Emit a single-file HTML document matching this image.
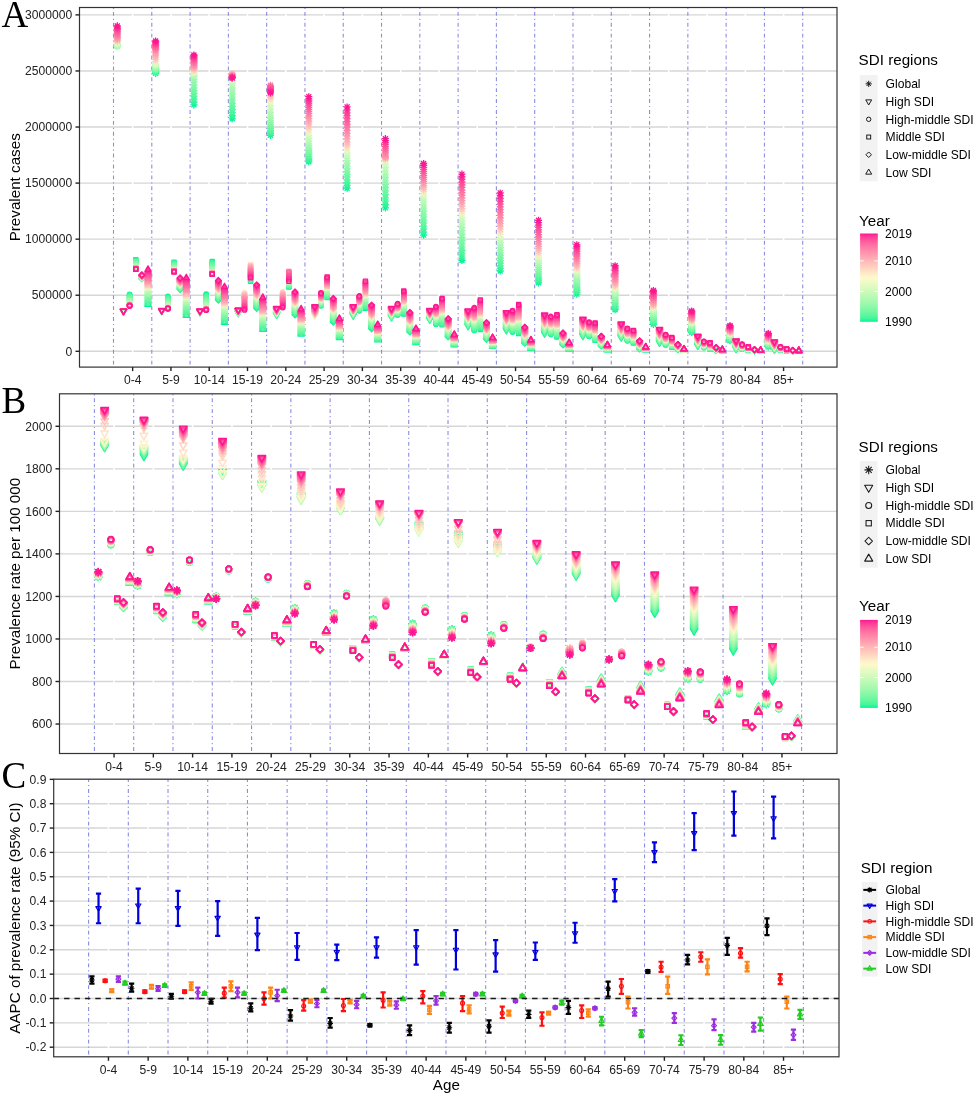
<!DOCTYPE html>
<html><head><meta charset="utf-8"><title>Figure</title><style>html,body{margin:0;padding:0;background:#fff;}svg{display:block}</style></head><body>
<svg width="975" height="1097" viewBox="0 0 975 1097">
<style>.t{font-family:"Liberation Sans",Arial,sans-serif;font-size:12.10px;fill:#222}.tt{font-family:"Liberation Sans",Arial,sans-serif;font-size:15.20px;fill:#000}.tag{font-family:"Liberation Serif","Times New Roman",serif;font-size:37px;fill:#000}.lt{font-family:"Liberation Sans",Arial,sans-serif;font-size:12.10px;fill:#000}</style>
<rect width="975" height="1097" fill="#fff"/>
<line x1="79.5" x2="837.0" y1="351.30" y2="351.30" stroke="#d6d6d6" stroke-width="1.4"/>
<line x1="79.5" x2="837.0" y1="295.23" y2="295.23" stroke="#d6d6d6" stroke-width="1.4"/>
<line x1="79.5" x2="837.0" y1="239.17" y2="239.17" stroke="#d6d6d6" stroke-width="1.4"/>
<line x1="79.5" x2="837.0" y1="183.10" y2="183.10" stroke="#d6d6d6" stroke-width="1.4"/>
<line x1="79.5" x2="837.0" y1="127.03" y2="127.03" stroke="#d6d6d6" stroke-width="1.4"/>
<line x1="79.5" x2="837.0" y1="70.97" y2="70.97" stroke="#d6d6d6" stroke-width="1.4"/>
<line x1="79.5" x2="837.0" y1="14.90" y2="14.90" stroke="#d6d6d6" stroke-width="1.4"/>
<line x1="132.65" x2="132.65" y1="7.5" y2="367.1" stroke="#fff" stroke-width="1.6"/>
<line x1="170.94" x2="170.94" y1="7.5" y2="367.1" stroke="#fff" stroke-width="1.6"/>
<line x1="209.22" x2="209.22" y1="7.5" y2="367.1" stroke="#fff" stroke-width="1.6"/>
<line x1="247.51" x2="247.51" y1="7.5" y2="367.1" stroke="#fff" stroke-width="1.6"/>
<line x1="285.81" x2="285.81" y1="7.5" y2="367.1" stroke="#fff" stroke-width="1.6"/>
<line x1="324.10" x2="324.10" y1="7.5" y2="367.1" stroke="#fff" stroke-width="1.6"/>
<line x1="362.38" x2="362.38" y1="7.5" y2="367.1" stroke="#fff" stroke-width="1.6"/>
<line x1="400.68" x2="400.68" y1="7.5" y2="367.1" stroke="#fff" stroke-width="1.6"/>
<line x1="438.96" x2="438.96" y1="7.5" y2="367.1" stroke="#fff" stroke-width="1.6"/>
<line x1="477.25" x2="477.25" y1="7.5" y2="367.1" stroke="#fff" stroke-width="1.6"/>
<line x1="515.55" x2="515.55" y1="7.5" y2="367.1" stroke="#fff" stroke-width="1.6"/>
<line x1="553.84" x2="553.84" y1="7.5" y2="367.1" stroke="#fff" stroke-width="1.6"/>
<line x1="592.12" x2="592.12" y1="7.5" y2="367.1" stroke="#fff" stroke-width="1.6"/>
<line x1="630.41" x2="630.41" y1="7.5" y2="367.1" stroke="#fff" stroke-width="1.6"/>
<line x1="668.71" x2="668.71" y1="7.5" y2="367.1" stroke="#fff" stroke-width="1.6"/>
<line x1="707.00" x2="707.00" y1="7.5" y2="367.1" stroke="#fff" stroke-width="1.6"/>
<line x1="745.28" x2="745.28" y1="7.5" y2="367.1" stroke="#fff" stroke-width="1.6"/>
<line x1="783.57" x2="783.57" y1="7.5" y2="367.1" stroke="#fff" stroke-width="1.6"/>
<line x1="113.50" x2="113.50" y1="7.5" y2="367.1" stroke="#8c8ce2" stroke-width="1.1" stroke-dasharray="3.9 2.9 1.2 2.9" stroke-dashoffset="6.5"/>
<line x1="151.79" x2="151.79" y1="7.5" y2="367.1" stroke="#8c8ce2" stroke-width="1.1" stroke-dasharray="3.9 2.9 1.2 2.9" stroke-dashoffset="6.5"/>
<line x1="190.08" x2="190.08" y1="7.5" y2="367.1" stroke="#8c8ce2" stroke-width="1.1" stroke-dasharray="3.9 2.9 1.2 2.9" stroke-dashoffset="6.5"/>
<line x1="228.37" x2="228.37" y1="7.5" y2="367.1" stroke="#8c8ce2" stroke-width="1.1" stroke-dasharray="3.9 2.9 1.2 2.9" stroke-dashoffset="6.5"/>
<line x1="266.66" x2="266.66" y1="7.5" y2="367.1" stroke="#8c8ce2" stroke-width="1.1" stroke-dasharray="3.9 2.9 1.2 2.9" stroke-dashoffset="6.5"/>
<line x1="304.95" x2="304.95" y1="7.5" y2="367.1" stroke="#8c8ce2" stroke-width="1.1" stroke-dasharray="3.9 2.9 1.2 2.9" stroke-dashoffset="6.5"/>
<line x1="343.24" x2="343.24" y1="7.5" y2="367.1" stroke="#8c8ce2" stroke-width="1.1" stroke-dasharray="3.9 2.9 1.2 2.9" stroke-dashoffset="6.5"/>
<line x1="381.53" x2="381.53" y1="7.5" y2="367.1" stroke="#8c8ce2" stroke-width="1.1" stroke-dasharray="3.9 2.9 1.2 2.9" stroke-dashoffset="6.5"/>
<line x1="419.82" x2="419.82" y1="7.5" y2="367.1" stroke="#8c8ce2" stroke-width="1.1" stroke-dasharray="3.9 2.9 1.2 2.9" stroke-dashoffset="6.5"/>
<line x1="458.11" x2="458.11" y1="7.5" y2="367.1" stroke="#8c8ce2" stroke-width="1.1" stroke-dasharray="3.9 2.9 1.2 2.9" stroke-dashoffset="6.5"/>
<line x1="496.40" x2="496.40" y1="7.5" y2="367.1" stroke="#8c8ce2" stroke-width="1.1" stroke-dasharray="3.9 2.9 1.2 2.9" stroke-dashoffset="6.5"/>
<line x1="534.69" x2="534.69" y1="7.5" y2="367.1" stroke="#8c8ce2" stroke-width="1.1" stroke-dasharray="3.9 2.9 1.2 2.9" stroke-dashoffset="6.5"/>
<line x1="572.98" x2="572.98" y1="7.5" y2="367.1" stroke="#8c8ce2" stroke-width="1.1" stroke-dasharray="3.9 2.9 1.2 2.9" stroke-dashoffset="6.5"/>
<line x1="611.27" x2="611.27" y1="7.5" y2="367.1" stroke="#8c8ce2" stroke-width="1.1" stroke-dasharray="3.9 2.9 1.2 2.9" stroke-dashoffset="6.5"/>
<line x1="649.56" x2="649.56" y1="7.5" y2="367.1" stroke="#8c8ce2" stroke-width="1.1" stroke-dasharray="3.9 2.9 1.2 2.9" stroke-dashoffset="6.5"/>
<line x1="687.85" x2="687.85" y1="7.5" y2="367.1" stroke="#8c8ce2" stroke-width="1.1" stroke-dasharray="3.9 2.9 1.2 2.9" stroke-dashoffset="6.5"/>
<line x1="726.14" x2="726.14" y1="7.5" y2="367.1" stroke="#8c8ce2" stroke-width="1.1" stroke-dasharray="3.9 2.9 1.2 2.9" stroke-dashoffset="6.5"/>
<line x1="764.43" x2="764.43" y1="7.5" y2="367.1" stroke="#8c8ce2" stroke-width="1.1" stroke-dasharray="3.9 2.9 1.2 2.9" stroke-dashoffset="6.5"/>
<line x1="802.72" x2="802.72" y1="7.5" y2="367.1" stroke="#8c8ce2" stroke-width="1.1" stroke-dasharray="3.9 2.9 1.2 2.9" stroke-dashoffset="6.5"/>
<line x1="59.5" x2="837.0" y1="724.04" y2="724.04" stroke="#d6d6d6" stroke-width="1.4"/>
<line x1="59.5" x2="837.0" y1="681.50" y2="681.50" stroke="#d6d6d6" stroke-width="1.4"/>
<line x1="59.5" x2="837.0" y1="638.97" y2="638.97" stroke="#d6d6d6" stroke-width="1.4"/>
<line x1="59.5" x2="837.0" y1="596.44" y2="596.44" stroke="#d6d6d6" stroke-width="1.4"/>
<line x1="59.5" x2="837.0" y1="553.90" y2="553.90" stroke="#d6d6d6" stroke-width="1.4"/>
<line x1="59.5" x2="837.0" y1="511.37" y2="511.37" stroke="#d6d6d6" stroke-width="1.4"/>
<line x1="59.5" x2="837.0" y1="468.83" y2="468.83" stroke="#d6d6d6" stroke-width="1.4"/>
<line x1="59.5" x2="837.0" y1="426.30" y2="426.30" stroke="#d6d6d6" stroke-width="1.4"/>
<line x1="114.05" x2="114.05" y1="393.8" y2="753.5" stroke="#fff" stroke-width="1.6"/>
<line x1="153.34" x2="153.34" y1="393.8" y2="753.5" stroke="#fff" stroke-width="1.6"/>
<line x1="192.62" x2="192.62" y1="393.8" y2="753.5" stroke="#fff" stroke-width="1.6"/>
<line x1="231.91" x2="231.91" y1="393.8" y2="753.5" stroke="#fff" stroke-width="1.6"/>
<line x1="271.21" x2="271.21" y1="393.8" y2="753.5" stroke="#fff" stroke-width="1.6"/>
<line x1="310.50" x2="310.50" y1="393.8" y2="753.5" stroke="#fff" stroke-width="1.6"/>
<line x1="349.78" x2="349.78" y1="393.8" y2="753.5" stroke="#fff" stroke-width="1.6"/>
<line x1="389.08" x2="389.08" y1="393.8" y2="753.5" stroke="#fff" stroke-width="1.6"/>
<line x1="428.37" x2="428.37" y1="393.8" y2="753.5" stroke="#fff" stroke-width="1.6"/>
<line x1="467.65" x2="467.65" y1="393.8" y2="753.5" stroke="#fff" stroke-width="1.6"/>
<line x1="506.95" x2="506.95" y1="393.8" y2="753.5" stroke="#fff" stroke-width="1.6"/>
<line x1="546.24" x2="546.24" y1="393.8" y2="753.5" stroke="#fff" stroke-width="1.6"/>
<line x1="585.52" x2="585.52" y1="393.8" y2="753.5" stroke="#fff" stroke-width="1.6"/>
<line x1="624.81" x2="624.81" y1="393.8" y2="753.5" stroke="#fff" stroke-width="1.6"/>
<line x1="664.11" x2="664.11" y1="393.8" y2="753.5" stroke="#fff" stroke-width="1.6"/>
<line x1="703.39" x2="703.39" y1="393.8" y2="753.5" stroke="#fff" stroke-width="1.6"/>
<line x1="742.68" x2="742.68" y1="393.8" y2="753.5" stroke="#fff" stroke-width="1.6"/>
<line x1="781.97" x2="781.97" y1="393.8" y2="753.5" stroke="#fff" stroke-width="1.6"/>
<line x1="94.40" x2="94.40" y1="393.8" y2="753.5" stroke="#8c8ce2" stroke-width="1.1" stroke-dasharray="3.9 2.9 1.2 2.9" stroke-dashoffset="6.4"/>
<line x1="133.69" x2="133.69" y1="393.8" y2="753.5" stroke="#8c8ce2" stroke-width="1.1" stroke-dasharray="3.9 2.9 1.2 2.9" stroke-dashoffset="6.4"/>
<line x1="172.98" x2="172.98" y1="393.8" y2="753.5" stroke="#8c8ce2" stroke-width="1.1" stroke-dasharray="3.9 2.9 1.2 2.9" stroke-dashoffset="6.4"/>
<line x1="212.27" x2="212.27" y1="393.8" y2="753.5" stroke="#8c8ce2" stroke-width="1.1" stroke-dasharray="3.9 2.9 1.2 2.9" stroke-dashoffset="6.4"/>
<line x1="251.56" x2="251.56" y1="393.8" y2="753.5" stroke="#8c8ce2" stroke-width="1.1" stroke-dasharray="3.9 2.9 1.2 2.9" stroke-dashoffset="6.4"/>
<line x1="290.85" x2="290.85" y1="393.8" y2="753.5" stroke="#8c8ce2" stroke-width="1.1" stroke-dasharray="3.9 2.9 1.2 2.9" stroke-dashoffset="6.4"/>
<line x1="330.14" x2="330.14" y1="393.8" y2="753.5" stroke="#8c8ce2" stroke-width="1.1" stroke-dasharray="3.9 2.9 1.2 2.9" stroke-dashoffset="6.4"/>
<line x1="369.43" x2="369.43" y1="393.8" y2="753.5" stroke="#8c8ce2" stroke-width="1.1" stroke-dasharray="3.9 2.9 1.2 2.9" stroke-dashoffset="6.4"/>
<line x1="408.72" x2="408.72" y1="393.8" y2="753.5" stroke="#8c8ce2" stroke-width="1.1" stroke-dasharray="3.9 2.9 1.2 2.9" stroke-dashoffset="6.4"/>
<line x1="448.01" x2="448.01" y1="393.8" y2="753.5" stroke="#8c8ce2" stroke-width="1.1" stroke-dasharray="3.9 2.9 1.2 2.9" stroke-dashoffset="6.4"/>
<line x1="487.30" x2="487.30" y1="393.8" y2="753.5" stroke="#8c8ce2" stroke-width="1.1" stroke-dasharray="3.9 2.9 1.2 2.9" stroke-dashoffset="6.4"/>
<line x1="526.59" x2="526.59" y1="393.8" y2="753.5" stroke="#8c8ce2" stroke-width="1.1" stroke-dasharray="3.9 2.9 1.2 2.9" stroke-dashoffset="6.4"/>
<line x1="565.88" x2="565.88" y1="393.8" y2="753.5" stroke="#8c8ce2" stroke-width="1.1" stroke-dasharray="3.9 2.9 1.2 2.9" stroke-dashoffset="6.4"/>
<line x1="605.17" x2="605.17" y1="393.8" y2="753.5" stroke="#8c8ce2" stroke-width="1.1" stroke-dasharray="3.9 2.9 1.2 2.9" stroke-dashoffset="6.4"/>
<line x1="644.46" x2="644.46" y1="393.8" y2="753.5" stroke="#8c8ce2" stroke-width="1.1" stroke-dasharray="3.9 2.9 1.2 2.9" stroke-dashoffset="6.4"/>
<line x1="683.75" x2="683.75" y1="393.8" y2="753.5" stroke="#8c8ce2" stroke-width="1.1" stroke-dasharray="3.9 2.9 1.2 2.9" stroke-dashoffset="6.4"/>
<line x1="723.04" x2="723.04" y1="393.8" y2="753.5" stroke="#8c8ce2" stroke-width="1.1" stroke-dasharray="3.9 2.9 1.2 2.9" stroke-dashoffset="6.4"/>
<line x1="762.33" x2="762.33" y1="393.8" y2="753.5" stroke="#8c8ce2" stroke-width="1.1" stroke-dasharray="3.9 2.9 1.2 2.9" stroke-dashoffset="6.4"/>
<line x1="801.62" x2="801.62" y1="393.8" y2="753.5" stroke="#8c8ce2" stroke-width="1.1" stroke-dasharray="3.9 2.9 1.2 2.9" stroke-dashoffset="6.4"/>
<line x1="53.7" x2="839.0" y1="1047.20" y2="1047.20" stroke="#d6d6d6" stroke-width="1.4"/>
<line x1="53.7" x2="839.0" y1="1022.85" y2="1022.85" stroke="#d6d6d6" stroke-width="1.4"/>
<line x1="53.7" x2="839.0" y1="998.50" y2="998.50" stroke="#d6d6d6" stroke-width="1.4"/>
<line x1="53.7" x2="839.0" y1="974.15" y2="974.15" stroke="#d6d6d6" stroke-width="1.4"/>
<line x1="53.7" x2="839.0" y1="949.80" y2="949.80" stroke="#d6d6d6" stroke-width="1.4"/>
<line x1="53.7" x2="839.0" y1="925.45" y2="925.45" stroke="#d6d6d6" stroke-width="1.4"/>
<line x1="53.7" x2="839.0" y1="901.10" y2="901.10" stroke="#d6d6d6" stroke-width="1.4"/>
<line x1="53.7" x2="839.0" y1="876.75" y2="876.75" stroke="#d6d6d6" stroke-width="1.4"/>
<line x1="53.7" x2="839.0" y1="852.40" y2="852.40" stroke="#d6d6d6" stroke-width="1.4"/>
<line x1="53.7" x2="839.0" y1="828.05" y2="828.05" stroke="#d6d6d6" stroke-width="1.4"/>
<line x1="53.7" x2="839.0" y1="803.70" y2="803.70" stroke="#d6d6d6" stroke-width="1.4"/>
<line x1="53.7" x2="839.0" y1="779.35" y2="779.35" stroke="#d6d6d6" stroke-width="1.4"/>
<line x1="108.45" x2="108.45" y1="779.2" y2="1056.8" stroke="#fff" stroke-width="1.6"/>
<line x1="148.16" x2="148.16" y1="779.2" y2="1056.8" stroke="#fff" stroke-width="1.6"/>
<line x1="187.88" x2="187.88" y1="779.2" y2="1056.8" stroke="#fff" stroke-width="1.6"/>
<line x1="227.59" x2="227.59" y1="779.2" y2="1056.8" stroke="#fff" stroke-width="1.6"/>
<line x1="267.29" x2="267.29" y1="779.2" y2="1056.8" stroke="#fff" stroke-width="1.6"/>
<line x1="307.00" x2="307.00" y1="779.2" y2="1056.8" stroke="#fff" stroke-width="1.6"/>
<line x1="346.72" x2="346.72" y1="779.2" y2="1056.8" stroke="#fff" stroke-width="1.6"/>
<line x1="386.42" x2="386.42" y1="779.2" y2="1056.8" stroke="#fff" stroke-width="1.6"/>
<line x1="426.13" x2="426.13" y1="779.2" y2="1056.8" stroke="#fff" stroke-width="1.6"/>
<line x1="465.85" x2="465.85" y1="779.2" y2="1056.8" stroke="#fff" stroke-width="1.6"/>
<line x1="505.55" x2="505.55" y1="779.2" y2="1056.8" stroke="#fff" stroke-width="1.6"/>
<line x1="545.26" x2="545.26" y1="779.2" y2="1056.8" stroke="#fff" stroke-width="1.6"/>
<line x1="584.98" x2="584.98" y1="779.2" y2="1056.8" stroke="#fff" stroke-width="1.6"/>
<line x1="624.69" x2="624.69" y1="779.2" y2="1056.8" stroke="#fff" stroke-width="1.6"/>
<line x1="664.39" x2="664.39" y1="779.2" y2="1056.8" stroke="#fff" stroke-width="1.6"/>
<line x1="704.11" x2="704.11" y1="779.2" y2="1056.8" stroke="#fff" stroke-width="1.6"/>
<line x1="743.82" x2="743.82" y1="779.2" y2="1056.8" stroke="#fff" stroke-width="1.6"/>
<line x1="783.53" x2="783.53" y1="779.2" y2="1056.8" stroke="#fff" stroke-width="1.6"/>
<line x1="88.60" x2="88.60" y1="779.2" y2="1056.8" stroke="#8c8ce2" stroke-width="1.1" stroke-dasharray="3.9 2.9 1.2 2.9" stroke-dashoffset="1.1"/>
<line x1="128.31" x2="128.31" y1="779.2" y2="1056.8" stroke="#8c8ce2" stroke-width="1.1" stroke-dasharray="3.9 2.9 1.2 2.9" stroke-dashoffset="1.1"/>
<line x1="168.02" x2="168.02" y1="779.2" y2="1056.8" stroke="#8c8ce2" stroke-width="1.1" stroke-dasharray="3.9 2.9 1.2 2.9" stroke-dashoffset="1.1"/>
<line x1="207.73" x2="207.73" y1="779.2" y2="1056.8" stroke="#8c8ce2" stroke-width="1.1" stroke-dasharray="3.9 2.9 1.2 2.9" stroke-dashoffset="1.1"/>
<line x1="247.44" x2="247.44" y1="779.2" y2="1056.8" stroke="#8c8ce2" stroke-width="1.1" stroke-dasharray="3.9 2.9 1.2 2.9" stroke-dashoffset="1.1"/>
<line x1="287.15" x2="287.15" y1="779.2" y2="1056.8" stroke="#8c8ce2" stroke-width="1.1" stroke-dasharray="3.9 2.9 1.2 2.9" stroke-dashoffset="1.1"/>
<line x1="326.86" x2="326.86" y1="779.2" y2="1056.8" stroke="#8c8ce2" stroke-width="1.1" stroke-dasharray="3.9 2.9 1.2 2.9" stroke-dashoffset="1.1"/>
<line x1="366.57" x2="366.57" y1="779.2" y2="1056.8" stroke="#8c8ce2" stroke-width="1.1" stroke-dasharray="3.9 2.9 1.2 2.9" stroke-dashoffset="1.1"/>
<line x1="406.28" x2="406.28" y1="779.2" y2="1056.8" stroke="#8c8ce2" stroke-width="1.1" stroke-dasharray="3.9 2.9 1.2 2.9" stroke-dashoffset="1.1"/>
<line x1="445.99" x2="445.99" y1="779.2" y2="1056.8" stroke="#8c8ce2" stroke-width="1.1" stroke-dasharray="3.9 2.9 1.2 2.9" stroke-dashoffset="1.1"/>
<line x1="485.70" x2="485.70" y1="779.2" y2="1056.8" stroke="#8c8ce2" stroke-width="1.1" stroke-dasharray="3.9 2.9 1.2 2.9" stroke-dashoffset="1.1"/>
<line x1="525.41" x2="525.41" y1="779.2" y2="1056.8" stroke="#8c8ce2" stroke-width="1.1" stroke-dasharray="3.9 2.9 1.2 2.9" stroke-dashoffset="1.1"/>
<line x1="565.12" x2="565.12" y1="779.2" y2="1056.8" stroke="#8c8ce2" stroke-width="1.1" stroke-dasharray="3.9 2.9 1.2 2.9" stroke-dashoffset="1.1"/>
<line x1="604.83" x2="604.83" y1="779.2" y2="1056.8" stroke="#8c8ce2" stroke-width="1.1" stroke-dasharray="3.9 2.9 1.2 2.9" stroke-dashoffset="1.1"/>
<line x1="644.54" x2="644.54" y1="779.2" y2="1056.8" stroke="#8c8ce2" stroke-width="1.1" stroke-dasharray="3.9 2.9 1.2 2.9" stroke-dashoffset="1.1"/>
<line x1="684.25" x2="684.25" y1="779.2" y2="1056.8" stroke="#8c8ce2" stroke-width="1.1" stroke-dasharray="3.9 2.9 1.2 2.9" stroke-dashoffset="1.1"/>
<line x1="723.96" x2="723.96" y1="779.2" y2="1056.8" stroke="#8c8ce2" stroke-width="1.1" stroke-dasharray="3.9 2.9 1.2 2.9" stroke-dashoffset="1.1"/>
<line x1="763.67" x2="763.67" y1="779.2" y2="1056.8" stroke="#8c8ce2" stroke-width="1.1" stroke-dasharray="3.9 2.9 1.2 2.9" stroke-dashoffset="1.1"/>
<line x1="803.38" x2="803.38" y1="779.2" y2="1056.8" stroke="#8c8ce2" stroke-width="1.1" stroke-dasharray="3.9 2.9 1.2 2.9" stroke-dashoffset="1.1"/>
<g fill="none" stroke="#00f596" stroke-width="1.3" stroke-linejoin="round">
<path d="M114.8 41.5l5 5m0 -5l-5 5M113.8 44.1h7.1M117.3 40.5v7.1M153.1 70.9l5 5m0 -5l-5 5M152.1 73.5h7.1M155.6 69.9v7.1M191.4 102.3l5 5m0 -5l-5 5M190.4 104.8h7.1M193.9 101.3v7.1M229.7 116.2l5 5m0 -5l-5 5M228.7 118.8h7.1M232.2 115.2v7.1M268 132.8l5 5m0 -5l-5 5M266.9 135.3h7.1M270.5 131.8v7.1M306.3 159.3l5 5m0 -5l-5 5M305.2 161.8h7.1M308.8 158.3v7.1M344.6 185.7l5 5m0 -5l-5 5M343.5 188.2h7.1M347.1 184.6v7.1M382.9 205.4l5 5m0 -5l-5 5M381.8 207.9h7.1M385.4 204.4v7.1M421.1 232.6l5 5m0 -5l-5 5M420.1 235.1h7.1M423.6 231.6v7.1M459.4 258l5 5m0 -5l-5 5M458.4 260.5h7.1M461.9 256.9v7.1M497.7 268.5l5 5m0 -5l-5 5M496.7 271h7.1M500.2 267.5v7.1M536 280.3l5 5m0 -5l-5 5M535 282.8h7.1M538.5 279.3v7.1M574.3 291.6l5 5m0 -5l-5 5M573.3 294.1h7.1M576.8 290.6v7.1M612.6 307.2l5 5m0 -5l-5 5M611.6 309.7h7.1M615.1 306.2v7.1M650.9 321.9l5 5m0 -5l-5 5M649.8 324.4h7.1M653.4 320.9v7.1M689.2 330.1l5 5m0 -5l-5 5M688.1 332.6h7.1M691.7 329v7.1M727.5 338.3l5 5m0 -5l-5 5M726.4 340.8h7.1M730 337.2v7.1M765.8 344.4l5 5m0 -5l-5 5M764.7 346.9h7.1M768.3 343.4v7.1"/>
<path d="M123.5 315.1l3.1 -5.4h-6.2zM161.7 314.5l3.1 -5.4h-6.2zM200 315.6l3.1 -5.4h-6.2zM238.3 316.8l3.1 -5.4h-6.2zM276.6 318.4l3.1 -5.4h-6.2zM314.9 316.8l3.1 -5.4h-6.2zM353.2 319.2l3.1 -5.4h-6.2zM391.5 320.9l3.1 -5.4h-6.2zM429.8 323.3l3.1 -5.4h-6.2zM468.1 329.9l3.1 -5.4h-6.2zM506.4 334l3.1 -5.4h-6.2zM544.6 337.3l3.1 -5.4h-6.2zM582.9 339.7l3.1 -5.4h-6.2zM621.2 341.3l3.1 -5.4h-6.2zM659.5 346.4l3.1 -5.4h-6.2zM697.8 349.5l3.1 -5.4h-6.2zM736.1 352.6l3.1 -5.4h-6.2zM774.4 353.5l3.1 -5.4h-6.2z"/>
<path d="M127.3 294.4a2.3 2.3 0 1 0 4.6 0a2.3 2.3 0 1 0 -4.6 0M165.6 296.4a2.3 2.3 0 1 0 4.6 0a2.3 2.3 0 1 0 -4.6 0M203.9 294.3a2.3 2.3 0 1 0 4.6 0a2.3 2.3 0 1 0 -4.6 0M242.2 297.5a2.3 2.3 0 1 0 4.6 0a2.3 2.3 0 1 0 -4.6 0M280.4 302a2.3 2.3 0 1 0 4.6 0a2.3 2.3 0 1 0 -4.6 0M318.7 305.8a2.3 2.3 0 1 0 4.6 0a2.3 2.3 0 1 0 -4.6 0M357 310.7a2.3 2.3 0 1 0 4.6 0a2.3 2.3 0 1 0 -4.6 0M395.3 314.9a2.3 2.3 0 1 0 4.6 0a2.3 2.3 0 1 0 -4.6 0M433.6 324.2a2.3 2.3 0 1 0 4.6 0a2.3 2.3 0 1 0 -4.6 0M471.9 330.4a2.3 2.3 0 1 0 4.6 0a2.3 2.3 0 1 0 -4.6 0M510.2 332a2.3 2.3 0 1 0 4.6 0a2.3 2.3 0 1 0 -4.6 0M548.5 334.5a2.3 2.3 0 1 0 4.6 0a2.3 2.3 0 1 0 -4.6 0M586.8 336.2a2.3 2.3 0 1 0 4.6 0a2.3 2.3 0 1 0 -4.6 0M625.1 340.8a2.3 2.3 0 1 0 4.6 0a2.3 2.3 0 1 0 -4.6 0M663.3 344.9a2.3 2.3 0 1 0 4.6 0a2.3 2.3 0 1 0 -4.6 0M701.6 347.5a2.3 2.3 0 1 0 4.6 0a2.3 2.3 0 1 0 -4.6 0M739.9 349.1a2.3 2.3 0 1 0 4.6 0a2.3 2.3 0 1 0 -4.6 0M778.2 350.2a2.3 2.3 0 1 0 4.6 0a2.3 2.3 0 1 0 -4.6 0"/>
<path d="M133.7 257.6h4.1v4.1h-4.1zM172 260.2h4.1v4.1h-4.1zM210.2 259.5h4.1v4.1h-4.1zM248.5 279.2h4.1v4.1h-4.1zM286.8 284.9h4.1v4.1h-4.1zM325.1 295.5h4.1v4.1h-4.1zM363.4 306.2h4.1v4.1h-4.1zM401.7 312h4.1v4.1h-4.1zM440 322.7h4.1v4.1h-4.1zM478.3 327.6h4.1v4.1h-4.1zM516.6 331.6h4.1v4.1h-4.1zM554.9 335h4.1v4.1h-4.1zM593.1 338.3h4.1v4.1h-4.1zM631.4 340.9h4.1v4.1h-4.1zM669.7 345.2h4.1v4.1h-4.1zM708 347.2h4.1v4.1h-4.1zM746.3 348.4h4.1v4.1h-4.1zM784.6 348.7h4.1v4.1h-4.1z"/>
<path d="M139 278.7l2.9 -2.9 2.9 2.9 -2.9 2.9zM177.2 289.4l2.9 -2.9 2.9 2.9 -2.9 2.9zM215.5 300.1l2.9 -2.9 2.9 2.9 -2.9 2.9zM253.8 308.4l2.9 -2.9 2.9 2.9 -2.9 2.9zM292.1 314.9l2.9 -2.9 2.9 2.9 -2.9 2.9zM330.4 322.1l2.9 -2.9 2.9 2.9 -2.9 2.9zM368.7 328.8l2.9 -2.9 2.9 2.9 -2.9 2.9zM407 332l2.9 -2.9 2.9 2.9 -2.9 2.9zM445.3 336.9l2.9 -2.9 2.9 2.9 -2.9 2.9zM483.6 339.4l2.9 -2.9 2.9 2.9 -2.9 2.9zM521.9 343.2l2.9 -2.9 2.9 2.9 -2.9 2.9zM560.1 344.8l2.9 -2.9 2.9 2.9 -2.9 2.9zM598.4 346l2.9 -2.9 2.9 2.9 -2.9 2.9zM636.7 348.9l2.9 -2.9 2.9 2.9 -2.9 2.9zM675 349.6l2.9 -2.9 2.9 2.9 -2.9 2.9zM713.3 350.4l2.9 -2.9 2.9 2.9 -2.9 2.9zM751.6 350.9l2.9 -2.9 2.9 2.9 -2.9 2.9zM789.9 351.1l2.9 -2.9 2.9 2.9 -2.9 2.9z"/>
<path d="M148 301l3.1 5.4h-6.2zM186.3 312l3.1 5.4h-6.2zM224.5 319.3l3.1 5.4h-6.2zM262.8 325.9l3.1 5.4h-6.2zM301.1 330.7l3.1 5.4h-6.2zM339.4 334.1l3.1 5.4h-6.2zM377.7 336.5l3.1 5.4h-6.2zM416 339.3l3.1 5.4h-6.2zM454.3 341.5l3.1 5.4h-6.2zM492.6 343l3.1 5.4h-6.2zM530.9 344.9l3.1 5.4h-6.2zM569.2 345.7l3.1 5.4h-6.2zM607.4 346.5l3.1 5.4h-6.2zM645.7 346.4l3.1 5.4h-6.2zM684 346.8l3.1 5.4h-6.2zM722.3 347.2l3.1 5.4h-6.2zM760.6 347.4l3.1 5.4h-6.2zM798.9 347.5l3.1 5.4h-6.2z"/>
</g>
<g fill="none" stroke="#2df598" stroke-width="1.3" stroke-linejoin="round">
<path d="M114.8 41.8l5 5m0 -5l-5 5M113.8 44.3h7.1M117.3 40.8v7.1M153.1 70.3l5 5m0 -5l-5 5M152.1 72.8h7.1M155.6 69.2v7.1M191.4 99.5l5 5m0 -5l-5 5M190.4 102h7.1M193.9 98.5v7.1M229.7 113.2l5 5m0 -5l-5 5M228.7 115.7h7.1M232.2 112.1v7.1M268 131.2l5 5m0 -5l-5 5M266.9 133.7h7.1M270.5 130.1v7.1M306.3 157.5l5 5m0 -5l-5 5M305.2 160h7.1M308.8 156.5v7.1M344.6 182.9l5 5m0 -5l-5 5M343.5 185.4h7.1M347.1 181.9v7.1M382.9 202l5 5m0 -5l-5 5M381.8 204.5h7.1M385.4 201v7.1M421.1 229.6l5 5m0 -5l-5 5M420.1 232.2h7.1M423.6 228.6v7.1M459.4 254.7l5 5m0 -5l-5 5M458.4 257.2h7.1M461.9 253.6v7.1M497.7 265.9l5 5m0 -5l-5 5M496.7 268.4h7.1M500.2 264.9v7.1M536 278.4l5 5m0 -5l-5 5M535 280.9h7.1M538.5 277.3v7.1M574.3 289.9l5 5m0 -5l-5 5M573.3 292.4h7.1M576.8 288.9v7.1M612.6 305.7l5 5m0 -5l-5 5M611.6 308.2h7.1M615.1 304.7v7.1M650.9 320.7l5 5m0 -5l-5 5M649.8 323.2h7.1M653.4 319.7v7.1M689.2 329.3l5 5m0 -5l-5 5M688.1 331.8h7.1M691.7 328.3v7.1M727.5 337.8l5 5m0 -5l-5 5M726.4 340.3h7.1M730 336.7v7.1M765.8 344l5 5m0 -5l-5 5M764.7 346.5h7.1M768.3 342.9v7.1"/>
<path d="M123.5 315.1l3.1 -5.4h-6.2zM161.7 314.5l3.1 -5.4h-6.2zM200 315.6l3.1 -5.4h-6.2zM238.3 316.6l3.1 -5.4h-6.2zM276.6 318.2l3.1 -5.4h-6.2zM314.9 316.9l3.1 -5.4h-6.2zM353.2 318.9l3.1 -5.4h-6.2zM391.5 320.6l3.1 -5.4h-6.2zM429.8 322.9l3.1 -5.4h-6.2zM468.1 329.3l3.1 -5.4h-6.2zM506.4 333.4l3.1 -5.4h-6.2zM544.6 336.6l3.1 -5.4h-6.2zM582.9 339.1l3.1 -5.4h-6.2zM621.2 340.8l3.1 -5.4h-6.2zM659.5 345.9l3.1 -5.4h-6.2zM697.8 349.2l3.1 -5.4h-6.2zM736.1 352.3l3.1 -5.4h-6.2zM774.4 353.2l3.1 -5.4h-6.2z"/>
<path d="M127.3 295.2a2.3 2.3 0 1 0 4.6 0a2.3 2.3 0 1 0 -4.6 0M165.6 297.2a2.3 2.3 0 1 0 4.6 0a2.3 2.3 0 1 0 -4.6 0M203.9 295.4a2.3 2.3 0 1 0 4.6 0a2.3 2.3 0 1 0 -4.6 0M242.2 297.2a2.3 2.3 0 1 0 4.6 0a2.3 2.3 0 1 0 -4.6 0M280.4 301.3a2.3 2.3 0 1 0 4.6 0a2.3 2.3 0 1 0 -4.6 0M318.7 305.3a2.3 2.3 0 1 0 4.6 0a2.3 2.3 0 1 0 -4.6 0M357 310.2a2.3 2.3 0 1 0 4.6 0a2.3 2.3 0 1 0 -4.6 0M395.3 314.5a2.3 2.3 0 1 0 4.6 0a2.3 2.3 0 1 0 -4.6 0M433.6 323.6a2.3 2.3 0 1 0 4.6 0a2.3 2.3 0 1 0 -4.6 0M471.9 329.7a2.3 2.3 0 1 0 4.6 0a2.3 2.3 0 1 0 -4.6 0M510.2 331.3a2.3 2.3 0 1 0 4.6 0a2.3 2.3 0 1 0 -4.6 0M548.5 333.9a2.3 2.3 0 1 0 4.6 0a2.3 2.3 0 1 0 -4.6 0M586.8 335.7a2.3 2.3 0 1 0 4.6 0a2.3 2.3 0 1 0 -4.6 0M625.1 340.3a2.3 2.3 0 1 0 4.6 0a2.3 2.3 0 1 0 -4.6 0M663.3 344.6a2.3 2.3 0 1 0 4.6 0a2.3 2.3 0 1 0 -4.6 0M701.6 347.3a2.3 2.3 0 1 0 4.6 0a2.3 2.3 0 1 0 -4.6 0M739.9 348.9a2.3 2.3 0 1 0 4.6 0a2.3 2.3 0 1 0 -4.6 0M778.2 350.1a2.3 2.3 0 1 0 4.6 0a2.3 2.3 0 1 0 -4.6 0"/>
<path d="M133.7 258.3h4.1v4.1h-4.1zM172 260.9h4.1v4.1h-4.1zM210.2 260.4h4.1v4.1h-4.1zM248.5 278.1h4.1v4.1h-4.1zM286.8 284.4h4.1v4.1h-4.1zM325.1 294.8h4.1v4.1h-4.1zM363.4 305.3h4.1v4.1h-4.1zM401.7 311.2h4.1v4.1h-4.1zM440 321.8h4.1v4.1h-4.1zM478.3 326.6h4.1v4.1h-4.1zM516.6 330.6h4.1v4.1h-4.1zM554.9 334.2h4.1v4.1h-4.1zM593.1 337.7h4.1v4.1h-4.1zM631.4 340.5h4.1v4.1h-4.1zM669.7 344.9h4.1v4.1h-4.1zM708 347h4.1v4.1h-4.1zM746.3 348.2h4.1v4.1h-4.1zM784.6 348.6h4.1v4.1h-4.1z"/>
<path d="M139 278.6l2.9 -2.9 2.9 2.9 -2.9 2.9zM177.2 289l2.9 -2.9 2.9 2.9 -2.9 2.9zM215.5 299.4l2.9 -2.9 2.9 2.9 -2.9 2.9zM253.8 307.5l2.9 -2.9 2.9 2.9 -2.9 2.9zM292.1 314.1l2.9 -2.9 2.9 2.9 -2.9 2.9zM330.4 321.3l2.9 -2.9 2.9 2.9 -2.9 2.9zM368.7 327.9l2.9 -2.9 2.9 2.9 -2.9 2.9zM407 331.3l2.9 -2.9 2.9 2.9 -2.9 2.9zM445.3 336.3l2.9 -2.9 2.9 2.9 -2.9 2.9zM483.6 338.8l2.9 -2.9 2.9 2.9 -2.9 2.9zM521.9 342.7l2.9 -2.9 2.9 2.9 -2.9 2.9zM560.1 344.4l2.9 -2.9 2.9 2.9 -2.9 2.9zM598.4 345.7l2.9 -2.9 2.9 2.9 -2.9 2.9zM636.7 348.7l2.9 -2.9 2.9 2.9 -2.9 2.9zM675 349.4l2.9 -2.9 2.9 2.9 -2.9 2.9zM713.3 350.3l2.9 -2.9 2.9 2.9 -2.9 2.9zM751.6 350.8l2.9 -2.9 2.9 2.9 -2.9 2.9zM789.9 351.1l2.9 -2.9 2.9 2.9 -2.9 2.9z"/>
<path d="M148 299.8l3.1 5.4h-6.2zM186.3 310.7l3.1 5.4h-6.2zM224.5 318l3.1 5.4h-6.2zM262.8 324.8l3.1 5.4h-6.2zM301.1 329.8l3.1 5.4h-6.2zM339.4 333.4l3.1 5.4h-6.2zM377.7 336l3.1 5.4h-6.2zM416 338.8l3.1 5.4h-6.2zM454.3 341.1l3.1 5.4h-6.2zM492.6 342.7l3.1 5.4h-6.2zM530.9 344.6l3.1 5.4h-6.2zM569.2 345.5l3.1 5.4h-6.2zM607.4 346.3l3.1 5.4h-6.2zM645.7 346.3l3.1 5.4h-6.2zM684 346.8l3.1 5.4h-6.2zM722.3 347.1l3.1 5.4h-6.2zM760.6 347.4l3.1 5.4h-6.2zM798.9 347.5l3.1 5.4h-6.2z"/>
</g>
<g fill="none" stroke="#42f69a" stroke-width="1.3" stroke-linejoin="round">
<path d="M114.8 42l5 5m0 -5l-5 5M113.8 44.6h7.1M117.3 41v7.1M153.1 69.6l5 5m0 -5l-5 5M152.1 72.1h7.1M155.6 68.6v7.1M191.4 96.7l5 5m0 -5l-5 5M190.4 99.2h7.1M193.9 95.6v7.1M229.7 110.1l5 5m0 -5l-5 5M228.7 112.6h7.1M232.2 109v7.1M268 129.5l5 5m0 -5l-5 5M266.9 132h7.1M270.5 128.5v7.1M306.3 155.7l5 5m0 -5l-5 5M305.2 158.2h7.1M308.8 154.7v7.1M344.6 180.2l5 5m0 -5l-5 5M343.5 182.7h7.1M347.1 179.1v7.1M382.9 198.6l5 5m0 -5l-5 5M381.8 201.2h7.1M385.4 197.6v7.1M421.1 226.6l5 5m0 -5l-5 5M420.1 229.2h7.1M423.6 225.6v7.1M459.4 251.3l5 5m0 -5l-5 5M458.4 253.9h7.1M461.9 250.3v7.1M497.7 263.3l5 5m0 -5l-5 5M496.7 265.8h7.1M500.2 262.3v7.1M536 276.5l5 5m0 -5l-5 5M535 279h7.1M538.5 275.4v7.1M574.3 288.2l5 5m0 -5l-5 5M573.3 290.7h7.1M576.8 287.2v7.1M612.6 304.2l5 5m0 -5l-5 5M611.6 306.7h7.1M615.1 303.1v7.1M650.9 319.6l5 5m0 -5l-5 5M649.8 322.1h7.1M653.4 318.5v7.1M689.2 328.6l5 5m0 -5l-5 5M688.1 331.1h7.1M691.7 327.6v7.1M727.5 337.2l5 5m0 -5l-5 5M726.4 339.7h7.1M730 336.2v7.1M765.8 343.5l5 5m0 -5l-5 5M764.7 346h7.1M768.3 342.5v7.1"/>
<path d="M123.5 315l3.1 -5.4h-6.2zM161.7 314.5l3.1 -5.4h-6.2zM200 315.6l3.1 -5.4h-6.2zM238.3 316.5l3.1 -5.4h-6.2zM276.6 318l3.1 -5.4h-6.2zM314.9 317.1l3.1 -5.4h-6.2zM353.2 318.6l3.1 -5.4h-6.2zM391.5 320.3l3.1 -5.4h-6.2zM429.8 322.6l3.1 -5.4h-6.2zM468.1 328.8l3.1 -5.4h-6.2zM506.4 332.8l3.1 -5.4h-6.2zM544.6 336l3.1 -5.4h-6.2zM582.9 338.5l3.1 -5.4h-6.2zM621.2 340.3l3.1 -5.4h-6.2zM659.5 345.4l3.1 -5.4h-6.2zM697.8 348.8l3.1 -5.4h-6.2zM736.1 352.1l3.1 -5.4h-6.2zM774.4 353l3.1 -5.4h-6.2z"/>
<path d="M127.3 295.9a2.3 2.3 0 1 0 4.6 0a2.3 2.3 0 1 0 -4.6 0M165.6 298a2.3 2.3 0 1 0 4.6 0a2.3 2.3 0 1 0 -4.6 0M203.9 296.5a2.3 2.3 0 1 0 4.6 0a2.3 2.3 0 1 0 -4.6 0M242.2 296.9a2.3 2.3 0 1 0 4.6 0a2.3 2.3 0 1 0 -4.6 0M280.4 300.6a2.3 2.3 0 1 0 4.6 0a2.3 2.3 0 1 0 -4.6 0M318.7 304.9a2.3 2.3 0 1 0 4.6 0a2.3 2.3 0 1 0 -4.6 0M357 309.7a2.3 2.3 0 1 0 4.6 0a2.3 2.3 0 1 0 -4.6 0M395.3 314.1a2.3 2.3 0 1 0 4.6 0a2.3 2.3 0 1 0 -4.6 0M433.6 322.9a2.3 2.3 0 1 0 4.6 0a2.3 2.3 0 1 0 -4.6 0M471.9 328.9a2.3 2.3 0 1 0 4.6 0a2.3 2.3 0 1 0 -4.6 0M510.2 330.5a2.3 2.3 0 1 0 4.6 0a2.3 2.3 0 1 0 -4.6 0M548.5 333.2a2.3 2.3 0 1 0 4.6 0a2.3 2.3 0 1 0 -4.6 0M586.8 335.2a2.3 2.3 0 1 0 4.6 0a2.3 2.3 0 1 0 -4.6 0M625.1 339.9a2.3 2.3 0 1 0 4.6 0a2.3 2.3 0 1 0 -4.6 0M663.3 344.2a2.3 2.3 0 1 0 4.6 0a2.3 2.3 0 1 0 -4.6 0M701.6 347.1a2.3 2.3 0 1 0 4.6 0a2.3 2.3 0 1 0 -4.6 0M739.9 348.7a2.3 2.3 0 1 0 4.6 0a2.3 2.3 0 1 0 -4.6 0M778.2 350a2.3 2.3 0 1 0 4.6 0a2.3 2.3 0 1 0 -4.6 0"/>
<path d="M133.7 259h4.1v4.1h-4.1zM172 261.6h4.1v4.1h-4.1zM210.2 261.3h4.1v4.1h-4.1zM248.5 277h4.1v4.1h-4.1zM286.8 283.9h4.1v4.1h-4.1zM325.1 294.1h4.1v4.1h-4.1zM363.4 304.3h4.1v4.1h-4.1zM401.7 310.4h4.1v4.1h-4.1zM440 320.9h4.1v4.1h-4.1zM478.3 325.6h4.1v4.1h-4.1zM516.6 329.6h4.1v4.1h-4.1zM554.9 333.5h4.1v4.1h-4.1zM593.1 337.1h4.1v4.1h-4.1zM631.4 340.1h4.1v4.1h-4.1zM669.7 344.5h4.1v4.1h-4.1zM708 346.8h4.1v4.1h-4.1zM746.3 348.1h4.1v4.1h-4.1zM784.6 348.6h4.1v4.1h-4.1z"/>
<path d="M139 278.5l2.9 -2.9 2.9 2.9 -2.9 2.9zM177.2 288.6l2.9 -2.9 2.9 2.9 -2.9 2.9zM215.5 298.7l2.9 -2.9 2.9 2.9 -2.9 2.9zM253.8 306.7l2.9 -2.9 2.9 2.9 -2.9 2.9zM292.1 313.3l2.9 -2.9 2.9 2.9 -2.9 2.9zM330.4 320.5l2.9 -2.9 2.9 2.9 -2.9 2.9zM368.7 327.1l2.9 -2.9 2.9 2.9 -2.9 2.9zM407 330.7l2.9 -2.9 2.9 2.9 -2.9 2.9zM445.3 335.7l2.9 -2.9 2.9 2.9 -2.9 2.9zM483.6 338.2l2.9 -2.9 2.9 2.9 -2.9 2.9zM521.9 342.1l2.9 -2.9 2.9 2.9 -2.9 2.9zM560.1 344l2.9 -2.9 2.9 2.9 -2.9 2.9zM598.4 345.3l2.9 -2.9 2.9 2.9 -2.9 2.9zM636.7 348.4l2.9 -2.9 2.9 2.9 -2.9 2.9zM675 349.3l2.9 -2.9 2.9 2.9 -2.9 2.9zM713.3 350.2l2.9 -2.9 2.9 2.9 -2.9 2.9zM751.6 350.8l2.9 -2.9 2.9 2.9 -2.9 2.9zM789.9 351l2.9 -2.9 2.9 2.9 -2.9 2.9z"/>
<path d="M148 298.6l3.1 5.4h-6.2zM186.3 309.4l3.1 5.4h-6.2zM224.5 316.8l3.1 5.4h-6.2zM262.8 323.7l3.1 5.4h-6.2zM301.1 328.9l3.1 5.4h-6.2zM339.4 332.7l3.1 5.4h-6.2zM377.7 335.4l3.1 5.4h-6.2zM416 338.3l3.1 5.4h-6.2zM454.3 340.7l3.1 5.4h-6.2zM492.6 342.4l3.1 5.4h-6.2zM530.9 344.3l3.1 5.4h-6.2zM569.2 345.2l3.1 5.4h-6.2zM607.4 346.1l3.1 5.4h-6.2zM645.7 346.2l3.1 5.4h-6.2zM684 346.7l3.1 5.4h-6.2zM722.3 347.1l3.1 5.4h-6.2zM760.6 347.3l3.1 5.4h-6.2zM798.9 347.5l3.1 5.4h-6.2z"/>
</g>
<g fill="none" stroke="#52f69d" stroke-width="1.3" stroke-linejoin="round">
<path d="M114.8 42.3l5 5m0 -5l-5 5M113.8 44.8h7.1M117.3 41.3v7.1M153.1 69l5 5m0 -5l-5 5M152.1 71.5h7.1M155.6 67.9v7.1M191.4 93.9l5 5m0 -5l-5 5M190.4 96.4h7.1M193.9 92.8v7.1M229.7 107l5 5m0 -5l-5 5M228.7 109.5h7.1M232.2 105.9v7.1M268 127.9l5 5m0 -5l-5 5M266.9 130.4h7.1M270.5 126.8v7.1M306.3 153.9l5 5m0 -5l-5 5M305.2 156.4h7.1M308.8 152.9v7.1M344.6 177.4l5 5m0 -5l-5 5M343.5 179.9h7.1M347.1 176.4v7.1M382.9 195.3l5 5m0 -5l-5 5M381.8 197.8h7.1M385.4 194.2v7.1M421.1 223.7l5 5m0 -5l-5 5M420.1 226.2h7.1M423.6 222.6v7.1M459.4 248l5 5m0 -5l-5 5M458.4 250.5h7.1M461.9 247v7.1M497.7 260.7l5 5m0 -5l-5 5M496.7 263.2h7.1M500.2 259.7v7.1M536 274.6l5 5m0 -5l-5 5M535 277.1h7.1M538.5 273.5v7.1M574.3 286.5l5 5m0 -5l-5 5M573.3 289h7.1M576.8 285.5v7.1M612.6 302.7l5 5m0 -5l-5 5M611.6 305.2h7.1M615.1 301.6v7.1M650.9 318.4l5 5m0 -5l-5 5M649.8 320.9h7.1M653.4 317.4v7.1M689.2 327.9l5 5m0 -5l-5 5M688.1 330.4h7.1M691.7 326.8v7.1M727.5 336.7l5 5m0 -5l-5 5M726.4 339.2h7.1M730 335.7v7.1M765.8 343l5 5m0 -5l-5 5M764.7 345.5h7.1M768.3 342v7.1"/>
<path d="M123.5 315l3.1 -5.4h-6.2zM161.7 314.5l3.1 -5.4h-6.2zM200 315.5l3.1 -5.4h-6.2zM238.3 316.4l3.1 -5.4h-6.2zM276.6 317.8l3.1 -5.4h-6.2zM314.9 317.3l3.1 -5.4h-6.2zM353.2 318.3l3.1 -5.4h-6.2zM391.5 320l3.1 -5.4h-6.2zM429.8 322.3l3.1 -5.4h-6.2zM468.1 328.3l3.1 -5.4h-6.2zM506.4 332.2l3.1 -5.4h-6.2zM544.6 335.3l3.1 -5.4h-6.2zM582.9 338l3.1 -5.4h-6.2zM621.2 339.9l3.1 -5.4h-6.2zM659.5 344.9l3.1 -5.4h-6.2zM697.8 348.5l3.1 -5.4h-6.2zM736.1 351.8l3.1 -5.4h-6.2zM774.4 352.7l3.1 -5.4h-6.2z"/>
<path d="M127.3 296.7a2.3 2.3 0 1 0 4.6 0a2.3 2.3 0 1 0 -4.6 0M165.6 298.9a2.3 2.3 0 1 0 4.6 0a2.3 2.3 0 1 0 -4.6 0M203.9 297.5a2.3 2.3 0 1 0 4.6 0a2.3 2.3 0 1 0 -4.6 0M242.2 296.6a2.3 2.3 0 1 0 4.6 0a2.3 2.3 0 1 0 -4.6 0M280.4 299.9a2.3 2.3 0 1 0 4.6 0a2.3 2.3 0 1 0 -4.6 0M318.7 304.5a2.3 2.3 0 1 0 4.6 0a2.3 2.3 0 1 0 -4.6 0M357 309.2a2.3 2.3 0 1 0 4.6 0a2.3 2.3 0 1 0 -4.6 0M395.3 313.7a2.3 2.3 0 1 0 4.6 0a2.3 2.3 0 1 0 -4.6 0M433.6 322.3a2.3 2.3 0 1 0 4.6 0a2.3 2.3 0 1 0 -4.6 0M471.9 328.1a2.3 2.3 0 1 0 4.6 0a2.3 2.3 0 1 0 -4.6 0M510.2 329.8a2.3 2.3 0 1 0 4.6 0a2.3 2.3 0 1 0 -4.6 0M548.5 332.6a2.3 2.3 0 1 0 4.6 0a2.3 2.3 0 1 0 -4.6 0M586.8 334.7a2.3 2.3 0 1 0 4.6 0a2.3 2.3 0 1 0 -4.6 0M625.1 339.5a2.3 2.3 0 1 0 4.6 0a2.3 2.3 0 1 0 -4.6 0M663.3 343.8a2.3 2.3 0 1 0 4.6 0a2.3 2.3 0 1 0 -4.6 0M701.6 346.9a2.3 2.3 0 1 0 4.6 0a2.3 2.3 0 1 0 -4.6 0M739.9 348.6a2.3 2.3 0 1 0 4.6 0a2.3 2.3 0 1 0 -4.6 0M778.2 349.8a2.3 2.3 0 1 0 4.6 0a2.3 2.3 0 1 0 -4.6 0"/>
<path d="M133.7 259.7h4.1v4.1h-4.1zM172 262.2h4.1v4.1h-4.1zM210.2 262.3h4.1v4.1h-4.1zM248.5 275.9h4.1v4.1h-4.1zM286.8 283.4h4.1v4.1h-4.1zM325.1 293.4h4.1v4.1h-4.1zM363.4 303.4h4.1v4.1h-4.1zM401.7 309.6h4.1v4.1h-4.1zM440 319.9h4.1v4.1h-4.1zM478.3 324.5h4.1v4.1h-4.1zM516.6 328.6h4.1v4.1h-4.1zM554.9 332.7h4.1v4.1h-4.1zM593.1 336.5h4.1v4.1h-4.1zM631.4 339.6h4.1v4.1h-4.1zM669.7 344.2h4.1v4.1h-4.1zM708 346.6h4.1v4.1h-4.1zM746.3 348h4.1v4.1h-4.1zM784.6 348.5h4.1v4.1h-4.1z"/>
<path d="M139 278.4l2.9 -2.9 2.9 2.9 -2.9 2.9zM177.2 288.2l2.9 -2.9 2.9 2.9 -2.9 2.9zM215.5 298l2.9 -2.9 2.9 2.9 -2.9 2.9zM253.8 305.9l2.9 -2.9 2.9 2.9 -2.9 2.9zM292.1 312.5l2.9 -2.9 2.9 2.9 -2.9 2.9zM330.4 319.7l2.9 -2.9 2.9 2.9 -2.9 2.9zM368.7 326.3l2.9 -2.9 2.9 2.9 -2.9 2.9zM407 330l2.9 -2.9 2.9 2.9 -2.9 2.9zM445.3 335l2.9 -2.9 2.9 2.9 -2.9 2.9zM483.6 337.7l2.9 -2.9 2.9 2.9 -2.9 2.9zM521.9 341.6l2.9 -2.9 2.9 2.9 -2.9 2.9zM560.1 343.6l2.9 -2.9 2.9 2.9 -2.9 2.9zM598.4 345l2.9 -2.9 2.9 2.9 -2.9 2.9zM636.7 348.1l2.9 -2.9 2.9 2.9 -2.9 2.9zM675 349.1l2.9 -2.9 2.9 2.9 -2.9 2.9zM713.3 350.1l2.9 -2.9 2.9 2.9 -2.9 2.9zM751.6 350.7l2.9 -2.9 2.9 2.9 -2.9 2.9zM789.9 351l2.9 -2.9 2.9 2.9 -2.9 2.9z"/>
<path d="M148 297.3l3.1 5.4h-6.2zM186.3 308.1l3.1 5.4h-6.2zM224.5 315.5l3.1 5.4h-6.2zM262.8 322.6l3.1 5.4h-6.2zM301.1 328.1l3.1 5.4h-6.2zM339.4 332.1l3.1 5.4h-6.2zM377.7 334.9l3.1 5.4h-6.2zM416 337.8l3.1 5.4h-6.2zM454.3 340.4l3.1 5.4h-6.2zM492.6 342.1l3.1 5.4h-6.2zM530.9 344l3.1 5.4h-6.2zM569.2 345l3.1 5.4h-6.2zM607.4 345.9l3.1 5.4h-6.2zM645.7 346.1l3.1 5.4h-6.2zM684 346.7l3.1 5.4h-6.2zM722.3 347l3.1 5.4h-6.2zM760.6 347.3l3.1 5.4h-6.2zM798.9 347.5l3.1 5.4h-6.2z"/>
</g>
<g fill="none" stroke="#60f79f" stroke-width="1.3" stroke-linejoin="round">
<path d="M114.8 42.5l5 5m0 -5l-5 5M113.8 45h7.1M117.3 41.5v7.1M153.1 68.3l5 5m0 -5l-5 5M152.1 70.8h7.1M155.6 67.3v7.1M191.4 91l5 5m0 -5l-5 5M190.4 93.5h7.1M193.9 90v7.1M229.7 103.9l5 5m0 -5l-5 5M228.7 106.4h7.1M232.2 102.8v7.1M268 126.2l5 5m0 -5l-5 5M266.9 128.7h7.1M270.5 125.2v7.1M306.3 152.1l5 5m0 -5l-5 5M305.2 154.6h7.1M308.8 151.1v7.1M344.6 174.7l5 5m0 -5l-5 5M343.5 177.2h7.1M347.1 173.6v7.1M382.9 191.9l5 5m0 -5l-5 5M381.8 194.4h7.1M385.4 190.9v7.1M421.1 220.7l5 5m0 -5l-5 5M420.1 223.2h7.1M423.6 219.6v7.1M459.4 244.7l5 5m0 -5l-5 5M458.4 247.2h7.1M461.9 243.7v7.1M497.7 258.1l5 5m0 -5l-5 5M496.7 260.6h7.1M500.2 257.1v7.1M536 272.6l5 5m0 -5l-5 5M535 275.1h7.1M538.5 271.6v7.1M574.3 284.8l5 5m0 -5l-5 5M573.3 287.3h7.1M576.8 283.8v7.1M612.6 301.1l5 5m0 -5l-5 5M611.6 303.6h7.1M615.1 300.1v7.1M650.9 317.2l5 5m0 -5l-5 5M649.8 319.7h7.1M653.4 316.2v7.1M689.2 327.1l5 5m0 -5l-5 5M688.1 329.6h7.1M691.7 326.1v7.1M727.5 336.2l5 5m0 -5l-5 5M726.4 338.7h7.1M730 335.2v7.1M765.8 342.6l5 5m0 -5l-5 5M764.7 345.1h7.1M768.3 341.5v7.1"/>
<path d="M123.5 315l3.1 -5.4h-6.2zM161.7 314.4l3.1 -5.4h-6.2zM200 315.5l3.1 -5.4h-6.2zM238.3 316.3l3.1 -5.4h-6.2zM276.6 317.5l3.1 -5.4h-6.2zM314.9 317.4l3.1 -5.4h-6.2zM353.2 318l3.1 -5.4h-6.2zM391.5 319.7l3.1 -5.4h-6.2zM429.8 322l3.1 -5.4h-6.2zM468.1 327.7l3.1 -5.4h-6.2zM506.4 331.5l3.1 -5.4h-6.2zM544.6 334.7l3.1 -5.4h-6.2zM582.9 337.4l3.1 -5.4h-6.2zM621.2 339.4l3.1 -5.4h-6.2zM659.5 344.5l3.1 -5.4h-6.2zM697.8 348.1l3.1 -5.4h-6.2zM736.1 351.5l3.1 -5.4h-6.2zM774.4 352.4l3.1 -5.4h-6.2z"/>
<path d="M127.3 297.5a2.3 2.3 0 1 0 4.6 0a2.3 2.3 0 1 0 -4.6 0M165.6 299.7a2.3 2.3 0 1 0 4.6 0a2.3 2.3 0 1 0 -4.6 0M203.9 298.6a2.3 2.3 0 1 0 4.6 0a2.3 2.3 0 1 0 -4.6 0M242.2 296.3a2.3 2.3 0 1 0 4.6 0a2.3 2.3 0 1 0 -4.6 0M280.4 299.3a2.3 2.3 0 1 0 4.6 0a2.3 2.3 0 1 0 -4.6 0M318.7 304a2.3 2.3 0 1 0 4.6 0a2.3 2.3 0 1 0 -4.6 0M357 308.7a2.3 2.3 0 1 0 4.6 0a2.3 2.3 0 1 0 -4.6 0M395.3 313.3a2.3 2.3 0 1 0 4.6 0a2.3 2.3 0 1 0 -4.6 0M433.6 321.7a2.3 2.3 0 1 0 4.6 0a2.3 2.3 0 1 0 -4.6 0M471.9 327.3a2.3 2.3 0 1 0 4.6 0a2.3 2.3 0 1 0 -4.6 0M510.2 329.1a2.3 2.3 0 1 0 4.6 0a2.3 2.3 0 1 0 -4.6 0M548.5 332a2.3 2.3 0 1 0 4.6 0a2.3 2.3 0 1 0 -4.6 0M586.8 334.2a2.3 2.3 0 1 0 4.6 0a2.3 2.3 0 1 0 -4.6 0M625.1 339.1a2.3 2.3 0 1 0 4.6 0a2.3 2.3 0 1 0 -4.6 0M663.3 343.5a2.3 2.3 0 1 0 4.6 0a2.3 2.3 0 1 0 -4.6 0M701.6 346.7a2.3 2.3 0 1 0 4.6 0a2.3 2.3 0 1 0 -4.6 0M739.9 348.4a2.3 2.3 0 1 0 4.6 0a2.3 2.3 0 1 0 -4.6 0M778.2 349.7a2.3 2.3 0 1 0 4.6 0a2.3 2.3 0 1 0 -4.6 0"/>
<path d="M133.7 260.3h4.1v4.1h-4.1zM172 262.9h4.1v4.1h-4.1zM210.2 263.2h4.1v4.1h-4.1zM248.5 274.8h4.1v4.1h-4.1zM286.8 282.9h4.1v4.1h-4.1zM325.1 292.7h4.1v4.1h-4.1zM363.4 302.5h4.1v4.1h-4.1zM401.7 308.8h4.1v4.1h-4.1zM440 319h4.1v4.1h-4.1zM478.3 323.5h4.1v4.1h-4.1zM516.6 327.6h4.1v4.1h-4.1zM554.9 331.9h4.1v4.1h-4.1zM593.1 335.9h4.1v4.1h-4.1zM631.4 339.2h4.1v4.1h-4.1zM669.7 343.9h4.1v4.1h-4.1zM708 346.3h4.1v4.1h-4.1zM746.3 347.9h4.1v4.1h-4.1zM784.6 348.5h4.1v4.1h-4.1z"/>
<path d="M139 278.2l2.9 -2.9 2.9 2.9 -2.9 2.9zM177.2 287.8l2.9 -2.9 2.9 2.9 -2.9 2.9zM215.5 297.3l2.9 -2.9 2.9 2.9 -2.9 2.9zM253.8 305.1l2.9 -2.9 2.9 2.9 -2.9 2.9zM292.1 311.7l2.9 -2.9 2.9 2.9 -2.9 2.9zM330.4 318.9l2.9 -2.9 2.9 2.9 -2.9 2.9zM368.7 325.5l2.9 -2.9 2.9 2.9 -2.9 2.9zM407 329.3l2.9 -2.9 2.9 2.9 -2.9 2.9zM445.3 334.4l2.9 -2.9 2.9 2.9 -2.9 2.9zM483.6 337.1l2.9 -2.9 2.9 2.9 -2.9 2.9zM521.9 341l2.9 -2.9 2.9 2.9 -2.9 2.9zM560.1 343.2l2.9 -2.9 2.9 2.9 -2.9 2.9zM598.4 344.7l2.9 -2.9 2.9 2.9 -2.9 2.9zM636.7 347.8l2.9 -2.9 2.9 2.9 -2.9 2.9zM675 348.9l2.9 -2.9 2.9 2.9 -2.9 2.9zM713.3 350l2.9 -2.9 2.9 2.9 -2.9 2.9zM751.6 350.7l2.9 -2.9 2.9 2.9 -2.9 2.9zM789.9 351l2.9 -2.9 2.9 2.9 -2.9 2.9z"/>
<path d="M148 296.1l3.1 5.4h-6.2zM186.3 306.8l3.1 5.4h-6.2zM224.5 314.3l3.1 5.4h-6.2zM262.8 321.5l3.1 5.4h-6.2zM301.1 327.2l3.1 5.4h-6.2zM339.4 331.4l3.1 5.4h-6.2zM377.7 334.4l3.1 5.4h-6.2zM416 337.3l3.1 5.4h-6.2zM454.3 340l3.1 5.4h-6.2zM492.6 341.8l3.1 5.4h-6.2zM530.9 343.7l3.1 5.4h-6.2zM569.2 344.8l3.1 5.4h-6.2zM607.4 345.8l3.1 5.4h-6.2zM645.7 346l3.1 5.4h-6.2zM684 346.6l3.1 5.4h-6.2zM722.3 347l3.1 5.4h-6.2zM760.6 347.3l3.1 5.4h-6.2zM798.9 347.4l3.1 5.4h-6.2z"/>
</g>
<g fill="none" stroke="#6df7a1" stroke-width="1.3" stroke-linejoin="round">
<path d="M114.8 42.8l5 5m0 -5l-5 5M113.8 45.3h7.1M117.3 41.8v7.1M153.1 67.6l5 5m0 -5l-5 5M152.1 70.1h7.1M155.6 66.6v7.1M191.4 88.2l5 5m0 -5l-5 5M190.4 90.7h7.1M193.9 87.2v7.1M229.7 100.8l5 5m0 -5l-5 5M228.7 103.3h7.1M232.2 99.7v7.1M268 124.5l5 5m0 -5l-5 5M266.9 127h7.1M270.5 123.5v7.1M306.3 150.3l5 5m0 -5l-5 5M305.2 152.8h7.1M308.8 149.3v7.1M344.6 171.9l5 5m0 -5l-5 5M343.5 174.4h7.1M347.1 170.9v7.1M382.9 188.5l5 5m0 -5l-5 5M381.8 191h7.1M385.4 187.5v7.1M421.1 217.7l5 5m0 -5l-5 5M420.1 220.2h7.1M423.6 216.6v7.1M459.4 241.4l5 5m0 -5l-5 5M458.4 243.9h7.1M461.9 240.4v7.1M497.7 255.5l5 5m0 -5l-5 5M496.7 258h7.1M500.2 254.5v7.1M536 270.7l5 5m0 -5l-5 5M535 273.2h7.1M538.5 269.7v7.1M574.3 283.1l5 5m0 -5l-5 5M573.3 285.6h7.1M576.8 282.1v7.1M612.6 299.6l5 5m0 -5l-5 5M611.6 302.1h7.1M615.1 298.6v7.1M650.9 316.1l5 5m0 -5l-5 5M649.8 318.6h7.1M653.4 315v7.1M689.2 326.4l5 5m0 -5l-5 5M688.1 328.9h7.1M691.7 325.3v7.1M727.5 335.7l5 5m0 -5l-5 5M726.4 338.2h7.1M730 334.6v7.1M765.8 342.1l5 5m0 -5l-5 5M764.7 344.6h7.1M768.3 341.1v7.1"/>
<path d="M123.5 315l3.1 -5.4h-6.2zM161.7 314.4l3.1 -5.4h-6.2zM200 315.4l3.1 -5.4h-6.2zM238.3 316.2l3.1 -5.4h-6.2zM276.6 317.3l3.1 -5.4h-6.2zM314.9 317.6l3.1 -5.4h-6.2zM353.2 317.7l3.1 -5.4h-6.2zM391.5 319.4l3.1 -5.4h-6.2zM429.8 321.7l3.1 -5.4h-6.2zM468.1 327.2l3.1 -5.4h-6.2zM506.4 330.9l3.1 -5.4h-6.2zM544.6 334l3.1 -5.4h-6.2zM582.9 336.8l3.1 -5.4h-6.2zM621.2 338.9l3.1 -5.4h-6.2zM659.5 344l3.1 -5.4h-6.2zM697.8 347.8l3.1 -5.4h-6.2zM736.1 351.2l3.1 -5.4h-6.2zM774.4 352.1l3.1 -5.4h-6.2z"/>
<path d="M127.3 298.2a2.3 2.3 0 1 0 4.6 0a2.3 2.3 0 1 0 -4.6 0M165.6 300.6a2.3 2.3 0 1 0 4.6 0a2.3 2.3 0 1 0 -4.6 0M203.9 299.6a2.3 2.3 0 1 0 4.6 0a2.3 2.3 0 1 0 -4.6 0M242.2 296a2.3 2.3 0 1 0 4.6 0a2.3 2.3 0 1 0 -4.6 0M280.4 298.6a2.3 2.3 0 1 0 4.6 0a2.3 2.3 0 1 0 -4.6 0M318.7 303.6a2.3 2.3 0 1 0 4.6 0a2.3 2.3 0 1 0 -4.6 0M357 308.2a2.3 2.3 0 1 0 4.6 0a2.3 2.3 0 1 0 -4.6 0M395.3 312.9a2.3 2.3 0 1 0 4.6 0a2.3 2.3 0 1 0 -4.6 0M433.6 321.1a2.3 2.3 0 1 0 4.6 0a2.3 2.3 0 1 0 -4.6 0M471.9 326.5a2.3 2.3 0 1 0 4.6 0a2.3 2.3 0 1 0 -4.6 0M510.2 328.3a2.3 2.3 0 1 0 4.6 0a2.3 2.3 0 1 0 -4.6 0M548.5 331.4a2.3 2.3 0 1 0 4.6 0a2.3 2.3 0 1 0 -4.6 0M586.8 333.7a2.3 2.3 0 1 0 4.6 0a2.3 2.3 0 1 0 -4.6 0M625.1 338.7a2.3 2.3 0 1 0 4.6 0a2.3 2.3 0 1 0 -4.6 0M663.3 343.1a2.3 2.3 0 1 0 4.6 0a2.3 2.3 0 1 0 -4.6 0M701.6 346.4a2.3 2.3 0 1 0 4.6 0a2.3 2.3 0 1 0 -4.6 0M739.9 348.2a2.3 2.3 0 1 0 4.6 0a2.3 2.3 0 1 0 -4.6 0M778.2 349.6a2.3 2.3 0 1 0 4.6 0a2.3 2.3 0 1 0 -4.6 0"/>
<path d="M133.7 261h4.1v4.1h-4.1zM172 263.6h4.1v4.1h-4.1zM210.2 264.2h4.1v4.1h-4.1zM248.5 273.7h4.1v4.1h-4.1zM286.8 282.4h4.1v4.1h-4.1zM325.1 292h4.1v4.1h-4.1zM363.4 301.5h4.1v4.1h-4.1zM401.7 308h4.1v4.1h-4.1zM440 318.1h4.1v4.1h-4.1zM478.3 322.5h4.1v4.1h-4.1zM516.6 326.6h4.1v4.1h-4.1zM554.9 331.2h4.1v4.1h-4.1zM593.1 335.3h4.1v4.1h-4.1zM631.4 338.8h4.1v4.1h-4.1zM669.7 343.5h4.1v4.1h-4.1zM708 346.1h4.1v4.1h-4.1zM746.3 347.8h4.1v4.1h-4.1zM784.6 348.4h4.1v4.1h-4.1z"/>
<path d="M139 278.1l2.9 -2.9 2.9 2.9 -2.9 2.9zM177.2 287.4l2.9 -2.9 2.9 2.9 -2.9 2.9zM215.5 296.7l2.9 -2.9 2.9 2.9 -2.9 2.9zM253.8 304.3l2.9 -2.9 2.9 2.9 -2.9 2.9zM292.1 310.9l2.9 -2.9 2.9 2.9 -2.9 2.9zM330.4 318l2.9 -2.9 2.9 2.9 -2.9 2.9zM368.7 324.7l2.9 -2.9 2.9 2.9 -2.9 2.9zM407 328.6l2.9 -2.9 2.9 2.9 -2.9 2.9zM445.3 333.8l2.9 -2.9 2.9 2.9 -2.9 2.9zM483.6 336.5l2.9 -2.9 2.9 2.9 -2.9 2.9zM521.9 340.4l2.9 -2.9 2.9 2.9 -2.9 2.9zM560.1 342.7l2.9 -2.9 2.9 2.9 -2.9 2.9zM598.4 344.3l2.9 -2.9 2.9 2.9 -2.9 2.9zM636.7 347.5l2.9 -2.9 2.9 2.9 -2.9 2.9zM675 348.7l2.9 -2.9 2.9 2.9 -2.9 2.9zM713.3 349.9l2.9 -2.9 2.9 2.9 -2.9 2.9zM751.6 350.6l2.9 -2.9 2.9 2.9 -2.9 2.9zM789.9 351l2.9 -2.9 2.9 2.9 -2.9 2.9z"/>
<path d="M148 294.9l3.1 5.4h-6.2zM186.3 305.5l3.1 5.4h-6.2zM224.5 313l3.1 5.4h-6.2zM262.8 320.4l3.1 5.4h-6.2zM301.1 326.3l3.1 5.4h-6.2zM339.4 330.8l3.1 5.4h-6.2zM377.7 333.8l3.1 5.4h-6.2zM416 336.9l3.1 5.4h-6.2zM454.3 339.6l3.1 5.4h-6.2zM492.6 341.5l3.1 5.4h-6.2zM530.9 343.4l3.1 5.4h-6.2zM569.2 344.6l3.1 5.4h-6.2zM607.4 345.6l3.1 5.4h-6.2zM645.7 345.9l3.1 5.4h-6.2zM684 346.6l3.1 5.4h-6.2zM722.3 347l3.1 5.4h-6.2zM760.6 347.3l3.1 5.4h-6.2zM798.9 347.4l3.1 5.4h-6.2z"/>
</g>
<g fill="none" stroke="#79f8a4" stroke-width="1.3" stroke-linejoin="round">
<path d="M114.8 43l5 5m0 -5l-5 5M113.8 45.5h7.1M117.3 42v7.1M153.1 67l5 5m0 -5l-5 5M152.1 69.5h7.1M155.6 65.9v7.1M191.4 85.4l5 5m0 -5l-5 5M190.4 87.9h7.1M193.9 84.3v7.1M229.7 97.7l5 5m0 -5l-5 5M228.7 100.2h7.1M232.2 96.6v7.1M268 122.3l5 5m0 -5l-5 5M266.9 124.8h7.1M270.5 121.2v7.1M306.3 148.5l5 5m0 -5l-5 5M305.2 151h7.1M308.8 147.5v7.1M344.6 169.2l5 5m0 -5l-5 5M343.5 171.7h7.1M347.1 168.1v7.1M382.9 185.2l5 5m0 -5l-5 5M381.8 187.7h7.1M385.4 184.1v7.1M421.1 214.7l5 5m0 -5l-5 5M420.1 217.2h7.1M423.6 213.6v7.1M459.4 238.1l5 5m0 -5l-5 5M458.4 240.6h7.1M461.9 237v7.1M497.7 252.9l5 5m0 -5l-5 5M496.7 255.5h7.1M500.2 251.9v7.1M536 268.8l5 5m0 -5l-5 5M535 271.3h7.1M538.5 267.8v7.1M574.3 281.4l5 5m0 -5l-5 5M573.3 283.9h7.1M576.8 280.4v7.1M612.6 298.1l5 5m0 -5l-5 5M611.6 300.6h7.1M615.1 297.1v7.1M650.9 314.9l5 5m0 -5l-5 5M649.8 317.4h7.1M653.4 313.8v7.1M689.2 325.6l5 5m0 -5l-5 5M688.1 328.1h7.1M691.7 324.6v7.1M727.5 335.2l5 5m0 -5l-5 5M726.4 337.7h7.1M730 334.1v7.1M765.8 341.6l5 5m0 -5l-5 5M764.7 344.2h7.1M768.3 340.6v7.1"/>
<path d="M123.5 315l3.1 -5.4h-6.2zM161.7 314.4l3.1 -5.4h-6.2zM200 315.4l3.1 -5.4h-6.2zM238.3 316.1l3.1 -5.4h-6.2zM276.6 317.1l3.1 -5.4h-6.2zM314.9 317.8l3.1 -5.4h-6.2zM353.2 317.3l3.1 -5.4h-6.2zM391.5 319l3.1 -5.4h-6.2zM429.8 321.3l3.1 -5.4h-6.2zM468.1 326.6l3.1 -5.4h-6.2zM506.4 330.3l3.1 -5.4h-6.2zM544.6 333.4l3.1 -5.4h-6.2zM582.9 336.2l3.1 -5.4h-6.2zM621.2 338.4l3.1 -5.4h-6.2zM659.5 343.5l3.1 -5.4h-6.2zM697.8 347.5l3.1 -5.4h-6.2zM736.1 350.9l3.1 -5.4h-6.2zM774.4 351.8l3.1 -5.4h-6.2z"/>
<path d="M127.3 299a2.3 2.3 0 1 0 4.6 0a2.3 2.3 0 1 0 -4.6 0M165.6 301.4a2.3 2.3 0 1 0 4.6 0a2.3 2.3 0 1 0 -4.6 0M203.9 300.7a2.3 2.3 0 1 0 4.6 0a2.3 2.3 0 1 0 -4.6 0M242.2 295.7a2.3 2.3 0 1 0 4.6 0a2.3 2.3 0 1 0 -4.6 0M280.4 297.9a2.3 2.3 0 1 0 4.6 0a2.3 2.3 0 1 0 -4.6 0M318.7 303.1a2.3 2.3 0 1 0 4.6 0a2.3 2.3 0 1 0 -4.6 0M357 307.7a2.3 2.3 0 1 0 4.6 0a2.3 2.3 0 1 0 -4.6 0M395.3 312.6a2.3 2.3 0 1 0 4.6 0a2.3 2.3 0 1 0 -4.6 0M433.6 320.5a2.3 2.3 0 1 0 4.6 0a2.3 2.3 0 1 0 -4.6 0M471.9 325.8a2.3 2.3 0 1 0 4.6 0a2.3 2.3 0 1 0 -4.6 0M510.2 327.6a2.3 2.3 0 1 0 4.6 0a2.3 2.3 0 1 0 -4.6 0M548.5 330.8a2.3 2.3 0 1 0 4.6 0a2.3 2.3 0 1 0 -4.6 0M586.8 333.3a2.3 2.3 0 1 0 4.6 0a2.3 2.3 0 1 0 -4.6 0M625.1 338.2a2.3 2.3 0 1 0 4.6 0a2.3 2.3 0 1 0 -4.6 0M663.3 342.8a2.3 2.3 0 1 0 4.6 0a2.3 2.3 0 1 0 -4.6 0M701.6 346.2a2.3 2.3 0 1 0 4.6 0a2.3 2.3 0 1 0 -4.6 0M739.9 348.1a2.3 2.3 0 1 0 4.6 0a2.3 2.3 0 1 0 -4.6 0M778.2 349.5a2.3 2.3 0 1 0 4.6 0a2.3 2.3 0 1 0 -4.6 0"/>
<path d="M133.7 261.7h4.1v4.1h-4.1zM172 264.3h4.1v4.1h-4.1zM210.2 265.1h4.1v4.1h-4.1zM248.5 272.6h4.1v4.1h-4.1zM286.8 281.9h4.1v4.1h-4.1zM325.1 291.3h4.1v4.1h-4.1zM363.4 300.6h4.1v4.1h-4.1zM401.7 307.2h4.1v4.1h-4.1zM440 317.2h4.1v4.1h-4.1zM478.3 321.5h4.1v4.1h-4.1zM516.6 325.6h4.1v4.1h-4.1zM554.9 330.4h4.1v4.1h-4.1zM593.1 334.7h4.1v4.1h-4.1zM631.4 338.3h4.1v4.1h-4.1zM669.7 343.2h4.1v4.1h-4.1zM708 345.9h4.1v4.1h-4.1zM746.3 347.6h4.1v4.1h-4.1zM784.6 348.4h4.1v4.1h-4.1z"/>
<path d="M139 278l2.9 -2.9 2.9 2.9 -2.9 2.9zM177.2 287l2.9 -2.9 2.9 2.9 -2.9 2.9zM215.5 296l2.9 -2.9 2.9 2.9 -2.9 2.9zM253.8 303.5l2.9 -2.9 2.9 2.9 -2.9 2.9zM292.1 310.1l2.9 -2.9 2.9 2.9 -2.9 2.9zM330.4 317.2l2.9 -2.9 2.9 2.9 -2.9 2.9zM368.7 323.8l2.9 -2.9 2.9 2.9 -2.9 2.9zM407 328l2.9 -2.9 2.9 2.9 -2.9 2.9zM445.3 333.1l2.9 -2.9 2.9 2.9 -2.9 2.9zM483.6 335.9l2.9 -2.9 2.9 2.9 -2.9 2.9zM521.9 339.9l2.9 -2.9 2.9 2.9 -2.9 2.9zM560.1 342.3l2.9 -2.9 2.9 2.9 -2.9 2.9zM598.4 344l2.9 -2.9 2.9 2.9 -2.9 2.9zM636.7 347.3l2.9 -2.9 2.9 2.9 -2.9 2.9zM675 348.5l2.9 -2.9 2.9 2.9 -2.9 2.9zM713.3 349.8l2.9 -2.9 2.9 2.9 -2.9 2.9zM751.6 350.6l2.9 -2.9 2.9 2.9 -2.9 2.9zM789.9 350.9l2.9 -2.9 2.9 2.9 -2.9 2.9z"/>
<path d="M148 293.7l3.1 5.4h-6.2zM186.3 304.2l3.1 5.4h-6.2zM224.5 311.8l3.1 5.4h-6.2zM262.8 319.3l3.1 5.4h-6.2zM301.1 325.5l3.1 5.4h-6.2zM339.4 330.1l3.1 5.4h-6.2zM377.7 333.3l3.1 5.4h-6.2zM416 336.4l3.1 5.4h-6.2zM454.3 339.3l3.1 5.4h-6.2zM492.6 341.2l3.1 5.4h-6.2zM530.9 343.1l3.1 5.4h-6.2zM569.2 344.3l3.1 5.4h-6.2zM607.4 345.4l3.1 5.4h-6.2zM645.7 345.8l3.1 5.4h-6.2zM684 346.5l3.1 5.4h-6.2zM722.3 346.9l3.1 5.4h-6.2zM760.6 347.3l3.1 5.4h-6.2zM798.9 347.4l3.1 5.4h-6.2z"/>
</g>
<g fill="none" stroke="#84f8a7" stroke-width="1.3" stroke-linejoin="round">
<path d="M114.8 43.3l5 5m0 -5l-5 5M113.8 45.8h7.1M117.3 42.2v7.1M153.1 66.3l5 5m0 -5l-5 5M152.1 68.8h7.1M155.6 65.3v7.1M191.4 82.5l5 5m0 -5l-5 5M190.4 85.1h7.1M193.9 81.5v7.1M229.7 94.6l5 5m0 -5l-5 5M228.7 97.1h7.1M232.2 93.5v7.1M268 120l5 5m0 -5l-5 5M266.9 122.5h7.1M270.5 119v7.1M306.3 146.7l5 5m0 -5l-5 5M305.2 149.2h7.1M308.8 145.7v7.1M344.6 166.4l5 5m0 -5l-5 5M343.5 168.9h7.1M347.1 165.4v7.1M382.9 181.8l5 5m0 -5l-5 5M381.8 184.3h7.1M385.4 180.7v7.1M421.1 211.7l5 5m0 -5l-5 5M420.1 214.2h7.1M423.6 210.6v7.1M459.4 234.8l5 5m0 -5l-5 5M458.4 237.3h7.1M461.9 233.7v7.1M497.7 250.3l5 5m0 -5l-5 5M496.7 252.9h7.1M500.2 249.3v7.1M536 266.9l5 5m0 -5l-5 5M535 269.4h7.1M538.5 265.9v7.1M574.3 279.7l5 5m0 -5l-5 5M573.3 282.2h7.1M576.8 278.7v7.1M612.6 296.6l5 5m0 -5l-5 5M611.6 299.1h7.1M615.1 295.6v7.1M650.9 313.7l5 5m0 -5l-5 5M649.8 316.2h7.1M653.4 312.7v7.1M689.2 324.9l5 5m0 -5l-5 5M688.1 327.4h7.1M691.7 323.8v7.1M727.5 334.6l5 5m0 -5l-5 5M726.4 337.1h7.1M730 333.6v7.1M765.8 341.2l5 5m0 -5l-5 5M764.7 343.7h7.1M768.3 340.1v7.1"/>
<path d="M123.5 314.9l3.1 -5.4h-6.2zM161.7 314.4l3.1 -5.4h-6.2zM200 315.4l3.1 -5.4h-6.2zM238.3 316l3.1 -5.4h-6.2zM276.6 316.9l3.1 -5.4h-6.2zM314.9 318l3.1 -5.4h-6.2zM353.2 317l3.1 -5.4h-6.2zM391.5 318.7l3.1 -5.4h-6.2zM429.8 321l3.1 -5.4h-6.2zM468.1 326.1l3.1 -5.4h-6.2zM506.4 329.7l3.1 -5.4h-6.2zM544.6 332.7l3.1 -5.4h-6.2zM582.9 335.6l3.1 -5.4h-6.2zM621.2 337.9l3.1 -5.4h-6.2zM659.5 343.1l3.1 -5.4h-6.2zM697.8 347.1l3.1 -5.4h-6.2zM736.1 350.6l3.1 -5.4h-6.2zM774.4 351.6l3.1 -5.4h-6.2z"/>
<path d="M127.3 299.7a2.3 2.3 0 1 0 4.6 0a2.3 2.3 0 1 0 -4.6 0M165.6 302.3a2.3 2.3 0 1 0 4.6 0a2.3 2.3 0 1 0 -4.6 0M203.9 301.8a2.3 2.3 0 1 0 4.6 0a2.3 2.3 0 1 0 -4.6 0M242.2 295.4a2.3 2.3 0 1 0 4.6 0a2.3 2.3 0 1 0 -4.6 0M280.4 297.3a2.3 2.3 0 1 0 4.6 0a2.3 2.3 0 1 0 -4.6 0M318.7 302.7a2.3 2.3 0 1 0 4.6 0a2.3 2.3 0 1 0 -4.6 0M357 307.2a2.3 2.3 0 1 0 4.6 0a2.3 2.3 0 1 0 -4.6 0M395.3 312.2a2.3 2.3 0 1 0 4.6 0a2.3 2.3 0 1 0 -4.6 0M433.6 319.9a2.3 2.3 0 1 0 4.6 0a2.3 2.3 0 1 0 -4.6 0M471.9 325a2.3 2.3 0 1 0 4.6 0a2.3 2.3 0 1 0 -4.6 0M510.2 326.9a2.3 2.3 0 1 0 4.6 0a2.3 2.3 0 1 0 -4.6 0M548.5 330.1a2.3 2.3 0 1 0 4.6 0a2.3 2.3 0 1 0 -4.6 0M586.8 332.8a2.3 2.3 0 1 0 4.6 0a2.3 2.3 0 1 0 -4.6 0M625.1 337.8a2.3 2.3 0 1 0 4.6 0a2.3 2.3 0 1 0 -4.6 0M663.3 342.4a2.3 2.3 0 1 0 4.6 0a2.3 2.3 0 1 0 -4.6 0M701.6 346a2.3 2.3 0 1 0 4.6 0a2.3 2.3 0 1 0 -4.6 0M739.9 347.9a2.3 2.3 0 1 0 4.6 0a2.3 2.3 0 1 0 -4.6 0M778.2 349.4a2.3 2.3 0 1 0 4.6 0a2.3 2.3 0 1 0 -4.6 0"/>
<path d="M133.7 262.4h4.1v4.1h-4.1zM172 264.9h4.1v4.1h-4.1zM210.2 266.1h4.1v4.1h-4.1zM248.5 271.5h4.1v4.1h-4.1zM286.8 281.4h4.1v4.1h-4.1zM325.1 290.6h4.1v4.1h-4.1zM363.4 299.7h4.1v4.1h-4.1zM401.7 306.4h4.1v4.1h-4.1zM440 316.3h4.1v4.1h-4.1zM478.3 320.4h4.1v4.1h-4.1zM516.6 324.6h4.1v4.1h-4.1zM554.9 329.6h4.1v4.1h-4.1zM593.1 334.1h4.1v4.1h-4.1zM631.4 337.9h4.1v4.1h-4.1zM669.7 342.9h4.1v4.1h-4.1zM708 345.7h4.1v4.1h-4.1zM746.3 347.5h4.1v4.1h-4.1zM784.6 348.3h4.1v4.1h-4.1z"/>
<path d="M139 277.8l2.9 -2.9 2.9 2.9 -2.9 2.9zM177.2 286.6l2.9 -2.9 2.9 2.9 -2.9 2.9zM215.5 295.3l2.9 -2.9 2.9 2.9 -2.9 2.9zM253.8 302.7l2.9 -2.9 2.9 2.9 -2.9 2.9zM292.1 309.3l2.9 -2.9 2.9 2.9 -2.9 2.9zM330.4 316.4l2.9 -2.9 2.9 2.9 -2.9 2.9zM368.7 323l2.9 -2.9 2.9 2.9 -2.9 2.9zM407 327.3l2.9 -2.9 2.9 2.9 -2.9 2.9zM445.3 332.5l2.9 -2.9 2.9 2.9 -2.9 2.9zM483.6 335.3l2.9 -2.9 2.9 2.9 -2.9 2.9zM521.9 339.3l2.9 -2.9 2.9 2.9 -2.9 2.9zM560.1 341.9l2.9 -2.9 2.9 2.9 -2.9 2.9zM598.4 343.6l2.9 -2.9 2.9 2.9 -2.9 2.9zM636.7 347l2.9 -2.9 2.9 2.9 -2.9 2.9zM675 348.3l2.9 -2.9 2.9 2.9 -2.9 2.9zM713.3 349.7l2.9 -2.9 2.9 2.9 -2.9 2.9zM751.6 350.6l2.9 -2.9 2.9 2.9 -2.9 2.9zM789.9 350.9l2.9 -2.9 2.9 2.9 -2.9 2.9z"/>
<path d="M148 292.5l3.1 5.4h-6.2zM186.3 302.8l3.1 5.4h-6.2zM224.5 310.5l3.1 5.4h-6.2zM262.8 318.2l3.1 5.4h-6.2zM301.1 324.6l3.1 5.4h-6.2zM339.4 329.4l3.1 5.4h-6.2zM377.7 332.8l3.1 5.4h-6.2zM416 335.9l3.1 5.4h-6.2zM454.3 338.9l3.1 5.4h-6.2zM492.6 340.8l3.1 5.4h-6.2zM530.9 342.8l3.1 5.4h-6.2zM569.2 344.1l3.1 5.4h-6.2zM607.4 345.2l3.1 5.4h-6.2zM645.7 345.6l3.1 5.4h-6.2zM684 346.5l3.1 5.4h-6.2zM722.3 346.9l3.1 5.4h-6.2zM760.6 347.3l3.1 5.4h-6.2zM798.9 347.4l3.1 5.4h-6.2z"/>
</g>
<g fill="none" stroke="#90f9a9" stroke-width="1.3" stroke-linejoin="round">
<path d="M114.8 43.5l5 5m0 -5l-5 5M113.8 46h7.1M117.3 42.5v7.1M153.1 65.6l5 5m0 -5l-5 5M152.1 68.1h7.1M155.6 64.6v7.1M191.4 79.7l5 5m0 -5l-5 5M190.4 82.2h7.1M193.9 78.7v7.1M229.7 91.5l5 5m0 -5l-5 5M228.7 94h7.1M232.2 90.4v7.1M268 117.8l5 5m0 -5l-5 5M266.9 120.3h7.1M270.5 116.8v7.1M306.3 144.9l5 5m0 -5l-5 5M305.2 147.4h7.1M308.8 143.9v7.1M344.6 163.7l5 5m0 -5l-5 5M343.5 166.2h7.1M347.1 162.6v7.1M382.9 178.4l5 5m0 -5l-5 5M381.8 180.9h7.1M385.4 177.4v7.1M421.1 208.7l5 5m0 -5l-5 5M420.1 211.2h7.1M423.6 207.6v7.1M459.4 231.4l5 5m0 -5l-5 5M458.4 234h7.1M461.9 230.4v7.1M497.7 247.8l5 5m0 -5l-5 5M496.7 250.3h7.1M500.2 246.7v7.1M536 265l5 5m0 -5l-5 5M535 267.5h7.1M538.5 263.9v7.1M574.3 278l5 5m0 -5l-5 5M573.3 280.5h7.1M576.8 277v7.1M612.6 295.1l5 5m0 -5l-5 5M611.6 297.6h7.1M615.1 294v7.1M650.9 312.5l5 5m0 -5l-5 5M649.8 315.1h7.1M653.4 311.5v7.1M689.2 324.1l5 5m0 -5l-5 5M688.1 326.6h7.1M691.7 323.1v7.1M727.5 334.1l5 5m0 -5l-5 5M726.4 336.6h7.1M730 333.1v7.1M765.8 340.7l5 5m0 -5l-5 5M764.7 343.2h7.1M768.3 339.7v7.1"/>
<path d="M123.5 314.9l3.1 -5.4h-6.2zM161.7 314.4l3.1 -5.4h-6.2zM200 315.3l3.1 -5.4h-6.2zM238.3 315.9l3.1 -5.4h-6.2zM276.6 316.6l3.1 -5.4h-6.2zM314.9 318.1l3.1 -5.4h-6.2zM353.2 316.7l3.1 -5.4h-6.2zM391.5 318.4l3.1 -5.4h-6.2zM429.8 320.7l3.1 -5.4h-6.2zM468.1 325.6l3.1 -5.4h-6.2zM506.4 329l3.1 -5.4h-6.2zM544.6 332.1l3.1 -5.4h-6.2zM582.9 335l3.1 -5.4h-6.2zM621.2 337.4l3.1 -5.4h-6.2zM659.5 342.6l3.1 -5.4h-6.2zM697.8 346.8l3.1 -5.4h-6.2zM736.1 350.3l3.1 -5.4h-6.2zM774.4 351.3l3.1 -5.4h-6.2z"/>
<path d="M127.3 300.5a2.3 2.3 0 1 0 4.6 0a2.3 2.3 0 1 0 -4.6 0M165.6 303.1a2.3 2.3 0 1 0 4.6 0a2.3 2.3 0 1 0 -4.6 0M203.9 302.8a2.3 2.3 0 1 0 4.6 0a2.3 2.3 0 1 0 -4.6 0M242.2 295.1a2.3 2.3 0 1 0 4.6 0a2.3 2.3 0 1 0 -4.6 0M280.4 296.6a2.3 2.3 0 1 0 4.6 0a2.3 2.3 0 1 0 -4.6 0M318.7 302.2a2.3 2.3 0 1 0 4.6 0a2.3 2.3 0 1 0 -4.6 0M357 306.7a2.3 2.3 0 1 0 4.6 0a2.3 2.3 0 1 0 -4.6 0M395.3 311.8a2.3 2.3 0 1 0 4.6 0a2.3 2.3 0 1 0 -4.6 0M433.6 319.3a2.3 2.3 0 1 0 4.6 0a2.3 2.3 0 1 0 -4.6 0M471.9 324.2a2.3 2.3 0 1 0 4.6 0a2.3 2.3 0 1 0 -4.6 0M510.2 326.1a2.3 2.3 0 1 0 4.6 0a2.3 2.3 0 1 0 -4.6 0M548.5 329.5a2.3 2.3 0 1 0 4.6 0a2.3 2.3 0 1 0 -4.6 0M586.8 332.3a2.3 2.3 0 1 0 4.6 0a2.3 2.3 0 1 0 -4.6 0M625.1 337.4a2.3 2.3 0 1 0 4.6 0a2.3 2.3 0 1 0 -4.6 0M663.3 342.1a2.3 2.3 0 1 0 4.6 0a2.3 2.3 0 1 0 -4.6 0M701.6 345.8a2.3 2.3 0 1 0 4.6 0a2.3 2.3 0 1 0 -4.6 0M739.9 347.8a2.3 2.3 0 1 0 4.6 0a2.3 2.3 0 1 0 -4.6 0M778.2 349.3a2.3 2.3 0 1 0 4.6 0a2.3 2.3 0 1 0 -4.6 0"/>
<path d="M133.7 263h4.1v4.1h-4.1zM172 265.6h4.1v4.1h-4.1zM210.2 267h4.1v4.1h-4.1zM248.5 270.4h4.1v4.1h-4.1zM286.8 280.9h4.1v4.1h-4.1zM325.1 289.9h4.1v4.1h-4.1zM363.4 298.7h4.1v4.1h-4.1zM401.7 305.7h4.1v4.1h-4.1zM440 315.4h4.1v4.1h-4.1zM478.3 319.4h4.1v4.1h-4.1zM516.6 323.6h4.1v4.1h-4.1zM554.9 328.9h4.1v4.1h-4.1zM593.1 333.5h4.1v4.1h-4.1zM631.4 337.5h4.1v4.1h-4.1zM669.7 342.5h4.1v4.1h-4.1zM708 345.4h4.1v4.1h-4.1zM746.3 347.4h4.1v4.1h-4.1zM784.6 348.2h4.1v4.1h-4.1z"/>
<path d="M139 277.7l2.9 -2.9 2.9 2.9 -2.9 2.9zM177.2 286.2l2.9 -2.9 2.9 2.9 -2.9 2.9zM215.5 294.6l2.9 -2.9 2.9 2.9 -2.9 2.9zM253.8 301.9l2.9 -2.9 2.9 2.9 -2.9 2.9zM292.1 308.5l2.9 -2.9 2.9 2.9 -2.9 2.9zM330.4 315.6l2.9 -2.9 2.9 2.9 -2.9 2.9zM368.7 322.2l2.9 -2.9 2.9 2.9 -2.9 2.9zM407 326.6l2.9 -2.9 2.9 2.9 -2.9 2.9zM445.3 331.9l2.9 -2.9 2.9 2.9 -2.9 2.9zM483.6 334.7l2.9 -2.9 2.9 2.9 -2.9 2.9zM521.9 338.8l2.9 -2.9 2.9 2.9 -2.9 2.9zM560.1 341.5l2.9 -2.9 2.9 2.9 -2.9 2.9zM598.4 343.3l2.9 -2.9 2.9 2.9 -2.9 2.9zM636.7 346.7l2.9 -2.9 2.9 2.9 -2.9 2.9zM675 348.2l2.9 -2.9 2.9 2.9 -2.9 2.9zM713.3 349.6l2.9 -2.9 2.9 2.9 -2.9 2.9zM751.6 350.5l2.9 -2.9 2.9 2.9 -2.9 2.9zM789.9 350.9l2.9 -2.9 2.9 2.9 -2.9 2.9z"/>
<path d="M148 291.3l3.1 5.4h-6.2zM186.3 301.5l3.1 5.4h-6.2zM224.5 309.3l3.1 5.4h-6.2zM262.8 317.1l3.1 5.4h-6.2zM301.1 323.7l3.1 5.4h-6.2zM339.4 328.8l3.1 5.4h-6.2zM377.7 332.2l3.1 5.4h-6.2zM416 335.4l3.1 5.4h-6.2zM454.3 338.5l3.1 5.4h-6.2zM492.6 340.5l3.1 5.4h-6.2zM530.9 342.5l3.1 5.4h-6.2zM569.2 343.9l3.1 5.4h-6.2zM607.4 345l3.1 5.4h-6.2zM645.7 345.5l3.1 5.4h-6.2zM684 346.5l3.1 5.4h-6.2zM722.3 346.9l3.1 5.4h-6.2zM760.6 347.2l3.1 5.4h-6.2zM798.9 347.4l3.1 5.4h-6.2z"/>
</g>
<g fill="none" stroke="#9bf9ad" stroke-width="1.3" stroke-linejoin="round">
<path d="M114.8 43.8l5 5m0 -5l-5 5M113.8 46.3h7.1M117.3 42.7v7.1M153.1 65l5 5m0 -5l-5 5M152.1 67.5h7.1M155.6 63.9v7.1M191.4 76.9l5 5m0 -5l-5 5M190.4 79.4h7.1M193.9 75.9v7.1M229.7 88.4l5 5m0 -5l-5 5M228.7 90.9h7.1M232.2 87.3v7.1M268 115.6l5 5m0 -5l-5 5M266.9 118.1h7.1M270.5 114.5v7.1M306.3 143.1l5 5m0 -5l-5 5M305.2 145.6h7.1M308.8 142.1v7.1M344.6 160.9l5 5m0 -5l-5 5M343.5 163.4h7.1M347.1 159.9v7.1M382.9 175l5 5m0 -5l-5 5M381.8 177.5h7.1M385.4 174v7.1M421.1 205.7l5 5m0 -5l-5 5M420.1 208.2h7.1M423.6 204.6v7.1M459.4 228.1l5 5m0 -5l-5 5M458.4 230.6h7.1M461.9 227.1v7.1M497.7 245.2l5 5m0 -5l-5 5M496.7 247.7h7.1M500.2 244.1v7.1M536 263.1l5 5m0 -5l-5 5M535 265.6h7.1M538.5 262v7.1M574.3 276.3l5 5m0 -5l-5 5M573.3 278.8h7.1M576.8 275.3v7.1M612.6 293.6l5 5m0 -5l-5 5M611.6 296.1h7.1M615.1 292.5v7.1M650.9 311.4l5 5m0 -5l-5 5M649.8 313.9h7.1M653.4 310.3v7.1M689.2 323.4l5 5m0 -5l-5 5M688.1 325.9h7.1M691.7 322.4v7.1M727.5 333.6l5 5m0 -5l-5 5M726.4 336.1h7.1M730 332.6v7.1M765.8 340.3l5 5m0 -5l-5 5M764.7 342.8h7.1M768.3 339.2v7.1"/>
<path d="M123.5 314.9l3.1 -5.4h-6.2zM161.7 314.3l3.1 -5.4h-6.2zM200 315.3l3.1 -5.4h-6.2zM238.3 315.7l3.1 -5.4h-6.2zM276.6 316.4l3.1 -5.4h-6.2zM314.9 318.3l3.1 -5.4h-6.2zM353.2 316.4l3.1 -5.4h-6.2zM391.5 318.1l3.1 -5.4h-6.2zM429.8 320.4l3.1 -5.4h-6.2zM468.1 325l3.1 -5.4h-6.2zM506.4 328.4l3.1 -5.4h-6.2zM544.6 331.4l3.1 -5.4h-6.2zM582.9 334.4l3.1 -5.4h-6.2zM621.2 337l3.1 -5.4h-6.2zM659.5 342.1l3.1 -5.4h-6.2zM697.8 346.4l3.1 -5.4h-6.2zM736.1 350.1l3.1 -5.4h-6.2zM774.4 351l3.1 -5.4h-6.2z"/>
<path d="M127.3 301.2a2.3 2.3 0 1 0 4.6 0a2.3 2.3 0 1 0 -4.6 0M165.6 304a2.3 2.3 0 1 0 4.6 0a2.3 2.3 0 1 0 -4.6 0M203.9 303.9a2.3 2.3 0 1 0 4.6 0a2.3 2.3 0 1 0 -4.6 0M242.2 294.8a2.3 2.3 0 1 0 4.6 0a2.3 2.3 0 1 0 -4.6 0M280.4 295.9a2.3 2.3 0 1 0 4.6 0a2.3 2.3 0 1 0 -4.6 0M318.7 301.8a2.3 2.3 0 1 0 4.6 0a2.3 2.3 0 1 0 -4.6 0M357 306.1a2.3 2.3 0 1 0 4.6 0a2.3 2.3 0 1 0 -4.6 0M395.3 311.4a2.3 2.3 0 1 0 4.6 0a2.3 2.3 0 1 0 -4.6 0M433.6 318.7a2.3 2.3 0 1 0 4.6 0a2.3 2.3 0 1 0 -4.6 0M471.9 323.4a2.3 2.3 0 1 0 4.6 0a2.3 2.3 0 1 0 -4.6 0M510.2 325.4a2.3 2.3 0 1 0 4.6 0a2.3 2.3 0 1 0 -4.6 0M548.5 328.9a2.3 2.3 0 1 0 4.6 0a2.3 2.3 0 1 0 -4.6 0M586.8 331.8a2.3 2.3 0 1 0 4.6 0a2.3 2.3 0 1 0 -4.6 0M625.1 337a2.3 2.3 0 1 0 4.6 0a2.3 2.3 0 1 0 -4.6 0M663.3 341.7a2.3 2.3 0 1 0 4.6 0a2.3 2.3 0 1 0 -4.6 0M701.6 345.6a2.3 2.3 0 1 0 4.6 0a2.3 2.3 0 1 0 -4.6 0M739.9 347.6a2.3 2.3 0 1 0 4.6 0a2.3 2.3 0 1 0 -4.6 0M778.2 349.2a2.3 2.3 0 1 0 4.6 0a2.3 2.3 0 1 0 -4.6 0"/>
<path d="M133.7 263.7h4.1v4.1h-4.1zM172 266.3h4.1v4.1h-4.1zM210.2 267.9h4.1v4.1h-4.1zM248.5 269.3h4.1v4.1h-4.1zM286.8 280.5h4.1v4.1h-4.1zM325.1 289.2h4.1v4.1h-4.1zM363.4 297.8h4.1v4.1h-4.1zM401.7 304.9h4.1v4.1h-4.1zM440 314.5h4.1v4.1h-4.1zM478.3 318.4h4.1v4.1h-4.1zM516.6 322.6h4.1v4.1h-4.1zM554.9 328.1h4.1v4.1h-4.1zM593.1 332.9h4.1v4.1h-4.1zM631.4 337h4.1v4.1h-4.1zM669.7 342.2h4.1v4.1h-4.1zM708 345.2h4.1v4.1h-4.1zM746.3 347.3h4.1v4.1h-4.1zM784.6 348.2h4.1v4.1h-4.1z"/>
<path d="M139 277.6l2.9 -2.9 2.9 2.9 -2.9 2.9zM177.2 285.8l2.9 -2.9 2.9 2.9 -2.9 2.9zM215.5 294l2.9 -2.9 2.9 2.9 -2.9 2.9zM253.8 301l2.9 -2.9 2.9 2.9 -2.9 2.9zM292.1 307.7l2.9 -2.9 2.9 2.9 -2.9 2.9zM330.4 314.8l2.9 -2.9 2.9 2.9 -2.9 2.9zM368.7 321.4l2.9 -2.9 2.9 2.9 -2.9 2.9zM407 325.9l2.9 -2.9 2.9 2.9 -2.9 2.9zM445.3 331.2l2.9 -2.9 2.9 2.9 -2.9 2.9zM483.6 334.2l2.9 -2.9 2.9 2.9 -2.9 2.9zM521.9 338.2l2.9 -2.9 2.9 2.9 -2.9 2.9zM560.1 341.1l2.9 -2.9 2.9 2.9 -2.9 2.9zM598.4 343l2.9 -2.9 2.9 2.9 -2.9 2.9zM636.7 346.4l2.9 -2.9 2.9 2.9 -2.9 2.9zM675 348l2.9 -2.9 2.9 2.9 -2.9 2.9zM713.3 349.5l2.9 -2.9 2.9 2.9 -2.9 2.9zM751.6 350.5l2.9 -2.9 2.9 2.9 -2.9 2.9zM789.9 350.9l2.9 -2.9 2.9 2.9 -2.9 2.9z"/>
<path d="M148 290.1l3.1 5.4h-6.2zM186.3 300.2l3.1 5.4h-6.2zM224.5 308.1l3.1 5.4h-6.2zM262.8 316l3.1 5.4h-6.2zM301.1 322.8l3.1 5.4h-6.2zM339.4 328.1l3.1 5.4h-6.2zM377.7 331.7l3.1 5.4h-6.2zM416 334.9l3.1 5.4h-6.2zM454.3 338.2l3.1 5.4h-6.2zM492.6 340.2l3.1 5.4h-6.2zM530.9 342.2l3.1 5.4h-6.2zM569.2 343.7l3.1 5.4h-6.2zM607.4 344.9l3.1 5.4h-6.2zM645.7 345.4l3.1 5.4h-6.2zM684 346.4l3.1 5.4h-6.2zM722.3 346.8l3.1 5.4h-6.2zM760.6 347.2l3.1 5.4h-6.2zM798.9 347.4l3.1 5.4h-6.2z"/>
</g>
<g fill="none" stroke="#a7f9b0" stroke-width="1.3" stroke-linejoin="round">
<path d="M114.8 44l5 5m0 -5l-5 5M113.8 46.5h7.1M117.3 43v7.1M153.1 64.3l5 5m0 -5l-5 5M152.1 66.8h7.1M155.6 63.3v7.1M191.4 74.1l5 5m0 -5l-5 5M190.4 76.6h7.1M193.9 73v7.1M229.7 85.3l5 5m0 -5l-5 5M228.7 87.8h7.1M232.2 84.2v7.1M268 113.3l5 5m0 -5l-5 5M266.9 115.8h7.1M270.5 112.3v7.1M306.3 141.3l5 5m0 -5l-5 5M305.2 143.9h7.1M308.8 140.3v7.1M344.6 158.2l5 5m0 -5l-5 5M343.5 160.7h7.1M347.1 157.1v7.1M382.9 171.7l5 5m0 -5l-5 5M381.8 174.2h7.1M385.4 170.6v7.1M421.1 202.7l5 5m0 -5l-5 5M420.1 205.2h7.1M423.6 201.6v7.1M459.4 224.8l5 5m0 -5l-5 5M458.4 227.3h7.1M461.9 223.8v7.1M497.7 242.6l5 5m0 -5l-5 5M496.7 245.1h7.1M500.2 241.5v7.1M536 261.1l5 5m0 -5l-5 5M535 263.6h7.1M538.5 260.1v7.1M574.3 274.6l5 5m0 -5l-5 5M573.3 277.1h7.1M576.8 273.6v7.1M612.6 292l5 5m0 -5l-5 5M611.6 294.5h7.1M615.1 291v7.1M650.9 310.2l5 5m0 -5l-5 5M649.8 312.7h7.1M653.4 309.2v7.1M689.2 322.6l5 5m0 -5l-5 5M688.1 325.2h7.1M691.7 321.6v7.1M727.5 333.1l5 5m0 -5l-5 5M726.4 335.6h7.1M730 332v7.1M765.8 339.8l5 5m0 -5l-5 5M764.7 342.3h7.1M768.3 338.7v7.1"/>
<path d="M123.5 314.9l3.1 -5.4h-6.2zM161.7 314.3l3.1 -5.4h-6.2zM200 315.2l3.1 -5.4h-6.2zM238.3 315.6l3.1 -5.4h-6.2zM276.6 316.2l3.1 -5.4h-6.2zM314.9 318.5l3.1 -5.4h-6.2zM353.2 316.1l3.1 -5.4h-6.2zM391.5 317.8l3.1 -5.4h-6.2zM429.8 320l3.1 -5.4h-6.2zM468.1 324.5l3.1 -5.4h-6.2zM506.4 327.8l3.1 -5.4h-6.2zM544.6 330.8l3.1 -5.4h-6.2zM582.9 333.8l3.1 -5.4h-6.2zM621.2 336.5l3.1 -5.4h-6.2zM659.5 341.6l3.1 -5.4h-6.2zM697.8 346.1l3.1 -5.4h-6.2zM736.1 349.8l3.1 -5.4h-6.2zM774.4 350.7l3.1 -5.4h-6.2z"/>
<path d="M127.3 302a2.3 2.3 0 1 0 4.6 0a2.3 2.3 0 1 0 -4.6 0M165.6 304.8a2.3 2.3 0 1 0 4.6 0a2.3 2.3 0 1 0 -4.6 0M203.9 304.9a2.3 2.3 0 1 0 4.6 0a2.3 2.3 0 1 0 -4.6 0M242.2 294.5a2.3 2.3 0 1 0 4.6 0a2.3 2.3 0 1 0 -4.6 0M280.4 295.2a2.3 2.3 0 1 0 4.6 0a2.3 2.3 0 1 0 -4.6 0M318.7 301.4a2.3 2.3 0 1 0 4.6 0a2.3 2.3 0 1 0 -4.6 0M357 305.6a2.3 2.3 0 1 0 4.6 0a2.3 2.3 0 1 0 -4.6 0M395.3 311a2.3 2.3 0 1 0 4.6 0a2.3 2.3 0 1 0 -4.6 0M433.6 318.1a2.3 2.3 0 1 0 4.6 0a2.3 2.3 0 1 0 -4.6 0M471.9 322.6a2.3 2.3 0 1 0 4.6 0a2.3 2.3 0 1 0 -4.6 0M510.2 324.7a2.3 2.3 0 1 0 4.6 0a2.3 2.3 0 1 0 -4.6 0M548.5 328.3a2.3 2.3 0 1 0 4.6 0a2.3 2.3 0 1 0 -4.6 0M586.8 331.3a2.3 2.3 0 1 0 4.6 0a2.3 2.3 0 1 0 -4.6 0M625.1 336.5a2.3 2.3 0 1 0 4.6 0a2.3 2.3 0 1 0 -4.6 0M663.3 341.4a2.3 2.3 0 1 0 4.6 0a2.3 2.3 0 1 0 -4.6 0M701.6 345.4a2.3 2.3 0 1 0 4.6 0a2.3 2.3 0 1 0 -4.6 0M739.9 347.4a2.3 2.3 0 1 0 4.6 0a2.3 2.3 0 1 0 -4.6 0M778.2 349.1a2.3 2.3 0 1 0 4.6 0a2.3 2.3 0 1 0 -4.6 0"/>
<path d="M133.7 264.4h4.1v4.1h-4.1zM172 267h4.1v4.1h-4.1zM210.2 268.9h4.1v4.1h-4.1zM248.5 268.2h4.1v4.1h-4.1zM286.8 280h4.1v4.1h-4.1zM325.1 288.5h4.1v4.1h-4.1zM363.4 296.9h4.1v4.1h-4.1zM401.7 304.1h4.1v4.1h-4.1zM440 313.6h4.1v4.1h-4.1zM478.3 317.4h4.1v4.1h-4.1zM516.6 321.6h4.1v4.1h-4.1zM554.9 327.3h4.1v4.1h-4.1zM593.1 332.3h4.1v4.1h-4.1zM631.4 336.6h4.1v4.1h-4.1zM669.7 341.9h4.1v4.1h-4.1zM708 345h4.1v4.1h-4.1zM746.3 347.2h4.1v4.1h-4.1zM784.6 348.1h4.1v4.1h-4.1z"/>
<path d="M139 277.4l2.9 -2.9 2.9 2.9 -2.9 2.9zM177.2 285.4l2.9 -2.9 2.9 2.9 -2.9 2.9zM215.5 293.3l2.9 -2.9 2.9 2.9 -2.9 2.9zM253.8 300.2l2.9 -2.9 2.9 2.9 -2.9 2.9zM292.1 306.9l2.9 -2.9 2.9 2.9 -2.9 2.9zM330.4 313.9l2.9 -2.9 2.9 2.9 -2.9 2.9zM368.7 320.6l2.9 -2.9 2.9 2.9 -2.9 2.9zM407 325.2l2.9 -2.9 2.9 2.9 -2.9 2.9zM445.3 330.6l2.9 -2.9 2.9 2.9 -2.9 2.9zM483.6 333.6l2.9 -2.9 2.9 2.9 -2.9 2.9zM521.9 337.7l2.9 -2.9 2.9 2.9 -2.9 2.9zM560.1 340.7l2.9 -2.9 2.9 2.9 -2.9 2.9zM598.4 342.6l2.9 -2.9 2.9 2.9 -2.9 2.9zM636.7 346.1l2.9 -2.9 2.9 2.9 -2.9 2.9zM675 347.8l2.9 -2.9 2.9 2.9 -2.9 2.9zM713.3 349.4l2.9 -2.9 2.9 2.9 -2.9 2.9zM751.6 350.4l2.9 -2.9 2.9 2.9 -2.9 2.9zM789.9 350.8l2.9 -2.9 2.9 2.9 -2.9 2.9z"/>
<path d="M148 288.9l3.1 5.4h-6.2zM186.3 298.9l3.1 5.4h-6.2zM224.5 306.8l3.1 5.4h-6.2zM262.8 314.9l3.1 5.4h-6.2zM301.1 322l3.1 5.4h-6.2zM339.4 327.5l3.1 5.4h-6.2zM377.7 331.2l3.1 5.4h-6.2zM416 334.4l3.1 5.4h-6.2zM454.3 337.8l3.1 5.4h-6.2zM492.6 339.9l3.1 5.4h-6.2zM530.9 341.9l3.1 5.4h-6.2zM569.2 343.4l3.1 5.4h-6.2zM607.4 344.7l3.1 5.4h-6.2zM645.7 345.3l3.1 5.4h-6.2zM684 346.4l3.1 5.4h-6.2zM722.3 346.8l3.1 5.4h-6.2zM760.6 347.2l3.1 5.4h-6.2zM798.9 347.3l3.1 5.4h-6.2z"/>
</g>
<g fill="none" stroke="#b4fab4" stroke-width="1.3" stroke-linejoin="round">
<path d="M114.8 43.1l5 5m0 -5l-5 5M113.8 45.6h7.1M117.3 42.1v7.1M153.1 63.5l5 5m0 -5l-5 5M152.1 66h7.1M155.6 62.5v7.1M191.4 72.9l5 5m0 -5l-5 5M190.4 75.5h7.1M193.9 71.9v7.1M229.7 82.9l5 5m0 -5l-5 5M228.7 85.4h7.1M232.2 81.9v7.1M268 109.9l5 5m0 -5l-5 5M266.9 112.5h7.1M270.5 108.9v7.1M306.3 138.5l5 5m0 -5l-5 5M305.2 141.1h7.1M308.8 137.5v7.1M344.6 155.6l5 5m0 -5l-5 5M343.5 158.1h7.1M347.1 154.6v7.1M382.9 168.3l5 5m0 -5l-5 5M381.8 170.8h7.1M385.4 167.2v7.1M421.1 199.7l5 5m0 -5l-5 5M420.1 202.2h7.1M423.6 198.6v7.1M459.4 221.5l5 5m0 -5l-5 5M458.4 224h7.1M461.9 220.5v7.1M497.7 240l5 5m0 -5l-5 5M496.7 242.5h7.1M500.2 238.9v7.1M536 259.2l5 5m0 -5l-5 5M535 261.7h7.1M538.5 258.2v7.1M574.3 272.9l5 5m0 -5l-5 5M573.3 275.4h7.1M576.8 271.9v7.1M612.6 290.5l5 5m0 -5l-5 5M611.6 293h7.1M615.1 289.5v7.1M650.9 309l5 5m0 -5l-5 5M649.8 311.5h7.1M653.4 308v7.1M689.2 321.9l5 5m0 -5l-5 5M688.1 324.4h7.1M691.7 320.9v7.1M727.5 332.6l5 5m0 -5l-5 5M726.4 335.1h7.1M730 331.5v7.1M765.8 339.3l5 5m0 -5l-5 5M764.7 341.8h7.1M768.3 338.3v7.1"/>
<path d="M123.5 314.9l3.1 -5.4h-6.2zM161.7 314.3l3.1 -5.4h-6.2zM200 315.2l3.1 -5.4h-6.2zM238.3 315.5l3.1 -5.4h-6.2zM276.6 316l3.1 -5.4h-6.2zM314.9 318.6l3.1 -5.4h-6.2zM353.2 315.8l3.1 -5.4h-6.2zM391.5 317.5l3.1 -5.4h-6.2zM429.8 319.7l3.1 -5.4h-6.2zM468.1 324l3.1 -5.4h-6.2zM506.4 327.2l3.1 -5.4h-6.2zM544.6 330.1l3.1 -5.4h-6.2zM582.9 333.2l3.1 -5.4h-6.2zM621.2 336l3.1 -5.4h-6.2zM659.5 341.2l3.1 -5.4h-6.2zM697.8 345.8l3.1 -5.4h-6.2zM736.1 349.5l3.1 -5.4h-6.2zM774.4 350.4l3.1 -5.4h-6.2z"/>
<path d="M127.3 302.7a2.3 2.3 0 1 0 4.6 0a2.3 2.3 0 1 0 -4.6 0M165.6 305.7a2.3 2.3 0 1 0 4.6 0a2.3 2.3 0 1 0 -4.6 0M203.9 306a2.3 2.3 0 1 0 4.6 0a2.3 2.3 0 1 0 -4.6 0M242.2 294.2a2.3 2.3 0 1 0 4.6 0a2.3 2.3 0 1 0 -4.6 0M280.4 294.6a2.3 2.3 0 1 0 4.6 0a2.3 2.3 0 1 0 -4.6 0M318.7 300.9a2.3 2.3 0 1 0 4.6 0a2.3 2.3 0 1 0 -4.6 0M357 305.1a2.3 2.3 0 1 0 4.6 0a2.3 2.3 0 1 0 -4.6 0M395.3 310.6a2.3 2.3 0 1 0 4.6 0a2.3 2.3 0 1 0 -4.6 0M433.6 317.5a2.3 2.3 0 1 0 4.6 0a2.3 2.3 0 1 0 -4.6 0M471.9 321.9a2.3 2.3 0 1 0 4.6 0a2.3 2.3 0 1 0 -4.6 0M510.2 323.9a2.3 2.3 0 1 0 4.6 0a2.3 2.3 0 1 0 -4.6 0M548.5 327.7a2.3 2.3 0 1 0 4.6 0a2.3 2.3 0 1 0 -4.6 0M586.8 330.8a2.3 2.3 0 1 0 4.6 0a2.3 2.3 0 1 0 -4.6 0M625.1 336.1a2.3 2.3 0 1 0 4.6 0a2.3 2.3 0 1 0 -4.6 0M663.3 341a2.3 2.3 0 1 0 4.6 0a2.3 2.3 0 1 0 -4.6 0M701.6 345.2a2.3 2.3 0 1 0 4.6 0a2.3 2.3 0 1 0 -4.6 0M739.9 347.3a2.3 2.3 0 1 0 4.6 0a2.3 2.3 0 1 0 -4.6 0M778.2 348.9a2.3 2.3 0 1 0 4.6 0a2.3 2.3 0 1 0 -4.6 0"/>
<path d="M133.7 265h4.1v4.1h-4.1zM172 267.6h4.1v4.1h-4.1zM210.2 269.8h4.1v4.1h-4.1zM248.5 267.1h4.1v4.1h-4.1zM286.8 279.5h4.1v4.1h-4.1zM325.1 287.8h4.1v4.1h-4.1zM363.4 295.9h4.1v4.1h-4.1zM401.7 303.3h4.1v4.1h-4.1zM440 312.7h4.1v4.1h-4.1zM478.3 316.3h4.1v4.1h-4.1zM516.6 320.6h4.1v4.1h-4.1zM554.9 326.6h4.1v4.1h-4.1zM593.1 331.7h4.1v4.1h-4.1zM631.4 336.2h4.1v4.1h-4.1zM669.7 341.5h4.1v4.1h-4.1zM708 344.8h4.1v4.1h-4.1zM746.3 347h4.1v4.1h-4.1zM784.6 348.1h4.1v4.1h-4.1z"/>
<path d="M139 277.3l2.9 -2.9 2.9 2.9 -2.9 2.9zM177.2 285l2.9 -2.9 2.9 2.9 -2.9 2.9zM215.5 292.6l2.9 -2.9 2.9 2.9 -2.9 2.9zM253.8 299.4l2.9 -2.9 2.9 2.9 -2.9 2.9zM292.1 306.1l2.9 -2.9 2.9 2.9 -2.9 2.9zM330.4 313.1l2.9 -2.9 2.9 2.9 -2.9 2.9zM368.7 319.7l2.9 -2.9 2.9 2.9 -2.9 2.9zM407 324.6l2.9 -2.9 2.9 2.9 -2.9 2.9zM445.3 330l2.9 -2.9 2.9 2.9 -2.9 2.9zM483.6 333l2.9 -2.9 2.9 2.9 -2.9 2.9zM521.9 337.1l2.9 -2.9 2.9 2.9 -2.9 2.9zM560.1 340.3l2.9 -2.9 2.9 2.9 -2.9 2.9zM598.4 342.3l2.9 -2.9 2.9 2.9 -2.9 2.9zM636.7 345.8l2.9 -2.9 2.9 2.9 -2.9 2.9zM675 347.6l2.9 -2.9 2.9 2.9 -2.9 2.9zM713.3 349.3l2.9 -2.9 2.9 2.9 -2.9 2.9zM751.6 350.4l2.9 -2.9 2.9 2.9 -2.9 2.9zM789.9 350.8l2.9 -2.9 2.9 2.9 -2.9 2.9z"/>
<path d="M148 287.7l3.1 5.4h-6.2zM186.3 297.6l3.1 5.4h-6.2zM224.5 305.6l3.1 5.4h-6.2zM262.8 313.8l3.1 5.4h-6.2zM301.1 321.1l3.1 5.4h-6.2zM339.4 326.8l3.1 5.4h-6.2zM377.7 330.6l3.1 5.4h-6.2zM416 333.9l3.1 5.4h-6.2zM454.3 337.4l3.1 5.4h-6.2zM492.6 339.6l3.1 5.4h-6.2zM530.9 341.6l3.1 5.4h-6.2zM569.2 343.2l3.1 5.4h-6.2zM607.4 344.5l3.1 5.4h-6.2zM645.7 345.2l3.1 5.4h-6.2zM684 346.3l3.1 5.4h-6.2zM722.3 346.7l3.1 5.4h-6.2zM760.6 347.2l3.1 5.4h-6.2zM798.9 347.3l3.1 5.4h-6.2z"/>
</g>
<g fill="none" stroke="#c2fab8" stroke-width="1.3" stroke-linejoin="round">
<path d="M114.8 42.2l5 5m0 -5l-5 5M113.8 44.7h7.1M117.3 41.2v7.1M153.1 62.7l5 5m0 -5l-5 5M152.1 65.2h7.1M155.6 61.6v7.1M191.4 71.8l5 5m0 -5l-5 5M190.4 74.3h7.1M193.9 70.8v7.1M229.7 80.5l5 5m0 -5l-5 5M228.7 83h7.1M232.2 79.5v7.1M268 106.6l5 5m0 -5l-5 5M266.9 109.1h7.1M270.5 105.5v7.1M306.3 135.7l5 5m0 -5l-5 5M305.2 138.2h7.1M308.8 134.7v7.1M344.6 153.1l5 5m0 -5l-5 5M343.5 155.6h7.1M347.1 152v7.1M382.9 164.9l5 5m0 -5l-5 5M381.8 167.4h7.1M385.4 163.9v7.1M421.1 196.7l5 5m0 -5l-5 5M420.1 199.2h7.1M423.6 195.6v7.1M459.4 218.2l5 5m0 -5l-5 5M458.4 220.7h7.1M461.9 217.1v7.1M497.7 237.4l5 5m0 -5l-5 5M496.7 239.9h7.1M500.2 236.3v7.1M536 257.3l5 5m0 -5l-5 5M535 259.8h7.1M538.5 256.3v7.1M574.3 271.2l5 5m0 -5l-5 5M573.3 273.7h7.1M576.8 270.2v7.1M612.6 289l5 5m0 -5l-5 5M611.6 291.5h7.1M615.1 288v7.1M650.9 307.9l5 5m0 -5l-5 5M649.8 310.4h7.1M653.4 306.8v7.1M689.2 321.2l5 5m0 -5l-5 5M688.1 323.7h7.1M691.7 320.1v7.1M727.5 332l5 5m0 -5l-5 5M726.4 334.5h7.1M730 331v7.1M765.8 338.9l5 5m0 -5l-5 5M764.7 341.4h7.1M768.3 337.8v7.1"/>
<path d="M123.5 314.8l3.1 -5.4h-6.2zM161.7 314.3l3.1 -5.4h-6.2zM200 315.2l3.1 -5.4h-6.2zM238.3 315.4l3.1 -5.4h-6.2zM276.6 315.7l3.1 -5.4h-6.2zM314.9 318.8l3.1 -5.4h-6.2zM353.2 315.5l3.1 -5.4h-6.2zM391.5 317.2l3.1 -5.4h-6.2zM429.8 319.4l3.1 -5.4h-6.2zM468.1 323.4l3.1 -5.4h-6.2zM506.4 326.5l3.1 -5.4h-6.2zM544.6 329.5l3.1 -5.4h-6.2zM582.9 332.6l3.1 -5.4h-6.2zM621.2 335.5l3.1 -5.4h-6.2zM659.5 340.7l3.1 -5.4h-6.2zM697.8 345.4l3.1 -5.4h-6.2zM736.1 349.2l3.1 -5.4h-6.2zM774.4 350.1l3.1 -5.4h-6.2z"/>
<path d="M127.3 303.5a2.3 2.3 0 1 0 4.6 0a2.3 2.3 0 1 0 -4.6 0M165.6 306.5a2.3 2.3 0 1 0 4.6 0a2.3 2.3 0 1 0 -4.6 0M203.9 307.1a2.3 2.3 0 1 0 4.6 0a2.3 2.3 0 1 0 -4.6 0M242.2 293.9a2.3 2.3 0 1 0 4.6 0a2.3 2.3 0 1 0 -4.6 0M280.4 293.9a2.3 2.3 0 1 0 4.6 0a2.3 2.3 0 1 0 -4.6 0M318.7 300.5a2.3 2.3 0 1 0 4.6 0a2.3 2.3 0 1 0 -4.6 0M357 304.6a2.3 2.3 0 1 0 4.6 0a2.3 2.3 0 1 0 -4.6 0M395.3 310.3a2.3 2.3 0 1 0 4.6 0a2.3 2.3 0 1 0 -4.6 0M433.6 316.9a2.3 2.3 0 1 0 4.6 0a2.3 2.3 0 1 0 -4.6 0M471.9 321.1a2.3 2.3 0 1 0 4.6 0a2.3 2.3 0 1 0 -4.6 0M510.2 323.2a2.3 2.3 0 1 0 4.6 0a2.3 2.3 0 1 0 -4.6 0M548.5 327.1a2.3 2.3 0 1 0 4.6 0a2.3 2.3 0 1 0 -4.6 0M586.8 330.4a2.3 2.3 0 1 0 4.6 0a2.3 2.3 0 1 0 -4.6 0M625.1 335.7a2.3 2.3 0 1 0 4.6 0a2.3 2.3 0 1 0 -4.6 0M663.3 340.6a2.3 2.3 0 1 0 4.6 0a2.3 2.3 0 1 0 -4.6 0M701.6 345a2.3 2.3 0 1 0 4.6 0a2.3 2.3 0 1 0 -4.6 0M739.9 347.1a2.3 2.3 0 1 0 4.6 0a2.3 2.3 0 1 0 -4.6 0M778.2 348.8a2.3 2.3 0 1 0 4.6 0a2.3 2.3 0 1 0 -4.6 0"/>
<path d="M133.7 265.7h4.1v4.1h-4.1zM172 268.3h4.1v4.1h-4.1zM210.2 270.8h4.1v4.1h-4.1zM248.5 266h4.1v4.1h-4.1zM286.8 279h4.1v4.1h-4.1zM325.1 287.1h4.1v4.1h-4.1zM363.4 295h4.1v4.1h-4.1zM401.7 302.5h4.1v4.1h-4.1zM440 311.8h4.1v4.1h-4.1zM478.3 315.3h4.1v4.1h-4.1zM516.6 319.6h4.1v4.1h-4.1zM554.9 325.8h4.1v4.1h-4.1zM593.1 331.1h4.1v4.1h-4.1zM631.4 335.7h4.1v4.1h-4.1zM669.7 341.2h4.1v4.1h-4.1zM708 344.6h4.1v4.1h-4.1zM746.3 346.9h4.1v4.1h-4.1zM784.6 348h4.1v4.1h-4.1z"/>
<path d="M139 277.2l2.9 -2.9 2.9 2.9 -2.9 2.9zM177.2 284.6l2.9 -2.9 2.9 2.9 -2.9 2.9zM215.5 291.9l2.9 -2.9 2.9 2.9 -2.9 2.9zM253.8 298.6l2.9 -2.9 2.9 2.9 -2.9 2.9zM292.1 305.3l2.9 -2.9 2.9 2.9 -2.9 2.9zM330.4 312.3l2.9 -2.9 2.9 2.9 -2.9 2.9zM368.7 318.9l2.9 -2.9 2.9 2.9 -2.9 2.9zM407 323.9l2.9 -2.9 2.9 2.9 -2.9 2.9zM445.3 329.3l2.9 -2.9 2.9 2.9 -2.9 2.9zM483.6 332.4l2.9 -2.9 2.9 2.9 -2.9 2.9zM521.9 336.5l2.9 -2.9 2.9 2.9 -2.9 2.9zM560.1 339.9l2.9 -2.9 2.9 2.9 -2.9 2.9zM598.4 341.9l2.9 -2.9 2.9 2.9 -2.9 2.9zM636.7 345.6l2.9 -2.9 2.9 2.9 -2.9 2.9zM675 347.4l2.9 -2.9 2.9 2.9 -2.9 2.9zM713.3 349.2l2.9 -2.9 2.9 2.9 -2.9 2.9zM751.6 350.3l2.9 -2.9 2.9 2.9 -2.9 2.9zM789.9 350.8l2.9 -2.9 2.9 2.9 -2.9 2.9z"/>
<path d="M148 286.5l3.1 5.4h-6.2zM186.3 296.3l3.1 5.4h-6.2zM224.5 304.3l3.1 5.4h-6.2zM262.8 312.7l3.1 5.4h-6.2zM301.1 320.2l3.1 5.4h-6.2zM339.4 326.1l3.1 5.4h-6.2zM377.7 330.1l3.1 5.4h-6.2zM416 333.4l3.1 5.4h-6.2zM454.3 337.1l3.1 5.4h-6.2zM492.6 339.3l3.1 5.4h-6.2zM530.9 341.3l3.1 5.4h-6.2zM569.2 343l3.1 5.4h-6.2zM607.4 344.3l3.1 5.4h-6.2zM645.7 345.1l3.1 5.4h-6.2zM684 346.3l3.1 5.4h-6.2zM722.3 346.7l3.1 5.4h-6.2zM760.6 347.2l3.1 5.4h-6.2zM798.9 347.3l3.1 5.4h-6.2z"/>
</g>
<g fill="none" stroke="#d1fabd" stroke-width="1.3" stroke-linejoin="round">
<path d="M114.8 41.3l5 5m0 -5l-5 5M113.8 43.8h7.1M117.3 40.2v7.1M153.1 61.9l5 5m0 -5l-5 5M152.1 64.4h7.1M155.6 60.8v7.1M191.4 70.7l5 5m0 -5l-5 5M190.4 73.2h7.1M193.9 69.7v7.1M229.7 78.2l5 5m0 -5l-5 5M228.7 80.7h7.1M232.2 77.1v7.1M268 103.2l5 5m0 -5l-5 5M266.9 105.7h7.1M270.5 102.2v7.1M306.3 132.9l5 5m0 -5l-5 5M305.2 135.4h7.1M308.8 131.9v7.1M344.6 150.5l5 5m0 -5l-5 5M343.5 153h7.1M347.1 149.5v7.1M382.9 161.5l5 5m0 -5l-5 5M381.8 164h7.1M385.4 160.5v7.1M421.1 193.7l5 5m0 -5l-5 5M420.1 196.2h7.1M423.6 192.6v7.1M459.4 214.9l5 5m0 -5l-5 5M458.4 217.4h7.1M461.9 213.8v7.1M497.7 234.8l5 5m0 -5l-5 5M496.7 237.3h7.1M500.2 233.7v7.1M536 255.4l5 5m0 -5l-5 5M535 257.9h7.1M538.5 254.4v7.1M574.3 269.5l5 5m0 -5l-5 5M573.3 272h7.1M576.8 268.5v7.1M612.6 287.5l5 5m0 -5l-5 5M611.6 290h7.1M615.1 286.5v7.1M650.9 306.7l5 5m0 -5l-5 5M649.8 309.2h7.1M653.4 305.7v7.1M689.2 320.4l5 5m0 -5l-5 5M688.1 322.9h7.1M691.7 319.4v7.1M727.5 331.5l5 5m0 -5l-5 5M726.4 334h7.1M730 330.5v7.1M765.8 338.4l5 5m0 -5l-5 5M764.7 340.9h7.1M768.3 337.4v7.1"/>
<path d="M123.5 314.8l3.1 -5.4h-6.2zM161.7 314.3l3.1 -5.4h-6.2zM200 315.1l3.1 -5.4h-6.2zM238.3 315.3l3.1 -5.4h-6.2zM276.6 315.5l3.1 -5.4h-6.2zM314.9 319l3.1 -5.4h-6.2zM353.2 315.1l3.1 -5.4h-6.2zM391.5 316.9l3.1 -5.4h-6.2zM429.8 319.1l3.1 -5.4h-6.2zM468.1 322.9l3.1 -5.4h-6.2zM506.4 325.9l3.1 -5.4h-6.2zM544.6 328.8l3.1 -5.4h-6.2zM582.9 332l3.1 -5.4h-6.2zM621.2 335l3.1 -5.4h-6.2zM659.5 340.2l3.1 -5.4h-6.2zM697.8 345.1l3.1 -5.4h-6.2zM736.1 348.9l3.1 -5.4h-6.2zM774.4 349.9l3.1 -5.4h-6.2z"/>
<path d="M127.3 304.2a2.3 2.3 0 1 0 4.6 0a2.3 2.3 0 1 0 -4.6 0M165.6 307.3a2.3 2.3 0 1 0 4.6 0a2.3 2.3 0 1 0 -4.6 0M203.9 308.1a2.3 2.3 0 1 0 4.6 0a2.3 2.3 0 1 0 -4.6 0M242.2 293.6a2.3 2.3 0 1 0 4.6 0a2.3 2.3 0 1 0 -4.6 0M280.4 293.2a2.3 2.3 0 1 0 4.6 0a2.3 2.3 0 1 0 -4.6 0M318.7 300a2.3 2.3 0 1 0 4.6 0a2.3 2.3 0 1 0 -4.6 0M357 304.1a2.3 2.3 0 1 0 4.6 0a2.3 2.3 0 1 0 -4.6 0M395.3 309.9a2.3 2.3 0 1 0 4.6 0a2.3 2.3 0 1 0 -4.6 0M433.6 316.3a2.3 2.3 0 1 0 4.6 0a2.3 2.3 0 1 0 -4.6 0M471.9 320.3a2.3 2.3 0 1 0 4.6 0a2.3 2.3 0 1 0 -4.6 0M510.2 322.5a2.3 2.3 0 1 0 4.6 0a2.3 2.3 0 1 0 -4.6 0M548.5 326.4a2.3 2.3 0 1 0 4.6 0a2.3 2.3 0 1 0 -4.6 0M586.8 329.9a2.3 2.3 0 1 0 4.6 0a2.3 2.3 0 1 0 -4.6 0M625.1 335.3a2.3 2.3 0 1 0 4.6 0a2.3 2.3 0 1 0 -4.6 0M663.3 340.3a2.3 2.3 0 1 0 4.6 0a2.3 2.3 0 1 0 -4.6 0M701.6 344.8a2.3 2.3 0 1 0 4.6 0a2.3 2.3 0 1 0 -4.6 0M739.9 346.9a2.3 2.3 0 1 0 4.6 0a2.3 2.3 0 1 0 -4.6 0M778.2 348.7a2.3 2.3 0 1 0 4.6 0a2.3 2.3 0 1 0 -4.6 0"/>
<path d="M133.7 265.8h4.1v4.1h-4.1zM172 268.4h4.1v4.1h-4.1zM210.2 270.8h4.1v4.1h-4.1zM248.5 264.9h4.1v4.1h-4.1zM286.8 278.5h4.1v4.1h-4.1zM325.1 286.3h4.1v4.1h-4.1zM363.4 294.1h4.1v4.1h-4.1zM401.7 301.7h4.1v4.1h-4.1zM440 310.9h4.1v4.1h-4.1zM478.3 314.3h4.1v4.1h-4.1zM516.6 318.6h4.1v4.1h-4.1zM554.9 325h4.1v4.1h-4.1zM593.1 330.5h4.1v4.1h-4.1zM631.4 335.3h4.1v4.1h-4.1zM669.7 340.9h4.1v4.1h-4.1zM708 344.3h4.1v4.1h-4.1zM746.3 346.8h4.1v4.1h-4.1zM784.6 347.9h4.1v4.1h-4.1z"/>
<path d="M139 277l2.9 -2.9 2.9 2.9 -2.9 2.9zM177.2 284.2l2.9 -2.9 2.9 2.9 -2.9 2.9zM215.5 291.3l2.9 -2.9 2.9 2.9 -2.9 2.9zM253.8 297.8l2.9 -2.9 2.9 2.9 -2.9 2.9zM292.1 304.6l2.9 -2.9 2.9 2.9 -2.9 2.9zM330.4 311.5l2.9 -2.9 2.9 2.9 -2.9 2.9zM368.7 318.1l2.9 -2.9 2.9 2.9 -2.9 2.9zM407 323.2l2.9 -2.9 2.9 2.9 -2.9 2.9zM445.3 328.7l2.9 -2.9 2.9 2.9 -2.9 2.9zM483.6 331.8l2.9 -2.9 2.9 2.9 -2.9 2.9zM521.9 336l2.9 -2.9 2.9 2.9 -2.9 2.9zM560.1 339.5l2.9 -2.9 2.9 2.9 -2.9 2.9zM598.4 341.6l2.9 -2.9 2.9 2.9 -2.9 2.9zM636.7 345.3l2.9 -2.9 2.9 2.9 -2.9 2.9zM675 347.3l2.9 -2.9 2.9 2.9 -2.9 2.9zM713.3 349.1l2.9 -2.9 2.9 2.9 -2.9 2.9zM751.6 350.3l2.9 -2.9 2.9 2.9 -2.9 2.9zM789.9 350.8l2.9 -2.9 2.9 2.9 -2.9 2.9z"/>
<path d="M148 285.3l3.1 5.4h-6.2zM186.3 295l3.1 5.4h-6.2zM224.5 303.1l3.1 5.4h-6.2zM262.8 311.6l3.1 5.4h-6.2zM301.1 319.3l3.1 5.4h-6.2zM339.4 325.5l3.1 5.4h-6.2zM377.7 329.5l3.1 5.4h-6.2zM416 332.9l3.1 5.4h-6.2zM454.3 336.7l3.1 5.4h-6.2zM492.6 339l3.1 5.4h-6.2zM530.9 341l3.1 5.4h-6.2zM569.2 342.7l3.1 5.4h-6.2zM607.4 344.1l3.1 5.4h-6.2zM645.7 345l3.1 5.4h-6.2zM684 346.2l3.1 5.4h-6.2zM722.3 346.7l3.1 5.4h-6.2zM760.6 347.1l3.1 5.4h-6.2zM798.9 347.3l3.1 5.4h-6.2z"/>
</g>
<g fill="none" stroke="#e7fac4" stroke-width="1.3" stroke-linejoin="round">
<path d="M114.8 40.3l5 5m0 -5l-5 5M113.8 42.9h7.1M117.3 39.3v7.1M153.1 61.1l5 5m0 -5l-5 5M152.1 63.6h7.1M155.6 60v7.1M191.4 69.6l5 5m0 -5l-5 5M190.4 72.1h7.1M193.9 68.5v7.1M229.7 75.8l5 5m0 -5l-5 5M228.7 78.3h7.1M232.2 74.7v7.1M268 99.9l5 5m0 -5l-5 5M266.9 102.4h7.1M270.5 98.8v7.1M306.3 130.1l5 5m0 -5l-5 5M305.2 132.6h7.1M308.8 129.1v7.1M344.6 147.9l5 5m0 -5l-5 5M343.5 150.4h7.1M347.1 146.9v7.1M382.9 158.2l5 5m0 -5l-5 5M381.8 160.7h7.1M385.4 157.1v7.1M421.1 190.7l5 5m0 -5l-5 5M420.1 193.2h7.1M423.6 189.6v7.1M459.4 211.5l5 5m0 -5l-5 5M458.4 214h7.1M461.9 210.5v7.1M497.7 232.2l5 5m0 -5l-5 5M496.7 234.7h7.1M500.2 231.1v7.1M536 253.5l5 5m0 -5l-5 5M535 256h7.1M538.5 252.4v7.1M574.3 267.8l5 5m0 -5l-5 5M573.3 270.3h7.1M576.8 266.7v7.1M612.6 286l5 5m0 -5l-5 5M611.6 288.5h7.1M615.1 284.9v7.1M650.9 305.5l5 5m0 -5l-5 5M649.8 308h7.1M653.4 304.5v7.1M689.2 319.7l5 5m0 -5l-5 5M688.1 322.2h7.1M691.7 318.6v7.1M727.5 331l5 5m0 -5l-5 5M726.4 333.5h7.1M730 330v7.1M765.8 337.9l5 5m0 -5l-5 5M764.7 340.4h7.1M768.3 336.9v7.1"/>
<path d="M123.5 314.8l3.1 -5.4h-6.2zM161.7 314.2l3.1 -5.4h-6.2zM200 315.1l3.1 -5.4h-6.2zM238.3 315.2l3.1 -5.4h-6.2zM276.6 315.3l3.1 -5.4h-6.2zM314.9 318.4l3.1 -5.4h-6.2zM353.2 314.8l3.1 -5.4h-6.2zM391.5 316.6l3.1 -5.4h-6.2zM429.8 318.8l3.1 -5.4h-6.2zM468.1 322.3l3.1 -5.4h-6.2zM506.4 325.3l3.1 -5.4h-6.2zM544.6 328.2l3.1 -5.4h-6.2zM582.9 331.4l3.1 -5.4h-6.2zM621.2 334.5l3.1 -5.4h-6.2zM659.5 339.8l3.1 -5.4h-6.2zM697.8 344.7l3.1 -5.4h-6.2zM736.1 348.6l3.1 -5.4h-6.2zM774.4 349.6l3.1 -5.4h-6.2z"/>
<path d="M127.3 304.3a2.3 2.3 0 1 0 4.6 0a2.3 2.3 0 1 0 -4.6 0M165.6 307.4a2.3 2.3 0 1 0 4.6 0a2.3 2.3 0 1 0 -4.6 0M203.9 308.3a2.3 2.3 0 1 0 4.6 0a2.3 2.3 0 1 0 -4.6 0M242.2 293.3a2.3 2.3 0 1 0 4.6 0a2.3 2.3 0 1 0 -4.6 0M280.4 292.5a2.3 2.3 0 1 0 4.6 0a2.3 2.3 0 1 0 -4.6 0M318.7 299.6a2.3 2.3 0 1 0 4.6 0a2.3 2.3 0 1 0 -4.6 0M357 303.6a2.3 2.3 0 1 0 4.6 0a2.3 2.3 0 1 0 -4.6 0M395.3 309.5a2.3 2.3 0 1 0 4.6 0a2.3 2.3 0 1 0 -4.6 0M433.6 315.7a2.3 2.3 0 1 0 4.6 0a2.3 2.3 0 1 0 -4.6 0M471.9 319.5a2.3 2.3 0 1 0 4.6 0a2.3 2.3 0 1 0 -4.6 0M510.2 321.7a2.3 2.3 0 1 0 4.6 0a2.3 2.3 0 1 0 -4.6 0M548.5 325.8a2.3 2.3 0 1 0 4.6 0a2.3 2.3 0 1 0 -4.6 0M586.8 329.4a2.3 2.3 0 1 0 4.6 0a2.3 2.3 0 1 0 -4.6 0M625.1 334.9a2.3 2.3 0 1 0 4.6 0a2.3 2.3 0 1 0 -4.6 0M663.3 339.9a2.3 2.3 0 1 0 4.6 0a2.3 2.3 0 1 0 -4.6 0M701.6 344.6a2.3 2.3 0 1 0 4.6 0a2.3 2.3 0 1 0 -4.6 0M739.9 346.8a2.3 2.3 0 1 0 4.6 0a2.3 2.3 0 1 0 -4.6 0M778.2 348.6a2.3 2.3 0 1 0 4.6 0a2.3 2.3 0 1 0 -4.6 0"/>
<path d="M133.7 265.9h4.1v4.1h-4.1zM172 268.5h4.1v4.1h-4.1zM210.2 270.9h4.1v4.1h-4.1zM248.5 263.8h4.1v4.1h-4.1zM286.8 278h4.1v4.1h-4.1zM325.1 285.6h4.1v4.1h-4.1zM363.4 293.2h4.1v4.1h-4.1zM401.7 300.9h4.1v4.1h-4.1zM440 310h4.1v4.1h-4.1zM478.3 313.3h4.1v4.1h-4.1zM516.6 317.6h4.1v4.1h-4.1zM554.9 324.2h4.1v4.1h-4.1zM593.1 329.9h4.1v4.1h-4.1zM631.4 334.8h4.1v4.1h-4.1zM669.7 340.5h4.1v4.1h-4.1zM708 344.1h4.1v4.1h-4.1zM746.3 346.7h4.1v4.1h-4.1zM784.6 347.9h4.1v4.1h-4.1z"/>
<path d="M139 276.9l2.9 -2.9 2.9 2.9 -2.9 2.9zM177.2 283.8l2.9 -2.9 2.9 2.9 -2.9 2.9zM215.5 290.6l2.9 -2.9 2.9 2.9 -2.9 2.9zM253.8 297l2.9 -2.9 2.9 2.9 -2.9 2.9zM292.1 303.8l2.9 -2.9 2.9 2.9 -2.9 2.9zM330.4 310.7l2.9 -2.9 2.9 2.9 -2.9 2.9zM368.7 317.3l2.9 -2.9 2.9 2.9 -2.9 2.9zM407 322.5l2.9 -2.9 2.9 2.9 -2.9 2.9zM445.3 328.1l2.9 -2.9 2.9 2.9 -2.9 2.9zM483.6 331.2l2.9 -2.9 2.9 2.9 -2.9 2.9zM521.9 335.4l2.9 -2.9 2.9 2.9 -2.9 2.9zM560.1 339.1l2.9 -2.9 2.9 2.9 -2.9 2.9zM598.4 341.3l2.9 -2.9 2.9 2.9 -2.9 2.9zM636.7 345l2.9 -2.9 2.9 2.9 -2.9 2.9zM675 347.1l2.9 -2.9 2.9 2.9 -2.9 2.9zM713.3 349l2.9 -2.9 2.9 2.9 -2.9 2.9zM751.6 350.3l2.9 -2.9 2.9 2.9 -2.9 2.9zM789.9 350.8l2.9 -2.9 2.9 2.9 -2.9 2.9z"/>
<path d="M148 284l3.1 5.4h-6.2zM186.3 293.7l3.1 5.4h-6.2zM224.5 301.8l3.1 5.4h-6.2zM262.8 310.5l3.1 5.4h-6.2zM301.1 318.5l3.1 5.4h-6.2zM339.4 324.8l3.1 5.4h-6.2zM377.7 329l3.1 5.4h-6.2zM416 332.4l3.1 5.4h-6.2zM454.3 336.3l3.1 5.4h-6.2zM492.6 338.7l3.1 5.4h-6.2zM530.9 340.8l3.1 5.4h-6.2zM569.2 342.5l3.1 5.4h-6.2zM607.4 343.9l3.1 5.4h-6.2zM645.7 344.9l3.1 5.4h-6.2zM684 346.2l3.1 5.4h-6.2zM722.3 346.6l3.1 5.4h-6.2zM760.6 347.1l3.1 5.4h-6.2zM798.9 347.3l3.1 5.4h-6.2z"/>
</g>
<g fill="none" stroke="#ffdfc4" stroke-width="1.3" stroke-linejoin="round">
<path d="M114.8 39.4l5 5m0 -5l-5 5M113.8 41.9h7.1M117.3 38.4v7.1M153.1 58.9l5 5m0 -5l-5 5M152.1 61.4h7.1M155.6 57.9v7.1M191.4 68.5l5 5m0 -5l-5 5M190.4 71h7.1M193.9 67.4v7.1M229.7 73.4l5 5m0 -5l-5 5M228.7 75.9h7.1M232.2 72.4v7.1M268 96.5l5 5m0 -5l-5 5M266.9 99h7.1M270.5 95.5v7.1M306.3 127.3l5 5m0 -5l-5 5M305.2 129.8h7.1M308.8 126.3v7.1M344.6 145.4l5 5m0 -5l-5 5M343.5 147.9h7.1M347.1 144.3v7.1M382.9 157.4l5 5m0 -5l-5 5M381.8 159.9h7.1M385.4 156.3v7.1M421.1 188.7l5 5m0 -5l-5 5M420.1 191.2h7.1M423.6 187.7v7.1M459.4 208.9l5 5m0 -5l-5 5M458.4 211.4h7.1M461.9 207.8v7.1M497.7 229.4l5 5m0 -5l-5 5M496.7 231.9h7.1M500.2 228.4v7.1M536 251.1l5 5m0 -5l-5 5M535 253.6h7.1M538.5 250.1v7.1M574.3 266.1l5 5m0 -5l-5 5M573.3 268.6h7.1M576.8 265v7.1M612.6 284.5l5 5m0 -5l-5 5M611.6 287h7.1M615.1 283.4v7.1M650.9 304.4l5 5m0 -5l-5 5M649.8 306.9h7.1M653.4 303.3v7.1M689.2 318.9l5 5m0 -5l-5 5M688.1 321.4h7.1M691.7 317.9v7.1M727.5 330.5l5 5m0 -5l-5 5M726.4 333h7.1M730 329.4v7.1M765.8 337.5l5 5m0 -5l-5 5M764.7 340h7.1M768.3 336.4v7.1"/>
<path d="M123.5 314.8l3.1 -5.4h-6.2zM161.7 314.2l3.1 -5.4h-6.2zM200 315.1l3.1 -5.4h-6.2zM238.3 315.1l3.1 -5.4h-6.2zM276.6 315.1l3.1 -5.4h-6.2zM314.9 317.9l3.1 -5.4h-6.2zM353.2 314.5l3.1 -5.4h-6.2zM391.5 316.3l3.1 -5.4h-6.2zM429.8 318.4l3.1 -5.4h-6.2zM468.1 321.8l3.1 -5.4h-6.2zM506.4 324.7l3.1 -5.4h-6.2zM544.6 327.5l3.1 -5.4h-6.2zM582.9 330.8l3.1 -5.4h-6.2zM621.2 334.1l3.1 -5.4h-6.2zM659.5 339.3l3.1 -5.4h-6.2zM697.8 344.4l3.1 -5.4h-6.2zM736.1 348.3l3.1 -5.4h-6.2zM774.4 349.3l3.1 -5.4h-6.2z"/>
<path d="M127.3 304.4a2.3 2.3 0 1 0 4.6 0a2.3 2.3 0 1 0 -4.6 0M165.6 307.5a2.3 2.3 0 1 0 4.6 0a2.3 2.3 0 1 0 -4.6 0M203.9 308.4a2.3 2.3 0 1 0 4.6 0a2.3 2.3 0 1 0 -4.6 0M242.2 293a2.3 2.3 0 1 0 4.6 0a2.3 2.3 0 1 0 -4.6 0M280.4 291.9a2.3 2.3 0 1 0 4.6 0a2.3 2.3 0 1 0 -4.6 0M318.7 299.2a2.3 2.3 0 1 0 4.6 0a2.3 2.3 0 1 0 -4.6 0M357 303.1a2.3 2.3 0 1 0 4.6 0a2.3 2.3 0 1 0 -4.6 0M395.3 309.1a2.3 2.3 0 1 0 4.6 0a2.3 2.3 0 1 0 -4.6 0M433.6 315.1a2.3 2.3 0 1 0 4.6 0a2.3 2.3 0 1 0 -4.6 0M471.9 318.7a2.3 2.3 0 1 0 4.6 0a2.3 2.3 0 1 0 -4.6 0M510.2 321a2.3 2.3 0 1 0 4.6 0a2.3 2.3 0 1 0 -4.6 0M548.5 325.2a2.3 2.3 0 1 0 4.6 0a2.3 2.3 0 1 0 -4.6 0M586.8 328.9a2.3 2.3 0 1 0 4.6 0a2.3 2.3 0 1 0 -4.6 0M625.1 334.4a2.3 2.3 0 1 0 4.6 0a2.3 2.3 0 1 0 -4.6 0M663.3 339.6a2.3 2.3 0 1 0 4.6 0a2.3 2.3 0 1 0 -4.6 0M701.6 344.4a2.3 2.3 0 1 0 4.6 0a2.3 2.3 0 1 0 -4.6 0M739.9 346.6a2.3 2.3 0 1 0 4.6 0a2.3 2.3 0 1 0 -4.6 0M778.2 348.5a2.3 2.3 0 1 0 4.6 0a2.3 2.3 0 1 0 -4.6 0"/>
<path d="M133.7 266h4.1v4.1h-4.1zM172 268.6h4.1v4.1h-4.1zM210.2 271h4.1v4.1h-4.1zM248.5 262.7h4.1v4.1h-4.1zM286.8 277.5h4.1v4.1h-4.1zM325.1 284.9h4.1v4.1h-4.1zM363.4 292.2h4.1v4.1h-4.1zM401.7 300.1h4.1v4.1h-4.1zM440 309.1h4.1v4.1h-4.1zM478.3 312.3h4.1v4.1h-4.1zM516.6 316.6h4.1v4.1h-4.1zM554.9 323.5h4.1v4.1h-4.1zM593.1 329.3h4.1v4.1h-4.1zM631.4 334.4h4.1v4.1h-4.1zM669.7 340.2h4.1v4.1h-4.1zM708 343.9h4.1v4.1h-4.1zM746.3 346.6h4.1v4.1h-4.1zM784.6 347.8h4.1v4.1h-4.1z"/>
<path d="M139 276.8l2.9 -2.9 2.9 2.9 -2.9 2.9zM177.2 283.4l2.9 -2.9 2.9 2.9 -2.9 2.9zM215.5 289.9l2.9 -2.9 2.9 2.9 -2.9 2.9zM253.8 296.2l2.9 -2.9 2.9 2.9 -2.9 2.9zM292.1 303l2.9 -2.9 2.9 2.9 -2.9 2.9zM330.4 309.8l2.9 -2.9 2.9 2.9 -2.9 2.9zM368.7 316.5l2.9 -2.9 2.9 2.9 -2.9 2.9zM407 321.9l2.9 -2.9 2.9 2.9 -2.9 2.9zM445.3 327.4l2.9 -2.9 2.9 2.9 -2.9 2.9zM483.6 330.7l2.9 -2.9 2.9 2.9 -2.9 2.9zM521.9 334.9l2.9 -2.9 2.9 2.9 -2.9 2.9zM560.1 338.6l2.9 -2.9 2.9 2.9 -2.9 2.9zM598.4 340.9l2.9 -2.9 2.9 2.9 -2.9 2.9zM636.7 344.7l2.9 -2.9 2.9 2.9 -2.9 2.9zM675 346.9l2.9 -2.9 2.9 2.9 -2.9 2.9zM713.3 348.9l2.9 -2.9 2.9 2.9 -2.9 2.9zM751.6 350.2l2.9 -2.9 2.9 2.9 -2.9 2.9zM789.9 350.7l2.9 -2.9 2.9 2.9 -2.9 2.9z"/>
<path d="M148 282.8l3.1 5.4h-6.2zM186.3 292.4l3.1 5.4h-6.2zM224.5 300.6l3.1 5.4h-6.2zM262.8 309.4l3.1 5.4h-6.2zM301.1 317.6l3.1 5.4h-6.2zM339.4 324.2l3.1 5.4h-6.2zM377.7 328.5l3.1 5.4h-6.2zM416 331.9l3.1 5.4h-6.2zM454.3 336l3.1 5.4h-6.2zM492.6 338.3l3.1 5.4h-6.2zM530.9 340.5l3.1 5.4h-6.2zM569.2 342.3l3.1 5.4h-6.2zM607.4 343.8l3.1 5.4h-6.2zM645.7 344.8l3.1 5.4h-6.2zM684 346.1l3.1 5.4h-6.2zM722.3 346.6l3.1 5.4h-6.2zM760.6 347.1l3.1 5.4h-6.2zM798.9 347.3l3.1 5.4h-6.2z"/>
</g>
<g fill="none" stroke="#ffc8bc" stroke-width="1.3" stroke-linejoin="round">
<path d="M114.8 38.5l5 5m0 -5l-5 5M113.8 41h7.1M117.3 37.5v7.1M153.1 56.8l5 5m0 -5l-5 5M152.1 59.3h7.1M155.6 55.8v7.1M191.4 67.3l5 5m0 -5l-5 5M190.4 69.8h7.1M193.9 66.3v7.1M229.7 71l5 5m0 -5l-5 5M228.7 73.5h7.1M232.2 70v7.1M268 94.5l5 5m0 -5l-5 5M266.9 97h7.1M270.5 93.5v7.1M306.3 124.5l5 5m0 -5l-5 5M305.2 127h7.1M308.8 123.5v7.1M344.6 142.5l5 5m0 -5l-5 5M343.5 145h7.1M347.1 141.4v7.1M382.9 156.6l5 5m0 -5l-5 5M381.8 159.1h7.1M385.4 155.5v7.1M421.1 186.7l5 5m0 -5l-5 5M420.1 189.2h7.1M423.6 185.7v7.1M459.4 206.2l5 5m0 -5l-5 5M458.4 208.7h7.1M461.9 205.2v7.1M497.7 226.6l5 5m0 -5l-5 5M496.7 229.1h7.1M500.2 225.6v7.1M536 248.7l5 5m0 -5l-5 5M535 251.2h7.1M538.5 247.7v7.1M574.3 264.4l5 5m0 -5l-5 5M573.3 266.9h7.1M576.8 263.3v7.1M612.6 282.9l5 5m0 -5l-5 5M611.6 285.4h7.1M615.1 281.9v7.1M650.9 303.2l5 5m0 -5l-5 5M649.8 305.7h7.1M653.4 302.2v7.1M689.2 318.2l5 5m0 -5l-5 5M688.1 320.7h7.1M691.7 317.1v7.1M727.5 330l5 5m0 -5l-5 5M726.4 332.5h7.1M730 328.9v7.1M765.8 337l5 5m0 -5l-5 5M764.7 339.5h7.1M768.3 336v7.1"/>
<path d="M123.5 314.8l3.1 -5.4h-6.2zM161.7 314.2l3.1 -5.4h-6.2zM200 315l3.1 -5.4h-6.2zM238.3 315l3.1 -5.4h-6.2zM276.6 314.8l3.1 -5.4h-6.2zM314.9 317.3l3.1 -5.4h-6.2zM353.2 314.2l3.1 -5.4h-6.2zM391.5 316l3.1 -5.4h-6.2zM429.8 318.1l3.1 -5.4h-6.2zM468.1 321.3l3.1 -5.4h-6.2zM506.4 324.1l3.1 -5.4h-6.2zM544.6 326.9l3.1 -5.4h-6.2zM582.9 330.2l3.1 -5.4h-6.2zM621.2 333.6l3.1 -5.4h-6.2zM659.5 338.8l3.1 -5.4h-6.2zM697.8 344.1l3.1 -5.4h-6.2zM736.1 348.1l3.1 -5.4h-6.2zM774.4 349l3.1 -5.4h-6.2z"/>
<path d="M127.3 304.5a2.3 2.3 0 1 0 4.6 0a2.3 2.3 0 1 0 -4.6 0M165.6 307.6a2.3 2.3 0 1 0 4.6 0a2.3 2.3 0 1 0 -4.6 0M203.9 308.5a2.3 2.3 0 1 0 4.6 0a2.3 2.3 0 1 0 -4.6 0M242.2 294.2a2.3 2.3 0 1 0 4.6 0a2.3 2.3 0 1 0 -4.6 0M280.4 293a2.3 2.3 0 1 0 4.6 0a2.3 2.3 0 1 0 -4.6 0M318.7 298.7a2.3 2.3 0 1 0 4.6 0a2.3 2.3 0 1 0 -4.6 0M357 302.6a2.3 2.3 0 1 0 4.6 0a2.3 2.3 0 1 0 -4.6 0M395.3 308.7a2.3 2.3 0 1 0 4.6 0a2.3 2.3 0 1 0 -4.6 0M433.6 314.5a2.3 2.3 0 1 0 4.6 0a2.3 2.3 0 1 0 -4.6 0M471.9 317.9a2.3 2.3 0 1 0 4.6 0a2.3 2.3 0 1 0 -4.6 0M510.2 320.3a2.3 2.3 0 1 0 4.6 0a2.3 2.3 0 1 0 -4.6 0M548.5 324.6a2.3 2.3 0 1 0 4.6 0a2.3 2.3 0 1 0 -4.6 0M586.8 328.4a2.3 2.3 0 1 0 4.6 0a2.3 2.3 0 1 0 -4.6 0M625.1 334a2.3 2.3 0 1 0 4.6 0a2.3 2.3 0 1 0 -4.6 0M663.3 339.2a2.3 2.3 0 1 0 4.6 0a2.3 2.3 0 1 0 -4.6 0M701.6 344.1a2.3 2.3 0 1 0 4.6 0a2.3 2.3 0 1 0 -4.6 0M739.9 346.5a2.3 2.3 0 1 0 4.6 0a2.3 2.3 0 1 0 -4.6 0M778.2 348.4a2.3 2.3 0 1 0 4.6 0a2.3 2.3 0 1 0 -4.6 0"/>
<path d="M133.7 266.1h4.1v4.1h-4.1zM172 268.6h4.1v4.1h-4.1zM210.2 271.1h4.1v4.1h-4.1zM248.5 263.6h4.1v4.1h-4.1zM286.8 276.3h4.1v4.1h-4.1zM325.1 284.2h4.1v4.1h-4.1zM363.4 291.3h4.1v4.1h-4.1zM401.7 299.3h4.1v4.1h-4.1zM440 308.1h4.1v4.1h-4.1zM478.3 311.2h4.1v4.1h-4.1zM516.6 315.6h4.1v4.1h-4.1zM554.9 322.7h4.1v4.1h-4.1zM593.1 328.7h4.1v4.1h-4.1zM631.4 334h4.1v4.1h-4.1zM669.7 339.8h4.1v4.1h-4.1zM708 343.7h4.1v4.1h-4.1zM746.3 346.4h4.1v4.1h-4.1zM784.6 347.8h4.1v4.1h-4.1z"/>
<path d="M139 276.6l2.9 -2.9 2.9 2.9 -2.9 2.9zM177.2 283l2.9 -2.9 2.9 2.9 -2.9 2.9zM215.5 289.2l2.9 -2.9 2.9 2.9 -2.9 2.9zM253.8 295.4l2.9 -2.9 2.9 2.9 -2.9 2.9zM292.1 302.2l2.9 -2.9 2.9 2.9 -2.9 2.9zM330.4 309l2.9 -2.9 2.9 2.9 -2.9 2.9zM368.7 315.6l2.9 -2.9 2.9 2.9 -2.9 2.9zM407 321.2l2.9 -2.9 2.9 2.9 -2.9 2.9zM445.3 326.8l2.9 -2.9 2.9 2.9 -2.9 2.9zM483.6 330.1l2.9 -2.9 2.9 2.9 -2.9 2.9zM521.9 334.3l2.9 -2.9 2.9 2.9 -2.9 2.9zM560.1 338.2l2.9 -2.9 2.9 2.9 -2.9 2.9zM598.4 340.6l2.9 -2.9 2.9 2.9 -2.9 2.9zM636.7 344.4l2.9 -2.9 2.9 2.9 -2.9 2.9zM675 346.7l2.9 -2.9 2.9 2.9 -2.9 2.9zM713.3 348.8l2.9 -2.9 2.9 2.9 -2.9 2.9zM751.6 350.2l2.9 -2.9 2.9 2.9 -2.9 2.9zM789.9 350.7l2.9 -2.9 2.9 2.9 -2.9 2.9z"/>
<path d="M148 281.6l3.1 5.4h-6.2zM186.3 291.1l3.1 5.4h-6.2zM224.5 299.3l3.1 5.4h-6.2zM262.8 308.3l3.1 5.4h-6.2zM301.1 316.7l3.1 5.4h-6.2zM339.4 323.5l3.1 5.4h-6.2zM377.7 327.9l3.1 5.4h-6.2zM416 331.4l3.1 5.4h-6.2zM454.3 335.6l3.1 5.4h-6.2zM492.6 338l3.1 5.4h-6.2zM530.9 340.2l3.1 5.4h-6.2zM569.2 342.1l3.1 5.4h-6.2zM607.4 343.6l3.1 5.4h-6.2zM645.7 344.7l3.1 5.4h-6.2zM684 346.1l3.1 5.4h-6.2zM722.3 346.5l3.1 5.4h-6.2zM760.6 347.1l3.1 5.4h-6.2zM798.9 347.3l3.1 5.4h-6.2z"/>
</g>
<g fill="none" stroke="#ffb7b7" stroke-width="1.3" stroke-linejoin="round">
<path d="M114.8 37.6l5 5m0 -5l-5 5M113.8 40.1h7.1M117.3 36.5v7.1M153.1 54.7l5 5m0 -5l-5 5M152.1 57.2h7.1M155.6 53.6v7.1M191.4 66.2l5 5m0 -5l-5 5M190.4 68.7h7.1M193.9 65.1v7.1M229.7 71.5l5 5m0 -5l-5 5M228.7 74h7.1M232.2 70.5v7.1M268 92.6l5 5m0 -5l-5 5M266.9 95.1h7.1M270.5 91.5v7.1M306.3 121.7l5 5m0 -5l-5 5M305.2 124.2h7.1M308.8 120.7v7.1M344.6 139.5l5 5m0 -5l-5 5M343.5 142h7.1M347.1 138.5v7.1M382.9 155.8l5 5m0 -5l-5 5M381.8 158.3h7.1M385.4 154.7v7.1M421.1 184.7l5 5m0 -5l-5 5M420.1 187.2h7.1M423.6 183.7v7.1M459.4 203.6l5 5m0 -5l-5 5M458.4 206.1h7.1M461.9 202.5v7.1M497.7 223.8l5 5m0 -5l-5 5M496.7 226.3h7.1M500.2 222.8v7.1M536 246.3l5 5m0 -5l-5 5M535 248.9h7.1M538.5 245.3v7.1M574.3 262.7l5 5m0 -5l-5 5M573.3 265.2h7.1M576.8 261.6v7.1M612.6 281.4l5 5m0 -5l-5 5M611.6 283.9h7.1M615.1 280.4v7.1M650.9 302l5 5m0 -5l-5 5M649.8 304.5h7.1M653.4 301v7.1M689.2 317.4l5 5m0 -5l-5 5M688.1 319.9h7.1M691.7 316.4v7.1M727.5 329.4l5 5m0 -5l-5 5M726.4 331.9h7.1M730 328.4v7.1M765.8 336.5l5 5m0 -5l-5 5M764.7 339h7.1M768.3 335.5v7.1"/>
<path d="M123.5 314.7l3.1 -5.4h-6.2zM161.7 314.2l3.1 -5.4h-6.2zM200 315l3.1 -5.4h-6.2zM238.3 314.8l3.1 -5.4h-6.2zM276.6 314.6l3.1 -5.4h-6.2zM314.9 316.8l3.1 -5.4h-6.2zM353.2 313.9l3.1 -5.4h-6.2zM391.5 315.6l3.1 -5.4h-6.2zM429.8 317.8l3.1 -5.4h-6.2zM468.1 320.7l3.1 -5.4h-6.2zM506.4 323.4l3.1 -5.4h-6.2zM544.6 326.2l3.1 -5.4h-6.2zM582.9 329.6l3.1 -5.4h-6.2zM621.2 333.1l3.1 -5.4h-6.2zM659.5 338.3l3.1 -5.4h-6.2zM697.8 343.7l3.1 -5.4h-6.2zM736.1 347.8l3.1 -5.4h-6.2zM774.4 348.7l3.1 -5.4h-6.2z"/>
<path d="M127.3 304.6a2.3 2.3 0 1 0 4.6 0a2.3 2.3 0 1 0 -4.6 0M165.6 307.7a2.3 2.3 0 1 0 4.6 0a2.3 2.3 0 1 0 -4.6 0M203.9 308.6a2.3 2.3 0 1 0 4.6 0a2.3 2.3 0 1 0 -4.6 0M242.2 295.4a2.3 2.3 0 1 0 4.6 0a2.3 2.3 0 1 0 -4.6 0M280.4 294.1a2.3 2.3 0 1 0 4.6 0a2.3 2.3 0 1 0 -4.6 0M318.7 298.3a2.3 2.3 0 1 0 4.6 0a2.3 2.3 0 1 0 -4.6 0M357 302.1a2.3 2.3 0 1 0 4.6 0a2.3 2.3 0 1 0 -4.6 0M395.3 308.3a2.3 2.3 0 1 0 4.6 0a2.3 2.3 0 1 0 -4.6 0M433.6 313.8a2.3 2.3 0 1 0 4.6 0a2.3 2.3 0 1 0 -4.6 0M471.9 317.2a2.3 2.3 0 1 0 4.6 0a2.3 2.3 0 1 0 -4.6 0M510.2 319.5a2.3 2.3 0 1 0 4.6 0a2.3 2.3 0 1 0 -4.6 0M548.5 324a2.3 2.3 0 1 0 4.6 0a2.3 2.3 0 1 0 -4.6 0M586.8 327.9a2.3 2.3 0 1 0 4.6 0a2.3 2.3 0 1 0 -4.6 0M625.1 333.6a2.3 2.3 0 1 0 4.6 0a2.3 2.3 0 1 0 -4.6 0M663.3 338.9a2.3 2.3 0 1 0 4.6 0a2.3 2.3 0 1 0 -4.6 0M701.6 343.9a2.3 2.3 0 1 0 4.6 0a2.3 2.3 0 1 0 -4.6 0M739.9 346.3a2.3 2.3 0 1 0 4.6 0a2.3 2.3 0 1 0 -4.6 0M778.2 348.3a2.3 2.3 0 1 0 4.6 0a2.3 2.3 0 1 0 -4.6 0"/>
<path d="M133.7 266.2h4.1v4.1h-4.1zM172 268.7h4.1v4.1h-4.1zM210.2 271.2h4.1v4.1h-4.1zM248.5 264.6h4.1v4.1h-4.1zM286.8 275.2h4.1v4.1h-4.1zM325.1 283.5h4.1v4.1h-4.1zM363.4 290.4h4.1v4.1h-4.1zM401.7 298.5h4.1v4.1h-4.1zM440 307.2h4.1v4.1h-4.1zM478.3 310.2h4.1v4.1h-4.1zM516.6 314.6h4.1v4.1h-4.1zM554.9 321.9h4.1v4.1h-4.1zM593.1 328.1h4.1v4.1h-4.1zM631.4 333.5h4.1v4.1h-4.1zM669.7 339.5h4.1v4.1h-4.1zM708 343.4h4.1v4.1h-4.1zM746.3 346.3h4.1v4.1h-4.1zM784.6 347.7h4.1v4.1h-4.1z"/>
<path d="M139 276.5l2.9 -2.9 2.9 2.9 -2.9 2.9zM177.2 282.6l2.9 -2.9 2.9 2.9 -2.9 2.9zM215.5 288.6l2.9 -2.9 2.9 2.9 -2.9 2.9zM253.8 294.5l2.9 -2.9 2.9 2.9 -2.9 2.9zM292.1 301.4l2.9 -2.9 2.9 2.9 -2.9 2.9zM330.4 308.2l2.9 -2.9 2.9 2.9 -2.9 2.9zM368.7 314.8l2.9 -2.9 2.9 2.9 -2.9 2.9zM407 320.5l2.9 -2.9 2.9 2.9 -2.9 2.9zM445.3 326.2l2.9 -2.9 2.9 2.9 -2.9 2.9zM483.6 329.5l2.9 -2.9 2.9 2.9 -2.9 2.9zM521.9 333.8l2.9 -2.9 2.9 2.9 -2.9 2.9zM560.1 337.8l2.9 -2.9 2.9 2.9 -2.9 2.9zM598.4 340.2l2.9 -2.9 2.9 2.9 -2.9 2.9zM636.7 344.1l2.9 -2.9 2.9 2.9 -2.9 2.9zM675 346.5l2.9 -2.9 2.9 2.9 -2.9 2.9zM713.3 348.7l2.9 -2.9 2.9 2.9 -2.9 2.9zM751.6 350.1l2.9 -2.9 2.9 2.9 -2.9 2.9zM789.9 350.7l2.9 -2.9 2.9 2.9 -2.9 2.9z"/>
<path d="M148 280.4l3.1 5.4h-6.2zM186.3 289.8l3.1 5.4h-6.2zM224.5 298.1l3.1 5.4h-6.2zM262.8 307.2l3.1 5.4h-6.2zM301.1 315.9l3.1 5.4h-6.2zM339.4 322.8l3.1 5.4h-6.2zM377.7 327.4l3.1 5.4h-6.2zM416 330.9l3.1 5.4h-6.2zM454.3 335.2l3.1 5.4h-6.2zM492.6 337.7l3.1 5.4h-6.2zM530.9 339.9l3.1 5.4h-6.2zM569.2 341.8l3.1 5.4h-6.2zM607.4 343.4l3.1 5.4h-6.2zM645.7 344.6l3.1 5.4h-6.2zM684 346l3.1 5.4h-6.2zM722.3 346.5l3.1 5.4h-6.2zM760.6 347.1l3.1 5.4h-6.2zM798.9 347.2l3.1 5.4h-6.2z"/>
</g>
<g fill="none" stroke="#ffa9b2" stroke-width="1.3" stroke-linejoin="round">
<path d="M114.8 36.7l5 5m0 -5l-5 5M113.8 39.2h7.1M117.3 35.6v7.1M153.1 52.5l5 5m0 -5l-5 5M152.1 55h7.1M155.6 51.5v7.1M191.4 65l5 5m0 -5l-5 5M190.4 67.6h7.1M193.9 64v7.1M229.7 72l5 5m0 -5l-5 5M228.7 74.5h7.1M232.2 71v7.1M268 90.6l5 5m0 -5l-5 5M266.9 93.1h7.1M270.5 89.6v7.1M306.3 118.9l5 5m0 -5l-5 5M305.2 121.4h7.1M308.8 117.9v7.1M344.6 136.6l5 5m0 -5l-5 5M343.5 139.1h7.1M347.1 135.6v7.1M382.9 155l5 5m0 -5l-5 5M381.8 157.5h7.1M385.4 153.9v7.1M421.1 182.8l5 5m0 -5l-5 5M420.1 185.3h7.1M423.6 181.7v7.1M459.4 200.9l5 5m0 -5l-5 5M458.4 203.4h7.1M461.9 199.9v7.1M497.7 221l5 5m0 -5l-5 5M496.7 223.6h7.1M500.2 220v7.1M536 244l5 5m0 -5l-5 5M535 246.5h7.1M538.5 242.9v7.1M574.3 261l5 5m0 -5l-5 5M573.3 263.5h7.1M576.8 259.9v7.1M612.6 279.9l5 5m0 -5l-5 5M611.6 282.4h7.1M615.1 278.9v7.1M650.9 300.9l5 5m0 -5l-5 5M649.8 303.4h7.1M653.4 299.8v7.1M689.2 316.7l5 5m0 -5l-5 5M688.1 319.2h7.1M691.7 315.7v7.1M727.5 328.9l5 5m0 -5l-5 5M726.4 331.4h7.1M730 327.9v7.1M765.8 336.1l5 5m0 -5l-5 5M764.7 338.6h7.1M768.3 335v7.1"/>
<path d="M123.5 314.7l3.1 -5.4h-6.2zM161.7 314.2l3.1 -5.4h-6.2zM200 314.9l3.1 -5.4h-6.2zM238.3 314.7l3.1 -5.4h-6.2zM276.6 314.4l3.1 -5.4h-6.2zM314.9 316.2l3.1 -5.4h-6.2zM353.2 313.6l3.1 -5.4h-6.2zM391.5 315.3l3.1 -5.4h-6.2zM429.8 317.5l3.1 -5.4h-6.2zM468.1 320.2l3.1 -5.4h-6.2zM506.4 322.8l3.1 -5.4h-6.2zM544.6 325.6l3.1 -5.4h-6.2zM582.9 329l3.1 -5.4h-6.2zM621.2 332.6l3.1 -5.4h-6.2zM659.5 337.9l3.1 -5.4h-6.2zM697.8 343.4l3.1 -5.4h-6.2zM736.1 347.5l3.1 -5.4h-6.2zM774.4 348.5l3.1 -5.4h-6.2z"/>
<path d="M127.3 304.7a2.3 2.3 0 1 0 4.6 0a2.3 2.3 0 1 0 -4.6 0M165.6 307.8a2.3 2.3 0 1 0 4.6 0a2.3 2.3 0 1 0 -4.6 0M203.9 308.8a2.3 2.3 0 1 0 4.6 0a2.3 2.3 0 1 0 -4.6 0M242.2 296.6a2.3 2.3 0 1 0 4.6 0a2.3 2.3 0 1 0 -4.6 0M280.4 295.2a2.3 2.3 0 1 0 4.6 0a2.3 2.3 0 1 0 -4.6 0M318.7 297.8a2.3 2.3 0 1 0 4.6 0a2.3 2.3 0 1 0 -4.6 0M357 301.6a2.3 2.3 0 1 0 4.6 0a2.3 2.3 0 1 0 -4.6 0M395.3 308a2.3 2.3 0 1 0 4.6 0a2.3 2.3 0 1 0 -4.6 0M433.6 313.2a2.3 2.3 0 1 0 4.6 0a2.3 2.3 0 1 0 -4.6 0M471.9 316.4a2.3 2.3 0 1 0 4.6 0a2.3 2.3 0 1 0 -4.6 0M510.2 318.8a2.3 2.3 0 1 0 4.6 0a2.3 2.3 0 1 0 -4.6 0M548.5 323.3a2.3 2.3 0 1 0 4.6 0a2.3 2.3 0 1 0 -4.6 0M586.8 327.5a2.3 2.3 0 1 0 4.6 0a2.3 2.3 0 1 0 -4.6 0M625.1 333.2a2.3 2.3 0 1 0 4.6 0a2.3 2.3 0 1 0 -4.6 0M663.3 338.5a2.3 2.3 0 1 0 4.6 0a2.3 2.3 0 1 0 -4.6 0M701.6 343.7a2.3 2.3 0 1 0 4.6 0a2.3 2.3 0 1 0 -4.6 0M739.9 346.1a2.3 2.3 0 1 0 4.6 0a2.3 2.3 0 1 0 -4.6 0M778.2 348.2a2.3 2.3 0 1 0 4.6 0a2.3 2.3 0 1 0 -4.6 0"/>
<path d="M133.7 266.2h4.1v4.1h-4.1zM172 268.8h4.1v4.1h-4.1zM210.2 271.2h4.1v4.1h-4.1zM248.5 265.5h4.1v4.1h-4.1zM286.8 274h4.1v4.1h-4.1zM325.1 282.8h4.1v4.1h-4.1zM363.4 289.4h4.1v4.1h-4.1zM401.7 297.7h4.1v4.1h-4.1zM440 306.3h4.1v4.1h-4.1zM478.3 309.2h4.1v4.1h-4.1zM516.6 313.6h4.1v4.1h-4.1zM554.9 321.2h4.1v4.1h-4.1zM593.1 327.5h4.1v4.1h-4.1zM631.4 333.1h4.1v4.1h-4.1zM669.7 339.2h4.1v4.1h-4.1zM708 343.2h4.1v4.1h-4.1zM746.3 346.2h4.1v4.1h-4.1zM784.6 347.7h4.1v4.1h-4.1z"/>
<path d="M139 276.4l2.9 -2.9 2.9 2.9 -2.9 2.9zM177.2 282.2l2.9 -2.9 2.9 2.9 -2.9 2.9zM215.5 287.9l2.9 -2.9 2.9 2.9 -2.9 2.9zM253.8 293.7l2.9 -2.9 2.9 2.9 -2.9 2.9zM292.1 300.6l2.9 -2.9 2.9 2.9 -2.9 2.9zM330.4 307.4l2.9 -2.9 2.9 2.9 -2.9 2.9zM368.7 314l2.9 -2.9 2.9 2.9 -2.9 2.9zM407 319.8l2.9 -2.9 2.9 2.9 -2.9 2.9zM445.3 325.5l2.9 -2.9 2.9 2.9 -2.9 2.9zM483.6 328.9l2.9 -2.9 2.9 2.9 -2.9 2.9zM521.9 333.2l2.9 -2.9 2.9 2.9 -2.9 2.9zM560.1 337.4l2.9 -2.9 2.9 2.9 -2.9 2.9zM598.4 339.9l2.9 -2.9 2.9 2.9 -2.9 2.9zM636.7 343.9l2.9 -2.9 2.9 2.9 -2.9 2.9zM675 346.3l2.9 -2.9 2.9 2.9 -2.9 2.9zM713.3 348.6l2.9 -2.9 2.9 2.9 -2.9 2.9zM751.6 350.1l2.9 -2.9 2.9 2.9 -2.9 2.9zM789.9 350.7l2.9 -2.9 2.9 2.9 -2.9 2.9z"/>
<path d="M148 279.2l3.1 5.4h-6.2zM186.3 288.5l3.1 5.4h-6.2zM224.5 296.9l3.1 5.4h-6.2zM262.8 306.1l3.1 5.4h-6.2zM301.1 315l3.1 5.4h-6.2zM339.4 322.2l3.1 5.4h-6.2zM377.7 326.9l3.1 5.4h-6.2zM416 330.4l3.1 5.4h-6.2zM454.3 334.9l3.1 5.4h-6.2zM492.6 337.4l3.1 5.4h-6.2zM530.9 339.6l3.1 5.4h-6.2zM569.2 341.6l3.1 5.4h-6.2zM607.4 343.2l3.1 5.4h-6.2zM645.7 344.5l3.1 5.4h-6.2zM684 346l3.1 5.4h-6.2zM722.3 346.5l3.1 5.4h-6.2zM760.6 347l3.1 5.4h-6.2zM798.9 347.2l3.1 5.4h-6.2z"/>
</g>
<g fill="none" stroke="#ff9caf" stroke-width="1.3" stroke-linejoin="round">
<path d="M114.8 35.7l5 5m0 -5l-5 5M113.8 38.2h7.1M117.3 34.7v7.1M153.1 50.4l5 5m0 -5l-5 5M152.1 52.9h7.1M155.6 49.4v7.1M191.4 63.9l5 5m0 -5l-5 5M190.4 66.4h7.1M193.9 62.9v7.1M229.7 72.5l5 5m0 -5l-5 5M228.7 75.1h7.1M232.2 71.5v7.1M268 88.7l5 5m0 -5l-5 5M266.9 91.2h7.1M270.5 87.6v7.1M306.3 116.1l5 5m0 -5l-5 5M305.2 118.6h7.1M308.8 115.1v7.1M344.6 133.7l5 5m0 -5l-5 5M343.5 136.2h7.1M347.1 132.6v7.1M382.9 154.1l5 5m0 -5l-5 5M381.8 156.7h7.1M385.4 153.1v7.1M421.1 180.8l5 5m0 -5l-5 5M420.1 183.3h7.1M423.6 179.7v7.1M459.4 198.2l5 5m0 -5l-5 5M458.4 200.7h7.1M461.9 197.2v7.1M497.7 218.3l5 5m0 -5l-5 5M496.7 220.8h7.1M500.2 217.2v7.1M536 241.6l5 5m0 -5l-5 5M535 244.1h7.1M538.5 240.5v7.1M574.3 259.3l5 5m0 -5l-5 5M573.3 261.8h7.1M576.8 258.2v7.1M612.6 278.4l5 5m0 -5l-5 5M611.6 280.9h7.1M615.1 277.3v7.1M650.9 299.7l5 5m0 -5l-5 5M649.8 302.2h7.1M653.4 298.6v7.1M689.2 316l5 5m0 -5l-5 5M688.1 318.5h7.1M691.7 314.9v7.1M727.5 328.4l5 5m0 -5l-5 5M726.4 330.9h7.1M730 327.4v7.1M765.8 335.6l5 5m0 -5l-5 5M764.7 338.1h7.1M768.3 334.6v7.1"/>
<path d="M123.5 314.7l3.1 -5.4h-6.2zM161.7 314.1l3.1 -5.4h-6.2zM200 314.9l3.1 -5.4h-6.2zM238.3 314.6l3.1 -5.4h-6.2zM276.6 314.2l3.1 -5.4h-6.2zM314.9 315.7l3.1 -5.4h-6.2zM353.2 313.3l3.1 -5.4h-6.2zM391.5 315l3.1 -5.4h-6.2zM429.8 317.2l3.1 -5.4h-6.2zM468.1 319.7l3.1 -5.4h-6.2zM506.4 322.2l3.1 -5.4h-6.2zM544.6 324.9l3.1 -5.4h-6.2zM582.9 328.4l3.1 -5.4h-6.2zM621.2 332.1l3.1 -5.4h-6.2zM659.5 337.4l3.1 -5.4h-6.2zM697.8 343l3.1 -5.4h-6.2zM736.1 347.2l3.1 -5.4h-6.2zM774.4 348.2l3.1 -5.4h-6.2z"/>
<path d="M127.3 304.8a2.3 2.3 0 1 0 4.6 0a2.3 2.3 0 1 0 -4.6 0M165.6 307.8a2.3 2.3 0 1 0 4.6 0a2.3 2.3 0 1 0 -4.6 0M203.9 308.9a2.3 2.3 0 1 0 4.6 0a2.3 2.3 0 1 0 -4.6 0M242.2 297.8a2.3 2.3 0 1 0 4.6 0a2.3 2.3 0 1 0 -4.6 0M280.4 296.3a2.3 2.3 0 1 0 4.6 0a2.3 2.3 0 1 0 -4.6 0M318.7 297.4a2.3 2.3 0 1 0 4.6 0a2.3 2.3 0 1 0 -4.6 0M357 301.1a2.3 2.3 0 1 0 4.6 0a2.3 2.3 0 1 0 -4.6 0M395.3 307.6a2.3 2.3 0 1 0 4.6 0a2.3 2.3 0 1 0 -4.6 0M433.6 312.6a2.3 2.3 0 1 0 4.6 0a2.3 2.3 0 1 0 -4.6 0M471.9 315.6a2.3 2.3 0 1 0 4.6 0a2.3 2.3 0 1 0 -4.6 0M510.2 318.1a2.3 2.3 0 1 0 4.6 0a2.3 2.3 0 1 0 -4.6 0M548.5 322.7a2.3 2.3 0 1 0 4.6 0a2.3 2.3 0 1 0 -4.6 0M586.8 327a2.3 2.3 0 1 0 4.6 0a2.3 2.3 0 1 0 -4.6 0M625.1 332.8a2.3 2.3 0 1 0 4.6 0a2.3 2.3 0 1 0 -4.6 0M663.3 338.1a2.3 2.3 0 1 0 4.6 0a2.3 2.3 0 1 0 -4.6 0M701.6 343.5a2.3 2.3 0 1 0 4.6 0a2.3 2.3 0 1 0 -4.6 0M739.9 346a2.3 2.3 0 1 0 4.6 0a2.3 2.3 0 1 0 -4.6 0M778.2 348a2.3 2.3 0 1 0 4.6 0a2.3 2.3 0 1 0 -4.6 0"/>
<path d="M133.7 266.3h4.1v4.1h-4.1zM172 268.9h4.1v4.1h-4.1zM210.2 271.3h4.1v4.1h-4.1zM248.5 266.5h4.1v4.1h-4.1zM286.8 272.8h4.1v4.1h-4.1zM325.1 282.1h4.1v4.1h-4.1zM363.4 288.5h4.1v4.1h-4.1zM401.7 296.9h4.1v4.1h-4.1zM440 305.4h4.1v4.1h-4.1zM478.3 308.2h4.1v4.1h-4.1zM516.6 312.6h4.1v4.1h-4.1zM554.9 320.4h4.1v4.1h-4.1zM593.1 326.9h4.1v4.1h-4.1zM631.4 332.7h4.1v4.1h-4.1zM669.7 338.8h4.1v4.1h-4.1zM708 343h4.1v4.1h-4.1zM746.3 346.1h4.1v4.1h-4.1zM784.6 347.6h4.1v4.1h-4.1z"/>
<path d="M139 276.3l2.9 -2.9 2.9 2.9 -2.9 2.9zM177.2 281.8l2.9 -2.9 2.9 2.9 -2.9 2.9zM215.5 287.2l2.9 -2.9 2.9 2.9 -2.9 2.9zM253.8 292.9l2.9 -2.9 2.9 2.9 -2.9 2.9zM292.1 299.8l2.9 -2.9 2.9 2.9 -2.9 2.9zM330.4 306.6l2.9 -2.9 2.9 2.9 -2.9 2.9zM368.7 313.2l2.9 -2.9 2.9 2.9 -2.9 2.9zM407 319.2l2.9 -2.9 2.9 2.9 -2.9 2.9zM445.3 324.9l2.9 -2.9 2.9 2.9 -2.9 2.9zM483.6 328.3l2.9 -2.9 2.9 2.9 -2.9 2.9zM521.9 332.6l2.9 -2.9 2.9 2.9 -2.9 2.9zM560.1 337l2.9 -2.9 2.9 2.9 -2.9 2.9zM598.4 339.6l2.9 -2.9 2.9 2.9 -2.9 2.9zM636.7 343.6l2.9 -2.9 2.9 2.9 -2.9 2.9zM675 346.2l2.9 -2.9 2.9 2.9 -2.9 2.9zM713.3 348.5l2.9 -2.9 2.9 2.9 -2.9 2.9zM751.6 350l2.9 -2.9 2.9 2.9 -2.9 2.9zM789.9 350.6l2.9 -2.9 2.9 2.9 -2.9 2.9z"/>
<path d="M148 278l3.1 5.4h-6.2zM186.3 287.2l3.1 5.4h-6.2zM224.5 295.6l3.1 5.4h-6.2zM262.8 305l3.1 5.4h-6.2zM301.1 314.1l3.1 5.4h-6.2zM339.4 321.5l3.1 5.4h-6.2zM377.7 326.3l3.1 5.4h-6.2zM416 329.9l3.1 5.4h-6.2zM454.3 334.5l3.1 5.4h-6.2zM492.6 337.1l3.1 5.4h-6.2zM530.9 339.3l3.1 5.4h-6.2zM569.2 341.4l3.1 5.4h-6.2zM607.4 343l3.1 5.4h-6.2zM645.7 344.4l3.1 5.4h-6.2zM684 345.9l3.1 5.4h-6.2zM722.3 346.4l3.1 5.4h-6.2zM760.6 347l3.1 5.4h-6.2zM798.9 347.2l3.1 5.4h-6.2z"/>
</g>
<g fill="none" stroke="#ff90ab" stroke-width="1.3" stroke-linejoin="round">
<path d="M114.8 34.8l5 5m0 -5l-5 5M113.8 37.3h7.1M117.3 33.8v7.1M153.1 48.3l5 5m0 -5l-5 5M152.1 50.8h7.1M155.6 47.2v7.1M191.4 62.8l5 5m0 -5l-5 5M190.4 65.3h7.1M193.9 61.7v7.1M229.7 73.1l5 5m0 -5l-5 5M228.7 75.6h7.1M232.2 72v7.1M268 86.7l5 5m0 -5l-5 5M266.9 89.2h7.1M270.5 85.7v7.1M306.3 113.3l5 5m0 -5l-5 5M305.2 115.8h7.1M308.8 112.3v7.1M344.6 130.8l5 5m0 -5l-5 5M343.5 133.3h7.1M347.1 129.7v7.1M382.9 153.3l5 5m0 -5l-5 5M381.8 155.9h7.1M385.4 152.3v7.1M421.1 178.8l5 5m0 -5l-5 5M420.1 181.3h7.1M423.6 177.8v7.1M459.4 195.6l5 5m0 -5l-5 5M458.4 198.1h7.1M461.9 194.5v7.1M497.7 215.5l5 5m0 -5l-5 5M496.7 218h7.1M500.2 214.4v7.1M536 239.2l5 5m0 -5l-5 5M535 241.7h7.1M538.5 238.2v7.1M574.3 257.6l5 5m0 -5l-5 5M573.3 260.1h7.1M576.8 256.5v7.1M612.6 276.9l5 5m0 -5l-5 5M611.6 279.4h7.1M615.1 275.8v7.1M650.9 298.5l5 5m0 -5l-5 5M649.8 301h7.1M653.4 297.5v7.1M689.2 315.2l5 5m0 -5l-5 5M688.1 317.7h7.1M691.7 314.2v7.1M727.5 327.9l5 5m0 -5l-5 5M726.4 330.4h7.1M730 326.8v7.1M765.8 335.1l5 5m0 -5l-5 5M764.7 337.6h7.1M768.3 334.1v7.1"/>
<path d="M123.5 314.7l3.1 -5.4h-6.2zM161.7 314.1l3.1 -5.4h-6.2zM200 314.9l3.1 -5.4h-6.2zM238.3 314.5l3.1 -5.4h-6.2zM276.6 313.9l3.1 -5.4h-6.2zM314.9 315.1l3.1 -5.4h-6.2zM353.2 313l3.1 -5.4h-6.2zM391.5 314.7l3.1 -5.4h-6.2zM429.8 316.8l3.1 -5.4h-6.2zM468.1 319.1l3.1 -5.4h-6.2zM506.4 321.6l3.1 -5.4h-6.2zM544.6 324.3l3.1 -5.4h-6.2zM582.9 327.8l3.1 -5.4h-6.2zM621.2 331.6l3.1 -5.4h-6.2zM659.5 336.9l3.1 -5.4h-6.2zM697.8 342.7l3.1 -5.4h-6.2zM736.1 346.9l3.1 -5.4h-6.2zM774.4 347.9l3.1 -5.4h-6.2z"/>
<path d="M127.3 304.9a2.3 2.3 0 1 0 4.6 0a2.3 2.3 0 1 0 -4.6 0M165.6 307.9a2.3 2.3 0 1 0 4.6 0a2.3 2.3 0 1 0 -4.6 0M203.9 309a2.3 2.3 0 1 0 4.6 0a2.3 2.3 0 1 0 -4.6 0M242.2 299a2.3 2.3 0 1 0 4.6 0a2.3 2.3 0 1 0 -4.6 0M280.4 297.4a2.3 2.3 0 1 0 4.6 0a2.3 2.3 0 1 0 -4.6 0M318.7 297a2.3 2.3 0 1 0 4.6 0a2.3 2.3 0 1 0 -4.6 0M357 300.6a2.3 2.3 0 1 0 4.6 0a2.3 2.3 0 1 0 -4.6 0M395.3 307.2a2.3 2.3 0 1 0 4.6 0a2.3 2.3 0 1 0 -4.6 0M433.6 312a2.3 2.3 0 1 0 4.6 0a2.3 2.3 0 1 0 -4.6 0M471.9 314.8a2.3 2.3 0 1 0 4.6 0a2.3 2.3 0 1 0 -4.6 0M510.2 317.3a2.3 2.3 0 1 0 4.6 0a2.3 2.3 0 1 0 -4.6 0M548.5 322.1a2.3 2.3 0 1 0 4.6 0a2.3 2.3 0 1 0 -4.6 0M586.8 326.5a2.3 2.3 0 1 0 4.6 0a2.3 2.3 0 1 0 -4.6 0M625.1 332.3a2.3 2.3 0 1 0 4.6 0a2.3 2.3 0 1 0 -4.6 0M663.3 337.8a2.3 2.3 0 1 0 4.6 0a2.3 2.3 0 1 0 -4.6 0M701.6 343.3a2.3 2.3 0 1 0 4.6 0a2.3 2.3 0 1 0 -4.6 0M739.9 345.8a2.3 2.3 0 1 0 4.6 0a2.3 2.3 0 1 0 -4.6 0M778.2 347.9a2.3 2.3 0 1 0 4.6 0a2.3 2.3 0 1 0 -4.6 0"/>
<path d="M133.7 266.4h4.1v4.1h-4.1zM172 269h4.1v4.1h-4.1zM210.2 271.4h4.1v4.1h-4.1zM248.5 267.4h4.1v4.1h-4.1zM286.8 271.7h4.1v4.1h-4.1zM325.1 281.4h4.1v4.1h-4.1zM363.4 287.6h4.1v4.1h-4.1zM401.7 296.1h4.1v4.1h-4.1zM440 304.5h4.1v4.1h-4.1zM478.3 307.1h4.1v4.1h-4.1zM516.6 311.6h4.1v4.1h-4.1zM554.9 319.6h4.1v4.1h-4.1zM593.1 326.3h4.1v4.1h-4.1zM631.4 332.2h4.1v4.1h-4.1zM669.7 338.5h4.1v4.1h-4.1zM708 342.8h4.1v4.1h-4.1zM746.3 346h4.1v4.1h-4.1zM784.6 347.5h4.1v4.1h-4.1z"/>
<path d="M139 276.1l2.9 -2.9 2.9 2.9 -2.9 2.9zM177.2 281.4l2.9 -2.9 2.9 2.9 -2.9 2.9zM215.5 286.5l2.9 -2.9 2.9 2.9 -2.9 2.9zM253.8 292.1l2.9 -2.9 2.9 2.9 -2.9 2.9zM292.1 299l2.9 -2.9 2.9 2.9 -2.9 2.9zM330.4 305.8l2.9 -2.9 2.9 2.9 -2.9 2.9zM368.7 312.4l2.9 -2.9 2.9 2.9 -2.9 2.9zM407 318.5l2.9 -2.9 2.9 2.9 -2.9 2.9zM445.3 324.3l2.9 -2.9 2.9 2.9 -2.9 2.9zM483.6 327.7l2.9 -2.9 2.9 2.9 -2.9 2.9zM521.9 332.1l2.9 -2.9 2.9 2.9 -2.9 2.9zM560.1 336.6l2.9 -2.9 2.9 2.9 -2.9 2.9zM598.4 339.2l2.9 -2.9 2.9 2.9 -2.9 2.9zM636.7 343.3l2.9 -2.9 2.9 2.9 -2.9 2.9zM675 346l2.9 -2.9 2.9 2.9 -2.9 2.9zM713.3 348.4l2.9 -2.9 2.9 2.9 -2.9 2.9zM751.6 350l2.9 -2.9 2.9 2.9 -2.9 2.9zM789.9 350.6l2.9 -2.9 2.9 2.9 -2.9 2.9z"/>
<path d="M148 276.8l3.1 5.4h-6.2zM186.3 285.9l3.1 5.4h-6.2zM224.5 294.4l3.1 5.4h-6.2zM262.8 303.8l3.1 5.4h-6.2zM301.1 313.2l3.1 5.4h-6.2zM339.4 320.9l3.1 5.4h-6.2zM377.7 325.8l3.1 5.4h-6.2zM416 329.4l3.1 5.4h-6.2zM454.3 334.1l3.1 5.4h-6.2zM492.6 336.8l3.1 5.4h-6.2zM530.9 339l3.1 5.4h-6.2zM569.2 341.1l3.1 5.4h-6.2zM607.4 342.9l3.1 5.4h-6.2zM645.7 344.3l3.1 5.4h-6.2zM684 345.9l3.1 5.4h-6.2zM722.3 346.4l3.1 5.4h-6.2zM760.6 347l3.1 5.4h-6.2zM798.9 347.2l3.1 5.4h-6.2z"/>
</g>
<g fill="none" stroke="#ff84a8" stroke-width="1.3" stroke-linejoin="round">
<path d="M114.8 33.5l5 5m0 -5l-5 5M113.8 36.1h7.1M117.3 32.5v7.1M153.1 47.2l5 5m0 -5l-5 5M152.1 49.7h7.1M155.6 46.2v7.1M191.4 61.6l5 5m0 -5l-5 5M190.4 64.1h7.1M193.9 60.6v7.1M229.7 73.6l5 5m0 -5l-5 5M228.7 76.1h7.1M232.2 72.5v7.1M268 84.8l5 5m0 -5l-5 5M266.9 87.3h7.1M270.5 83.7v7.1M306.3 111.2l5 5m0 -5l-5 5M305.2 113.7h7.1M308.8 110.2v7.1M344.6 127.8l5 5m0 -5l-5 5M343.5 130.3h7.1M347.1 126.8v7.1M382.9 151.4l5 5m0 -5l-5 5M381.8 153.9h7.1M385.4 150.4v7.1M421.1 176.8l5 5m0 -5l-5 5M420.1 179.3h7.1M423.6 175.8v7.1M459.4 192.9l5 5m0 -5l-5 5M458.4 195.4h7.1M461.9 191.9v7.1M497.7 212.7l5 5m0 -5l-5 5M496.7 215.2h7.1M500.2 211.7v7.1M536 236.8l5 5m0 -5l-5 5M535 239.3h7.1M538.5 235.8v7.1M574.3 255.9l5 5m0 -5l-5 5M573.3 258.4h7.1M576.8 254.8v7.1M612.6 275.4l5 5m0 -5l-5 5M611.6 277.9h7.1M615.1 274.3v7.1M650.9 297.4l5 5m0 -5l-5 5M649.8 299.9h7.1M653.4 296.3v7.1M689.2 314.5l5 5m0 -5l-5 5M688.1 317h7.1M691.7 313.4v7.1M727.5 327.4l5 5m0 -5l-5 5M726.4 329.9h7.1M730 326.3v7.1M765.8 334.7l5 5m0 -5l-5 5M764.7 337.2h7.1M768.3 333.6v7.1"/>
<path d="M123.5 314.7l3.1 -5.4h-6.2zM161.7 314.1l3.1 -5.4h-6.2zM200 314.8l3.1 -5.4h-6.2zM238.3 314.4l3.1 -5.4h-6.2zM276.6 313.7l3.1 -5.4h-6.2zM314.9 314.6l3.1 -5.4h-6.2zM353.2 312.6l3.1 -5.4h-6.2zM391.5 314.4l3.1 -5.4h-6.2zM429.8 316.5l3.1 -5.4h-6.2zM468.1 318.6l3.1 -5.4h-6.2zM506.4 320.9l3.1 -5.4h-6.2zM544.6 323.6l3.1 -5.4h-6.2zM582.9 327.2l3.1 -5.4h-6.2zM621.2 331.2l3.1 -5.4h-6.2zM659.5 336.4l3.1 -5.4h-6.2zM697.8 342.3l3.1 -5.4h-6.2zM736.1 346.6l3.1 -5.4h-6.2zM774.4 347.6l3.1 -5.4h-6.2z"/>
<path d="M127.3 305a2.3 2.3 0 1 0 4.6 0a2.3 2.3 0 1 0 -4.6 0M165.6 308a2.3 2.3 0 1 0 4.6 0a2.3 2.3 0 1 0 -4.6 0M203.9 309.1a2.3 2.3 0 1 0 4.6 0a2.3 2.3 0 1 0 -4.6 0M242.2 300.2a2.3 2.3 0 1 0 4.6 0a2.3 2.3 0 1 0 -4.6 0M280.4 298.5a2.3 2.3 0 1 0 4.6 0a2.3 2.3 0 1 0 -4.6 0M318.7 296.5a2.3 2.3 0 1 0 4.6 0a2.3 2.3 0 1 0 -4.6 0M357 300.1a2.3 2.3 0 1 0 4.6 0a2.3 2.3 0 1 0 -4.6 0M395.3 306.8a2.3 2.3 0 1 0 4.6 0a2.3 2.3 0 1 0 -4.6 0M433.6 311.4a2.3 2.3 0 1 0 4.6 0a2.3 2.3 0 1 0 -4.6 0M471.9 314a2.3 2.3 0 1 0 4.6 0a2.3 2.3 0 1 0 -4.6 0M510.2 316.6a2.3 2.3 0 1 0 4.6 0a2.3 2.3 0 1 0 -4.6 0M548.5 321.5a2.3 2.3 0 1 0 4.6 0a2.3 2.3 0 1 0 -4.6 0M586.8 326a2.3 2.3 0 1 0 4.6 0a2.3 2.3 0 1 0 -4.6 0M625.1 331.9a2.3 2.3 0 1 0 4.6 0a2.3 2.3 0 1 0 -4.6 0M663.3 337.4a2.3 2.3 0 1 0 4.6 0a2.3 2.3 0 1 0 -4.6 0M701.6 343.1a2.3 2.3 0 1 0 4.6 0a2.3 2.3 0 1 0 -4.6 0M739.9 345.6a2.3 2.3 0 1 0 4.6 0a2.3 2.3 0 1 0 -4.6 0M778.2 347.8a2.3 2.3 0 1 0 4.6 0a2.3 2.3 0 1 0 -4.6 0"/>
<path d="M133.7 266.5h4.1v4.1h-4.1zM172 269.1h4.1v4.1h-4.1zM210.2 271.5h4.1v4.1h-4.1zM248.5 268.3h4.1v4.1h-4.1zM286.8 270.5h4.1v4.1h-4.1zM325.1 280.7h4.1v4.1h-4.1zM363.4 286.6h4.1v4.1h-4.1zM401.7 295.3h4.1v4.1h-4.1zM440 303.6h4.1v4.1h-4.1zM478.3 306.1h4.1v4.1h-4.1zM516.6 310.6h4.1v4.1h-4.1zM554.9 318.9h4.1v4.1h-4.1zM593.1 325.7h4.1v4.1h-4.1zM631.4 331.8h4.1v4.1h-4.1zM669.7 338.2h4.1v4.1h-4.1zM708 342.5h4.1v4.1h-4.1zM746.3 345.8h4.1v4.1h-4.1zM784.6 347.5h4.1v4.1h-4.1z"/>
<path d="M139 276l2.9 -2.9 2.9 2.9 -2.9 2.9zM177.2 281l2.9 -2.9 2.9 2.9 -2.9 2.9zM215.5 285.8l2.9 -2.9 2.9 2.9 -2.9 2.9zM253.8 291.3l2.9 -2.9 2.9 2.9 -2.9 2.9zM292.1 298.2l2.9 -2.9 2.9 2.9 -2.9 2.9zM330.4 304.9l2.9 -2.9 2.9 2.9 -2.9 2.9zM368.7 311.5l2.9 -2.9 2.9 2.9 -2.9 2.9zM407 317.8l2.9 -2.9 2.9 2.9 -2.9 2.9zM445.3 323.6l2.9 -2.9 2.9 2.9 -2.9 2.9zM483.6 327.2l2.9 -2.9 2.9 2.9 -2.9 2.9zM521.9 331.5l2.9 -2.9 2.9 2.9 -2.9 2.9zM560.1 336.2l2.9 -2.9 2.9 2.9 -2.9 2.9zM598.4 338.9l2.9 -2.9 2.9 2.9 -2.9 2.9zM636.7 343l2.9 -2.9 2.9 2.9 -2.9 2.9zM675 345.8l2.9 -2.9 2.9 2.9 -2.9 2.9zM713.3 348.3l2.9 -2.9 2.9 2.9 -2.9 2.9zM751.6 350l2.9 -2.9 2.9 2.9 -2.9 2.9zM789.9 350.6l2.9 -2.9 2.9 2.9 -2.9 2.9z"/>
<path d="M148 275.6l3.1 5.4h-6.2zM186.3 284.6l3.1 5.4h-6.2zM224.5 293.1l3.1 5.4h-6.2zM262.8 302.7l3.1 5.4h-6.2zM301.1 312.4l3.1 5.4h-6.2zM339.4 320.2l3.1 5.4h-6.2zM377.7 325.3l3.1 5.4h-6.2zM416 329l3.1 5.4h-6.2zM454.3 333.8l3.1 5.4h-6.2zM492.6 336.5l3.1 5.4h-6.2zM530.9 338.7l3.1 5.4h-6.2zM569.2 340.9l3.1 5.4h-6.2zM607.4 342.7l3.1 5.4h-6.2zM645.7 344.2l3.1 5.4h-6.2zM684 345.9l3.1 5.4h-6.2zM722.3 346.4l3.1 5.4h-6.2zM760.6 347l3.1 5.4h-6.2zM798.9 347.2l3.1 5.4h-6.2z"/>
</g>
<g fill="none" stroke="#ff79a5" stroke-width="1.3" stroke-linejoin="round">
<path d="M114.8 32.3l5 5m0 -5l-5 5M113.8 34.8h7.1M117.3 31.2v7.1M153.1 46.1l5 5m0 -5l-5 5M152.1 48.6h7.1M155.6 45.1v7.1M191.4 60.5l5 5m0 -5l-5 5M190.4 63h7.1M193.9 59.5v7.1M229.7 74.1l5 5m0 -5l-5 5M228.7 76.6h7.1M232.2 73v7.1M268 82.8l5 5m0 -5l-5 5M266.9 85.3h7.1M270.5 81.8v7.1M306.3 109.1l5 5m0 -5l-5 5M305.2 111.6h7.1M308.8 108v7.1M344.6 124.9l5 5m0 -5l-5 5M343.5 127.4h7.1M347.1 123.9v7.1M382.9 149.5l5 5m0 -5l-5 5M381.8 152h7.1M385.4 148.5v7.1M421.1 174.8l5 5m0 -5l-5 5M420.1 177.3h7.1M423.6 173.8v7.1M459.4 190.2l5 5m0 -5l-5 5M458.4 192.7h7.1M461.9 189.2v7.1M497.7 209.9l5 5m0 -5l-5 5M496.7 212.4h7.1M500.2 208.9v7.1M536 234.5l5 5m0 -5l-5 5M535 237h7.1M538.5 233.4v7.1M574.3 254.2l5 5m0 -5l-5 5M573.3 256.7h7.1M576.8 253.1v7.1M612.6 273.8l5 5m0 -5l-5 5M611.6 276.3h7.1M615.1 272.8v7.1M650.9 296.2l5 5m0 -5l-5 5M649.8 298.7h7.1M653.4 295.1v7.1M689.2 313.7l5 5m0 -5l-5 5M688.1 316.2h7.1M691.7 312.7v7.1M727.5 326.8l5 5m0 -5l-5 5M726.4 329.4h7.1M730 325.8v7.1M765.8 334.2l5 5m0 -5l-5 5M764.7 336.7h7.1M768.3 333.2v7.1"/>
<path d="M123.5 314.6l3.1 -5.4h-6.2zM161.7 314.1l3.1 -5.4h-6.2zM200 314.8l3.1 -5.4h-6.2zM238.3 314.3l3.1 -5.4h-6.2zM276.6 313.5l3.1 -5.4h-6.2zM314.9 314l3.1 -5.4h-6.2zM353.2 312.3l3.1 -5.4h-6.2zM391.5 314.1l3.1 -5.4h-6.2zM429.8 316.2l3.1 -5.4h-6.2zM468.1 318l3.1 -5.4h-6.2zM506.4 320.3l3.1 -5.4h-6.2zM544.6 323l3.1 -5.4h-6.2zM582.9 326.6l3.1 -5.4h-6.2zM621.2 330.7l3.1 -5.4h-6.2zM659.5 336l3.1 -5.4h-6.2zM697.8 342l3.1 -5.4h-6.2zM736.1 346.3l3.1 -5.4h-6.2zM774.4 347.3l3.1 -5.4h-6.2z"/>
<path d="M127.3 305.2a2.3 2.3 0 1 0 4.6 0a2.3 2.3 0 1 0 -4.6 0M165.6 308.1a2.3 2.3 0 1 0 4.6 0a2.3 2.3 0 1 0 -4.6 0M203.9 309.3a2.3 2.3 0 1 0 4.6 0a2.3 2.3 0 1 0 -4.6 0M242.2 301.5a2.3 2.3 0 1 0 4.6 0a2.3 2.3 0 1 0 -4.6 0M280.4 299.7a2.3 2.3 0 1 0 4.6 0a2.3 2.3 0 1 0 -4.6 0M318.7 296.1a2.3 2.3 0 1 0 4.6 0a2.3 2.3 0 1 0 -4.6 0M357 299.6a2.3 2.3 0 1 0 4.6 0a2.3 2.3 0 1 0 -4.6 0M395.3 306.4a2.3 2.3 0 1 0 4.6 0a2.3 2.3 0 1 0 -4.6 0M433.6 310.8a2.3 2.3 0 1 0 4.6 0a2.3 2.3 0 1 0 -4.6 0M471.9 313.3a2.3 2.3 0 1 0 4.6 0a2.3 2.3 0 1 0 -4.6 0M510.2 315.9a2.3 2.3 0 1 0 4.6 0a2.3 2.3 0 1 0 -4.6 0M548.5 320.9a2.3 2.3 0 1 0 4.6 0a2.3 2.3 0 1 0 -4.6 0M586.8 325.5a2.3 2.3 0 1 0 4.6 0a2.3 2.3 0 1 0 -4.6 0M625.1 331.5a2.3 2.3 0 1 0 4.6 0a2.3 2.3 0 1 0 -4.6 0M663.3 337.1a2.3 2.3 0 1 0 4.6 0a2.3 2.3 0 1 0 -4.6 0M701.6 342.9a2.3 2.3 0 1 0 4.6 0a2.3 2.3 0 1 0 -4.6 0M739.9 345.5a2.3 2.3 0 1 0 4.6 0a2.3 2.3 0 1 0 -4.6 0M778.2 347.7a2.3 2.3 0 1 0 4.6 0a2.3 2.3 0 1 0 -4.6 0"/>
<path d="M133.7 266.6h4.1v4.1h-4.1zM172 269.2h4.1v4.1h-4.1zM210.2 271.6h4.1v4.1h-4.1zM248.5 269.3h4.1v4.1h-4.1zM286.8 269.3h4.1v4.1h-4.1zM325.1 280h4.1v4.1h-4.1zM363.4 285.7h4.1v4.1h-4.1zM401.7 294.5h4.1v4.1h-4.1zM440 302.7h4.1v4.1h-4.1zM478.3 305.1h4.1v4.1h-4.1zM516.6 309.5h4.1v4.1h-4.1zM554.9 318.1h4.1v4.1h-4.1zM593.1 325.1h4.1v4.1h-4.1zM631.4 331.4h4.1v4.1h-4.1zM669.7 337.8h4.1v4.1h-4.1zM708 342.3h4.1v4.1h-4.1zM746.3 345.7h4.1v4.1h-4.1zM784.6 347.4h4.1v4.1h-4.1z"/>
<path d="M139 275.9l2.9 -2.9 2.9 2.9 -2.9 2.9zM177.2 280.6l2.9 -2.9 2.9 2.9 -2.9 2.9zM215.5 285.2l2.9 -2.9 2.9 2.9 -2.9 2.9zM253.8 290.5l2.9 -2.9 2.9 2.9 -2.9 2.9zM292.1 297.4l2.9 -2.9 2.9 2.9 -2.9 2.9zM330.4 304.1l2.9 -2.9 2.9 2.9 -2.9 2.9zM368.7 310.7l2.9 -2.9 2.9 2.9 -2.9 2.9zM407 317.1l2.9 -2.9 2.9 2.9 -2.9 2.9zM445.3 323l2.9 -2.9 2.9 2.9 -2.9 2.9zM483.6 326.6l2.9 -2.9 2.9 2.9 -2.9 2.9zM521.9 331l2.9 -2.9 2.9 2.9 -2.9 2.9zM560.1 335.8l2.9 -2.9 2.9 2.9 -2.9 2.9zM598.4 338.5l2.9 -2.9 2.9 2.9 -2.9 2.9zM636.7 342.7l2.9 -2.9 2.9 2.9 -2.9 2.9zM675 345.6l2.9 -2.9 2.9 2.9 -2.9 2.9zM713.3 348.2l2.9 -2.9 2.9 2.9 -2.9 2.9zM751.6 349.9l2.9 -2.9 2.9 2.9 -2.9 2.9zM789.9 350.6l2.9 -2.9 2.9 2.9 -2.9 2.9z"/>
<path d="M148 274.4l3.1 5.4h-6.2zM186.3 283.3l3.1 5.4h-6.2zM224.5 291.9l3.1 5.4h-6.2zM262.8 301.6l3.1 5.4h-6.2zM301.1 311.5l3.1 5.4h-6.2zM339.4 319.5l3.1 5.4h-6.2zM377.7 324.7l3.1 5.4h-6.2zM416 328.5l3.1 5.4h-6.2zM454.3 333.4l3.1 5.4h-6.2zM492.6 336.2l3.1 5.4h-6.2zM530.9 338.4l3.1 5.4h-6.2zM569.2 340.7l3.1 5.4h-6.2zM607.4 342.5l3.1 5.4h-6.2zM645.7 344.1l3.1 5.4h-6.2zM684 345.8l3.1 5.4h-6.2zM722.3 346.3l3.1 5.4h-6.2zM760.6 347l3.1 5.4h-6.2zM798.9 347.2l3.1 5.4h-6.2z"/>
</g>
<g fill="none" stroke="#ff6ea2" stroke-width="1.3" stroke-linejoin="round">
<path d="M114.8 31l5 5m0 -5l-5 5M113.8 33.5h7.1M117.3 30v7.1M153.1 45l5 5m0 -5l-5 5M152.1 47.5h7.1M155.6 44v7.1M191.4 59.4l5 5m0 -5l-5 5M190.4 61.9h7.1M193.9 58.3v7.1M229.7 74.3l5 5m0 -5l-5 5M228.7 76.8h7.1M232.2 73.2v7.1M268 83.9l5 5m0 -5l-5 5M266.9 86.4h7.1M270.5 82.8v7.1M306.3 107l5 5m0 -5l-5 5M305.2 109.5h7.1M308.8 105.9v7.1M344.6 122l5 5m0 -5l-5 5M343.5 124.5h7.1M347.1 120.9v7.1M382.9 147.6l5 5m0 -5l-5 5M381.8 150.1h7.1M385.4 146.6v7.1M421.1 172.8l5 5m0 -5l-5 5M420.1 175.4h7.1M423.6 171.8v7.1M459.4 187.6l5 5m0 -5l-5 5M458.4 190.1h7.1M461.9 186.5v7.1M497.7 207.1l5 5m0 -5l-5 5M496.7 209.6h7.1M500.2 206.1v7.1M536 232.1l5 5m0 -5l-5 5M535 234.6h7.1M538.5 231v7.1M574.3 252.5l5 5m0 -5l-5 5M573.3 255h7.1M576.8 251.4v7.1M612.6 272.3l5 5m0 -5l-5 5M611.6 274.8h7.1M615.1 271.3v7.1M650.9 295l5 5m0 -5l-5 5M649.8 297.5h7.1M653.4 294v7.1M689.2 313l5 5m0 -5l-5 5M688.1 315.5h7.1M691.7 311.9v7.1M727.5 326.3l5 5m0 -5l-5 5M726.4 328.8h7.1M730 325.3v7.1M765.8 333.7l5 5m0 -5l-5 5M764.7 336.2h7.1M768.3 332.7v7.1"/>
<path d="M123.5 314.6l3.1 -5.4h-6.2zM161.7 314.1l3.1 -5.4h-6.2zM200 314.7l3.1 -5.4h-6.2zM238.3 314.2l3.1 -5.4h-6.2zM276.6 313.3l3.1 -5.4h-6.2zM314.9 313.5l3.1 -5.4h-6.2zM353.2 312l3.1 -5.4h-6.2zM391.5 313.8l3.1 -5.4h-6.2zM429.8 315.9l3.1 -5.4h-6.2zM468.1 317.5l3.1 -5.4h-6.2zM506.4 319.7l3.1 -5.4h-6.2zM544.6 322.3l3.1 -5.4h-6.2zM582.9 326l3.1 -5.4h-6.2zM621.2 330.2l3.1 -5.4h-6.2zM659.5 335.5l3.1 -5.4h-6.2zM697.8 341.7l3.1 -5.4h-6.2zM736.1 346.1l3.1 -5.4h-6.2zM774.4 347l3.1 -5.4h-6.2z"/>
<path d="M127.3 305.3a2.3 2.3 0 1 0 4.6 0a2.3 2.3 0 1 0 -4.6 0M165.6 308.2a2.3 2.3 0 1 0 4.6 0a2.3 2.3 0 1 0 -4.6 0M203.9 309.4a2.3 2.3 0 1 0 4.6 0a2.3 2.3 0 1 0 -4.6 0M242.2 302.7a2.3 2.3 0 1 0 4.6 0a2.3 2.3 0 1 0 -4.6 0M280.4 300.8a2.3 2.3 0 1 0 4.6 0a2.3 2.3 0 1 0 -4.6 0M318.7 295.6a2.3 2.3 0 1 0 4.6 0a2.3 2.3 0 1 0 -4.6 0M357 299.1a2.3 2.3 0 1 0 4.6 0a2.3 2.3 0 1 0 -4.6 0M395.3 306.1a2.3 2.3 0 1 0 4.6 0a2.3 2.3 0 1 0 -4.6 0M433.6 310.2a2.3 2.3 0 1 0 4.6 0a2.3 2.3 0 1 0 -4.6 0M471.9 312.5a2.3 2.3 0 1 0 4.6 0a2.3 2.3 0 1 0 -4.6 0M510.2 315.1a2.3 2.3 0 1 0 4.6 0a2.3 2.3 0 1 0 -4.6 0M548.5 320.3a2.3 2.3 0 1 0 4.6 0a2.3 2.3 0 1 0 -4.6 0M586.8 325a2.3 2.3 0 1 0 4.6 0a2.3 2.3 0 1 0 -4.6 0M625.1 331.1a2.3 2.3 0 1 0 4.6 0a2.3 2.3 0 1 0 -4.6 0M663.3 336.7a2.3 2.3 0 1 0 4.6 0a2.3 2.3 0 1 0 -4.6 0M701.6 342.7a2.3 2.3 0 1 0 4.6 0a2.3 2.3 0 1 0 -4.6 0M739.9 345.3a2.3 2.3 0 1 0 4.6 0a2.3 2.3 0 1 0 -4.6 0M778.2 347.6a2.3 2.3 0 1 0 4.6 0a2.3 2.3 0 1 0 -4.6 0"/>
<path d="M133.7 266.7h4.1v4.1h-4.1zM172 269.2h4.1v4.1h-4.1zM210.2 271.6h4.1v4.1h-4.1zM248.5 270.2h4.1v4.1h-4.1zM286.8 270.7h4.1v4.1h-4.1zM325.1 279.3h4.1v4.1h-4.1zM363.4 284.8h4.1v4.1h-4.1zM401.7 293.7h4.1v4.1h-4.1zM440 301.8h4.1v4.1h-4.1zM478.3 304.1h4.1v4.1h-4.1zM516.6 308.5h4.1v4.1h-4.1zM554.9 317.3h4.1v4.1h-4.1zM593.1 324.5h4.1v4.1h-4.1zM631.4 330.9h4.1v4.1h-4.1zM669.7 337.5h4.1v4.1h-4.1zM708 342.1h4.1v4.1h-4.1zM746.3 345.6h4.1v4.1h-4.1zM784.6 347.4h4.1v4.1h-4.1z"/>
<path d="M139 275.7l2.9 -2.9 2.9 2.9 -2.9 2.9zM177.2 280.2l2.9 -2.9 2.9 2.9 -2.9 2.9zM215.5 284.5l2.9 -2.9 2.9 2.9 -2.9 2.9zM253.8 289.7l2.9 -2.9 2.9 2.9 -2.9 2.9zM292.1 296.6l2.9 -2.9 2.9 2.9 -2.9 2.9zM330.4 303.3l2.9 -2.9 2.9 2.9 -2.9 2.9zM368.7 309.9l2.9 -2.9 2.9 2.9 -2.9 2.9zM407 316.4l2.9 -2.9 2.9 2.9 -2.9 2.9zM445.3 322.4l2.9 -2.9 2.9 2.9 -2.9 2.9zM483.6 326l2.9 -2.9 2.9 2.9 -2.9 2.9zM521.9 330.4l2.9 -2.9 2.9 2.9 -2.9 2.9zM560.1 335.4l2.9 -2.9 2.9 2.9 -2.9 2.9zM598.4 338.2l2.9 -2.9 2.9 2.9 -2.9 2.9zM636.7 342.5l2.9 -2.9 2.9 2.9 -2.9 2.9zM675 345.4l2.9 -2.9 2.9 2.9 -2.9 2.9zM713.3 348.1l2.9 -2.9 2.9 2.9 -2.9 2.9zM751.6 349.9l2.9 -2.9 2.9 2.9 -2.9 2.9zM789.9 350.5l2.9 -2.9 2.9 2.9 -2.9 2.9z"/>
<path d="M148 273.2l3.1 5.4h-6.2zM186.3 282l3.1 5.4h-6.2zM224.5 290.6l3.1 5.4h-6.2zM262.8 300.5l3.1 5.4h-6.2zM301.1 310.6l3.1 5.4h-6.2zM339.4 318.9l3.1 5.4h-6.2zM377.7 324.2l3.1 5.4h-6.2zM416 328l3.1 5.4h-6.2zM454.3 333l3.1 5.4h-6.2zM492.6 335.8l3.1 5.4h-6.2zM530.9 338.1l3.1 5.4h-6.2zM569.2 340.5l3.1 5.4h-6.2zM607.4 342.3l3.1 5.4h-6.2zM645.7 344l3.1 5.4h-6.2zM684 345.8l3.1 5.4h-6.2zM722.3 346.3l3.1 5.4h-6.2zM760.6 346.9l3.1 5.4h-6.2zM798.9 347.1l3.1 5.4h-6.2z"/>
</g>
<g fill="none" stroke="#ff639f" stroke-width="1.3" stroke-linejoin="round">
<path d="M114.8 29.7l5 5m0 -5l-5 5M113.8 32.2h7.1M117.3 28.7v7.1M153.1 43.9l5 5m0 -5l-5 5M152.1 46.4h7.1M155.6 42.9v7.1M191.4 58.2l5 5m0 -5l-5 5M190.4 60.7h7.1M193.9 57.2v7.1M229.7 74.5l5 5m0 -5l-5 5M228.7 77h7.1M232.2 73.4v7.1M268 84.9l5 5m0 -5l-5 5M266.9 87.5h7.1M270.5 83.9v7.1M306.3 104.8l5 5m0 -5l-5 5M305.2 107.3h7.1M308.8 103.8v7.1M344.6 119.1l5 5m0 -5l-5 5M343.5 121.6h7.1M347.1 118v7.1M382.9 145.7l5 5m0 -5l-5 5M381.8 148.2h7.1M385.4 144.7v7.1M421.1 170.9l5 5m0 -5l-5 5M420.1 173.4h7.1M423.6 169.8v7.1M459.4 184.9l5 5m0 -5l-5 5M458.4 187.4h7.1M461.9 183.9v7.1M497.7 204.4l5 5m0 -5l-5 5M496.7 206.9h7.1M500.2 203.3v7.1M536 229.7l5 5m0 -5l-5 5M535 232.2h7.1M538.5 228.7v7.1M574.3 250.8l5 5m0 -5l-5 5M573.3 253.3h7.1M576.8 249.7v7.1M612.6 270.8l5 5m0 -5l-5 5M611.6 273.3h7.1M615.1 269.8v7.1M650.9 293.8l5 5m0 -5l-5 5M649.8 296.4h7.1M653.4 292.8v7.1M689.2 312.2l5 5m0 -5l-5 5M688.1 314.7h7.1M691.7 311.2v7.1M727.5 325.8l5 5m0 -5l-5 5M726.4 328.3h7.1M730 324.8v7.1M765.8 333.3l5 5m0 -5l-5 5M764.7 335.8h7.1M768.3 332.2v7.1"/>
<path d="M123.5 314.6l3.1 -5.4h-6.2zM161.7 314l3.1 -5.4h-6.2zM200 314.7l3.1 -5.4h-6.2zM238.3 314.1l3.1 -5.4h-6.2zM276.6 313.1l3.1 -5.4h-6.2zM314.9 312.9l3.1 -5.4h-6.2zM353.2 311.7l3.1 -5.4h-6.2zM391.5 313.5l3.1 -5.4h-6.2zM429.8 315.6l3.1 -5.4h-6.2zM468.1 317l3.1 -5.4h-6.2zM506.4 319.1l3.1 -5.4h-6.2zM544.6 321.7l3.1 -5.4h-6.2zM582.9 325.4l3.1 -5.4h-6.2zM621.2 329.7l3.1 -5.4h-6.2zM659.5 335l3.1 -5.4h-6.2zM697.8 341.3l3.1 -5.4h-6.2zM736.1 345.8l3.1 -5.4h-6.2zM774.4 346.8l3.1 -5.4h-6.2z"/>
<path d="M127.3 305.4a2.3 2.3 0 1 0 4.6 0a2.3 2.3 0 1 0 -4.6 0M165.6 308.3a2.3 2.3 0 1 0 4.6 0a2.3 2.3 0 1 0 -4.6 0M203.9 309.5a2.3 2.3 0 1 0 4.6 0a2.3 2.3 0 1 0 -4.6 0M242.2 303.9a2.3 2.3 0 1 0 4.6 0a2.3 2.3 0 1 0 -4.6 0M280.4 301.9a2.3 2.3 0 1 0 4.6 0a2.3 2.3 0 1 0 -4.6 0M318.7 295.2a2.3 2.3 0 1 0 4.6 0a2.3 2.3 0 1 0 -4.6 0M357 298.6a2.3 2.3 0 1 0 4.6 0a2.3 2.3 0 1 0 -4.6 0M395.3 305.7a2.3 2.3 0 1 0 4.6 0a2.3 2.3 0 1 0 -4.6 0M433.6 309.6a2.3 2.3 0 1 0 4.6 0a2.3 2.3 0 1 0 -4.6 0M471.9 311.7a2.3 2.3 0 1 0 4.6 0a2.3 2.3 0 1 0 -4.6 0M510.2 314.4a2.3 2.3 0 1 0 4.6 0a2.3 2.3 0 1 0 -4.6 0M548.5 319.6a2.3 2.3 0 1 0 4.6 0a2.3 2.3 0 1 0 -4.6 0M586.8 324.6a2.3 2.3 0 1 0 4.6 0a2.3 2.3 0 1 0 -4.6 0M625.1 330.6a2.3 2.3 0 1 0 4.6 0a2.3 2.3 0 1 0 -4.6 0M663.3 336.4a2.3 2.3 0 1 0 4.6 0a2.3 2.3 0 1 0 -4.6 0M701.6 342.5a2.3 2.3 0 1 0 4.6 0a2.3 2.3 0 1 0 -4.6 0M739.9 345.2a2.3 2.3 0 1 0 4.6 0a2.3 2.3 0 1 0 -4.6 0M778.2 347.5a2.3 2.3 0 1 0 4.6 0a2.3 2.3 0 1 0 -4.6 0"/>
<path d="M133.7 266.8h4.1v4.1h-4.1zM172 269.3h4.1v4.1h-4.1zM210.2 271.7h4.1v4.1h-4.1zM248.5 271.1h4.1v4.1h-4.1zM286.8 272.1h4.1v4.1h-4.1zM325.1 278.6h4.1v4.1h-4.1zM363.4 283.8h4.1v4.1h-4.1zM401.7 292.9h4.1v4.1h-4.1zM440 300.9h4.1v4.1h-4.1zM478.3 303h4.1v4.1h-4.1zM516.6 307.5h4.1v4.1h-4.1zM554.9 316.6h4.1v4.1h-4.1zM593.1 323.9h4.1v4.1h-4.1zM631.4 330.5h4.1v4.1h-4.1zM669.7 337.2h4.1v4.1h-4.1zM708 341.9h4.1v4.1h-4.1zM746.3 345.5h4.1v4.1h-4.1zM784.6 347.3h4.1v4.1h-4.1z"/>
<path d="M139 275.6l2.9 -2.9 2.9 2.9 -2.9 2.9zM177.2 279.8l2.9 -2.9 2.9 2.9 -2.9 2.9zM215.5 283.8l2.9 -2.9 2.9 2.9 -2.9 2.9zM253.8 288.9l2.9 -2.9 2.9 2.9 -2.9 2.9zM292.1 295.8l2.9 -2.9 2.9 2.9 -2.9 2.9zM330.4 302.5l2.9 -2.9 2.9 2.9 -2.9 2.9zM368.7 309.1l2.9 -2.9 2.9 2.9 -2.9 2.9zM407 315.8l2.9 -2.9 2.9 2.9 -2.9 2.9zM445.3 321.7l2.9 -2.9 2.9 2.9 -2.9 2.9zM483.6 325.4l2.9 -2.9 2.9 2.9 -2.9 2.9zM521.9 329.9l2.9 -2.9 2.9 2.9 -2.9 2.9zM560.1 335l2.9 -2.9 2.9 2.9 -2.9 2.9zM598.4 337.9l2.9 -2.9 2.9 2.9 -2.9 2.9zM636.7 342.2l2.9 -2.9 2.9 2.9 -2.9 2.9zM675 345.3l2.9 -2.9 2.9 2.9 -2.9 2.9zM713.3 348l2.9 -2.9 2.9 2.9 -2.9 2.9zM751.6 349.8l2.9 -2.9 2.9 2.9 -2.9 2.9zM789.9 350.5l2.9 -2.9 2.9 2.9 -2.9 2.9z"/>
<path d="M148 272l3.1 5.4h-6.2zM186.3 280.7l3.1 5.4h-6.2zM224.5 289.4l3.1 5.4h-6.2zM262.8 299.4l3.1 5.4h-6.2zM301.1 309.7l3.1 5.4h-6.2zM339.4 318.2l3.1 5.4h-6.2zM377.7 323.6l3.1 5.4h-6.2zM416 327.5l3.1 5.4h-6.2zM454.3 332.7l3.1 5.4h-6.2zM492.6 335.5l3.1 5.4h-6.2zM530.9 337.8l3.1 5.4h-6.2zM569.2 340.2l3.1 5.4h-6.2zM607.4 342.1l3.1 5.4h-6.2zM645.7 343.9l3.1 5.4h-6.2zM684 345.7l3.1 5.4h-6.2zM722.3 346.2l3.1 5.4h-6.2zM760.6 346.9l3.1 5.4h-6.2zM798.9 347.1l3.1 5.4h-6.2z"/>
</g>
<g fill="none" stroke="#ff579c" stroke-width="1.3" stroke-linejoin="round">
<path d="M114.8 28.5l5 5m0 -5l-5 5M113.8 31h7.1M117.3 27.4v7.1M153.1 42.8l5 5m0 -5l-5 5M152.1 45.4h7.1M155.6 41.8v7.1M191.4 57.1l5 5m0 -5l-5 5M190.4 59.6h7.1M193.9 56v7.1M229.7 74.6l5 5m0 -5l-5 5M228.7 77.2h7.1M232.2 73.6v7.1M268 86l5 5m0 -5l-5 5M266.9 88.5h7.1M270.5 85v7.1M306.3 102.7l5 5m0 -5l-5 5M305.2 105.2h7.1M308.8 101.7v7.1M344.6 116.1l5 5m0 -5l-5 5M343.5 118.6h7.1M347.1 115.1v7.1M382.9 143.8l5 5m0 -5l-5 5M381.8 146.3h7.1M385.4 142.8v7.1M421.1 168.9l5 5m0 -5l-5 5M420.1 171.4h7.1M423.6 167.8v7.1M459.4 182.3l5 5m0 -5l-5 5M458.4 184.8h7.1M461.9 181.2v7.1M497.7 201.6l5 5m0 -5l-5 5M496.7 204.1h7.1M500.2 200.5v7.1M536 227.3l5 5m0 -5l-5 5M535 229.8h7.1M538.5 226.3v7.1M574.3 249.1l5 5m0 -5l-5 5M573.3 251.6h7.1M576.8 248v7.1M612.6 269.3l5 5m0 -5l-5 5M611.6 271.8h7.1M615.1 268.2v7.1M650.9 292.7l5 5m0 -5l-5 5M649.8 295.2h7.1M653.4 291.6v7.1M689.2 311.5l5 5m0 -5l-5 5M688.1 314h7.1M691.7 310.5v7.1M727.5 325.3l5 5m0 -5l-5 5M726.4 327.8h7.1M730 324.2v7.1M765.8 332.8l5 5m0 -5l-5 5M764.7 335.3h7.1M768.3 331.8v7.1"/>
<path d="M123.5 314.6l3.1 -5.4h-6.2zM161.7 314l3.1 -5.4h-6.2zM200 314.7l3.1 -5.4h-6.2zM238.3 313.9l3.1 -5.4h-6.2zM276.6 312.8l3.1 -5.4h-6.2zM314.9 312.4l3.1 -5.4h-6.2zM353.2 311.4l3.1 -5.4h-6.2zM391.5 313.2l3.1 -5.4h-6.2zM429.8 315.2l3.1 -5.4h-6.2zM468.1 316.4l3.1 -5.4h-6.2zM506.4 318.5l3.1 -5.4h-6.2zM544.6 321l3.1 -5.4h-6.2zM582.9 324.9l3.1 -5.4h-6.2zM621.2 329.2l3.1 -5.4h-6.2zM659.5 334.6l3.1 -5.4h-6.2zM697.8 341l3.1 -5.4h-6.2zM736.1 345.5l3.1 -5.4h-6.2zM774.4 346.5l3.1 -5.4h-6.2z"/>
<path d="M127.3 305.5a2.3 2.3 0 1 0 4.6 0a2.3 2.3 0 1 0 -4.6 0M165.6 308.4a2.3 2.3 0 1 0 4.6 0a2.3 2.3 0 1 0 -4.6 0M203.9 309.6a2.3 2.3 0 1 0 4.6 0a2.3 2.3 0 1 0 -4.6 0M242.2 305.1a2.3 2.3 0 1 0 4.6 0a2.3 2.3 0 1 0 -4.6 0M280.4 303a2.3 2.3 0 1 0 4.6 0a2.3 2.3 0 1 0 -4.6 0M318.7 294.8a2.3 2.3 0 1 0 4.6 0a2.3 2.3 0 1 0 -4.6 0M357 298a2.3 2.3 0 1 0 4.6 0a2.3 2.3 0 1 0 -4.6 0M395.3 305.3a2.3 2.3 0 1 0 4.6 0a2.3 2.3 0 1 0 -4.6 0M433.6 309a2.3 2.3 0 1 0 4.6 0a2.3 2.3 0 1 0 -4.6 0M471.9 310.9a2.3 2.3 0 1 0 4.6 0a2.3 2.3 0 1 0 -4.6 0M510.2 313.6a2.3 2.3 0 1 0 4.6 0a2.3 2.3 0 1 0 -4.6 0M548.5 319a2.3 2.3 0 1 0 4.6 0a2.3 2.3 0 1 0 -4.6 0M586.8 324.1a2.3 2.3 0 1 0 4.6 0a2.3 2.3 0 1 0 -4.6 0M625.1 330.2a2.3 2.3 0 1 0 4.6 0a2.3 2.3 0 1 0 -4.6 0M663.3 336a2.3 2.3 0 1 0 4.6 0a2.3 2.3 0 1 0 -4.6 0M701.6 342.3a2.3 2.3 0 1 0 4.6 0a2.3 2.3 0 1 0 -4.6 0M739.9 345a2.3 2.3 0 1 0 4.6 0a2.3 2.3 0 1 0 -4.6 0M778.2 347.4a2.3 2.3 0 1 0 4.6 0a2.3 2.3 0 1 0 -4.6 0"/>
<path d="M133.7 266.8h4.1v4.1h-4.1zM172 269.4h4.1v4.1h-4.1zM210.2 271.8h4.1v4.1h-4.1zM248.5 272.1h4.1v4.1h-4.1zM286.8 273.5h4.1v4.1h-4.1zM325.1 277.9h4.1v4.1h-4.1zM363.4 282.9h4.1v4.1h-4.1zM401.7 292.1h4.1v4.1h-4.1zM440 300h4.1v4.1h-4.1zM478.3 302h4.1v4.1h-4.1zM516.6 306.5h4.1v4.1h-4.1zM554.9 315.8h4.1v4.1h-4.1zM593.1 323.3h4.1v4.1h-4.1zM631.4 330.1h4.1v4.1h-4.1zM669.7 336.8h4.1v4.1h-4.1zM708 341.6h4.1v4.1h-4.1zM746.3 345.4h4.1v4.1h-4.1zM784.6 347.3h4.1v4.1h-4.1z"/>
<path d="M139 275.5l2.9 -2.9 2.9 2.9 -2.9 2.9zM177.2 279.4l2.9 -2.9 2.9 2.9 -2.9 2.9zM215.5 283.1l2.9 -2.9 2.9 2.9 -2.9 2.9zM253.8 288.1l2.9 -2.9 2.9 2.9 -2.9 2.9zM292.1 295l2.9 -2.9 2.9 2.9 -2.9 2.9zM330.4 301.7l2.9 -2.9 2.9 2.9 -2.9 2.9zM368.7 308.3l2.9 -2.9 2.9 2.9 -2.9 2.9zM407 315.1l2.9 -2.9 2.9 2.9 -2.9 2.9zM445.3 321.1l2.9 -2.9 2.9 2.9 -2.9 2.9zM483.6 324.8l2.9 -2.9 2.9 2.9 -2.9 2.9zM521.9 329.3l2.9 -2.9 2.9 2.9 -2.9 2.9zM560.1 334.5l2.9 -2.9 2.9 2.9 -2.9 2.9zM598.4 337.5l2.9 -2.9 2.9 2.9 -2.9 2.9zM636.7 341.9l2.9 -2.9 2.9 2.9 -2.9 2.9zM675 345.1l2.9 -2.9 2.9 2.9 -2.9 2.9zM713.3 347.9l2.9 -2.9 2.9 2.9 -2.9 2.9zM751.6 349.8l2.9 -2.9 2.9 2.9 -2.9 2.9zM789.9 350.5l2.9 -2.9 2.9 2.9 -2.9 2.9z"/>
<path d="M148 270.7l3.1 5.4h-6.2zM186.3 279.4l3.1 5.4h-6.2zM224.5 288.2l3.1 5.4h-6.2zM262.8 298.3l3.1 5.4h-6.2zM301.1 308.9l3.1 5.4h-6.2zM339.4 317.6l3.1 5.4h-6.2zM377.7 323.1l3.1 5.4h-6.2zM416 327l3.1 5.4h-6.2zM454.3 332.3l3.1 5.4h-6.2zM492.6 335.2l3.1 5.4h-6.2zM530.9 337.5l3.1 5.4h-6.2zM569.2 340l3.1 5.4h-6.2zM607.4 341.9l3.1 5.4h-6.2zM645.7 343.8l3.1 5.4h-6.2zM684 345.7l3.1 5.4h-6.2zM722.3 346.2l3.1 5.4h-6.2zM760.6 346.9l3.1 5.4h-6.2zM798.9 347.1l3.1 5.4h-6.2z"/>
</g>
<g fill="none" stroke="#ff4b9a" stroke-width="1.3" stroke-linejoin="round">
<path d="M114.8 27.2l5 5m0 -5l-5 5M113.8 29.7h7.1M117.3 26.1v7.1M153.1 41.8l5 5m0 -5l-5 5M152.1 44.3h7.1M155.6 40.7v7.1M191.4 55.9l5 5m0 -5l-5 5M190.4 58.4h7.1M193.9 54.9v7.1M229.7 74.8l5 5m0 -5l-5 5M228.7 77.3h7.1M232.2 73.8v7.1M268 87.1l5 5m0 -5l-5 5M266.9 89.6h7.1M270.5 86.1v7.1M306.3 100.6l5 5m0 -5l-5 5M305.2 103.1h7.1M308.8 99.6v7.1M344.6 113.2l5 5m0 -5l-5 5M343.5 115.7h7.1M347.1 112.2v7.1M382.9 141.9l5 5m0 -5l-5 5M381.8 144.4h7.1M385.4 140.9v7.1M421.1 166.9l5 5m0 -5l-5 5M420.1 169.4h7.1M423.6 165.9v7.1M459.4 179.6l5 5m0 -5l-5 5M458.4 182.1h7.1M461.9 178.6v7.1M497.7 198.8l5 5m0 -5l-5 5M496.7 201.3h7.1M500.2 197.8v7.1M536 224.9l5 5m0 -5l-5 5M535 227.4h7.1M538.5 223.9v7.1M574.3 247.4l5 5m0 -5l-5 5M573.3 249.9h7.1M576.8 246.3v7.1M612.6 267.8l5 5m0 -5l-5 5M611.6 270.3h7.1M615.1 266.7v7.1M650.9 291.5l5 5m0 -5l-5 5M649.8 294h7.1M653.4 290.5v7.1M689.2 310.7l5 5m0 -5l-5 5M688.1 313.3h7.1M691.7 309.7v7.1M727.5 324.8l5 5m0 -5l-5 5M726.4 327.3h7.1M730 323.7v7.1M765.8 332.3l5 5m0 -5l-5 5M764.7 334.8h7.1M768.3 331.3v7.1"/>
<path d="M123.5 314.6l3.1 -5.4h-6.2zM161.7 314l3.1 -5.4h-6.2zM200 314.6l3.1 -5.4h-6.2zM238.3 313.8l3.1 -5.4h-6.2zM276.6 312.6l3.1 -5.4h-6.2zM314.9 311.8l3.1 -5.4h-6.2zM353.2 311.1l3.1 -5.4h-6.2zM391.5 312.9l3.1 -5.4h-6.2zM429.8 314.9l3.1 -5.4h-6.2zM468.1 315.9l3.1 -5.4h-6.2zM506.4 317.8l3.1 -5.4h-6.2zM544.6 320.4l3.1 -5.4h-6.2zM582.9 324.3l3.1 -5.4h-6.2zM621.2 328.7l3.1 -5.4h-6.2zM659.5 334.1l3.1 -5.4h-6.2zM697.8 340.6l3.1 -5.4h-6.2zM736.1 345.2l3.1 -5.4h-6.2zM774.4 346.2l3.1 -5.4h-6.2z"/>
<path d="M127.3 305.6a2.3 2.3 0 1 0 4.6 0a2.3 2.3 0 1 0 -4.6 0M165.6 308.4a2.3 2.3 0 1 0 4.6 0a2.3 2.3 0 1 0 -4.6 0M203.9 309.8a2.3 2.3 0 1 0 4.6 0a2.3 2.3 0 1 0 -4.6 0M242.2 306.3a2.3 2.3 0 1 0 4.6 0a2.3 2.3 0 1 0 -4.6 0M280.4 304.1a2.3 2.3 0 1 0 4.6 0a2.3 2.3 0 1 0 -4.6 0M318.7 294.3a2.3 2.3 0 1 0 4.6 0a2.3 2.3 0 1 0 -4.6 0M357 297.5a2.3 2.3 0 1 0 4.6 0a2.3 2.3 0 1 0 -4.6 0M395.3 304.9a2.3 2.3 0 1 0 4.6 0a2.3 2.3 0 1 0 -4.6 0M433.6 308.4a2.3 2.3 0 1 0 4.6 0a2.3 2.3 0 1 0 -4.6 0M471.9 310.1a2.3 2.3 0 1 0 4.6 0a2.3 2.3 0 1 0 -4.6 0M510.2 312.9a2.3 2.3 0 1 0 4.6 0a2.3 2.3 0 1 0 -4.6 0M548.5 318.4a2.3 2.3 0 1 0 4.6 0a2.3 2.3 0 1 0 -4.6 0M586.8 323.6a2.3 2.3 0 1 0 4.6 0a2.3 2.3 0 1 0 -4.6 0M625.1 329.8a2.3 2.3 0 1 0 4.6 0a2.3 2.3 0 1 0 -4.6 0M663.3 335.7a2.3 2.3 0 1 0 4.6 0a2.3 2.3 0 1 0 -4.6 0M701.6 342.1a2.3 2.3 0 1 0 4.6 0a2.3 2.3 0 1 0 -4.6 0M739.9 344.8a2.3 2.3 0 1 0 4.6 0a2.3 2.3 0 1 0 -4.6 0M778.2 347.3a2.3 2.3 0 1 0 4.6 0a2.3 2.3 0 1 0 -4.6 0"/>
<path d="M133.7 266.9h4.1v4.1h-4.1zM172 269.5h4.1v4.1h-4.1zM210.2 271.9h4.1v4.1h-4.1zM248.5 273h4.1v4.1h-4.1zM286.8 275h4.1v4.1h-4.1zM325.1 277.2h4.1v4.1h-4.1zM363.4 282h4.1v4.1h-4.1zM401.7 291.3h4.1v4.1h-4.1zM440 299.1h4.1v4.1h-4.1zM478.3 301h4.1v4.1h-4.1zM516.6 305.5h4.1v4.1h-4.1zM554.9 315h4.1v4.1h-4.1zM593.1 322.7h4.1v4.1h-4.1zM631.4 329.6h4.1v4.1h-4.1zM669.7 336.5h4.1v4.1h-4.1zM708 341.4h4.1v4.1h-4.1zM746.3 345.2h4.1v4.1h-4.1zM784.6 347.2h4.1v4.1h-4.1z"/>
<path d="M139 275.3l2.9 -2.9 2.9 2.9 -2.9 2.9zM177.2 279l2.9 -2.9 2.9 2.9 -2.9 2.9zM215.5 282.5l2.9 -2.9 2.9 2.9 -2.9 2.9zM253.8 287.2l2.9 -2.9 2.9 2.9 -2.9 2.9zM292.1 294.2l2.9 -2.9 2.9 2.9 -2.9 2.9zM330.4 300.8l2.9 -2.9 2.9 2.9 -2.9 2.9zM368.7 307.4l2.9 -2.9 2.9 2.9 -2.9 2.9zM407 314.4l2.9 -2.9 2.9 2.9 -2.9 2.9zM445.3 320.5l2.9 -2.9 2.9 2.9 -2.9 2.9zM483.6 324.2l2.9 -2.9 2.9 2.9 -2.9 2.9zM521.9 328.7l2.9 -2.9 2.9 2.9 -2.9 2.9zM560.1 334.1l2.9 -2.9 2.9 2.9 -2.9 2.9zM598.4 337.2l2.9 -2.9 2.9 2.9 -2.9 2.9zM636.7 341.6l2.9 -2.9 2.9 2.9 -2.9 2.9zM675 344.9l2.9 -2.9 2.9 2.9 -2.9 2.9zM713.3 347.8l2.9 -2.9 2.9 2.9 -2.9 2.9zM751.6 349.7l2.9 -2.9 2.9 2.9 -2.9 2.9zM789.9 350.5l2.9 -2.9 2.9 2.9 -2.9 2.9z"/>
<path d="M148 269.5l3.1 5.4h-6.2zM186.3 278.1l3.1 5.4h-6.2zM224.5 286.9l3.1 5.4h-6.2zM262.8 297.2l3.1 5.4h-6.2zM301.1 308l3.1 5.4h-6.2zM339.4 316.9l3.1 5.4h-6.2zM377.7 322.6l3.1 5.4h-6.2zM416 326.5l3.1 5.4h-6.2zM454.3 331.9l3.1 5.4h-6.2zM492.6 334.9l3.1 5.4h-6.2zM530.9 337.2l3.1 5.4h-6.2zM569.2 339.8l3.1 5.4h-6.2zM607.4 341.8l3.1 5.4h-6.2zM645.7 343.7l3.1 5.4h-6.2zM684 345.6l3.1 5.4h-6.2zM722.3 346.2l3.1 5.4h-6.2zM760.6 346.9l3.1 5.4h-6.2zM798.9 347.1l3.1 5.4h-6.2z"/>
</g>
<g fill="none" stroke="#ff3d98" stroke-width="1.3" stroke-linejoin="round">
<path d="M114.8 25.9l5 5m0 -5l-5 5M113.8 28.4h7.1M117.3 24.9v7.1M153.1 40.7l5 5m0 -5l-5 5M152.1 43.2h7.1M155.6 39.6v7.1M191.4 54.8l5 5m0 -5l-5 5M190.4 57.3h7.1M193.9 53.8v7.1M229.7 75l5 5m0 -5l-5 5M228.7 77.5h7.1M232.2 74v7.1M268 88.2l5 5m0 -5l-5 5M266.9 90.7h7.1M270.5 87.1v7.1M306.3 98.5l5 5m0 -5l-5 5M305.2 101h7.1M308.8 97.4v7.1M344.6 110.3l5 5m0 -5l-5 5M343.5 112.8h7.1M347.1 109.2v7.1M382.9 140l5 5m0 -5l-5 5M381.8 142.5h7.1M385.4 138.9v7.1M421.1 164.9l5 5m0 -5l-5 5M420.1 167.4h7.1M423.6 163.9v7.1M459.4 176.9l5 5m0 -5l-5 5M458.4 179.4h7.1M461.9 175.9v7.1M497.7 196l5 5m0 -5l-5 5M496.7 198.5h7.1M500.2 195v7.1M536 222.6l5 5m0 -5l-5 5M535 225.1h7.1M538.5 221.5v7.1M574.3 245.7l5 5m0 -5l-5 5M573.3 248.2h7.1M576.8 244.6v7.1M612.6 266.3l5 5m0 -5l-5 5M611.6 268.8h7.1M615.1 265.2v7.1M650.9 290.3l5 5m0 -5l-5 5M649.8 292.8h7.1M653.4 289.3v7.1M689.2 310l5 5m0 -5l-5 5M688.1 312.5h7.1M691.7 309v7.1M727.5 324.2l5 5m0 -5l-5 5M726.4 326.8h7.1M730 323.2v7.1M765.8 331.9l5 5m0 -5l-5 5M764.7 334.4h7.1M768.3 330.8v7.1"/>
<path d="M123.5 314.5l3.1 -5.4h-6.2zM161.7 314l3.1 -5.4h-6.2zM200 314.6l3.1 -5.4h-6.2zM238.3 313.7l3.1 -5.4h-6.2zM276.6 312.4l3.1 -5.4h-6.2zM314.9 311.2l3.1 -5.4h-6.2zM353.2 310.8l3.1 -5.4h-6.2zM391.5 312.5l3.1 -5.4h-6.2zM429.8 314.6l3.1 -5.4h-6.2zM468.1 315.4l3.1 -5.4h-6.2zM506.4 317.2l3.1 -5.4h-6.2zM544.6 319.7l3.1 -5.4h-6.2zM582.9 323.7l3.1 -5.4h-6.2zM621.2 328.3l3.1 -5.4h-6.2zM659.5 333.6l3.1 -5.4h-6.2zM697.8 340.3l3.1 -5.4h-6.2zM736.1 344.9l3.1 -5.4h-6.2zM774.4 345.9l3.1 -5.4h-6.2z"/>
<path d="M127.3 305.7a2.3 2.3 0 1 0 4.6 0a2.3 2.3 0 1 0 -4.6 0M165.6 308.5a2.3 2.3 0 1 0 4.6 0a2.3 2.3 0 1 0 -4.6 0M203.9 309.9a2.3 2.3 0 1 0 4.6 0a2.3 2.3 0 1 0 -4.6 0M242.2 307.5a2.3 2.3 0 1 0 4.6 0a2.3 2.3 0 1 0 -4.6 0M280.4 305.2a2.3 2.3 0 1 0 4.6 0a2.3 2.3 0 1 0 -4.6 0M318.7 293.9a2.3 2.3 0 1 0 4.6 0a2.3 2.3 0 1 0 -4.6 0M357 297a2.3 2.3 0 1 0 4.6 0a2.3 2.3 0 1 0 -4.6 0M395.3 304.5a2.3 2.3 0 1 0 4.6 0a2.3 2.3 0 1 0 -4.6 0M433.6 307.8a2.3 2.3 0 1 0 4.6 0a2.3 2.3 0 1 0 -4.6 0M471.9 309.4a2.3 2.3 0 1 0 4.6 0a2.3 2.3 0 1 0 -4.6 0M510.2 312.2a2.3 2.3 0 1 0 4.6 0a2.3 2.3 0 1 0 -4.6 0M548.5 317.8a2.3 2.3 0 1 0 4.6 0a2.3 2.3 0 1 0 -4.6 0M586.8 323.1a2.3 2.3 0 1 0 4.6 0a2.3 2.3 0 1 0 -4.6 0M625.1 329.4a2.3 2.3 0 1 0 4.6 0a2.3 2.3 0 1 0 -4.6 0M663.3 335.3a2.3 2.3 0 1 0 4.6 0a2.3 2.3 0 1 0 -4.6 0M701.6 341.8a2.3 2.3 0 1 0 4.6 0a2.3 2.3 0 1 0 -4.6 0M739.9 344.7a2.3 2.3 0 1 0 4.6 0a2.3 2.3 0 1 0 -4.6 0M778.2 347.2a2.3 2.3 0 1 0 4.6 0a2.3 2.3 0 1 0 -4.6 0"/>
<path d="M133.7 267h4.1v4.1h-4.1zM172 269.6h4.1v4.1h-4.1zM210.2 271.9h4.1v4.1h-4.1zM248.5 273.9h4.1v4.1h-4.1zM286.8 276.4h4.1v4.1h-4.1zM325.1 276.5h4.1v4.1h-4.1zM363.4 281.1h4.1v4.1h-4.1zM401.7 290.5h4.1v4.1h-4.1zM440 298.2h4.1v4.1h-4.1zM478.3 300h4.1v4.1h-4.1zM516.6 304.5h4.1v4.1h-4.1zM554.9 314.3h4.1v4.1h-4.1zM593.1 322.1h4.1v4.1h-4.1zM631.4 329.2h4.1v4.1h-4.1zM669.7 336.2h4.1v4.1h-4.1zM708 341.2h4.1v4.1h-4.1zM746.3 345.1h4.1v4.1h-4.1zM784.6 347.1h4.1v4.1h-4.1z"/>
<path d="M139 275.2l2.9 -2.9 2.9 2.9 -2.9 2.9zM177.2 278.6l2.9 -2.9 2.9 2.9 -2.9 2.9zM215.5 281.8l2.9 -2.9 2.9 2.9 -2.9 2.9zM253.8 286.4l2.9 -2.9 2.9 2.9 -2.9 2.9zM292.1 293.5l2.9 -2.9 2.9 2.9 -2.9 2.9zM330.4 300l2.9 -2.9 2.9 2.9 -2.9 2.9zM368.7 306.6l2.9 -2.9 2.9 2.9 -2.9 2.9zM407 313.7l2.9 -2.9 2.9 2.9 -2.9 2.9zM445.3 319.8l2.9 -2.9 2.9 2.9 -2.9 2.9zM483.6 323.6l2.9 -2.9 2.9 2.9 -2.9 2.9zM521.9 328.2l2.9 -2.9 2.9 2.9 -2.9 2.9zM560.1 333.7l2.9 -2.9 2.9 2.9 -2.9 2.9zM598.4 336.8l2.9 -2.9 2.9 2.9 -2.9 2.9zM636.7 341.3l2.9 -2.9 2.9 2.9 -2.9 2.9zM675 344.7l2.9 -2.9 2.9 2.9 -2.9 2.9zM713.3 347.7l2.9 -2.9 2.9 2.9 -2.9 2.9zM751.6 349.7l2.9 -2.9 2.9 2.9 -2.9 2.9zM789.9 350.4l2.9 -2.9 2.9 2.9 -2.9 2.9z"/>
<path d="M148 268.3l3.1 5.4h-6.2zM186.3 276.8l3.1 5.4h-6.2zM224.5 285.7l3.1 5.4h-6.2zM262.8 296.1l3.1 5.4h-6.2zM301.1 307.1l3.1 5.4h-6.2zM339.4 316.2l3.1 5.4h-6.2zM377.7 322l3.1 5.4h-6.2zM416 326l3.1 5.4h-6.2zM454.3 331.6l3.1 5.4h-6.2zM492.6 334.6l3.1 5.4h-6.2zM530.9 336.9l3.1 5.4h-6.2zM569.2 339.5l3.1 5.4h-6.2zM607.4 341.6l3.1 5.4h-6.2zM645.7 343.6l3.1 5.4h-6.2zM684 345.6l3.1 5.4h-6.2zM722.3 346.1l3.1 5.4h-6.2zM760.6 346.9l3.1 5.4h-6.2zM798.9 347.1l3.1 5.4h-6.2z"/>
</g>
<g fill="none" stroke="#ff2d95" stroke-width="1.3" stroke-linejoin="round">
<path d="M114.8 24.6l5 5m0 -5l-5 5M113.8 27.1h7.1M117.3 23.6v7.1M153.1 39.6l5 5m0 -5l-5 5M152.1 42.1h7.1M155.6 38.5v7.1M191.4 53.7l5 5m0 -5l-5 5M190.4 56.2h7.1M193.9 52.6v7.1M229.7 75.2l5 5m0 -5l-5 5M228.7 77.7h7.1M232.2 74.2v7.1M268 89.2l5 5m0 -5l-5 5M266.9 91.8h7.1M270.5 88.2v7.1M306.3 96.4l5 5m0 -5l-5 5M305.2 98.9h7.1M308.8 95.3v7.1M344.6 107.4l5 5m0 -5l-5 5M343.5 109.9h7.1M347.1 106.3v7.1M382.9 138.1l5 5m0 -5l-5 5M381.8 140.6h7.1M385.4 137v7.1M421.1 162.9l5 5m0 -5l-5 5M420.1 165.4h7.1M423.6 161.9v7.1M459.4 174.3l5 5m0 -5l-5 5M458.4 176.8h7.1M461.9 173.2v7.1M497.7 193.2l5 5m0 -5l-5 5M496.7 195.7h7.1M500.2 192.2v7.1M536 220.2l5 5m0 -5l-5 5M535 222.7h7.1M538.5 219.1v7.1M574.3 244l5 5m0 -5l-5 5M573.3 246.5h7.1M576.8 242.9v7.1M612.6 264.7l5 5m0 -5l-5 5M611.6 267.2h7.1M615.1 263.7v7.1M650.9 289.2l5 5m0 -5l-5 5M649.8 291.7h7.1M653.4 288.1v7.1M689.2 309.3l5 5m0 -5l-5 5M688.1 311.8h7.1M691.7 308.2v7.1M727.5 323.7l5 5m0 -5l-5 5M726.4 326.2h7.1M730 322.7v7.1M765.8 331.4l5 5m0 -5l-5 5M764.7 333.9h7.1M768.3 330.4v7.1"/>
<path d="M123.5 314.5l3.1 -5.4h-6.2zM161.7 314l3.1 -5.4h-6.2zM200 314.5l3.1 -5.4h-6.2zM238.3 313.6l3.1 -5.4h-6.2zM276.6 312.2l3.1 -5.4h-6.2zM314.9 310.7l3.1 -5.4h-6.2zM353.2 310.4l3.1 -5.4h-6.2zM391.5 312.2l3.1 -5.4h-6.2zM429.8 314.3l3.1 -5.4h-6.2zM468.1 314.8l3.1 -5.4h-6.2zM506.4 316.6l3.1 -5.4h-6.2zM544.6 319.1l3.1 -5.4h-6.2zM582.9 323.1l3.1 -5.4h-6.2zM621.2 327.8l3.1 -5.4h-6.2zM659.5 333.1l3.1 -5.4h-6.2zM697.8 340l3.1 -5.4h-6.2zM736.1 344.6l3.1 -5.4h-6.2zM774.4 345.6l3.1 -5.4h-6.2z"/>
<path d="M127.3 305.8a2.3 2.3 0 1 0 4.6 0a2.3 2.3 0 1 0 -4.6 0M165.6 308.6a2.3 2.3 0 1 0 4.6 0a2.3 2.3 0 1 0 -4.6 0M203.9 310a2.3 2.3 0 1 0 4.6 0a2.3 2.3 0 1 0 -4.6 0M242.2 308.7a2.3 2.3 0 1 0 4.6 0a2.3 2.3 0 1 0 -4.6 0M280.4 306.3a2.3 2.3 0 1 0 4.6 0a2.3 2.3 0 1 0 -4.6 0M318.7 293.4a2.3 2.3 0 1 0 4.6 0a2.3 2.3 0 1 0 -4.6 0M357 296.5a2.3 2.3 0 1 0 4.6 0a2.3 2.3 0 1 0 -4.6 0M395.3 304.1a2.3 2.3 0 1 0 4.6 0a2.3 2.3 0 1 0 -4.6 0M433.6 307.2a2.3 2.3 0 1 0 4.6 0a2.3 2.3 0 1 0 -4.6 0M471.9 308.6a2.3 2.3 0 1 0 4.6 0a2.3 2.3 0 1 0 -4.6 0M510.2 311.4a2.3 2.3 0 1 0 4.6 0a2.3 2.3 0 1 0 -4.6 0M548.5 317.2a2.3 2.3 0 1 0 4.6 0a2.3 2.3 0 1 0 -4.6 0M586.8 322.6a2.3 2.3 0 1 0 4.6 0a2.3 2.3 0 1 0 -4.6 0M625.1 329a2.3 2.3 0 1 0 4.6 0a2.3 2.3 0 1 0 -4.6 0M663.3 334.9a2.3 2.3 0 1 0 4.6 0a2.3 2.3 0 1 0 -4.6 0M701.6 341.6a2.3 2.3 0 1 0 4.6 0a2.3 2.3 0 1 0 -4.6 0M739.9 344.5a2.3 2.3 0 1 0 4.6 0a2.3 2.3 0 1 0 -4.6 0M778.2 347a2.3 2.3 0 1 0 4.6 0a2.3 2.3 0 1 0 -4.6 0"/>
<path d="M133.7 267.1h4.1v4.1h-4.1zM172 269.7h4.1v4.1h-4.1zM210.2 272h4.1v4.1h-4.1zM248.5 274.9h4.1v4.1h-4.1zM286.8 277.8h4.1v4.1h-4.1zM325.1 275.8h4.1v4.1h-4.1zM363.4 280.1h4.1v4.1h-4.1zM401.7 289.7h4.1v4.1h-4.1zM440 297.3h4.1v4.1h-4.1zM478.3 298.9h4.1v4.1h-4.1zM516.6 303.5h4.1v4.1h-4.1zM554.9 313.5h4.1v4.1h-4.1zM593.1 321.5h4.1v4.1h-4.1zM631.4 328.7h4.1v4.1h-4.1zM669.7 335.8h4.1v4.1h-4.1zM708 341h4.1v4.1h-4.1zM746.3 345h4.1v4.1h-4.1zM784.6 347.1h4.1v4.1h-4.1z"/>
<path d="M139 275.1l2.9 -2.9 2.9 2.9 -2.9 2.9zM177.2 278.3l2.9 -2.9 2.9 2.9 -2.9 2.9zM215.5 281.1l2.9 -2.9 2.9 2.9 -2.9 2.9zM253.8 285.6l2.9 -2.9 2.9 2.9 -2.9 2.9zM292.1 292.7l2.9 -2.9 2.9 2.9 -2.9 2.9zM330.4 299.2l2.9 -2.9 2.9 2.9 -2.9 2.9zM368.7 305.8l2.9 -2.9 2.9 2.9 -2.9 2.9zM407 313.1l2.9 -2.9 2.9 2.9 -2.9 2.9zM445.3 319.2l2.9 -2.9 2.9 2.9 -2.9 2.9zM483.6 323.1l2.9 -2.9 2.9 2.9 -2.9 2.9zM521.9 327.6l2.9 -2.9 2.9 2.9 -2.9 2.9zM560.1 333.3l2.9 -2.9 2.9 2.9 -2.9 2.9zM598.4 336.5l2.9 -2.9 2.9 2.9 -2.9 2.9zM636.7 341l2.9 -2.9 2.9 2.9 -2.9 2.9zM675 344.5l2.9 -2.9 2.9 2.9 -2.9 2.9zM713.3 347.6l2.9 -2.9 2.9 2.9 -2.9 2.9zM751.6 349.7l2.9 -2.9 2.9 2.9 -2.9 2.9zM789.9 350.4l2.9 -2.9 2.9 2.9 -2.9 2.9z"/>
<path d="M148 267.1l3.1 5.4h-6.2zM186.3 275.5l3.1 5.4h-6.2zM224.5 284.4l3.1 5.4h-6.2zM262.8 295l3.1 5.4h-6.2zM301.1 306.3l3.1 5.4h-6.2zM339.4 315.6l3.1 5.4h-6.2zM377.7 321.5l3.1 5.4h-6.2zM416 325.5l3.1 5.4h-6.2zM454.3 331.2l3.1 5.4h-6.2zM492.6 334.3l3.1 5.4h-6.2zM530.9 336.6l3.1 5.4h-6.2zM569.2 339.3l3.1 5.4h-6.2zM607.4 341.4l3.1 5.4h-6.2zM645.7 343.5l3.1 5.4h-6.2zM684 345.5l3.1 5.4h-6.2zM722.3 346.1l3.1 5.4h-6.2zM760.6 346.8l3.1 5.4h-6.2zM798.9 347.1l3.1 5.4h-6.2z"/>
</g>
<g fill="none" stroke="#ff1493" stroke-width="1.3" stroke-linejoin="round">
<path d="M114.8 23.4l5 5m0 -5l-5 5M113.8 25.9h7.1M117.3 22.3v7.1M153.1 38.5l5 5m0 -5l-5 5M152.1 41h7.1M155.6 37.5v7.1M191.4 52.5l5 5m0 -5l-5 5M190.4 55h7.1M193.9 51.5v7.1M229.7 75.4l5 5m0 -5l-5 5M228.7 77.9h7.1M232.2 74.4v7.1M268 90.3l5 5m0 -5l-5 5M266.9 92.8h7.1M270.5 89.3v7.1M306.3 94.2l5 5m0 -5l-5 5M305.2 96.7h7.1M308.8 93.2v7.1M344.6 104.4l5 5m0 -5l-5 5M343.5 106.9h7.1M347.1 103.4v7.1M382.9 136.2l5 5m0 -5l-5 5M381.8 138.7h7.1M385.4 135.1v7.1M421.1 161l5 5m0 -5l-5 5M420.1 163.5h7.1M423.6 159.9v7.1M459.4 171.6l5 5m0 -5l-5 5M458.4 174.1h7.1M461.9 170.6v7.1M497.7 190.4l5 5m0 -5l-5 5M496.7 192.9h7.1M500.2 189.4v7.1M536 217.8l5 5m0 -5l-5 5M535 220.3h7.1M538.5 216.8v7.1M574.3 242.2l5 5m0 -5l-5 5M573.3 244.8h7.1M576.8 241.2v7.1M612.6 263.2l5 5m0 -5l-5 5M611.6 265.7h7.1M615.1 262.2v7.1M650.9 288l5 5m0 -5l-5 5M649.8 290.5h7.1M653.4 287v7.1M689.2 308.5l5 5m0 -5l-5 5M688.1 311h7.1M691.7 307.5v7.1M727.5 323.2l5 5m0 -5l-5 5M726.4 325.7h7.1M730 322.2v7.1M765.8 330.9l5 5m0 -5l-5 5M764.7 333.5h7.1M768.3 329.9v7.1"/>
<path d="M123.5 314.5l3.1 -5.4h-6.2zM161.7 313.9l3.1 -5.4h-6.2zM200 314.5l3.1 -5.4h-6.2zM238.3 313.5l3.1 -5.4h-6.2zM276.6 311.9l3.1 -5.4h-6.2zM314.9 310.1l3.1 -5.4h-6.2zM353.2 310.1l3.1 -5.4h-6.2zM391.5 311.9l3.1 -5.4h-6.2zM429.8 313.9l3.1 -5.4h-6.2zM468.1 314.3l3.1 -5.4h-6.2zM506.4 316l3.1 -5.4h-6.2zM544.6 318.4l3.1 -5.4h-6.2zM582.9 322.5l3.1 -5.4h-6.2zM621.2 327.3l3.1 -5.4h-6.2zM659.5 332.7l3.1 -5.4h-6.2zM697.8 339.6l3.1 -5.4h-6.2zM736.1 344.3l3.1 -5.4h-6.2zM774.4 345.3l3.1 -5.4h-6.2z"/>
<path d="M127.3 305.9a2.3 2.3 0 1 0 4.6 0a2.3 2.3 0 1 0 -4.6 0M165.6 308.7a2.3 2.3 0 1 0 4.6 0a2.3 2.3 0 1 0 -4.6 0M203.9 310.1a2.3 2.3 0 1 0 4.6 0a2.3 2.3 0 1 0 -4.6 0M242.2 309.9a2.3 2.3 0 1 0 4.6 0a2.3 2.3 0 1 0 -4.6 0M280.4 307.5a2.3 2.3 0 1 0 4.6 0a2.3 2.3 0 1 0 -4.6 0M318.7 293a2.3 2.3 0 1 0 4.6 0a2.3 2.3 0 1 0 -4.6 0M357 296a2.3 2.3 0 1 0 4.6 0a2.3 2.3 0 1 0 -4.6 0M395.3 303.8a2.3 2.3 0 1 0 4.6 0a2.3 2.3 0 1 0 -4.6 0M433.6 306.6a2.3 2.3 0 1 0 4.6 0a2.3 2.3 0 1 0 -4.6 0M471.9 307.8a2.3 2.3 0 1 0 4.6 0a2.3 2.3 0 1 0 -4.6 0M510.2 310.7a2.3 2.3 0 1 0 4.6 0a2.3 2.3 0 1 0 -4.6 0M548.5 316.5a2.3 2.3 0 1 0 4.6 0a2.3 2.3 0 1 0 -4.6 0M586.8 322.1a2.3 2.3 0 1 0 4.6 0a2.3 2.3 0 1 0 -4.6 0M625.1 328.5a2.3 2.3 0 1 0 4.6 0a2.3 2.3 0 1 0 -4.6 0M663.3 334.6a2.3 2.3 0 1 0 4.6 0a2.3 2.3 0 1 0 -4.6 0M701.6 341.4a2.3 2.3 0 1 0 4.6 0a2.3 2.3 0 1 0 -4.6 0M739.9 344.3a2.3 2.3 0 1 0 4.6 0a2.3 2.3 0 1 0 -4.6 0M778.2 346.9a2.3 2.3 0 1 0 4.6 0a2.3 2.3 0 1 0 -4.6 0"/>
<path d="M133.7 267.2h4.1v4.1h-4.1zM172 269.8h4.1v4.1h-4.1zM210.2 272.1h4.1v4.1h-4.1zM248.5 275.8h4.1v4.1h-4.1zM286.8 279.2h4.1v4.1h-4.1zM325.1 275h4.1v4.1h-4.1zM363.4 279.2h4.1v4.1h-4.1zM401.7 288.9h4.1v4.1h-4.1zM440 296.3h4.1v4.1h-4.1zM478.3 297.9h4.1v4.1h-4.1zM516.6 302.5h4.1v4.1h-4.1zM554.9 312.7h4.1v4.1h-4.1zM593.1 320.9h4.1v4.1h-4.1zM631.4 328.3h4.1v4.1h-4.1zM669.7 335.5h4.1v4.1h-4.1zM708 340.7h4.1v4.1h-4.1zM746.3 344.9h4.1v4.1h-4.1zM784.6 347h4.1v4.1h-4.1z"/>
<path d="M139 274.9l2.9 -2.9 2.9 2.9 -2.9 2.9zM177.2 277.9l2.9 -2.9 2.9 2.9 -2.9 2.9zM215.5 280.4l2.9 -2.9 2.9 2.9 -2.9 2.9zM253.8 284.8l2.9 -2.9 2.9 2.9 -2.9 2.9zM292.1 291.9l2.9 -2.9 2.9 2.9 -2.9 2.9zM330.4 298.4l2.9 -2.9 2.9 2.9 -2.9 2.9zM368.7 305l2.9 -2.9 2.9 2.9 -2.9 2.9zM407 312.4l2.9 -2.9 2.9 2.9 -2.9 2.9zM445.3 318.6l2.9 -2.9 2.9 2.9 -2.9 2.9zM483.6 322.5l2.9 -2.9 2.9 2.9 -2.9 2.9zM521.9 327.1l2.9 -2.9 2.9 2.9 -2.9 2.9zM560.1 332.9l2.9 -2.9 2.9 2.9 -2.9 2.9zM598.4 336.2l2.9 -2.9 2.9 2.9 -2.9 2.9zM636.7 340.8l2.9 -2.9 2.9 2.9 -2.9 2.9zM675 344.3l2.9 -2.9 2.9 2.9 -2.9 2.9zM713.3 347.5l2.9 -2.9 2.9 2.9 -2.9 2.9zM751.6 349.6l2.9 -2.9 2.9 2.9 -2.9 2.9zM789.9 350.4l2.9 -2.9 2.9 2.9 -2.9 2.9z"/>
<path d="M148 265.9l3.1 5.4h-6.2zM186.3 274.2l3.1 5.4h-6.2zM224.5 283.2l3.1 5.4h-6.2zM262.8 293.9l3.1 5.4h-6.2zM301.1 305.4l3.1 5.4h-6.2zM339.4 314.9l3.1 5.4h-6.2zM377.7 321l3.1 5.4h-6.2zM416 325l3.1 5.4h-6.2zM454.3 330.8l3.1 5.4h-6.2zM492.6 334l3.1 5.4h-6.2zM530.9 336.3l3.1 5.4h-6.2zM569.2 339.1l3.1 5.4h-6.2zM607.4 341.2l3.1 5.4h-6.2zM645.7 343.4l3.1 5.4h-6.2zM684 345.5l3.1 5.4h-6.2zM722.3 346l3.1 5.4h-6.2zM760.6 346.8l3.1 5.4h-6.2zM798.9 347.1l3.1 5.4h-6.2z"/>
</g>
<g fill="none" stroke="#00f596" stroke-width="1.45" stroke-linejoin="round">
<path d="M95.5 574.5l5.6 5.6m0 -5.6l-5.6 5.6M94.4 577.3h7.9M98.3 573.3v7.9M134.8 583l5.6 5.6m0 -5.6l-5.6 5.6M133.7 585.8h7.9M137.6 581.8v7.9M174.1 591.5l5.6 5.6m0 -5.6l-5.6 5.6M172.9 594.3h7.9M176.9 590.3v7.9M213.4 593.6l5.6 5.6m0 -5.6l-5.6 5.6M212.2 596.4h7.9M216.2 592.5v7.9M252.7 598.7l5.6 5.6m0 -5.6l-5.6 5.6M251.5 601.5h7.9M255.5 597.6v7.9M292 605.1l5.6 5.6m0 -5.6l-5.6 5.6M290.8 607.9h7.9M294.8 604v7.9M331.3 610l5.6 5.6m0 -5.6l-5.6 5.6M330.1 612.8h7.9M334.1 608.9v7.9M370.6 616.4l5.6 5.6m0 -5.6l-5.6 5.6M369.4 619.2h7.9M373.4 615.2v7.9M409.8 620.6l5.6 5.6m0 -5.6l-5.6 5.6M408.7 623.4h7.9M412.6 619.5v7.9M449.1 626.2l5.6 5.6m0 -5.6l-5.6 5.6M448 629h7.9M451.9 625v7.9M488.4 632.3l5.6 5.6m0 -5.6l-5.6 5.6M487.3 635.1h7.9M491.2 631.2v7.9M527.7 644.3l5.6 5.6m0 -5.6l-5.6 5.6M526.6 647.1h7.9M530.5 643.1v7.9M567 648.9l5.6 5.6m0 -5.6l-5.6 5.6M565.8 651.7h7.9M569.8 647.8v7.9M606.3 656.6l5.6 5.6m0 -5.6l-5.6 5.6M605.1 659.4h7.9M609.1 655.4v7.9M645.6 668.9l5.6 5.6m0 -5.6l-5.6 5.6M644.4 671.7h7.9M648.4 667.8v7.9M684.9 676.4l5.6 5.6m0 -5.6l-5.6 5.6M683.7 679.2h7.9M687.7 675.2v7.9M724.2 688.3l5.6 5.6m0 -5.6l-5.6 5.6M723 691.1h7.9M727 687.1v7.9M763.5 701.7l5.6 5.6m0 -5.6l-5.6 5.6M762.3 704.5h7.9M766.3 700.5v7.9"/>
<path d="M104.6 451.7l3.8 -6.5h-7.5zM143.9 460.6l3.8 -6.5h-7.5zM183.2 470.2l3.8 -6.5h-7.5zM222.5 476l3.8 -6.5h-7.5zM261.8 487l3.8 -6.5h-7.5zM301.1 499.3l3.8 -6.5h-7.5zM340.4 513.2l3.8 -6.5h-7.5zM379.6 524.2l3.8 -6.5h-7.5zM418.9 528.9l3.8 -6.5h-7.5zM458.2 538.5l3.8 -6.5h-7.5zM497.5 549.7l3.8 -6.5h-7.5zM536.8 564l3.8 -6.5h-7.5zM576.1 580.2l3.8 -6.5h-7.5zM615.4 601.6l3.8 -6.5h-7.5zM654.7 617.4l3.8 -6.5h-7.5zM694 635.2l3.8 -6.5h-7.5zM733.3 655.2l3.8 -6.5h-7.5zM772.5 685l3.8 -6.5h-7.5z"/>
<path d="M108.1 545a2.8 2.8 0 1 0 5.6 0a2.8 2.8 0 1 0 -5.6 0M147.4 552.4a2.8 2.8 0 1 0 5.6 0a2.8 2.8 0 1 0 -5.6 0M186.7 562.2a2.8 2.8 0 1 0 5.6 0a2.8 2.8 0 1 0 -5.6 0M226 570.9a2.8 2.8 0 1 0 5.6 0a2.8 2.8 0 1 0 -5.6 0M265.3 579a2.8 2.8 0 1 0 5.6 0a2.8 2.8 0 1 0 -5.6 0M304.6 583.5a2.8 2.8 0 1 0 5.6 0a2.8 2.8 0 1 0 -5.6 0M343.8 593.2a2.8 2.8 0 1 0 5.6 0a2.8 2.8 0 1 0 -5.6 0M383.1 603.9a2.8 2.8 0 1 0 5.6 0a2.8 2.8 0 1 0 -5.6 0M422.4 607.9a2.8 2.8 0 1 0 5.6 0a2.8 2.8 0 1 0 -5.6 0M461.7 615.4a2.8 2.8 0 1 0 5.6 0a2.8 2.8 0 1 0 -5.6 0M501 624.5a2.8 2.8 0 1 0 5.6 0a2.8 2.8 0 1 0 -5.6 0M540.3 634.1a2.8 2.8 0 1 0 5.6 0a2.8 2.8 0 1 0 -5.6 0M579.6 645.4a2.8 2.8 0 1 0 5.6 0a2.8 2.8 0 1 0 -5.6 0M618.9 653.9a2.8 2.8 0 1 0 5.6 0a2.8 2.8 0 1 0 -5.6 0M658.2 668.1a2.8 2.8 0 1 0 5.6 0a2.8 2.8 0 1 0 -5.6 0M697.5 679.2a2.8 2.8 0 1 0 5.6 0a2.8 2.8 0 1 0 -5.6 0M736.7 694.1a2.8 2.8 0 1 0 5.6 0a2.8 2.8 0 1 0 -5.6 0M776 708.9a2.8 2.8 0 1 0 5.6 0a2.8 2.8 0 1 0 -5.6 0"/>
<path d="M114.7 599.1h5v5h-5zM154 608.4h5v5h-5zM193.3 617.6h5v5h-5zM232.6 623.7h5v5h-5zM271.9 635h5v5h-5zM311.2 643.3h5v5h-5zM350.4 645.6h5v5h-5zM389.7 652.2h5v5h-5zM429 658.6h5v5h-5zM468.3 667.1h5v5h-5zM507.6 673.3h5v5h-5zM546.9 679.7h5v5h-5zM586.2 687.1h5v5h-5zM625.5 696h5v5h-5zM664.8 702.4h5v5h-5zM704.1 713.9h5v5h-5zM743.3 724.3h5v5h-5zM782.6 735.4h5v5h-5z"/>
<path d="M120 607.7l3.5 -3.5 3.5 3.5 -3.5 3.5zM159.3 617.5l3.5 -3.5 3.5 3.5 -3.5 3.5zM198.5 626.2l3.5 -3.5 3.5 3.5 -3.5 3.5zM237.8 633.2l3.5 -3.5 3.5 3.5 -3.5 3.5zM277.1 642.2l3.5 -3.5 3.5 3.5 -3.5 3.5zM316.4 650.7l3.5 -3.5 3.5 3.5 -3.5 3.5zM355.7 658.1l3.5 -3.5 3.5 3.5 -3.5 3.5zM395 665.3l3.5 -3.5 3.5 3.5 -3.5 3.5zM434.3 671.9l3.5 -3.5 3.5 3.5 -3.5 3.5zM473.6 677.7l3.5 -3.5 3.5 3.5 -3.5 3.5zM512.9 683.6l3.5 -3.5 3.5 3.5 -3.5 3.5zM552.2 692.1l3.5 -3.5 3.5 3.5 -3.5 3.5zM591.4 698.9l3.5 -3.5 3.5 3.5 -3.5 3.5zM630.7 704.9l3.5 -3.5 3.5 3.5 -3.5 3.5zM670 711.9l3.5 -3.5 3.5 3.5 -3.5 3.5zM709.3 719.8l3.5 -3.5 3.5 3.5 -3.5 3.5zM748.6 727.7l3.5 -3.5 3.5 3.5 -3.5 3.5zM787.9 736.8l3.5 -3.5 3.5 3.5 -3.5 3.5z"/>
<path d="M129.8 578.7l3.8 6.5h-7.5zM169.1 588.9l3.8 6.5h-7.5zM208.3 597.2l3.8 6.5h-7.5zM247.6 607.4l3.8 6.5h-7.5zM286.9 619.7l3.8 6.5h-7.5zM326.2 628.2l3.8 6.5h-7.5zM365.5 636.3l3.8 6.5h-7.5zM404.8 644.2l3.8 6.5h-7.5zM444.1 651.6l3.8 6.5h-7.5zM483.4 658.4l3.8 6.5h-7.5zM522.7 663.3l3.8 6.5h-7.5zM562 667.4l3.8 6.5h-7.5zM601.2 674.2l3.8 6.5h-7.5zM640.5 681.4l3.8 6.5h-7.5zM679.8 688.2l3.8 6.5h-7.5zM719.1 694.2l3.8 6.5h-7.5zM758.4 703.1l3.8 6.5h-7.5zM797.7 715l3.8 6.5h-7.5z"/>
</g>
<g fill="none" stroke="#39f699" stroke-width="1.45" stroke-linejoin="round">
<path d="M95.5 574.3l5.6 5.6m0 -5.6l-5.6 5.6M94.4 577.1h7.9M98.3 573.1v7.9M134.8 582.8l5.6 5.6m0 -5.6l-5.6 5.6M133.7 585.6h7.9M137.6 581.7v7.9M174.1 591.4l5.6 5.6m0 -5.6l-5.6 5.6M172.9 594.2h7.9M176.9 590.2v7.9M213.4 593.7l5.6 5.6m0 -5.6l-5.6 5.6M212.2 596.5h7.9M216.2 592.6v7.9M252.7 598.9l5.6 5.6m0 -5.6l-5.6 5.6M251.5 601.7h7.9M255.5 597.7v7.9M292 605.3l5.6 5.6m0 -5.6l-5.6 5.6M290.8 608.1h7.9M294.8 604.2v7.9M331.3 610.3l5.6 5.6m0 -5.6l-5.6 5.6M330.1 613.1h7.9M334.1 609.1v7.9M370.6 616.6l5.6 5.6m0 -5.6l-5.6 5.6M369.4 619.4h7.9M373.4 615.5v7.9M409.8 621l5.6 5.6m0 -5.6l-5.6 5.6M408.7 623.8h7.9M412.6 619.8v7.9M449.1 626.5l5.6 5.6m0 -5.6l-5.6 5.6M448 629.3h7.9M451.9 625.3v7.9M488.4 632.6l5.6 5.6m0 -5.6l-5.6 5.6M487.3 635.4h7.9M491.2 631.5v7.9M527.7 644.3l5.6 5.6m0 -5.6l-5.6 5.6M526.6 647.1h7.9M530.5 643.1v7.9M567 648.7l5.6 5.6m0 -5.6l-5.6 5.6M565.8 651.5h7.9M569.8 647.6v7.9M606.3 656.6l5.6 5.6m0 -5.6l-5.6 5.6M605.1 659.4h7.9M609.1 655.4v7.9M645.6 668.7l5.6 5.6m0 -5.6l-5.6 5.6M644.4 671.5h7.9M648.4 667.5v7.9M684.9 676.1l5.6 5.6m0 -5.6l-5.6 5.6M683.7 678.9h7.9M687.7 674.9v7.9M724.2 687.9l5.6 5.6m0 -5.6l-5.6 5.6M723 690.7h7.9M727 686.7v7.9M763.5 701.3l5.6 5.6m0 -5.6l-5.6 5.6M762.3 704.1h7.9M766.3 700.1v7.9"/>
<path d="M104.6 451.2l3.8 -6.5h-7.5zM143.9 459.5l3.8 -6.5h-7.5zM183.2 469.5l3.8 -6.5h-7.5zM222.5 476.4l3.8 -6.5h-7.5zM261.8 487.7l3.8 -6.5h-7.5zM301.1 500l3.8 -6.5h-7.5zM340.4 513.4l3.8 -6.5h-7.5zM379.6 524.3l3.8 -6.5h-7.5zM418.9 529.8l3.8 -6.5h-7.5zM458.2 539.6l3.8 -6.5h-7.5zM497.5 550.6l3.8 -6.5h-7.5zM536.8 563.7l3.8 -6.5h-7.5zM576.1 579.5l3.8 -6.5h-7.5zM615.4 600.5l3.8 -6.5h-7.5zM654.7 615.9l3.8 -6.5h-7.5zM694 633.7l3.8 -6.5h-7.5zM733.3 653.7l3.8 -6.5h-7.5zM772.5 683.7l3.8 -6.5h-7.5z"/>
<path d="M108.1 544.8a2.8 2.8 0 1 0 5.6 0a2.8 2.8 0 1 0 -5.6 0M147.4 552.3a2.8 2.8 0 1 0 5.6 0a2.8 2.8 0 1 0 -5.6 0M186.7 562.1a2.8 2.8 0 1 0 5.6 0a2.8 2.8 0 1 0 -5.6 0M226 570.8a2.8 2.8 0 1 0 5.6 0a2.8 2.8 0 1 0 -5.6 0M265.3 578.9a2.8 2.8 0 1 0 5.6 0a2.8 2.8 0 1 0 -5.6 0M304.6 583.6a2.8 2.8 0 1 0 5.6 0a2.8 2.8 0 1 0 -5.6 0M343.8 593.3a2.8 2.8 0 1 0 5.6 0a2.8 2.8 0 1 0 -5.6 0M383.1 603.7a2.8 2.8 0 1 0 5.6 0a2.8 2.8 0 1 0 -5.6 0M422.4 608.1a2.8 2.8 0 1 0 5.6 0a2.8 2.8 0 1 0 -5.6 0M461.7 615.5a2.8 2.8 0 1 0 5.6 0a2.8 2.8 0 1 0 -5.6 0M501 624.6a2.8 2.8 0 1 0 5.6 0a2.8 2.8 0 1 0 -5.6 0M540.3 634.2a2.8 2.8 0 1 0 5.6 0a2.8 2.8 0 1 0 -5.6 0M579.6 645.2a2.8 2.8 0 1 0 5.6 0a2.8 2.8 0 1 0 -5.6 0M618.9 653.8a2.8 2.8 0 1 0 5.6 0a2.8 2.8 0 1 0 -5.6 0M658.2 667.9a2.8 2.8 0 1 0 5.6 0a2.8 2.8 0 1 0 -5.6 0M697.5 678.9a2.8 2.8 0 1 0 5.6 0a2.8 2.8 0 1 0 -5.6 0M736.7 693.7a2.8 2.8 0 1 0 5.6 0a2.8 2.8 0 1 0 -5.6 0M776 708.8a2.8 2.8 0 1 0 5.6 0a2.8 2.8 0 1 0 -5.6 0"/>
<path d="M114.7 599h5v5h-5zM154 608.2h5v5h-5zM193.3 617.4h5v5h-5zM232.6 623.7h5v5h-5zM271.9 634.9h5v5h-5zM311.2 643.2h5v5h-5zM350.4 645.7h5v5h-5zM389.7 652.3h5v5h-5zM429 658.8h5v5h-5zM468.3 667.2h5v5h-5zM507.6 673.4h5v5h-5zM546.9 679.8h5v5h-5zM586.2 687.2h5v5h-5zM625.5 696.1h5v5h-5zM664.8 702.5h5v5h-5zM704.1 713.8h5v5h-5zM743.3 724.2h5v5h-5zM782.6 735.3h5v5h-5z"/>
<path d="M120 607.5l3.5 -3.5 3.5 3.5 -3.5 3.5zM159.3 617.3l3.5 -3.5 3.5 3.5 -3.5 3.5zM198.5 626.1l3.5 -3.5 3.5 3.5 -3.5 3.5zM237.8 633.2l3.5 -3.5 3.5 3.5 -3.5 3.5zM277.1 642.1l3.5 -3.5 3.5 3.5 -3.5 3.5zM316.4 650.6l3.5 -3.5 3.5 3.5 -3.5 3.5zM355.7 658.1l3.5 -3.5 3.5 3.5 -3.5 3.5zM395 665.3l3.5 -3.5 3.5 3.5 -3.5 3.5zM434.3 671.9l3.5 -3.5 3.5 3.5 -3.5 3.5zM473.6 677.6l3.5 -3.5 3.5 3.5 -3.5 3.5zM512.9 683.6l3.5 -3.5 3.5 3.5 -3.5 3.5zM552.2 692.1l3.5 -3.5 3.5 3.5 -3.5 3.5zM591.4 698.9l3.5 -3.5 3.5 3.5 -3.5 3.5zM630.7 704.9l3.5 -3.5 3.5 3.5 -3.5 3.5zM670 711.9l3.5 -3.5 3.5 3.5 -3.5 3.5zM709.3 719.8l3.5 -3.5 3.5 3.5 -3.5 3.5zM748.6 727.6l3.5 -3.5 3.5 3.5 -3.5 3.5zM787.9 736.8l3.5 -3.5 3.5 3.5 -3.5 3.5z"/>
<path d="M129.8 578.5l3.8 6.5h-7.5zM169.1 588.7l3.8 6.5h-7.5zM208.3 597.1l3.8 6.5h-7.5zM247.6 607.3l3.8 6.5h-7.5zM286.9 619.6l3.8 6.5h-7.5zM326.2 628.2l3.8 6.5h-7.5zM365.5 636.3l3.8 6.5h-7.5zM404.8 644.1l3.8 6.5h-7.5zM444.1 651.6l3.8 6.5h-7.5zM483.4 658.4l3.8 6.5h-7.5zM522.7 663.3l3.8 6.5h-7.5zM562 667.5l3.8 6.5h-7.5zM601.2 674.4l3.8 6.5h-7.5zM640.5 681.6l3.8 6.5h-7.5zM679.8 688.4l3.8 6.5h-7.5zM719.1 694.4l3.8 6.5h-7.5zM758.4 703.2l3.8 6.5h-7.5zM797.7 715.1l3.8 6.5h-7.5z"/>
</g>
<g fill="none" stroke="#52f69c" stroke-width="1.45" stroke-linejoin="round">
<path d="M95.5 574.1l5.6 5.6m0 -5.6l-5.6 5.6M94.4 576.9h7.9M98.3 573v7.9M134.8 582.7l5.6 5.6m0 -5.6l-5.6 5.6M133.7 585.5h7.9M137.6 581.5v7.9M174.1 591.2l5.6 5.6m0 -5.6l-5.6 5.6M172.9 594h7.9M176.9 590.1v7.9M213.4 593.8l5.6 5.6m0 -5.6l-5.6 5.6M212.2 596.6h7.9M216.2 592.7v7.9M252.7 599l5.6 5.6m0 -5.6l-5.6 5.6M251.5 601.8h7.9M255.5 597.9v7.9M292 605.5l5.6 5.6m0 -5.6l-5.6 5.6M290.8 608.3h7.9M294.8 604.4v7.9M331.3 610.5l5.6 5.6m0 -5.6l-5.6 5.6M330.1 613.3h7.9M334.1 609.3v7.9M370.6 616.9l5.6 5.6m0 -5.6l-5.6 5.6M369.4 619.7h7.9M373.4 615.7v7.9M409.8 621.3l5.6 5.6m0 -5.6l-5.6 5.6M408.7 624.1h7.9M412.6 620.1v7.9M449.1 626.8l5.6 5.6m0 -5.6l-5.6 5.6M448 629.6h7.9M451.9 625.6v7.9M488.4 632.9l5.6 5.6m0 -5.6l-5.6 5.6M487.3 635.7h7.9M491.2 631.8v7.9M527.7 644.3l5.6 5.6m0 -5.6l-5.6 5.6M526.6 647.1h7.9M530.5 643.2v7.9M567 648.5l5.6 5.6m0 -5.6l-5.6 5.6M565.8 651.3h7.9M569.8 647.4v7.9M606.3 656.6l5.6 5.6m0 -5.6l-5.6 5.6M605.1 659.4h7.9M609.1 655.4v7.9M645.6 668.4l5.6 5.6m0 -5.6l-5.6 5.6M644.4 671.2h7.9M648.4 667.3v7.9M684.9 675.8l5.6 5.6m0 -5.6l-5.6 5.6M683.7 678.6h7.9M687.7 674.6v7.9M724.2 687.5l5.6 5.6m0 -5.6l-5.6 5.6M723 690.3h7.9M727 686.3v7.9M763.5 700.9l5.6 5.6m0 -5.6l-5.6 5.6M762.3 703.7h7.9M766.3 699.7v7.9"/>
<path d="M104.6 450.7l3.8 -6.5h-7.5zM143.9 458.4l3.8 -6.5h-7.5zM183.2 468.7l3.8 -6.5h-7.5zM222.5 476.9l3.8 -6.5h-7.5zM261.8 488.4l3.8 -6.5h-7.5zM301.1 500.7l3.8 -6.5h-7.5zM340.4 513.5l3.8 -6.5h-7.5zM379.6 524.4l3.8 -6.5h-7.5zM418.9 530.7l3.8 -6.5h-7.5zM458.2 540.7l3.8 -6.5h-7.5zM497.5 551.5l3.8 -6.5h-7.5zM536.8 563.4l3.8 -6.5h-7.5zM576.1 578.9l3.8 -6.5h-7.5zM615.4 599.3l3.8 -6.5h-7.5zM654.7 614.5l3.8 -6.5h-7.5zM694 632.2l3.8 -6.5h-7.5zM733.3 652.2l3.8 -6.5h-7.5zM772.5 682.4l3.8 -6.5h-7.5z"/>
<path d="M108.1 544.6a2.8 2.8 0 1 0 5.6 0a2.8 2.8 0 1 0 -5.6 0M147.4 552.2a2.8 2.8 0 1 0 5.6 0a2.8 2.8 0 1 0 -5.6 0M186.7 562a2.8 2.8 0 1 0 5.6 0a2.8 2.8 0 1 0 -5.6 0M226 570.8a2.8 2.8 0 1 0 5.6 0a2.8 2.8 0 1 0 -5.6 0M265.3 578.9a2.8 2.8 0 1 0 5.6 0a2.8 2.8 0 1 0 -5.6 0M304.6 583.7a2.8 2.8 0 1 0 5.6 0a2.8 2.8 0 1 0 -5.6 0M343.8 593.5a2.8 2.8 0 1 0 5.6 0a2.8 2.8 0 1 0 -5.6 0M383.1 603.6a2.8 2.8 0 1 0 5.6 0a2.8 2.8 0 1 0 -5.6 0M422.4 608.2a2.8 2.8 0 1 0 5.6 0a2.8 2.8 0 1 0 -5.6 0M461.7 615.6a2.8 2.8 0 1 0 5.6 0a2.8 2.8 0 1 0 -5.6 0M501 624.8a2.8 2.8 0 1 0 5.6 0a2.8 2.8 0 1 0 -5.6 0M540.3 634.4a2.8 2.8 0 1 0 5.6 0a2.8 2.8 0 1 0 -5.6 0M579.6 645.1a2.8 2.8 0 1 0 5.6 0a2.8 2.8 0 1 0 -5.6 0M618.9 653.6a2.8 2.8 0 1 0 5.6 0a2.8 2.8 0 1 0 -5.6 0M658.2 667.7a2.8 2.8 0 1 0 5.6 0a2.8 2.8 0 1 0 -5.6 0M697.5 678.7a2.8 2.8 0 1 0 5.6 0a2.8 2.8 0 1 0 -5.6 0M736.7 693.3a2.8 2.8 0 1 0 5.6 0a2.8 2.8 0 1 0 -5.6 0M776 708.6a2.8 2.8 0 1 0 5.6 0a2.8 2.8 0 1 0 -5.6 0"/>
<path d="M114.7 598.9h5v5h-5zM154 608.1h5v5h-5zM193.3 617.2h5v5h-5zM232.6 623.6h5v5h-5zM271.9 634.9h5v5h-5zM311.2 643.2h5v5h-5zM350.4 645.8h5v5h-5zM389.7 652.4h5v5h-5zM429 658.9h5v5h-5zM468.3 667.3h5v5h-5zM507.6 673.5h5v5h-5zM546.9 679.9h5v5h-5zM586.2 687.4h5v5h-5zM625.5 696.1h5v5h-5zM664.8 702.5h5v5h-5zM704.1 713.7h5v5h-5zM743.3 724h5v5h-5zM782.6 735.3h5v5h-5z"/>
<path d="M120 607.3l3.5 -3.5 3.5 3.5 -3.5 3.5zM159.3 617.1l3.5 -3.5 3.5 3.5 -3.5 3.5zM198.5 626l3.5 -3.5 3.5 3.5 -3.5 3.5zM237.8 633.1l3.5 -3.5 3.5 3.5 -3.5 3.5zM277.1 642.1l3.5 -3.5 3.5 3.5 -3.5 3.5zM316.4 650.6l3.5 -3.5 3.5 3.5 -3.5 3.5zM355.7 658.1l3.5 -3.5 3.5 3.5 -3.5 3.5zM395 665.3l3.5 -3.5 3.5 3.5 -3.5 3.5zM434.3 671.9l3.5 -3.5 3.5 3.5 -3.5 3.5zM473.6 677.6l3.5 -3.5 3.5 3.5 -3.5 3.5zM512.9 683.6l3.5 -3.5 3.5 3.5 -3.5 3.5zM552.2 692.1l3.5 -3.5 3.5 3.5 -3.5 3.5zM591.4 698.9l3.5 -3.5 3.5 3.5 -3.5 3.5zM630.7 704.9l3.5 -3.5 3.5 3.5 -3.5 3.5zM670 711.9l3.5 -3.5 3.5 3.5 -3.5 3.5zM709.3 719.8l3.5 -3.5 3.5 3.5 -3.5 3.5zM748.6 727.6l3.5 -3.5 3.5 3.5 -3.5 3.5zM787.9 736.7l3.5 -3.5 3.5 3.5 -3.5 3.5z"/>
<path d="M129.8 578.3l3.8 6.5h-7.5zM169.1 588.5l3.8 6.5h-7.5zM208.3 596.9l3.8 6.5h-7.5zM247.6 607.2l3.8 6.5h-7.5zM286.9 619.5l3.8 6.5h-7.5zM326.2 628.1l3.8 6.5h-7.5zM365.5 636.2l3.8 6.5h-7.5zM404.8 644.1l3.8 6.5h-7.5zM444.1 651.5l3.8 6.5h-7.5zM483.4 658.3l3.8 6.5h-7.5zM522.7 663.4l3.8 6.5h-7.5zM562 667.7l3.8 6.5h-7.5zM601.2 674.6l3.8 6.5h-7.5zM640.5 681.8l3.8 6.5h-7.5zM679.8 688.6l3.8 6.5h-7.5zM719.1 694.6l3.8 6.5h-7.5zM758.4 703.4l3.8 6.5h-7.5zM797.7 715.3l3.8 6.5h-7.5z"/>
</g>
<g fill="none" stroke="#65f7a0" stroke-width="1.45" stroke-linejoin="round">
<path d="M95.5 573.9l5.6 5.6m0 -5.6l-5.6 5.6M94.4 576.7h7.9M98.3 572.8v7.9M134.8 582.5l5.6 5.6m0 -5.6l-5.6 5.6M133.7 585.3h7.9M137.6 581.3v7.9M174.1 591.1l5.6 5.6m0 -5.6l-5.6 5.6M172.9 593.9h7.9M176.9 589.9v7.9M213.4 593.9l5.6 5.6m0 -5.6l-5.6 5.6M212.2 596.7h7.9M216.2 592.7v7.9M252.7 599.2l5.6 5.6m0 -5.6l-5.6 5.6M251.5 602h7.9M255.5 598v7.9M292 605.7l5.6 5.6m0 -5.6l-5.6 5.6M290.8 608.5h7.9M294.8 604.6v7.9M331.3 610.7l5.6 5.6m0 -5.6l-5.6 5.6M330.1 613.5h7.9M334.1 609.6v7.9M370.6 617.1l5.6 5.6m0 -5.6l-5.6 5.6M369.4 619.9h7.9M373.4 615.9v7.9M409.8 621.6l5.6 5.6m0 -5.6l-5.6 5.6M408.7 624.4h7.9M412.6 620.4v7.9M449.1 627.1l5.6 5.6m0 -5.6l-5.6 5.6M448 629.9h7.9M451.9 625.9v7.9M488.4 633.2l5.6 5.6m0 -5.6l-5.6 5.6M487.3 636h7.9M491.2 632.1v7.9M527.7 644.4l5.6 5.6m0 -5.6l-5.6 5.6M526.6 647.2h7.9M530.5 643.2v7.9M567 648.3l5.6 5.6m0 -5.6l-5.6 5.6M565.8 651.1h7.9M569.8 647.2v7.9M606.3 656.6l5.6 5.6m0 -5.6l-5.6 5.6M605.1 659.4h7.9M609.1 655.4v7.9M645.6 668.2l5.6 5.6m0 -5.6l-5.6 5.6M644.4 671h7.9M648.4 667v7.9M684.9 675.5l5.6 5.6m0 -5.6l-5.6 5.6M683.7 678.3h7.9M687.7 674.3v7.9M724.2 687l5.6 5.6m0 -5.6l-5.6 5.6M723 689.8h7.9M727 685.9v7.9M763.5 700.5l5.6 5.6m0 -5.6l-5.6 5.6M762.3 703.3h7.9M766.3 699.4v7.9"/>
<path d="M104.6 450.2l3.8 -6.5h-7.5zM143.9 457.3l3.8 -6.5h-7.5zM183.2 468l3.8 -6.5h-7.5zM222.5 477.4l3.8 -6.5h-7.5zM261.8 489.1l3.8 -6.5h-7.5zM301.1 501.4l3.8 -6.5h-7.5zM340.4 513.7l3.8 -6.5h-7.5zM379.6 524.5l3.8 -6.5h-7.5zM418.9 531.5l3.8 -6.5h-7.5zM458.2 541.7l3.8 -6.5h-7.5zM497.5 552.3l3.8 -6.5h-7.5zM536.8 563l3.8 -6.5h-7.5zM576.1 578.3l3.8 -6.5h-7.5zM615.4 598.2l3.8 -6.5h-7.5zM654.7 613l3.8 -6.5h-7.5zM694 630.6l3.8 -6.5h-7.5zM733.3 650.7l3.8 -6.5h-7.5zM772.5 681.1l3.8 -6.5h-7.5z"/>
<path d="M108.1 544.4a2.8 2.8 0 1 0 5.6 0a2.8 2.8 0 1 0 -5.6 0M147.4 552.1a2.8 2.8 0 1 0 5.6 0a2.8 2.8 0 1 0 -5.6 0M186.7 562a2.8 2.8 0 1 0 5.6 0a2.8 2.8 0 1 0 -5.6 0M226 570.7a2.8 2.8 0 1 0 5.6 0a2.8 2.8 0 1 0 -5.6 0M265.3 578.8a2.8 2.8 0 1 0 5.6 0a2.8 2.8 0 1 0 -5.6 0M304.6 583.8a2.8 2.8 0 1 0 5.6 0a2.8 2.8 0 1 0 -5.6 0M343.8 593.6a2.8 2.8 0 1 0 5.6 0a2.8 2.8 0 1 0 -5.6 0M383.1 603.4a2.8 2.8 0 1 0 5.6 0a2.8 2.8 0 1 0 -5.6 0M422.4 608.4a2.8 2.8 0 1 0 5.6 0a2.8 2.8 0 1 0 -5.6 0M461.7 615.8a2.8 2.8 0 1 0 5.6 0a2.8 2.8 0 1 0 -5.6 0M501 624.9a2.8 2.8 0 1 0 5.6 0a2.8 2.8 0 1 0 -5.6 0M540.3 634.5a2.8 2.8 0 1 0 5.6 0a2.8 2.8 0 1 0 -5.6 0M579.6 645a2.8 2.8 0 1 0 5.6 0a2.8 2.8 0 1 0 -5.6 0M618.9 653.5a2.8 2.8 0 1 0 5.6 0a2.8 2.8 0 1 0 -5.6 0M658.2 667.4a2.8 2.8 0 1 0 5.6 0a2.8 2.8 0 1 0 -5.6 0M697.5 678.4a2.8 2.8 0 1 0 5.6 0a2.8 2.8 0 1 0 -5.6 0M736.7 693a2.8 2.8 0 1 0 5.6 0a2.8 2.8 0 1 0 -5.6 0M776 708.5a2.8 2.8 0 1 0 5.6 0a2.8 2.8 0 1 0 -5.6 0"/>
<path d="M114.7 598.8h5v5h-5zM154 607.9h5v5h-5zM193.3 617h5v5h-5zM232.6 623.5h5v5h-5zM271.9 634.8h5v5h-5zM311.2 643.1h5v5h-5zM350.4 645.9h5v5h-5zM389.7 652.5h5v5h-5zM429 659h5v5h-5zM468.3 667.4h5v5h-5zM507.6 673.7h5v5h-5zM546.9 680h5v5h-5zM586.2 687.5h5v5h-5zM625.5 696.2h5v5h-5zM664.8 702.6h5v5h-5zM704.1 713.6h5v5h-5zM743.3 723.9h5v5h-5zM782.6 735.2h5v5h-5z"/>
<path d="M120 607.1l3.5 -3.5 3.5 3.5 -3.5 3.5zM159.3 616.9l3.5 -3.5 3.5 3.5 -3.5 3.5zM198.5 625.8l3.5 -3.5 3.5 3.5 -3.5 3.5zM237.8 633.1l3.5 -3.5 3.5 3.5 -3.5 3.5zM277.1 642l3.5 -3.5 3.5 3.5 -3.5 3.5zM316.4 650.5l3.5 -3.5 3.5 3.5 -3.5 3.5zM355.7 658l3.5 -3.5 3.5 3.5 -3.5 3.5zM395 665.3l3.5 -3.5 3.5 3.5 -3.5 3.5zM434.3 671.9l3.5 -3.5 3.5 3.5 -3.5 3.5zM473.6 677.6l3.5 -3.5 3.5 3.5 -3.5 3.5zM512.9 683.6l3.5 -3.5 3.5 3.5 -3.5 3.5zM552.2 692.1l3.5 -3.5 3.5 3.5 -3.5 3.5zM591.4 698.9l3.5 -3.5 3.5 3.5 -3.5 3.5zM630.7 704.9l3.5 -3.5 3.5 3.5 -3.5 3.5zM670 711.9l3.5 -3.5 3.5 3.5 -3.5 3.5zM709.3 719.7l3.5 -3.5 3.5 3.5 -3.5 3.5zM748.6 727.6l3.5 -3.5 3.5 3.5 -3.5 3.5zM787.9 736.7l3.5 -3.5 3.5 3.5 -3.5 3.5z"/>
<path d="M129.8 578l3.8 6.5h-7.5zM169.1 588.3l3.8 6.5h-7.5zM208.3 596.8l3.8 6.5h-7.5zM247.6 607.1l3.8 6.5h-7.5zM286.9 619.3l3.8 6.5h-7.5zM326.2 628.1l3.8 6.5h-7.5zM365.5 636.2l3.8 6.5h-7.5zM404.8 644.1l3.8 6.5h-7.5zM444.1 651.5l3.8 6.5h-7.5zM483.4 658.3l3.8 6.5h-7.5zM522.7 663.4l3.8 6.5h-7.5zM562 667.9l3.8 6.5h-7.5zM601.2 674.8l3.8 6.5h-7.5zM640.5 682l3.8 6.5h-7.5zM679.8 688.8l3.8 6.5h-7.5zM719.1 694.9l3.8 6.5h-7.5zM758.4 703.6l3.8 6.5h-7.5zM797.7 715.4l3.8 6.5h-7.5z"/>
</g>
<g fill="none" stroke="#75f8a3" stroke-width="1.45" stroke-linejoin="round">
<path d="M95.5 573.7l5.6 5.6m0 -5.6l-5.6 5.6M94.4 576.5h7.9M98.3 572.6v7.9M134.8 582.3l5.6 5.6m0 -5.6l-5.6 5.6M133.7 585.1h7.9M137.6 581.2v7.9M174.1 591l5.6 5.6m0 -5.6l-5.6 5.6M172.9 593.8h7.9M176.9 589.8v7.9M213.4 594l5.6 5.6m0 -5.6l-5.6 5.6M212.2 596.8h7.9M216.2 592.8v7.9M252.7 599.3l5.6 5.6m0 -5.6l-5.6 5.6M251.5 602.1h7.9M255.5 598.1v7.9M292 605.9l5.6 5.6m0 -5.6l-5.6 5.6M290.8 608.7h7.9M294.8 604.8v7.9M331.3 611l5.6 5.6m0 -5.6l-5.6 5.6M330.1 613.8h7.9M334.1 609.8v7.9M370.6 617.3l5.6 5.6m0 -5.6l-5.6 5.6M369.4 620.1h7.9M373.4 616.2v7.9M409.8 621.9l5.6 5.6m0 -5.6l-5.6 5.6M408.7 624.7h7.9M412.6 620.7v7.9M449.1 627.4l5.6 5.6m0 -5.6l-5.6 5.6M448 630.2h7.9M451.9 626.2v7.9M488.4 633.5l5.6 5.6m0 -5.6l-5.6 5.6M487.3 636.3h7.9M491.2 632.4v7.9M527.7 644.4l5.6 5.6m0 -5.6l-5.6 5.6M526.6 647.2h7.9M530.5 643.2v7.9M567 648.1l5.6 5.6m0 -5.6l-5.6 5.6M565.8 650.9h7.9M569.8 647v7.9M606.3 656.6l5.6 5.6m0 -5.6l-5.6 5.6M605.1 659.4h7.9M609.1 655.4v7.9M645.6 667.9l5.6 5.6m0 -5.6l-5.6 5.6M644.4 670.7h7.9M648.4 666.8v7.9M684.9 675.2l5.6 5.6m0 -5.6l-5.6 5.6M683.7 678h7.9M687.7 674.1v7.9M724.2 686.6l5.6 5.6m0 -5.6l-5.6 5.6M723 689.4h7.9M727 685.5v7.9M763.5 700.1l5.6 5.6m0 -5.6l-5.6 5.6M762.3 702.9h7.9M766.3 699v7.9"/>
<path d="M104.6 449.7l3.8 -6.5h-7.5zM143.9 456.2l3.8 -6.5h-7.5zM183.2 467.2l3.8 -6.5h-7.5zM222.5 477.9l3.8 -6.5h-7.5zM261.8 489.8l3.8 -6.5h-7.5zM301.1 502.1l3.8 -6.5h-7.5zM340.4 513.9l3.8 -6.5h-7.5zM379.6 524.7l3.8 -6.5h-7.5zM418.9 532.4l3.8 -6.5h-7.5zM458.2 542.8l3.8 -6.5h-7.5zM497.5 553.2l3.8 -6.5h-7.5zM536.8 562.7l3.8 -6.5h-7.5zM576.1 577.7l3.8 -6.5h-7.5zM615.4 597l3.8 -6.5h-7.5zM654.7 611.6l3.8 -6.5h-7.5zM694 629.1l3.8 -6.5h-7.5zM733.3 649.2l3.8 -6.5h-7.5zM772.5 679.8l3.8 -6.5h-7.5z"/>
<path d="M108.1 544.2a2.8 2.8 0 1 0 5.6 0a2.8 2.8 0 1 0 -5.6 0M147.4 552a2.8 2.8 0 1 0 5.6 0a2.8 2.8 0 1 0 -5.6 0M186.7 561.9a2.8 2.8 0 1 0 5.6 0a2.8 2.8 0 1 0 -5.6 0M226 570.6a2.8 2.8 0 1 0 5.6 0a2.8 2.8 0 1 0 -5.6 0M265.3 578.7a2.8 2.8 0 1 0 5.6 0a2.8 2.8 0 1 0 -5.6 0M304.6 583.9a2.8 2.8 0 1 0 5.6 0a2.8 2.8 0 1 0 -5.6 0M343.8 593.7a2.8 2.8 0 1 0 5.6 0a2.8 2.8 0 1 0 -5.6 0M383.1 603.2a2.8 2.8 0 1 0 5.6 0a2.8 2.8 0 1 0 -5.6 0M422.4 608.5a2.8 2.8 0 1 0 5.6 0a2.8 2.8 0 1 0 -5.6 0M461.7 615.9a2.8 2.8 0 1 0 5.6 0a2.8 2.8 0 1 0 -5.6 0M501 625a2.8 2.8 0 1 0 5.6 0a2.8 2.8 0 1 0 -5.6 0M540.3 634.7a2.8 2.8 0 1 0 5.6 0a2.8 2.8 0 1 0 -5.6 0M579.6 644.8a2.8 2.8 0 1 0 5.6 0a2.8 2.8 0 1 0 -5.6 0M618.9 653.4a2.8 2.8 0 1 0 5.6 0a2.8 2.8 0 1 0 -5.6 0M658.2 667.2a2.8 2.8 0 1 0 5.6 0a2.8 2.8 0 1 0 -5.6 0M697.5 678.1a2.8 2.8 0 1 0 5.6 0a2.8 2.8 0 1 0 -5.6 0M736.7 692.6a2.8 2.8 0 1 0 5.6 0a2.8 2.8 0 1 0 -5.6 0M776 708.3a2.8 2.8 0 1 0 5.6 0a2.8 2.8 0 1 0 -5.6 0"/>
<path d="M114.7 598.6h5v5h-5zM154 607.7h5v5h-5zM193.3 616.8h5v5h-5zM232.6 623.4h5v5h-5zM271.9 634.7h5v5h-5zM311.2 643.1h5v5h-5zM350.4 646h5v5h-5zM389.7 652.6h5v5h-5zM429 659.2h5v5h-5zM468.3 667.6h5v5h-5zM507.6 673.8h5v5h-5zM546.9 680.2h5v5h-5zM586.2 687.6h5v5h-5zM625.5 696.2h5v5h-5zM664.8 702.7h5v5h-5zM704.1 713.5h5v5h-5zM743.3 723.7h5v5h-5zM782.6 735.2h5v5h-5z"/>
<path d="M120 606.9l3.5 -3.5 3.5 3.5 -3.5 3.5zM159.3 616.8l3.5 -3.5 3.5 3.5 -3.5 3.5zM198.5 625.7l3.5 -3.5 3.5 3.5 -3.5 3.5zM237.8 633.1l3.5 -3.5 3.5 3.5 -3.5 3.5zM277.1 642l3.5 -3.5 3.5 3.5 -3.5 3.5zM316.4 650.5l3.5 -3.5 3.5 3.5 -3.5 3.5zM355.7 658l3.5 -3.5 3.5 3.5 -3.5 3.5zM395 665.2l3.5 -3.5 3.5 3.5 -3.5 3.5zM434.3 671.8l3.5 -3.5 3.5 3.5 -3.5 3.5zM473.6 677.6l3.5 -3.5 3.5 3.5 -3.5 3.5zM512.9 683.5l3.5 -3.5 3.5 3.5 -3.5 3.5zM552.2 692.1l3.5 -3.5 3.5 3.5 -3.5 3.5zM591.4 698.9l3.5 -3.5 3.5 3.5 -3.5 3.5zM630.7 704.8l3.5 -3.5 3.5 3.5 -3.5 3.5zM670 711.9l3.5 -3.5 3.5 3.5 -3.5 3.5zM709.3 719.7l3.5 -3.5 3.5 3.5 -3.5 3.5zM748.6 727.5l3.5 -3.5 3.5 3.5 -3.5 3.5zM787.9 736.7l3.5 -3.5 3.5 3.5 -3.5 3.5z"/>
<path d="M129.8 577.8l3.8 6.5h-7.5zM169.1 588.1l3.8 6.5h-7.5zM208.3 596.7l3.8 6.5h-7.5zM247.6 607l3.8 6.5h-7.5zM286.9 619.2l3.8 6.5h-7.5zM326.2 628l3.8 6.5h-7.5zM365.5 636.1l3.8 6.5h-7.5zM404.8 644l3.8 6.5h-7.5zM444.1 651.5l3.8 6.5h-7.5zM483.4 658.3l3.8 6.5h-7.5zM522.7 663.4l3.8 6.5h-7.5zM562 668l3.8 6.5h-7.5zM601.2 675l3.8 6.5h-7.5zM640.5 682.2l3.8 6.5h-7.5zM679.8 689l3.8 6.5h-7.5zM719.1 695.1l3.8 6.5h-7.5zM758.4 703.7l3.8 6.5h-7.5zM797.7 715.6l3.8 6.5h-7.5z"/>
</g>
<g fill="none" stroke="#84f8a6" stroke-width="1.45" stroke-linejoin="round">
<path d="M95.5 573.5l5.6 5.6m0 -5.6l-5.6 5.6M94.4 576.3h7.9M98.3 572.4v7.9M134.8 582.2l5.6 5.6m0 -5.6l-5.6 5.6M133.7 585h7.9M137.6 581v7.9M174.1 590.8l5.6 5.6m0 -5.6l-5.6 5.6M172.9 593.6h7.9M176.9 589.7v7.9M213.4 594.1l5.6 5.6m0 -5.6l-5.6 5.6M212.2 596.9h7.9M216.2 592.9v7.9M252.7 599.4l5.6 5.6m0 -5.6l-5.6 5.6M251.5 602.2h7.9M255.5 598.3v7.9M292 606.1l5.6 5.6m0 -5.6l-5.6 5.6M290.8 608.9h7.9M294.8 605v7.9M331.3 611.2l5.6 5.6m0 -5.6l-5.6 5.6M330.1 614h7.9M334.1 610.1v7.9M370.6 617.6l5.6 5.6m0 -5.6l-5.6 5.6M369.4 620.4h7.9M373.4 616.4v7.9M409.8 622.2l5.6 5.6m0 -5.6l-5.6 5.6M408.7 625h7.9M412.6 621.1v7.9M449.1 627.7l5.6 5.6m0 -5.6l-5.6 5.6M448 630.5h7.9M451.9 626.6v7.9M488.4 633.8l5.6 5.6m0 -5.6l-5.6 5.6M487.3 636.6h7.9M491.2 632.6v7.9M527.7 644.4l5.6 5.6m0 -5.6l-5.6 5.6M526.6 647.2h7.9M530.5 643.3v7.9M567 647.9l5.6 5.6m0 -5.6l-5.6 5.6M565.8 650.7h7.9M569.8 646.8v7.9M606.3 656.6l5.6 5.6m0 -5.6l-5.6 5.6M605.1 659.4h7.9M609.1 655.4v7.9M645.6 667.7l5.6 5.6m0 -5.6l-5.6 5.6M644.4 670.5h7.9M648.4 666.5v7.9M684.9 674.9l5.6 5.6m0 -5.6l-5.6 5.6M683.7 677.7h7.9M687.7 673.8v7.9M724.2 686.2l5.6 5.6m0 -5.6l-5.6 5.6M723 689h7.9M727 685.1v7.9M763.5 699.8l5.6 5.6m0 -5.6l-5.6 5.6M762.3 702.6h7.9M766.3 698.6v7.9"/>
<path d="M104.6 449.2l3.8 -6.5h-7.5zM143.9 455.1l3.8 -6.5h-7.5zM183.2 466.5l3.8 -6.5h-7.5zM222.5 478.4l3.8 -6.5h-7.5zM261.8 490.5l3.8 -6.5h-7.5zM301.1 502.8l3.8 -6.5h-7.5zM340.4 514.1l3.8 -6.5h-7.5zM379.6 524.8l3.8 -6.5h-7.5zM418.9 533.3l3.8 -6.5h-7.5zM458.2 543.9l3.8 -6.5h-7.5zM497.5 554l3.8 -6.5h-7.5zM536.8 562.4l3.8 -6.5h-7.5zM576.1 577.1l3.8 -6.5h-7.5zM615.4 595.9l3.8 -6.5h-7.5zM654.7 610.1l3.8 -6.5h-7.5zM694 627.6l3.8 -6.5h-7.5zM733.3 647.7l3.8 -6.5h-7.5zM772.5 678.5l3.8 -6.5h-7.5z"/>
<path d="M108.1 544a2.8 2.8 0 1 0 5.6 0a2.8 2.8 0 1 0 -5.6 0M147.4 551.9a2.8 2.8 0 1 0 5.6 0a2.8 2.8 0 1 0 -5.6 0M186.7 561.8a2.8 2.8 0 1 0 5.6 0a2.8 2.8 0 1 0 -5.6 0M226 570.5a2.8 2.8 0 1 0 5.6 0a2.8 2.8 0 1 0 -5.6 0M265.3 578.6a2.8 2.8 0 1 0 5.6 0a2.8 2.8 0 1 0 -5.6 0M304.6 584a2.8 2.8 0 1 0 5.6 0a2.8 2.8 0 1 0 -5.6 0M343.8 593.8a2.8 2.8 0 1 0 5.6 0a2.8 2.8 0 1 0 -5.6 0M383.1 603.1a2.8 2.8 0 1 0 5.6 0a2.8 2.8 0 1 0 -5.6 0M422.4 608.7a2.8 2.8 0 1 0 5.6 0a2.8 2.8 0 1 0 -5.6 0M461.7 616a2.8 2.8 0 1 0 5.6 0a2.8 2.8 0 1 0 -5.6 0M501 625.2a2.8 2.8 0 1 0 5.6 0a2.8 2.8 0 1 0 -5.6 0M540.3 634.8a2.8 2.8 0 1 0 5.6 0a2.8 2.8 0 1 0 -5.6 0M579.6 644.7a2.8 2.8 0 1 0 5.6 0a2.8 2.8 0 1 0 -5.6 0M618.9 653.3a2.8 2.8 0 1 0 5.6 0a2.8 2.8 0 1 0 -5.6 0M658.2 667a2.8 2.8 0 1 0 5.6 0a2.8 2.8 0 1 0 -5.6 0M697.5 677.9a2.8 2.8 0 1 0 5.6 0a2.8 2.8 0 1 0 -5.6 0M736.7 692.3a2.8 2.8 0 1 0 5.6 0a2.8 2.8 0 1 0 -5.6 0M776 708.2a2.8 2.8 0 1 0 5.6 0a2.8 2.8 0 1 0 -5.6 0"/>
<path d="M114.7 598.5h5v5h-5zM154 607.6h5v5h-5zM193.3 616.6h5v5h-5zM232.6 623.4h5v5h-5zM271.9 634.6h5v5h-5zM311.2 643h5v5h-5zM350.4 646.1h5v5h-5zM389.7 652.7h5v5h-5zM429 659.3h5v5h-5zM468.3 667.7h5v5h-5zM507.6 673.9h5v5h-5zM546.9 680.3h5v5h-5zM586.2 687.7h5v5h-5zM625.5 696.3h5v5h-5zM664.8 702.7h5v5h-5zM704.1 713.4h5v5h-5zM743.3 723.6h5v5h-5zM782.6 735.1h5v5h-5z"/>
<path d="M120 606.8l3.5 -3.5 3.5 3.5 -3.5 3.5zM159.3 616.6l3.5 -3.5 3.5 3.5 -3.5 3.5zM198.5 625.6l3.5 -3.5 3.5 3.5 -3.5 3.5zM237.8 633l3.5 -3.5 3.5 3.5 -3.5 3.5zM277.1 641.9l3.5 -3.5 3.5 3.5 -3.5 3.5zM316.4 650.4l3.5 -3.5 3.5 3.5 -3.5 3.5zM355.7 658l3.5 -3.5 3.5 3.5 -3.5 3.5zM395 665.2l3.5 -3.5 3.5 3.5 -3.5 3.5zM434.3 671.8l3.5 -3.5 3.5 3.5 -3.5 3.5zM473.6 677.5l3.5 -3.5 3.5 3.5 -3.5 3.5zM512.9 683.5l3.5 -3.5 3.5 3.5 -3.5 3.5zM552.2 692.1l3.5 -3.5 3.5 3.5 -3.5 3.5zM591.4 698.9l3.5 -3.5 3.5 3.5 -3.5 3.5zM630.7 704.8l3.5 -3.5 3.5 3.5 -3.5 3.5zM670 711.8l3.5 -3.5 3.5 3.5 -3.5 3.5zM709.3 719.7l3.5 -3.5 3.5 3.5 -3.5 3.5zM748.6 727.5l3.5 -3.5 3.5 3.5 -3.5 3.5zM787.9 736.6l3.5 -3.5 3.5 3.5 -3.5 3.5z"/>
<path d="M129.8 577.6l3.8 6.5h-7.5zM169.1 587.9l3.8 6.5h-7.5zM208.3 596.6l3.8 6.5h-7.5zM247.6 606.9l3.8 6.5h-7.5zM286.9 619l3.8 6.5h-7.5zM326.2 627.9l3.8 6.5h-7.5zM365.5 636.1l3.8 6.5h-7.5zM404.8 644l3.8 6.5h-7.5zM444.1 651.4l3.8 6.5h-7.5zM483.4 658.2l3.8 6.5h-7.5zM522.7 663.4l3.8 6.5h-7.5zM562 668.2l3.8 6.5h-7.5zM601.2 675.2l3.8 6.5h-7.5zM640.5 682.4l3.8 6.5h-7.5zM679.8 689.2l3.8 6.5h-7.5zM719.1 695.3l3.8 6.5h-7.5zM758.4 703.9l3.8 6.5h-7.5zM797.7 715.7l3.8 6.5h-7.5z"/>
</g>
<g fill="none" stroke="#92f9aa" stroke-width="1.45" stroke-linejoin="round">
<path d="M95.5 573.4l5.6 5.6m0 -5.6l-5.6 5.6M94.4 576.2h7.9M98.3 572.2v7.9M134.8 582l5.6 5.6m0 -5.6l-5.6 5.6M133.7 584.8h7.9M137.6 580.8v7.9M174.1 590.7l5.6 5.6m0 -5.6l-5.6 5.6M172.9 593.5h7.9M176.9 589.5v7.9M213.4 594.2l5.6 5.6m0 -5.6l-5.6 5.6M212.2 597h7.9M216.2 593v7.9M252.7 599.6l5.6 5.6m0 -5.6l-5.6 5.6M251.5 602.4h7.9M255.5 598.4v7.9M292 606.3l5.6 5.6m0 -5.6l-5.6 5.6M290.8 609.1h7.9M294.8 605.1v7.9M331.3 611.5l5.6 5.6m0 -5.6l-5.6 5.6M330.1 614.3h7.9M334.1 610.3v7.9M370.6 617.8l5.6 5.6m0 -5.6l-5.6 5.6M369.4 620.6h7.9M373.4 616.6v7.9M409.8 622.5l5.6 5.6m0 -5.6l-5.6 5.6M408.7 625.3h7.9M412.6 621.4v7.9M449.1 628l5.6 5.6m0 -5.6l-5.6 5.6M448 630.8h7.9M451.9 626.9v7.9M488.4 634.1l5.6 5.6m0 -5.6l-5.6 5.6M487.3 636.9h7.9M491.2 632.9v7.9M527.7 644.5l5.6 5.6m0 -5.6l-5.6 5.6M526.6 647.3h7.9M530.5 643.3v7.9M567 647.7l5.6 5.6m0 -5.6l-5.6 5.6M565.8 650.5h7.9M569.8 646.6v7.9M606.3 656.6l5.6 5.6m0 -5.6l-5.6 5.6M605.1 659.4h7.9M609.1 655.4v7.9M645.6 667.4l5.6 5.6m0 -5.6l-5.6 5.6M644.4 670.2h7.9M648.4 666.3v7.9M684.9 674.6l5.6 5.6m0 -5.6l-5.6 5.6M683.7 677.4h7.9M687.7 673.5v7.9M724.2 685.8l5.6 5.6m0 -5.6l-5.6 5.6M723 688.6h7.9M727 684.7v7.9M763.5 699.4l5.6 5.6m0 -5.6l-5.6 5.6M762.3 702.2h7.9M766.3 698.2v7.9"/>
<path d="M104.6 448.7l3.8 -6.5h-7.5zM143.9 454.7l3.8 -6.5h-7.5zM183.2 465.7l3.8 -6.5h-7.5zM222.5 478.9l3.8 -6.5h-7.5zM261.8 491.2l3.8 -6.5h-7.5zM301.1 503.5l3.8 -6.5h-7.5zM340.4 514.3l3.8 -6.5h-7.5zM379.6 524.9l3.8 -6.5h-7.5zM418.9 534.2l3.8 -6.5h-7.5zM458.2 545l3.8 -6.5h-7.5zM497.5 554.9l3.8 -6.5h-7.5zM536.8 562.1l3.8 -6.5h-7.5zM576.1 576.5l3.8 -6.5h-7.5zM615.4 594.8l3.8 -6.5h-7.5zM654.7 608.7l3.8 -6.5h-7.5zM694 626.1l3.8 -6.5h-7.5zM733.3 646.2l3.8 -6.5h-7.5zM772.5 677.2l3.8 -6.5h-7.5z"/>
<path d="M108.1 543.8a2.8 2.8 0 1 0 5.6 0a2.8 2.8 0 1 0 -5.6 0M147.4 551.8a2.8 2.8 0 1 0 5.6 0a2.8 2.8 0 1 0 -5.6 0M186.7 561.7a2.8 2.8 0 1 0 5.6 0a2.8 2.8 0 1 0 -5.6 0M226 570.5a2.8 2.8 0 1 0 5.6 0a2.8 2.8 0 1 0 -5.6 0M265.3 578.6a2.8 2.8 0 1 0 5.6 0a2.8 2.8 0 1 0 -5.6 0M304.6 584.1a2.8 2.8 0 1 0 5.6 0a2.8 2.8 0 1 0 -5.6 0M343.8 593.9a2.8 2.8 0 1 0 5.6 0a2.8 2.8 0 1 0 -5.6 0M383.1 602.9a2.8 2.8 0 1 0 5.6 0a2.8 2.8 0 1 0 -5.6 0M422.4 608.8a2.8 2.8 0 1 0 5.6 0a2.8 2.8 0 1 0 -5.6 0M461.7 616.2a2.8 2.8 0 1 0 5.6 0a2.8 2.8 0 1 0 -5.6 0M501 625.3a2.8 2.8 0 1 0 5.6 0a2.8 2.8 0 1 0 -5.6 0M540.3 635a2.8 2.8 0 1 0 5.6 0a2.8 2.8 0 1 0 -5.6 0M579.6 644.6a2.8 2.8 0 1 0 5.6 0a2.8 2.8 0 1 0 -5.6 0M618.9 653.2a2.8 2.8 0 1 0 5.6 0a2.8 2.8 0 1 0 -5.6 0M658.2 666.7a2.8 2.8 0 1 0 5.6 0a2.8 2.8 0 1 0 -5.6 0M697.5 677.6a2.8 2.8 0 1 0 5.6 0a2.8 2.8 0 1 0 -5.6 0M736.7 691.9a2.8 2.8 0 1 0 5.6 0a2.8 2.8 0 1 0 -5.6 0M776 708a2.8 2.8 0 1 0 5.6 0a2.8 2.8 0 1 0 -5.6 0"/>
<path d="M114.7 598.4h5v5h-5zM154 607.4h5v5h-5zM193.3 616.4h5v5h-5zM232.6 623.3h5v5h-5zM271.9 634.6h5v5h-5zM311.2 643h5v5h-5zM350.4 646.2h5v5h-5zM389.7 652.8h5v5h-5zM429 659.5h5v5h-5zM468.3 667.8h5v5h-5zM507.6 674h5v5h-5zM546.9 680.4h5v5h-5zM586.2 687.9h5v5h-5zM625.5 696.3h5v5h-5zM664.8 702.8h5v5h-5zM704.1 713.3h5v5h-5zM743.3 723.4h5v5h-5zM782.6 735.1h5v5h-5z"/>
<path d="M120 606.6l3.5 -3.5 3.5 3.5 -3.5 3.5zM159.3 616.4l3.5 -3.5 3.5 3.5 -3.5 3.5zM198.5 625.5l3.5 -3.5 3.5 3.5 -3.5 3.5zM237.8 633l3.5 -3.5 3.5 3.5 -3.5 3.5zM277.1 641.9l3.5 -3.5 3.5 3.5 -3.5 3.5zM316.4 650.4l3.5 -3.5 3.5 3.5 -3.5 3.5zM355.7 657.9l3.5 -3.5 3.5 3.5 -3.5 3.5zM395 665.2l3.5 -3.5 3.5 3.5 -3.5 3.5zM434.3 671.8l3.5 -3.5 3.5 3.5 -3.5 3.5zM473.6 677.5l3.5 -3.5 3.5 3.5 -3.5 3.5zM512.9 683.5l3.5 -3.5 3.5 3.5 -3.5 3.5zM552.2 692l3.5 -3.5 3.5 3.5 -3.5 3.5zM591.4 698.9l3.5 -3.5 3.5 3.5 -3.5 3.5zM630.7 704.8l3.5 -3.5 3.5 3.5 -3.5 3.5zM670 711.8l3.5 -3.5 3.5 3.5 -3.5 3.5zM709.3 719.7l3.5 -3.5 3.5 3.5 -3.5 3.5zM748.6 727.5l3.5 -3.5 3.5 3.5 -3.5 3.5zM787.9 736.6l3.5 -3.5 3.5 3.5 -3.5 3.5z"/>
<path d="M129.8 577.4l3.8 6.5h-7.5zM169.1 587.7l3.8 6.5h-7.5zM208.3 596.4l3.8 6.5h-7.5zM247.6 606.8l3.8 6.5h-7.5zM286.9 618.9l3.8 6.5h-7.5zM326.2 627.9l3.8 6.5h-7.5zM365.5 636.1l3.8 6.5h-7.5zM404.8 644l3.8 6.5h-7.5zM444.1 651.4l3.8 6.5h-7.5zM483.4 658.2l3.8 6.5h-7.5zM522.7 663.5l3.8 6.5h-7.5zM562 668.3l3.8 6.5h-7.5zM601.2 675.4l3.8 6.5h-7.5zM640.5 682.6l3.8 6.5h-7.5zM679.8 689.4l3.8 6.5h-7.5zM719.1 695.6l3.8 6.5h-7.5zM758.4 704l3.8 6.5h-7.5zM797.7 715.8l3.8 6.5h-7.5z"/>
</g>
<g fill="none" stroke="#9ff9ad" stroke-width="1.45" stroke-linejoin="round">
<path d="M95.5 573.2l5.6 5.6m0 -5.6l-5.6 5.6M94.4 576h7.9M98.3 572v7.9M134.8 581.8l5.6 5.6m0 -5.6l-5.6 5.6M133.7 584.6h7.9M137.6 580.7v7.9M174.1 590.5l5.6 5.6m0 -5.6l-5.6 5.6M172.9 593.3h7.9M176.9 589.4v7.9M213.4 594.3l5.6 5.6m0 -5.6l-5.6 5.6M212.2 597.1h7.9M216.2 593.1v7.9M252.7 599.7l5.6 5.6m0 -5.6l-5.6 5.6M251.5 602.5h7.9M255.5 598.6v7.9M292 606.5l5.6 5.6m0 -5.6l-5.6 5.6M290.8 609.3h7.9M294.8 605.3v7.9M331.3 611.7l5.6 5.6m0 -5.6l-5.6 5.6M330.1 614.5h7.9M334.1 610.5v7.9M370.6 618l5.6 5.6m0 -5.6l-5.6 5.6M369.4 620.8h7.9M373.4 616.9v7.9M409.8 622.9l5.6 5.6m0 -5.6l-5.6 5.6M408.7 625.7h7.9M412.6 621.7v7.9M449.1 628.3l5.6 5.6m0 -5.6l-5.6 5.6M448 631.1h7.9M451.9 627.2v7.9M488.4 634.4l5.6 5.6m0 -5.6l-5.6 5.6M487.3 637.2h7.9M491.2 633.2v7.9M527.7 644.5l5.6 5.6m0 -5.6l-5.6 5.6M526.6 647.3h7.9M530.5 643.3v7.9M567 647.5l5.6 5.6m0 -5.6l-5.6 5.6M565.8 650.3h7.9M569.8 646.4v7.9M606.3 656.6l5.6 5.6m0 -5.6l-5.6 5.6M605.1 659.4h7.9M609.1 655.4v7.9M645.6 667.2l5.6 5.6m0 -5.6l-5.6 5.6M644.4 670h7.9M648.4 666v7.9M684.9 674.4l5.6 5.6m0 -5.6l-5.6 5.6M683.7 677.2h7.9M687.7 673.2v7.9M724.2 685.4l5.6 5.6m0 -5.6l-5.6 5.6M723 688.2h7.9M727 684.2v7.9M763.5 699l5.6 5.6m0 -5.6l-5.6 5.6M762.3 701.8h7.9M766.3 697.8v7.9"/>
<path d="M104.6 448.3l3.8 -6.5h-7.5zM143.9 454.2l3.8 -6.5h-7.5zM183.2 465.4l3.8 -6.5h-7.5zM222.5 479.4l3.8 -6.5h-7.5zM261.8 491.9l3.8 -6.5h-7.5zM301.1 504.2l3.8 -6.5h-7.5zM340.4 514.4l3.8 -6.5h-7.5zM379.6 525l3.8 -6.5h-7.5zM418.9 535l3.8 -6.5h-7.5zM458.2 546.1l3.8 -6.5h-7.5zM497.5 555.7l3.8 -6.5h-7.5zM536.8 561.8l3.8 -6.5h-7.5zM576.1 575.9l3.8 -6.5h-7.5zM615.4 593.6l3.8 -6.5h-7.5zM654.7 607.3l3.8 -6.5h-7.5zM694 624.5l3.8 -6.5h-7.5zM733.3 644.7l3.8 -6.5h-7.5zM772.5 675.9l3.8 -6.5h-7.5z"/>
<path d="M108.1 543.6a2.8 2.8 0 1 0 5.6 0a2.8 2.8 0 1 0 -5.6 0M147.4 551.7a2.8 2.8 0 1 0 5.6 0a2.8 2.8 0 1 0 -5.6 0M186.7 561.6a2.8 2.8 0 1 0 5.6 0a2.8 2.8 0 1 0 -5.6 0M226 570.4a2.8 2.8 0 1 0 5.6 0a2.8 2.8 0 1 0 -5.6 0M265.3 578.5a2.8 2.8 0 1 0 5.6 0a2.8 2.8 0 1 0 -5.6 0M304.6 584.2a2.8 2.8 0 1 0 5.6 0a2.8 2.8 0 1 0 -5.6 0M343.8 594a2.8 2.8 0 1 0 5.6 0a2.8 2.8 0 1 0 -5.6 0M383.1 602.8a2.8 2.8 0 1 0 5.6 0a2.8 2.8 0 1 0 -5.6 0M422.4 608.9a2.8 2.8 0 1 0 5.6 0a2.8 2.8 0 1 0 -5.6 0M461.7 616.3a2.8 2.8 0 1 0 5.6 0a2.8 2.8 0 1 0 -5.6 0M501 625.4a2.8 2.8 0 1 0 5.6 0a2.8 2.8 0 1 0 -5.6 0M540.3 635.2a2.8 2.8 0 1 0 5.6 0a2.8 2.8 0 1 0 -5.6 0M579.6 644.4a2.8 2.8 0 1 0 5.6 0a2.8 2.8 0 1 0 -5.6 0M618.9 653.1a2.8 2.8 0 1 0 5.6 0a2.8 2.8 0 1 0 -5.6 0M658.2 666.5a2.8 2.8 0 1 0 5.6 0a2.8 2.8 0 1 0 -5.6 0M697.5 677.4a2.8 2.8 0 1 0 5.6 0a2.8 2.8 0 1 0 -5.6 0M736.7 691.6a2.8 2.8 0 1 0 5.6 0a2.8 2.8 0 1 0 -5.6 0M776 707.9a2.8 2.8 0 1 0 5.6 0a2.8 2.8 0 1 0 -5.6 0"/>
<path d="M114.7 598.3h5v5h-5zM154 607.2h5v5h-5zM193.3 616.2h5v5h-5zM232.6 623.2h5v5h-5zM271.9 634.5h5v5h-5zM311.2 642.9h5v5h-5zM350.4 646.2h5v5h-5zM389.7 652.9h5v5h-5zM429 659.6h5v5h-5zM468.3 667.9h5v5h-5zM507.6 674.2h5v5h-5zM546.9 680.5h5v5h-5zM586.2 688h5v5h-5zM625.5 696.4h5v5h-5zM664.8 702.8h5v5h-5zM704.1 713.2h5v5h-5zM743.3 723.2h5v5h-5zM782.6 735h5v5h-5z"/>
<path d="M120 606.4l3.5 -3.5 3.5 3.5 -3.5 3.5zM159.3 616.2l3.5 -3.5 3.5 3.5 -3.5 3.5zM198.5 625.3l3.5 -3.5 3.5 3.5 -3.5 3.5zM237.8 632.9l3.5 -3.5 3.5 3.5 -3.5 3.5zM277.1 641.9l3.5 -3.5 3.5 3.5 -3.5 3.5zM316.4 650.3l3.5 -3.5 3.5 3.5 -3.5 3.5zM355.7 657.9l3.5 -3.5 3.5 3.5 -3.5 3.5zM395 665.1l3.5 -3.5 3.5 3.5 -3.5 3.5zM434.3 671.8l3.5 -3.5 3.5 3.5 -3.5 3.5zM473.6 677.5l3.5 -3.5 3.5 3.5 -3.5 3.5zM512.9 683.5l3.5 -3.5 3.5 3.5 -3.5 3.5zM552.2 692l3.5 -3.5 3.5 3.5 -3.5 3.5zM591.4 698.8l3.5 -3.5 3.5 3.5 -3.5 3.5zM630.7 704.8l3.5 -3.5 3.5 3.5 -3.5 3.5zM670 711.8l3.5 -3.5 3.5 3.5 -3.5 3.5zM709.3 719.7l3.5 -3.5 3.5 3.5 -3.5 3.5zM748.6 727.4l3.5 -3.5 3.5 3.5 -3.5 3.5zM787.9 736.5l3.5 -3.5 3.5 3.5 -3.5 3.5z"/>
<path d="M129.8 577.2l3.8 6.5h-7.5zM169.1 587.5l3.8 6.5h-7.5zM208.3 596.3l3.8 6.5h-7.5zM247.6 606.7l3.8 6.5h-7.5zM286.9 618.8l3.8 6.5h-7.5zM326.2 627.8l3.8 6.5h-7.5zM365.5 636l3.8 6.5h-7.5zM404.8 643.9l3.8 6.5h-7.5zM444.1 651.3l3.8 6.5h-7.5zM483.4 658.1l3.8 6.5h-7.5zM522.7 663.5l3.8 6.5h-7.5zM562 668.5l3.8 6.5h-7.5zM601.2 675.7l3.8 6.5h-7.5zM640.5 682.8l3.8 6.5h-7.5zM679.8 689.6l3.8 6.5h-7.5zM719.1 695.8l3.8 6.5h-7.5zM758.4 704.2l3.8 6.5h-7.5zM797.7 716l3.8 6.5h-7.5z"/>
</g>
<g fill="none" stroke="#abf9b1" stroke-width="1.45" stroke-linejoin="round">
<path d="M95.5 573l5.6 5.6m0 -5.6l-5.6 5.6M94.4 575.8h7.9M98.3 571.8v7.9M134.8 581.7l5.6 5.6m0 -5.6l-5.6 5.6M133.7 584.5h7.9M137.6 580.5v7.9M174.1 590.4l5.6 5.6m0 -5.6l-5.6 5.6M172.9 593.2h7.9M176.9 589.2v7.9M213.4 594.3l5.6 5.6m0 -5.6l-5.6 5.6M212.2 597.1h7.9M216.2 593.2v7.9M252.7 599.9l5.6 5.6m0 -5.6l-5.6 5.6M251.5 602.7h7.9M255.5 598.7v7.9M292 606.7l5.6 5.6m0 -5.6l-5.6 5.6M290.8 609.5h7.9M294.8 605.5v7.9M331.3 611.9l5.6 5.6m0 -5.6l-5.6 5.6M330.1 614.7h7.9M334.1 610.8v7.9M370.6 618.3l5.6 5.6m0 -5.6l-5.6 5.6M369.4 621.1h7.9M373.4 617.1v7.9M409.8 623.2l5.6 5.6m0 -5.6l-5.6 5.6M408.7 626h7.9M412.6 622v7.9M449.1 628.6l5.6 5.6m0 -5.6l-5.6 5.6M448 631.4h7.9M451.9 627.5v7.9M488.4 634.7l5.6 5.6m0 -5.6l-5.6 5.6M487.3 637.5h7.9M491.2 633.5v7.9M527.7 644.5l5.6 5.6m0 -5.6l-5.6 5.6M526.6 647.3h7.9M530.5 643.4v7.9M567 647.3l5.6 5.6m0 -5.6l-5.6 5.6M565.8 650.1h7.9M569.8 646.2v7.9M606.3 656.6l5.6 5.6m0 -5.6l-5.6 5.6M605.1 659.4h7.9M609.1 655.4v7.9M645.6 666.9l5.6 5.6m0 -5.6l-5.6 5.6M644.4 669.7h7.9M648.4 665.8v7.9M684.9 674.1l5.6 5.6m0 -5.6l-5.6 5.6M683.7 676.9h7.9M687.7 672.9v7.9M724.2 685l5.6 5.6m0 -5.6l-5.6 5.6M723 687.8h7.9M727 683.8v7.9M763.5 698.6l5.6 5.6m0 -5.6l-5.6 5.6M762.3 701.4h7.9M766.3 697.5v7.9"/>
<path d="M104.6 447.9l3.8 -6.5h-7.5zM143.9 453.8l3.8 -6.5h-7.5zM183.2 465l3.8 -6.5h-7.5zM222.5 479.1l3.8 -6.5h-7.5zM261.8 491.7l3.8 -6.5h-7.5zM301.1 503.9l3.8 -6.5h-7.5zM340.4 514.2l3.8 -6.5h-7.5zM379.6 525.1l3.8 -6.5h-7.5zM418.9 535.9l3.8 -6.5h-7.5zM458.2 547.2l3.8 -6.5h-7.5zM497.5 556.6l3.8 -6.5h-7.5zM536.8 561.4l3.8 -6.5h-7.5zM576.1 575.3l3.8 -6.5h-7.5zM615.4 592.5l3.8 -6.5h-7.5zM654.7 605.8l3.8 -6.5h-7.5zM694 623l3.8 -6.5h-7.5zM733.3 643.2l3.8 -6.5h-7.5zM772.5 674.6l3.8 -6.5h-7.5z"/>
<path d="M108.1 543.4a2.8 2.8 0 1 0 5.6 0a2.8 2.8 0 1 0 -5.6 0M147.4 551.7a2.8 2.8 0 1 0 5.6 0a2.8 2.8 0 1 0 -5.6 0M186.7 561.6a2.8 2.8 0 1 0 5.6 0a2.8 2.8 0 1 0 -5.6 0M226 570.3a2.8 2.8 0 1 0 5.6 0a2.8 2.8 0 1 0 -5.6 0M265.3 578.4a2.8 2.8 0 1 0 5.6 0a2.8 2.8 0 1 0 -5.6 0M304.6 584.3a2.8 2.8 0 1 0 5.6 0a2.8 2.8 0 1 0 -5.6 0M343.8 594.1a2.8 2.8 0 1 0 5.6 0a2.8 2.8 0 1 0 -5.6 0M383.1 602.6a2.8 2.8 0 1 0 5.6 0a2.8 2.8 0 1 0 -5.6 0M422.4 609.1a2.8 2.8 0 1 0 5.6 0a2.8 2.8 0 1 0 -5.6 0M461.7 616.4a2.8 2.8 0 1 0 5.6 0a2.8 2.8 0 1 0 -5.6 0M501 625.6a2.8 2.8 0 1 0 5.6 0a2.8 2.8 0 1 0 -5.6 0M540.3 635.3a2.8 2.8 0 1 0 5.6 0a2.8 2.8 0 1 0 -5.6 0M579.6 644.3a2.8 2.8 0 1 0 5.6 0a2.8 2.8 0 1 0 -5.6 0M618.9 653a2.8 2.8 0 1 0 5.6 0a2.8 2.8 0 1 0 -5.6 0M658.2 666.3a2.8 2.8 0 1 0 5.6 0a2.8 2.8 0 1 0 -5.6 0M697.5 677.1a2.8 2.8 0 1 0 5.6 0a2.8 2.8 0 1 0 -5.6 0M736.7 691.2a2.8 2.8 0 1 0 5.6 0a2.8 2.8 0 1 0 -5.6 0M776 707.7a2.8 2.8 0 1 0 5.6 0a2.8 2.8 0 1 0 -5.6 0"/>
<path d="M114.7 598.2h5v5h-5zM154 607.1h5v5h-5zM193.3 616h5v5h-5zM232.6 623.1h5v5h-5zM271.9 634.4h5v5h-5zM311.2 642.9h5v5h-5zM350.4 646.3h5v5h-5zM389.7 653h5v5h-5zM429 659.8h5v5h-5zM468.3 668h5v5h-5zM507.6 674.3h5v5h-5zM546.9 680.7h5v5h-5zM586.2 688.1h5v5h-5zM625.5 696.4h5v5h-5zM664.8 702.9h5v5h-5zM704.1 713.1h5v5h-5zM743.3 723.1h5v5h-5zM782.6 735h5v5h-5z"/>
<path d="M120 606.2l3.5 -3.5 3.5 3.5 -3.5 3.5zM159.3 616l3.5 -3.5 3.5 3.5 -3.5 3.5zM198.5 625.2l3.5 -3.5 3.5 3.5 -3.5 3.5zM237.8 632.9l3.5 -3.5 3.5 3.5 -3.5 3.5zM277.1 641.8l3.5 -3.5 3.5 3.5 -3.5 3.5zM316.4 650.3l3.5 -3.5 3.5 3.5 -3.5 3.5zM355.7 657.9l3.5 -3.5 3.5 3.5 -3.5 3.5zM395 665.1l3.5 -3.5 3.5 3.5 -3.5 3.5zM434.3 671.8l3.5 -3.5 3.5 3.5 -3.5 3.5zM473.6 677.4l3.5 -3.5 3.5 3.5 -3.5 3.5zM512.9 683.5l3.5 -3.5 3.5 3.5 -3.5 3.5zM552.2 692l3.5 -3.5 3.5 3.5 -3.5 3.5zM591.4 698.8l3.5 -3.5 3.5 3.5 -3.5 3.5zM630.7 704.8l3.5 -3.5 3.5 3.5 -3.5 3.5zM670 711.8l3.5 -3.5 3.5 3.5 -3.5 3.5zM709.3 719.7l3.5 -3.5 3.5 3.5 -3.5 3.5zM748.6 727.4l3.5 -3.5 3.5 3.5 -3.5 3.5zM787.9 736.5l3.5 -3.5 3.5 3.5 -3.5 3.5z"/>
<path d="M129.8 577l3.8 6.5h-7.5zM169.1 587.3l3.8 6.5h-7.5zM208.3 596.2l3.8 6.5h-7.5zM247.6 606.6l3.8 6.5h-7.5zM286.9 618.6l3.8 6.5h-7.5zM326.2 627.8l3.8 6.5h-7.5zM365.5 636l3.8 6.5h-7.5zM404.8 643.9l3.8 6.5h-7.5zM444.1 651.3l3.8 6.5h-7.5zM483.4 658.1l3.8 6.5h-7.5zM522.7 663.5l3.8 6.5h-7.5zM562 668.7l3.8 6.5h-7.5zM601.2 675.9l3.8 6.5h-7.5zM640.5 683l3.8 6.5h-7.5zM679.8 689.9l3.8 6.5h-7.5zM719.1 696l3.8 6.5h-7.5zM758.4 704.3l3.8 6.5h-7.5zM797.7 716.1l3.8 6.5h-7.5z"/>
</g>
<g fill="none" stroke="#b7fab5" stroke-width="1.45" stroke-linejoin="round">
<path d="M95.5 572.8l5.6 5.6m0 -5.6l-5.6 5.6M94.4 575.6h7.9M98.3 571.6v7.9M134.8 581.5l5.6 5.6m0 -5.6l-5.6 5.6M133.7 584.3h7.9M137.6 580.3v7.9M174.1 590.3l5.6 5.6m0 -5.6l-5.6 5.6M172.9 593.1h7.9M176.9 589.1v7.9M213.4 594.4l5.6 5.6m0 -5.6l-5.6 5.6M212.2 597.2h7.9M216.2 593.3v7.9M252.7 600l5.6 5.6m0 -5.6l-5.6 5.6M251.5 602.8h7.9M255.5 598.8v7.9M292 606.9l5.6 5.6m0 -5.6l-5.6 5.6M290.8 609.7h7.9M294.8 605.7v7.9M331.3 612.2l5.6 5.6m0 -5.6l-5.6 5.6M330.1 615h7.9M334.1 611v7.9M370.6 618.5l5.6 5.6m0 -5.6l-5.6 5.6M369.4 621.3h7.9M373.4 617.3v7.9M409.8 623.5l5.6 5.6m0 -5.6l-5.6 5.6M408.7 626.3h7.9M412.6 622.3v7.9M449.1 628.9l5.6 5.6m0 -5.6l-5.6 5.6M448 631.7h7.9M451.9 627.8v7.9M488.4 635l5.6 5.6m0 -5.6l-5.6 5.6M487.3 637.8h7.9M491.2 633.8v7.9M527.7 644.6l5.6 5.6m0 -5.6l-5.6 5.6M526.6 647.4h7.9M530.5 643.4v7.9M567 647.1l5.6 5.6m0 -5.6l-5.6 5.6M565.8 649.9h7.9M569.8 646v7.9M606.3 656.6l5.6 5.6m0 -5.6l-5.6 5.6M605.1 659.4h7.9M609.1 655.4v7.9M645.6 666.7l5.6 5.6m0 -5.6l-5.6 5.6M644.4 669.5h7.9M648.4 665.5v7.9M684.9 673.8l5.6 5.6m0 -5.6l-5.6 5.6M683.7 676.6h7.9M687.7 672.6v7.9M724.2 684.6l5.6 5.6m0 -5.6l-5.6 5.6M723 687.4h7.9M727 683.4v7.9M763.5 698.2l5.6 5.6m0 -5.6l-5.6 5.6M762.3 701h7.9M766.3 697.1v7.9"/>
<path d="M104.6 447.5l3.8 -6.5h-7.5zM143.9 453.3l3.8 -6.5h-7.5zM183.2 464.6l3.8 -6.5h-7.5zM222.5 478.8l3.8 -6.5h-7.5zM261.8 491.4l3.8 -6.5h-7.5zM301.1 503.6l3.8 -6.5h-7.5zM340.4 513.9l3.8 -6.5h-7.5zM379.6 524.4l3.8 -6.5h-7.5zM418.9 535.7l3.8 -6.5h-7.5zM458.2 546.9l3.8 -6.5h-7.5zM497.5 556.3l3.8 -6.5h-7.5zM536.8 560.6l3.8 -6.5h-7.5zM576.1 574.4l3.8 -6.5h-7.5zM615.4 591.3l3.8 -6.5h-7.5zM654.7 604.4l3.8 -6.5h-7.5zM694 621.5l3.8 -6.5h-7.5zM733.3 641.6l3.8 -6.5h-7.5zM772.5 673.3l3.8 -6.5h-7.5z"/>
<path d="M108.1 543.2a2.8 2.8 0 1 0 5.6 0a2.8 2.8 0 1 0 -5.6 0M147.4 551.6a2.8 2.8 0 1 0 5.6 0a2.8 2.8 0 1 0 -5.6 0M186.7 561.5a2.8 2.8 0 1 0 5.6 0a2.8 2.8 0 1 0 -5.6 0M226 570.3a2.8 2.8 0 1 0 5.6 0a2.8 2.8 0 1 0 -5.6 0M265.3 578.3a2.8 2.8 0 1 0 5.6 0a2.8 2.8 0 1 0 -5.6 0M304.6 584.5a2.8 2.8 0 1 0 5.6 0a2.8 2.8 0 1 0 -5.6 0M343.8 594.2a2.8 2.8 0 1 0 5.6 0a2.8 2.8 0 1 0 -5.6 0M383.1 602.4a2.8 2.8 0 1 0 5.6 0a2.8 2.8 0 1 0 -5.6 0M422.4 609.2a2.8 2.8 0 1 0 5.6 0a2.8 2.8 0 1 0 -5.6 0M461.7 616.6a2.8 2.8 0 1 0 5.6 0a2.8 2.8 0 1 0 -5.6 0M501 625.7a2.8 2.8 0 1 0 5.6 0a2.8 2.8 0 1 0 -5.6 0M540.3 635.5a2.8 2.8 0 1 0 5.6 0a2.8 2.8 0 1 0 -5.6 0M579.6 644.2a2.8 2.8 0 1 0 5.6 0a2.8 2.8 0 1 0 -5.6 0M618.9 652.9a2.8 2.8 0 1 0 5.6 0a2.8 2.8 0 1 0 -5.6 0M658.2 666.1a2.8 2.8 0 1 0 5.6 0a2.8 2.8 0 1 0 -5.6 0M697.5 676.9a2.8 2.8 0 1 0 5.6 0a2.8 2.8 0 1 0 -5.6 0M736.7 690.9a2.8 2.8 0 1 0 5.6 0a2.8 2.8 0 1 0 -5.6 0M776 707.6a2.8 2.8 0 1 0 5.6 0a2.8 2.8 0 1 0 -5.6 0"/>
<path d="M114.7 598.1h5v5h-5zM154 606.9h5v5h-5zM193.3 615.8h5v5h-5zM232.6 623.1h5v5h-5zM271.9 634.3h5v5h-5zM311.2 642.8h5v5h-5zM350.4 646.4h5v5h-5zM389.7 653.2h5v5h-5zM429 659.9h5v5h-5zM468.3 668.1h5v5h-5zM507.6 674.4h5v5h-5zM546.9 680.8h5v5h-5zM586.2 688.2h5v5h-5zM625.5 696.5h5v5h-5zM664.8 702.9h5v5h-5zM704.1 713h5v5h-5zM743.3 722.9h5v5h-5zM782.6 734.9h5v5h-5z"/>
<path d="M120 606l3.5 -3.5 3.5 3.5 -3.5 3.5zM159.3 615.8l3.5 -3.5 3.5 3.5 -3.5 3.5zM198.5 625.1l3.5 -3.5 3.5 3.5 -3.5 3.5zM237.8 632.8l3.5 -3.5 3.5 3.5 -3.5 3.5zM277.1 641.8l3.5 -3.5 3.5 3.5 -3.5 3.5zM316.4 650.2l3.5 -3.5 3.5 3.5 -3.5 3.5zM355.7 657.8l3.5 -3.5 3.5 3.5 -3.5 3.5zM395 665.1l3.5 -3.5 3.5 3.5 -3.5 3.5zM434.3 671.7l3.5 -3.5 3.5 3.5 -3.5 3.5zM473.6 677.4l3.5 -3.5 3.5 3.5 -3.5 3.5zM512.9 683.4l3.5 -3.5 3.5 3.5 -3.5 3.5zM552.2 692l3.5 -3.5 3.5 3.5 -3.5 3.5zM591.4 698.8l3.5 -3.5 3.5 3.5 -3.5 3.5zM630.7 704.8l3.5 -3.5 3.5 3.5 -3.5 3.5zM670 711.8l3.5 -3.5 3.5 3.5 -3.5 3.5zM709.3 719.7l3.5 -3.5 3.5 3.5 -3.5 3.5zM748.6 727.4l3.5 -3.5 3.5 3.5 -3.5 3.5zM787.9 736.5l3.5 -3.5 3.5 3.5 -3.5 3.5z"/>
<path d="M129.8 576.8l3.8 6.5h-7.5zM169.1 587.1l3.8 6.5h-7.5zM208.3 596.1l3.8 6.5h-7.5zM247.6 606.5l3.8 6.5h-7.5zM286.9 618.5l3.8 6.5h-7.5zM326.2 627.7l3.8 6.5h-7.5zM365.5 635.9l3.8 6.5h-7.5zM404.8 643.9l3.8 6.5h-7.5zM444.1 651.2l3.8 6.5h-7.5zM483.4 658l3.8 6.5h-7.5zM522.7 663.5l3.8 6.5h-7.5zM562 668.8l3.8 6.5h-7.5zM601.2 676.1l3.8 6.5h-7.5zM640.5 683.3l3.8 6.5h-7.5zM679.8 690.1l3.8 6.5h-7.5zM719.1 696.3l3.8 6.5h-7.5zM758.4 704.5l3.8 6.5h-7.5zM797.7 716.3l3.8 6.5h-7.5z"/>
</g>
<g fill="none" stroke="#c3fab8" stroke-width="1.45" stroke-linejoin="round">
<path d="M95.5 572.6l5.6 5.6m0 -5.6l-5.6 5.6M94.4 575.4h7.9M98.3 571.4v7.9M134.8 581.3l5.6 5.6m0 -5.6l-5.6 5.6M133.7 584.1h7.9M137.6 580.2v7.9M174.1 590.1l5.6 5.6m0 -5.6l-5.6 5.6M172.9 592.9h7.9M176.9 589v7.9M213.4 594.5l5.6 5.6m0 -5.6l-5.6 5.6M212.2 597.3h7.9M216.2 593.4v7.9M252.7 600.1l5.6 5.6m0 -5.6l-5.6 5.6M251.5 602.9h7.9M255.5 599v7.9M292 607.1l5.6 5.6m0 -5.6l-5.6 5.6M290.8 609.9h7.9M294.8 605.9v7.9M331.3 612.4l5.6 5.6m0 -5.6l-5.6 5.6M330.1 615.2h7.9M334.1 611.3v7.9M370.6 618.7l5.6 5.6m0 -5.6l-5.6 5.6M369.4 621.5h7.9M373.4 617.6v7.9M409.8 623.8l5.6 5.6m0 -5.6l-5.6 5.6M408.7 626.6h7.9M412.6 622.6v7.9M449.1 629.3l5.6 5.6m0 -5.6l-5.6 5.6M448 632.1h7.9M451.9 628.1v7.9M488.4 635.3l5.6 5.6m0 -5.6l-5.6 5.6M487.3 638.1h7.9M491.2 634.1v7.9M527.7 644.6l5.6 5.6m0 -5.6l-5.6 5.6M526.6 647.4h7.9M530.5 643.5v7.9M567 646.9l5.6 5.6m0 -5.6l-5.6 5.6M565.8 649.7h7.9M569.8 645.8v7.9M606.3 656.6l5.6 5.6m0 -5.6l-5.6 5.6M605.1 659.4h7.9M609.1 655.4v7.9M645.6 666.4l5.6 5.6m0 -5.6l-5.6 5.6M644.4 669.2h7.9M648.4 665.3v7.9M684.9 673.5l5.6 5.6m0 -5.6l-5.6 5.6M683.7 676.3h7.9M687.7 672.3v7.9M724.2 684.2l5.6 5.6m0 -5.6l-5.6 5.6M723 687h7.9M727 683v7.9M763.5 697.9l5.6 5.6m0 -5.6l-5.6 5.6M762.3 700.7h7.9M766.3 696.7v7.9"/>
<path d="M104.6 447.1l3.8 -6.5h-7.5zM143.9 452.9l3.8 -6.5h-7.5zM183.2 464.2l3.8 -6.5h-7.5zM222.5 478.5l3.8 -6.5h-7.5zM261.8 491.2l3.8 -6.5h-7.5zM301.1 503.2l3.8 -6.5h-7.5zM340.4 513.6l3.8 -6.5h-7.5zM379.6 523.7l3.8 -6.5h-7.5zM418.9 535.6l3.8 -6.5h-7.5zM458.2 546.6l3.8 -6.5h-7.5zM497.5 556.1l3.8 -6.5h-7.5zM536.8 559.7l3.8 -6.5h-7.5zM576.1 573.5l3.8 -6.5h-7.5zM615.4 590.2l3.8 -6.5h-7.5zM654.7 602.9l3.8 -6.5h-7.5zM694 619.9l3.8 -6.5h-7.5zM733.3 640.1l3.8 -6.5h-7.5zM772.5 672l3.8 -6.5h-7.5z"/>
<path d="M108.1 543a2.8 2.8 0 1 0 5.6 0a2.8 2.8 0 1 0 -5.6 0M147.4 551.5a2.8 2.8 0 1 0 5.6 0a2.8 2.8 0 1 0 -5.6 0M186.7 561.4a2.8 2.8 0 1 0 5.6 0a2.8 2.8 0 1 0 -5.6 0M226 570.2a2.8 2.8 0 1 0 5.6 0a2.8 2.8 0 1 0 -5.6 0M265.3 578.3a2.8 2.8 0 1 0 5.6 0a2.8 2.8 0 1 0 -5.6 0M304.6 584.6a2.8 2.8 0 1 0 5.6 0a2.8 2.8 0 1 0 -5.6 0M343.8 594.3a2.8 2.8 0 1 0 5.6 0a2.8 2.8 0 1 0 -5.6 0M383.1 602.3a2.8 2.8 0 1 0 5.6 0a2.8 2.8 0 1 0 -5.6 0M422.4 609.4a2.8 2.8 0 1 0 5.6 0a2.8 2.8 0 1 0 -5.6 0M461.7 616.7a2.8 2.8 0 1 0 5.6 0a2.8 2.8 0 1 0 -5.6 0M501 625.8a2.8 2.8 0 1 0 5.6 0a2.8 2.8 0 1 0 -5.6 0M540.3 635.6a2.8 2.8 0 1 0 5.6 0a2.8 2.8 0 1 0 -5.6 0M579.6 644.1a2.8 2.8 0 1 0 5.6 0a2.8 2.8 0 1 0 -5.6 0M618.9 652.8a2.8 2.8 0 1 0 5.6 0a2.8 2.8 0 1 0 -5.6 0M658.2 665.8a2.8 2.8 0 1 0 5.6 0a2.8 2.8 0 1 0 -5.6 0M697.5 676.6a2.8 2.8 0 1 0 5.6 0a2.8 2.8 0 1 0 -5.6 0M736.7 690.5a2.8 2.8 0 1 0 5.6 0a2.8 2.8 0 1 0 -5.6 0M776 707.4a2.8 2.8 0 1 0 5.6 0a2.8 2.8 0 1 0 -5.6 0"/>
<path d="M114.7 598h5v5h-5zM154 606.7h5v5h-5zM193.3 615.6h5v5h-5zM232.6 623h5v5h-5zM271.9 634.3h5v5h-5zM311.2 642.8h5v5h-5zM350.4 646.5h5v5h-5zM389.7 653.3h5v5h-5zM429 660.1h5v5h-5zM468.3 668.2h5v5h-5zM507.6 674.5h5v5h-5zM546.9 680.9h5v5h-5zM586.2 688.4h5v5h-5zM625.5 696.5h5v5h-5zM664.8 703h5v5h-5zM704.1 712.9h5v5h-5zM743.3 722.8h5v5h-5zM782.6 734.9h5v5h-5z"/>
<path d="M120 605.8l3.5 -3.5 3.5 3.5 -3.5 3.5zM159.3 615.7l3.5 -3.5 3.5 3.5 -3.5 3.5zM198.5 625l3.5 -3.5 3.5 3.5 -3.5 3.5zM237.8 632.8l3.5 -3.5 3.5 3.5 -3.5 3.5zM277.1 641.7l3.5 -3.5 3.5 3.5 -3.5 3.5zM316.4 650.2l3.5 -3.5 3.5 3.5 -3.5 3.5zM355.7 657.8l3.5 -3.5 3.5 3.5 -3.5 3.5zM395 665l3.5 -3.5 3.5 3.5 -3.5 3.5zM434.3 671.7l3.5 -3.5 3.5 3.5 -3.5 3.5zM473.6 677.4l3.5 -3.5 3.5 3.5 -3.5 3.5zM512.9 683.4l3.5 -3.5 3.5 3.5 -3.5 3.5zM552.2 692l3.5 -3.5 3.5 3.5 -3.5 3.5zM591.4 698.8l3.5 -3.5 3.5 3.5 -3.5 3.5zM630.7 704.8l3.5 -3.5 3.5 3.5 -3.5 3.5zM670 711.8l3.5 -3.5 3.5 3.5 -3.5 3.5zM709.3 719.6l3.5 -3.5 3.5 3.5 -3.5 3.5zM748.6 727.4l3.5 -3.5 3.5 3.5 -3.5 3.5zM787.9 736.4l3.5 -3.5 3.5 3.5 -3.5 3.5z"/>
<path d="M129.8 576.6l3.8 6.5h-7.5zM169.1 586.9l3.8 6.5h-7.5zM208.3 595.9l3.8 6.5h-7.5zM247.6 606.4l3.8 6.5h-7.5zM286.9 618.3l3.8 6.5h-7.5zM326.2 627.6l3.8 6.5h-7.5zM365.5 635.9l3.8 6.5h-7.5zM404.8 643.8l3.8 6.5h-7.5zM444.1 651.2l3.8 6.5h-7.5zM483.4 658l3.8 6.5h-7.5zM522.7 663.5l3.8 6.5h-7.5zM562 669l3.8 6.5h-7.5zM601.2 676.3l3.8 6.5h-7.5zM640.5 683.5l3.8 6.5h-7.5zM679.8 690.3l3.8 6.5h-7.5zM719.1 696.5l3.8 6.5h-7.5zM758.4 704.6l3.8 6.5h-7.5zM797.7 716.4l3.8 6.5h-7.5z"/>
</g>
<g fill="none" stroke="#cffabc" stroke-width="1.45" stroke-linejoin="round">
<path d="M95.5 572.4l5.6 5.6m0 -5.6l-5.6 5.6M94.4 575.2h7.9M98.3 571.2v7.9M134.8 581.1l5.6 5.6m0 -5.6l-5.6 5.6M133.7 583.9h7.9M137.6 580v7.9M174.1 590l5.6 5.6m0 -5.6l-5.6 5.6M172.9 592.8h7.9M176.9 588.8v7.9M213.4 594.6l5.6 5.6m0 -5.6l-5.6 5.6M212.2 597.4h7.9M216.2 593.4v7.9M252.7 600.3l5.6 5.6m0 -5.6l-5.6 5.6M251.5 603.1h7.9M255.5 599.1v7.9M292 607.3l5.6 5.6m0 -5.6l-5.6 5.6M290.8 610.1h7.9M294.8 606.1v7.9M331.3 612.7l5.6 5.6m0 -5.6l-5.6 5.6M330.1 615.5h7.9M334.1 611.5v7.9M370.6 619l5.6 5.6m0 -5.6l-5.6 5.6M369.4 621.8h7.9M373.4 617.8v7.9M409.8 624.1l5.6 5.6m0 -5.6l-5.6 5.6M408.7 626.9h7.9M412.6 623v7.9M449.1 629.6l5.6 5.6m0 -5.6l-5.6 5.6M448 632.4h7.9M451.9 628.4v7.9M488.4 635.6l5.6 5.6m0 -5.6l-5.6 5.6M487.3 638.4h7.9M491.2 634.4v7.9M527.7 644.7l5.6 5.6m0 -5.6l-5.6 5.6M526.6 647.5h7.9M530.5 643.5v7.9M567 646.7l5.6 5.6m0 -5.6l-5.6 5.6M565.8 649.5h7.9M569.8 645.6v7.9M606.3 656.6l5.6 5.6m0 -5.6l-5.6 5.6M605.1 659.4h7.9M609.1 655.4v7.9M645.6 666.2l5.6 5.6m0 -5.6l-5.6 5.6M644.4 669h7.9M648.4 665v7.9M684.9 673.2l5.6 5.6m0 -5.6l-5.6 5.6M683.7 676h7.9M687.7 672.1v7.9M724.2 683.8l5.6 5.6m0 -5.6l-5.6 5.6M723 686.6h7.9M727 682.6v7.9M763.5 697.5l5.6 5.6m0 -5.6l-5.6 5.6M762.3 700.3h7.9M766.3 696.3v7.9"/>
<path d="M104.6 446.7l3.8 -6.5h-7.5zM143.9 452.4l3.8 -6.5h-7.5zM183.2 463.9l3.8 -6.5h-7.5zM222.5 478.3l3.8 -6.5h-7.5zM261.8 490.9l3.8 -6.5h-7.5zM301.1 502.9l3.8 -6.5h-7.5zM340.4 513.4l3.8 -6.5h-7.5zM379.6 523.1l3.8 -6.5h-7.5zM418.9 535.4l3.8 -6.5h-7.5zM458.2 546.3l3.8 -6.5h-7.5zM497.5 555.8l3.8 -6.5h-7.5zM536.8 558.8l3.8 -6.5h-7.5zM576.1 572.6l3.8 -6.5h-7.5zM615.4 588.4l3.8 -6.5h-7.5zM654.7 601.1l3.8 -6.5h-7.5zM694 618.2l3.8 -6.5h-7.5zM733.3 638.4l3.8 -6.5h-7.5zM772.5 670.6l3.8 -6.5h-7.5z"/>
<path d="M108.1 542.8a2.8 2.8 0 1 0 5.6 0a2.8 2.8 0 1 0 -5.6 0M147.4 551.4a2.8 2.8 0 1 0 5.6 0a2.8 2.8 0 1 0 -5.6 0M186.7 561.3a2.8 2.8 0 1 0 5.6 0a2.8 2.8 0 1 0 -5.6 0M226 570.1a2.8 2.8 0 1 0 5.6 0a2.8 2.8 0 1 0 -5.6 0M265.3 578.2a2.8 2.8 0 1 0 5.6 0a2.8 2.8 0 1 0 -5.6 0M304.6 584.7a2.8 2.8 0 1 0 5.6 0a2.8 2.8 0 1 0 -5.6 0M343.8 594.4a2.8 2.8 0 1 0 5.6 0a2.8 2.8 0 1 0 -5.6 0M383.1 602.1a2.8 2.8 0 1 0 5.6 0a2.8 2.8 0 1 0 -5.6 0M422.4 609.5a2.8 2.8 0 1 0 5.6 0a2.8 2.8 0 1 0 -5.6 0M461.7 616.8a2.8 2.8 0 1 0 5.6 0a2.8 2.8 0 1 0 -5.6 0M501 626a2.8 2.8 0 1 0 5.6 0a2.8 2.8 0 1 0 -5.6 0M540.3 635.8a2.8 2.8 0 1 0 5.6 0a2.8 2.8 0 1 0 -5.6 0M579.6 643.9a2.8 2.8 0 1 0 5.6 0a2.8 2.8 0 1 0 -5.6 0M618.9 652.7a2.8 2.8 0 1 0 5.6 0a2.8 2.8 0 1 0 -5.6 0M658.2 665.6a2.8 2.8 0 1 0 5.6 0a2.8 2.8 0 1 0 -5.6 0M697.5 676.3a2.8 2.8 0 1 0 5.6 0a2.8 2.8 0 1 0 -5.6 0M736.7 690.2a2.8 2.8 0 1 0 5.6 0a2.8 2.8 0 1 0 -5.6 0M776 707.2a2.8 2.8 0 1 0 5.6 0a2.8 2.8 0 1 0 -5.6 0"/>
<path d="M114.7 597.9h5v5h-5zM154 606.6h5v5h-5zM193.3 615.4h5v5h-5zM232.6 622.9h5v5h-5zM271.9 634.2h5v5h-5zM311.2 642.7h5v5h-5zM350.4 646.6h5v5h-5zM389.7 653.4h5v5h-5zM429 660.2h5v5h-5zM468.3 668.3h5v5h-5zM507.6 674.7h5v5h-5zM546.9 681h5v5h-5zM586.2 688.5h5v5h-5zM625.5 696.6h5v5h-5zM664.8 703.1h5v5h-5zM704.1 712.8h5v5h-5zM743.3 722.6h5v5h-5zM782.6 734.8h5v5h-5z"/>
<path d="M120 605.6l3.5 -3.5 3.5 3.5 -3.5 3.5zM159.3 615.5l3.5 -3.5 3.5 3.5 -3.5 3.5zM198.5 624.8l3.5 -3.5 3.5 3.5 -3.5 3.5zM237.8 632.7l3.5 -3.5 3.5 3.5 -3.5 3.5zM277.1 641.7l3.5 -3.5 3.5 3.5 -3.5 3.5zM316.4 650.1l3.5 -3.5 3.5 3.5 -3.5 3.5zM355.7 657.8l3.5 -3.5 3.5 3.5 -3.5 3.5zM395 665l3.5 -3.5 3.5 3.5 -3.5 3.5zM434.3 671.7l3.5 -3.5 3.5 3.5 -3.5 3.5zM473.6 677.4l3.5 -3.5 3.5 3.5 -3.5 3.5zM512.9 683.4l3.5 -3.5 3.5 3.5 -3.5 3.5zM552.2 692l3.5 -3.5 3.5 3.5 -3.5 3.5zM591.4 698.8l3.5 -3.5 3.5 3.5 -3.5 3.5zM630.7 704.7l3.5 -3.5 3.5 3.5 -3.5 3.5zM670 711.8l3.5 -3.5 3.5 3.5 -3.5 3.5zM709.3 719.6l3.5 -3.5 3.5 3.5 -3.5 3.5zM748.6 727.3l3.5 -3.5 3.5 3.5 -3.5 3.5zM787.9 736.4l3.5 -3.5 3.5 3.5 -3.5 3.5z"/>
<path d="M129.8 576.3l3.8 6.5h-7.5zM169.1 586.7l3.8 6.5h-7.5zM208.3 595.8l3.8 6.5h-7.5zM247.6 606.3l3.8 6.5h-7.5zM286.9 618.2l3.8 6.5h-7.5zM326.2 627.6l3.8 6.5h-7.5zM365.5 635.8l3.8 6.5h-7.5zM404.8 643.8l3.8 6.5h-7.5zM444.1 651.1l3.8 6.5h-7.5zM483.4 658l3.8 6.5h-7.5zM522.7 663.6l3.8 6.5h-7.5zM562 669.1l3.8 6.5h-7.5zM601.2 676.5l3.8 6.5h-7.5zM640.5 683.7l3.8 6.5h-7.5zM679.8 690.5l3.8 6.5h-7.5zM719.1 696.7l3.8 6.5h-7.5zM758.4 704.8l3.8 6.5h-7.5zM797.7 716.5l3.8 6.5h-7.5z"/>
</g>
<g fill="none" stroke="#dcfac1" stroke-width="1.45" stroke-linejoin="round">
<path d="M95.5 572.2l5.6 5.6m0 -5.6l-5.6 5.6M94.4 575h7.9M98.3 571v7.9M134.8 581l5.6 5.6m0 -5.6l-5.6 5.6M133.7 583.8h7.9M137.6 579.8v7.9M174.1 589.8l5.6 5.6m0 -5.6l-5.6 5.6M172.9 592.6h7.9M176.9 588.7v7.9M213.4 594.7l5.6 5.6m0 -5.6l-5.6 5.6M212.2 597.5h7.9M216.2 593.5v7.9M252.7 600.4l5.6 5.6m0 -5.6l-5.6 5.6M251.5 603.2h7.9M255.5 599.3v7.9M292 607.5l5.6 5.6m0 -5.6l-5.6 5.6M290.8 610.3h7.9M294.8 606.3v7.9M331.3 612.9l5.6 5.6m0 -5.6l-5.6 5.6M330.1 615.7h7.9M334.1 611.8v7.9M370.6 619.2l5.6 5.6m0 -5.6l-5.6 5.6M369.4 622h7.9M373.4 618v7.9M409.8 624.4l5.6 5.6m0 -5.6l-5.6 5.6M408.7 627.2h7.9M412.6 623.3v7.9M449.1 629.9l5.6 5.6m0 -5.6l-5.6 5.6M448 632.7h7.9M451.9 628.7v7.9M488.4 635.9l5.6 5.6m0 -5.6l-5.6 5.6M487.3 638.7h7.9M491.2 634.7v7.9M527.7 644.7l5.6 5.6m0 -5.6l-5.6 5.6M526.6 647.5h7.9M530.5 643.5v7.9M567 646.5l5.6 5.6m0 -5.6l-5.6 5.6M565.8 649.3h7.9M569.8 645.4v7.9M606.3 656.6l5.6 5.6m0 -5.6l-5.6 5.6M605.1 659.4h7.9M609.1 655.4v7.9M645.6 665.9l5.6 5.6m0 -5.6l-5.6 5.6M644.4 668.7h7.9M648.4 664.8v7.9M684.9 672.9l5.6 5.6m0 -5.6l-5.6 5.6M683.7 675.7h7.9M687.7 671.8v7.9M724.2 683.3l5.6 5.6m0 -5.6l-5.6 5.6M723 686.1h7.9M727 682.2v7.9M763.5 697.1l5.6 5.6m0 -5.6l-5.6 5.6M762.3 699.9h7.9M766.3 695.9v7.9"/>
<path d="M104.6 446.3l3.8 -6.5h-7.5zM143.9 452l3.8 -6.5h-7.5zM183.2 463.5l3.8 -6.5h-7.5zM222.5 478l3.8 -6.5h-7.5zM261.8 490.7l3.8 -6.5h-7.5zM301.1 502.6l3.8 -6.5h-7.5zM340.4 513.1l3.8 -6.5h-7.5zM379.6 522.4l3.8 -6.5h-7.5zM418.9 535.2l3.8 -6.5h-7.5zM458.2 546.1l3.8 -6.5h-7.5zM497.5 555.6l3.8 -6.5h-7.5zM536.8 557.9l3.8 -6.5h-7.5zM576.1 571.7l3.8 -6.5h-7.5zM615.4 586.6l3.8 -6.5h-7.5zM654.7 599.4l3.8 -6.5h-7.5zM694 616.4l3.8 -6.5h-7.5zM733.3 636.6l3.8 -6.5h-7.5zM772.5 669.2l3.8 -6.5h-7.5z"/>
<path d="M108.1 542.6a2.8 2.8 0 1 0 5.6 0a2.8 2.8 0 1 0 -5.6 0M147.4 551.3a2.8 2.8 0 1 0 5.6 0a2.8 2.8 0 1 0 -5.6 0M186.7 561.2a2.8 2.8 0 1 0 5.6 0a2.8 2.8 0 1 0 -5.6 0M226 570a2.8 2.8 0 1 0 5.6 0a2.8 2.8 0 1 0 -5.6 0M265.3 578.1a2.8 2.8 0 1 0 5.6 0a2.8 2.8 0 1 0 -5.6 0M304.6 584.8a2.8 2.8 0 1 0 5.6 0a2.8 2.8 0 1 0 -5.6 0M343.8 594.5a2.8 2.8 0 1 0 5.6 0a2.8 2.8 0 1 0 -5.6 0M383.1 602a2.8 2.8 0 1 0 5.6 0a2.8 2.8 0 1 0 -5.6 0M422.4 609.7a2.8 2.8 0 1 0 5.6 0a2.8 2.8 0 1 0 -5.6 0M461.7 616.9a2.8 2.8 0 1 0 5.6 0a2.8 2.8 0 1 0 -5.6 0M501 626.1a2.8 2.8 0 1 0 5.6 0a2.8 2.8 0 1 0 -5.6 0M540.3 635.9a2.8 2.8 0 1 0 5.6 0a2.8 2.8 0 1 0 -5.6 0M579.6 643.8a2.8 2.8 0 1 0 5.6 0a2.8 2.8 0 1 0 -5.6 0M618.9 652.6a2.8 2.8 0 1 0 5.6 0a2.8 2.8 0 1 0 -5.6 0M658.2 665.4a2.8 2.8 0 1 0 5.6 0a2.8 2.8 0 1 0 -5.6 0M697.5 676.1a2.8 2.8 0 1 0 5.6 0a2.8 2.8 0 1 0 -5.6 0M736.7 689.8a2.8 2.8 0 1 0 5.6 0a2.8 2.8 0 1 0 -5.6 0M776 707.1a2.8 2.8 0 1 0 5.6 0a2.8 2.8 0 1 0 -5.6 0"/>
<path d="M114.7 597.8h5v5h-5zM154 606.4h5v5h-5zM193.3 615.2h5v5h-5zM232.6 622.8h5v5h-5zM271.9 634.1h5v5h-5zM311.2 642.7h5v5h-5zM350.4 646.7h5v5h-5zM389.7 653.5h5v5h-5zM429 660.4h5v5h-5zM468.3 668.4h5v5h-5zM507.6 674.8h5v5h-5zM546.9 681.2h5v5h-5zM586.2 688.6h5v5h-5zM625.5 696.7h5v5h-5zM664.8 703.1h5v5h-5zM704.1 712.7h5v5h-5zM743.3 722.5h5v5h-5zM782.6 734.8h5v5h-5z"/>
<path d="M120 605.4l3.5 -3.5 3.5 3.5 -3.5 3.5zM159.3 615.3l3.5 -3.5 3.5 3.5 -3.5 3.5zM198.5 624.7l3.5 -3.5 3.5 3.5 -3.5 3.5zM237.8 632.7l3.5 -3.5 3.5 3.5 -3.5 3.5zM277.1 641.6l3.5 -3.5 3.5 3.5 -3.5 3.5zM316.4 650.1l3.5 -3.5 3.5 3.5 -3.5 3.5zM355.7 657.8l3.5 -3.5 3.5 3.5 -3.5 3.5zM395 665l3.5 -3.5 3.5 3.5 -3.5 3.5zM434.3 671.7l3.5 -3.5 3.5 3.5 -3.5 3.5zM473.6 677.3l3.5 -3.5 3.5 3.5 -3.5 3.5zM512.9 683.4l3.5 -3.5 3.5 3.5 -3.5 3.5zM552.2 692l3.5 -3.5 3.5 3.5 -3.5 3.5zM591.4 698.8l3.5 -3.5 3.5 3.5 -3.5 3.5zM630.7 704.7l3.5 -3.5 3.5 3.5 -3.5 3.5zM670 711.7l3.5 -3.5 3.5 3.5 -3.5 3.5zM709.3 719.6l3.5 -3.5 3.5 3.5 -3.5 3.5zM748.6 727.3l3.5 -3.5 3.5 3.5 -3.5 3.5zM787.9 736.4l3.5 -3.5 3.5 3.5 -3.5 3.5z"/>
<path d="M129.8 576.1l3.8 6.5h-7.5zM169.1 586.5l3.8 6.5h-7.5zM208.3 595.7l3.8 6.5h-7.5zM247.6 606.2l3.8 6.5h-7.5zM286.9 618.1l3.8 6.5h-7.5zM326.2 627.5l3.8 6.5h-7.5zM365.5 635.8l3.8 6.5h-7.5zM404.8 643.7l3.8 6.5h-7.5zM444.1 651.1l3.8 6.5h-7.5zM483.4 657.9l3.8 6.5h-7.5zM522.7 663.6l3.8 6.5h-7.5zM562 669.3l3.8 6.5h-7.5zM601.2 676.7l3.8 6.5h-7.5zM640.5 683.9l3.8 6.5h-7.5zM679.8 690.7l3.8 6.5h-7.5zM719.1 697l3.8 6.5h-7.5zM758.4 704.9l3.8 6.5h-7.5zM797.7 716.7l3.8 6.5h-7.5z"/>
</g>
<g fill="none" stroke="#e8fac5" stroke-width="1.45" stroke-linejoin="round">
<path d="M95.5 572l5.6 5.6m0 -5.6l-5.6 5.6M94.4 574.8h7.9M98.3 570.9v7.9M134.8 580.8l5.6 5.6m0 -5.6l-5.6 5.6M133.7 583.6h7.9M137.6 579.7v7.9M174.1 589.7l5.6 5.6m0 -5.6l-5.6 5.6M172.9 592.5h7.9M176.9 588.5v7.9M213.4 594.8l5.6 5.6m0 -5.6l-5.6 5.6M212.2 597.6h7.9M216.2 593.6v7.9M252.7 600.6l5.6 5.6m0 -5.6l-5.6 5.6M251.5 603.4h7.9M255.5 599.4v7.9M292 607.7l5.6 5.6m0 -5.6l-5.6 5.6M290.8 610.5h7.9M294.8 606.5v7.9M331.3 613.2l5.6 5.6m0 -5.6l-5.6 5.6M330.1 616h7.9M334.1 612v7.9M370.6 619.4l5.6 5.6m0 -5.6l-5.6 5.6M369.4 622.2h7.9M373.4 618.3v7.9M409.8 624.7l5.6 5.6m0 -5.6l-5.6 5.6M408.7 627.5h7.9M412.6 623.6v7.9M449.1 630.2l5.6 5.6m0 -5.6l-5.6 5.6M448 633h7.9M451.9 629v7.9M488.4 636.2l5.6 5.6m0 -5.6l-5.6 5.6M487.3 639h7.9M491.2 635v7.9M527.7 644.7l5.6 5.6m0 -5.6l-5.6 5.6M526.6 647.5h7.9M530.5 643.6v7.9M567 646.3l5.6 5.6m0 -5.6l-5.6 5.6M565.8 649.1h7.9M569.8 645.2v7.9M606.3 656.6l5.6 5.6m0 -5.6l-5.6 5.6M605.1 659.4h7.9M609.1 655.4v7.9M645.6 665.7l5.6 5.6m0 -5.6l-5.6 5.6M644.4 668.5h7.9M648.4 664.5v7.9M684.9 672.6l5.6 5.6m0 -5.6l-5.6 5.6M683.7 675.4h7.9M687.7 671.5v7.9M724.2 682.9l5.6 5.6m0 -5.6l-5.6 5.6M723 685.7h7.9M727 681.8v7.9M763.5 696.7l5.6 5.6m0 -5.6l-5.6 5.6M762.3 699.5h7.9M766.3 695.6v7.9"/>
<path d="M104.6 445.9l3.8 -6.5h-7.5zM143.9 451.5l3.8 -6.5h-7.5zM183.2 463.1l3.8 -6.5h-7.5zM222.5 477.7l3.8 -6.5h-7.5zM261.8 490.4l3.8 -6.5h-7.5zM301.1 502.2l3.8 -6.5h-7.5zM340.4 512.8l3.8 -6.5h-7.5zM379.6 521.7l3.8 -6.5h-7.5zM418.9 535l3.8 -6.5h-7.5zM458.2 545.8l3.8 -6.5h-7.5zM497.5 555.3l3.8 -6.5h-7.5zM536.8 557l3.8 -6.5h-7.5zM576.1 570.8l3.8 -6.5h-7.5zM615.4 584.8l3.8 -6.5h-7.5zM654.7 597.6l3.8 -6.5h-7.5zM694 614.6l3.8 -6.5h-7.5zM733.3 634.8l3.8 -6.5h-7.5zM772.5 667.8l3.8 -6.5h-7.5z"/>
<path d="M108.1 542.4a2.8 2.8 0 1 0 5.6 0a2.8 2.8 0 1 0 -5.6 0M147.4 551.2a2.8 2.8 0 1 0 5.6 0a2.8 2.8 0 1 0 -5.6 0M186.7 561.1a2.8 2.8 0 1 0 5.6 0a2.8 2.8 0 1 0 -5.6 0M226 570a2.8 2.8 0 1 0 5.6 0a2.8 2.8 0 1 0 -5.6 0M265.3 578a2.8 2.8 0 1 0 5.6 0a2.8 2.8 0 1 0 -5.6 0M304.6 584.9a2.8 2.8 0 1 0 5.6 0a2.8 2.8 0 1 0 -5.6 0M343.8 594.6a2.8 2.8 0 1 0 5.6 0a2.8 2.8 0 1 0 -5.6 0M383.1 601.8a2.8 2.8 0 1 0 5.6 0a2.8 2.8 0 1 0 -5.6 0M422.4 609.8a2.8 2.8 0 1 0 5.6 0a2.8 2.8 0 1 0 -5.6 0M461.7 617.1a2.8 2.8 0 1 0 5.6 0a2.8 2.8 0 1 0 -5.6 0M501 626.2a2.8 2.8 0 1 0 5.6 0a2.8 2.8 0 1 0 -5.6 0M540.3 636.1a2.8 2.8 0 1 0 5.6 0a2.8 2.8 0 1 0 -5.6 0M579.6 643.7a2.8 2.8 0 1 0 5.6 0a2.8 2.8 0 1 0 -5.6 0M618.9 652.5a2.8 2.8 0 1 0 5.6 0a2.8 2.8 0 1 0 -5.6 0M658.2 665.2a2.8 2.8 0 1 0 5.6 0a2.8 2.8 0 1 0 -5.6 0M697.5 675.8a2.8 2.8 0 1 0 5.6 0a2.8 2.8 0 1 0 -5.6 0M736.7 689.5a2.8 2.8 0 1 0 5.6 0a2.8 2.8 0 1 0 -5.6 0M776 706.9a2.8 2.8 0 1 0 5.6 0a2.8 2.8 0 1 0 -5.6 0"/>
<path d="M114.7 597.7h5v5h-5zM154 606.2h5v5h-5zM193.3 615h5v5h-5zM232.6 622.8h5v5h-5zM271.9 634h5v5h-5zM311.2 642.6h5v5h-5zM350.4 646.8h5v5h-5zM389.7 653.6h5v5h-5zM429 660.5h5v5h-5zM468.3 668.5h5v5h-5zM507.6 674.9h5v5h-5zM546.9 681.3h5v5h-5zM586.2 688.7h5v5h-5zM625.5 696.7h5v5h-5zM664.8 703.2h5v5h-5zM704.1 712.6h5v5h-5zM743.3 722.3h5v5h-5zM782.6 734.7h5v5h-5z"/>
<path d="M120 605.2l3.5 -3.5 3.5 3.5 -3.5 3.5zM159.3 615.1l3.5 -3.5 3.5 3.5 -3.5 3.5zM198.5 624.6l3.5 -3.5 3.5 3.5 -3.5 3.5zM237.8 632.7l3.5 -3.5 3.5 3.5 -3.5 3.5zM277.1 641.6l3.5 -3.5 3.5 3.5 -3.5 3.5zM316.4 650l3.5 -3.5 3.5 3.5 -3.5 3.5zM355.7 657.7l3.5 -3.5 3.5 3.5 -3.5 3.5zM395 665l3.5 -3.5 3.5 3.5 -3.5 3.5zM434.3 671.6l3.5 -3.5 3.5 3.5 -3.5 3.5zM473.6 677.3l3.5 -3.5 3.5 3.5 -3.5 3.5zM512.9 683.3l3.5 -3.5 3.5 3.5 -3.5 3.5zM552.2 691.9l3.5 -3.5 3.5 3.5 -3.5 3.5zM591.4 698.8l3.5 -3.5 3.5 3.5 -3.5 3.5zM630.7 704.7l3.5 -3.5 3.5 3.5 -3.5 3.5zM670 711.7l3.5 -3.5 3.5 3.5 -3.5 3.5zM709.3 719.6l3.5 -3.5 3.5 3.5 -3.5 3.5zM748.6 727.3l3.5 -3.5 3.5 3.5 -3.5 3.5zM787.9 736.3l3.5 -3.5 3.5 3.5 -3.5 3.5z"/>
<path d="M129.8 575.9l3.8 6.5h-7.5zM169.1 586.3l3.8 6.5h-7.5zM208.3 595.6l3.8 6.5h-7.5zM247.6 606.1l3.8 6.5h-7.5zM286.9 617.9l3.8 6.5h-7.5zM326.2 627.5l3.8 6.5h-7.5zM365.5 635.7l3.8 6.5h-7.5zM404.8 643.7l3.8 6.5h-7.5zM444.1 651.1l3.8 6.5h-7.5zM483.4 657.9l3.8 6.5h-7.5zM522.7 663.6l3.8 6.5h-7.5zM562 669.5l3.8 6.5h-7.5zM601.2 676.9l3.8 6.5h-7.5zM640.5 684.1l3.8 6.5h-7.5zM679.8 690.9l3.8 6.5h-7.5zM719.1 697.2l3.8 6.5h-7.5zM758.4 705.1l3.8 6.5h-7.5zM797.7 716.8l3.8 6.5h-7.5z"/>
</g>
<g fill="none" stroke="#f6faca" stroke-width="1.45" stroke-linejoin="round">
<path d="M95.5 571.8l5.6 5.6m0 -5.6l-5.6 5.6M94.4 574.6h7.9M98.3 570.7v7.9M134.8 580.6l5.6 5.6m0 -5.6l-5.6 5.6M133.7 583.4h7.9M137.6 579.5v7.9M174.1 589.6l5.6 5.6m0 -5.6l-5.6 5.6M172.9 592.4h7.9M176.9 588.4v7.9M213.4 594.9l5.6 5.6m0 -5.6l-5.6 5.6M212.2 597.7h7.9M216.2 593.7v7.9M252.7 600.7l5.6 5.6m0 -5.6l-5.6 5.6M251.5 603.5h7.9M255.5 599.5v7.9M292 607.9l5.6 5.6m0 -5.6l-5.6 5.6M290.8 610.7h7.9M294.8 606.7v7.9M331.3 613.4l5.6 5.6m0 -5.6l-5.6 5.6M330.1 616.2h7.9M334.1 612.2v7.9M370.6 619.7l5.6 5.6m0 -5.6l-5.6 5.6M369.4 622.5h7.9M373.4 618.5v7.9M409.8 625.1l5.6 5.6m0 -5.6l-5.6 5.6M408.7 627.9h7.9M412.6 623.9v7.9M449.1 630.5l5.6 5.6m0 -5.6l-5.6 5.6M448 633.3h7.9M451.9 629.3v7.9M488.4 636.4l5.6 5.6m0 -5.6l-5.6 5.6M487.3 639.2h7.9M491.2 635.3v7.9M527.7 644.8l5.6 5.6m0 -5.6l-5.6 5.6M526.6 647.6h7.9M530.5 643.6v7.9M567 646.1l5.6 5.6m0 -5.6l-5.6 5.6M565.8 648.9h7.9M569.8 645v7.9M606.3 656.6l5.6 5.6m0 -5.6l-5.6 5.6M605.1 659.4h7.9M609.1 655.4v7.9M645.6 665.4l5.6 5.6m0 -5.6l-5.6 5.6M644.4 668.2h7.9M648.4 664.3v7.9M684.9 672.4l5.6 5.6m0 -5.6l-5.6 5.6M683.7 675.2h7.9M687.7 671.2v7.9M724.2 682.5l5.6 5.6m0 -5.6l-5.6 5.6M723 685.3h7.9M727 681.4v7.9M763.5 696.3l5.6 5.6m0 -5.6l-5.6 5.6M762.3 699.1h7.9M766.3 695.2v7.9"/>
<path d="M104.6 445.5l3.8 -6.5h-7.5zM143.9 451.1l3.8 -6.5h-7.5zM183.2 462.7l3.8 -6.5h-7.5zM222.5 477.4l3.8 -6.5h-7.5zM261.8 490.2l3.8 -6.5h-7.5zM301.1 501.9l3.8 -6.5h-7.5zM340.4 512.5l3.8 -6.5h-7.5zM379.6 521l3.8 -6.5h-7.5zM418.9 534.9l3.8 -6.5h-7.5zM458.2 545.5l3.8 -6.5h-7.5zM497.5 555.1l3.8 -6.5h-7.5zM536.8 556.1l3.8 -6.5h-7.5zM576.1 570l3.8 -6.5h-7.5zM615.4 583.1l3.8 -6.5h-7.5zM654.7 595.8l3.8 -6.5h-7.5zM694 612.8l3.8 -6.5h-7.5zM733.3 633l3.8 -6.5h-7.5zM772.5 666.4l3.8 -6.5h-7.5z"/>
<path d="M108.1 542.2a2.8 2.8 0 1 0 5.6 0a2.8 2.8 0 1 0 -5.6 0M147.4 551.1a2.8 2.8 0 1 0 5.6 0a2.8 2.8 0 1 0 -5.6 0M186.7 561.1a2.8 2.8 0 1 0 5.6 0a2.8 2.8 0 1 0 -5.6 0M226 569.9a2.8 2.8 0 1 0 5.6 0a2.8 2.8 0 1 0 -5.6 0M265.3 578a2.8 2.8 0 1 0 5.6 0a2.8 2.8 0 1 0 -5.6 0M304.6 585a2.8 2.8 0 1 0 5.6 0a2.8 2.8 0 1 0 -5.6 0M343.8 594.7a2.8 2.8 0 1 0 5.6 0a2.8 2.8 0 1 0 -5.6 0M383.1 601.6a2.8 2.8 0 1 0 5.6 0a2.8 2.8 0 1 0 -5.6 0M422.4 610a2.8 2.8 0 1 0 5.6 0a2.8 2.8 0 1 0 -5.6 0M461.7 617.2a2.8 2.8 0 1 0 5.6 0a2.8 2.8 0 1 0 -5.6 0M501 626.4a2.8 2.8 0 1 0 5.6 0a2.8 2.8 0 1 0 -5.6 0M540.3 636.2a2.8 2.8 0 1 0 5.6 0a2.8 2.8 0 1 0 -5.6 0M579.6 643.5a2.8 2.8 0 1 0 5.6 0a2.8 2.8 0 1 0 -5.6 0M618.9 652.4a2.8 2.8 0 1 0 5.6 0a2.8 2.8 0 1 0 -5.6 0M658.2 664.9a2.8 2.8 0 1 0 5.6 0a2.8 2.8 0 1 0 -5.6 0M697.5 675.6a2.8 2.8 0 1 0 5.6 0a2.8 2.8 0 1 0 -5.6 0M736.7 689.1a2.8 2.8 0 1 0 5.6 0a2.8 2.8 0 1 0 -5.6 0M776 706.8a2.8 2.8 0 1 0 5.6 0a2.8 2.8 0 1 0 -5.6 0"/>
<path d="M114.7 597.6h5v5h-5zM154 606.1h5v5h-5zM193.3 614.8h5v5h-5zM232.6 622.7h5v5h-5zM271.9 634h5v5h-5zM311.2 642.6h5v5h-5zM350.4 646.9h5v5h-5zM389.7 653.7h5v5h-5zM429 660.7h5v5h-5zM468.3 668.7h5v5h-5zM507.6 675h5v5h-5zM546.9 681.4h5v5h-5zM586.2 688.8h5v5h-5zM625.5 696.8h5v5h-5zM664.8 703.2h5v5h-5zM704.1 712.5h5v5h-5zM743.3 722.2h5v5h-5zM782.6 734.7h5v5h-5z"/>
<path d="M120 605l3.5 -3.5 3.5 3.5 -3.5 3.5zM159.3 614.9l3.5 -3.5 3.5 3.5 -3.5 3.5zM198.5 624.5l3.5 -3.5 3.5 3.5 -3.5 3.5zM237.8 632.6l3.5 -3.5 3.5 3.5 -3.5 3.5zM277.1 641.5l3.5 -3.5 3.5 3.5 -3.5 3.5zM316.4 649.9l3.5 -3.5 3.5 3.5 -3.5 3.5zM355.7 657.7l3.5 -3.5 3.5 3.5 -3.5 3.5zM395 664.9l3.5 -3.5 3.5 3.5 -3.5 3.5zM434.3 671.6l3.5 -3.5 3.5 3.5 -3.5 3.5zM473.6 677.3l3.5 -3.5 3.5 3.5 -3.5 3.5zM512.9 683.3l3.5 -3.5 3.5 3.5 -3.5 3.5zM552.2 691.9l3.5 -3.5 3.5 3.5 -3.5 3.5zM591.4 698.7l3.5 -3.5 3.5 3.5 -3.5 3.5zM630.7 704.7l3.5 -3.5 3.5 3.5 -3.5 3.5zM670 711.7l3.5 -3.5 3.5 3.5 -3.5 3.5zM709.3 719.6l3.5 -3.5 3.5 3.5 -3.5 3.5zM748.6 727.2l3.5 -3.5 3.5 3.5 -3.5 3.5zM787.9 736.3l3.5 -3.5 3.5 3.5 -3.5 3.5z"/>
<path d="M129.8 575.7l3.8 6.5h-7.5zM169.1 586.1l3.8 6.5h-7.5zM208.3 595.4l3.8 6.5h-7.5zM247.6 606l3.8 6.5h-7.5zM286.9 617.8l3.8 6.5h-7.5zM326.2 627.4l3.8 6.5h-7.5zM365.5 635.7l3.8 6.5h-7.5zM404.8 643.7l3.8 6.5h-7.5zM444.1 651l3.8 6.5h-7.5zM483.4 657.8l3.8 6.5h-7.5zM522.7 663.6l3.8 6.5h-7.5zM562 669.6l3.8 6.5h-7.5zM601.2 677.1l3.8 6.5h-7.5zM640.5 684.3l3.8 6.5h-7.5zM679.8 691.1l3.8 6.5h-7.5zM719.1 697.4l3.8 6.5h-7.5zM758.4 705.3l3.8 6.5h-7.5zM797.7 717l3.8 6.5h-7.5z"/>
</g>
<g fill="none" stroke="#fff0ca" stroke-width="1.45" stroke-linejoin="round">
<path d="M95.5 571.6l5.6 5.6m0 -5.6l-5.6 5.6M94.4 574.4h7.9M98.3 570.5v7.9M134.8 580.5l5.6 5.6m0 -5.6l-5.6 5.6M133.7 583.3h7.9M137.6 579.3v7.9M174.1 589.4l5.6 5.6m0 -5.6l-5.6 5.6M172.9 592.2h7.9M176.9 588.3v7.9M213.4 595l5.6 5.6m0 -5.6l-5.6 5.6M212.2 597.8h7.9M216.2 593.8v7.9M252.7 600.8l5.6 5.6m0 -5.6l-5.6 5.6M251.5 603.6h7.9M255.5 599.7v7.9M292 608.1l5.6 5.6m0 -5.6l-5.6 5.6M290.8 610.9h7.9M294.8 606.9v7.9M331.3 613.6l5.6 5.6m0 -5.6l-5.6 5.6M330.1 616.4h7.9M334.1 612.5v7.9M370.6 619.9l5.6 5.6m0 -5.6l-5.6 5.6M369.4 622.7h7.9M373.4 618.8v7.9M409.8 625.4l5.6 5.6m0 -5.6l-5.6 5.6M408.7 628.2h7.9M412.6 624.2v7.9M449.1 630.8l5.6 5.6m0 -5.6l-5.6 5.6M448 633.6h7.9M451.9 629.6v7.9M488.4 636.7l5.6 5.6m0 -5.6l-5.6 5.6M487.3 639.5h7.9M491.2 635.6v7.9M527.7 644.8l5.6 5.6m0 -5.6l-5.6 5.6M526.6 647.6h7.9M530.5 643.6v7.9M567 645.9l5.6 5.6m0 -5.6l-5.6 5.6M565.8 648.7h7.9M569.8 644.8v7.9M606.3 656.6l5.6 5.6m0 -5.6l-5.6 5.6M605.1 659.4h7.9M609.1 655.4v7.9M645.6 665.2l5.6 5.6m0 -5.6l-5.6 5.6M644.4 668h7.9M648.4 664v7.9M684.9 672.1l5.6 5.6m0 -5.6l-5.6 5.6M683.7 674.9h7.9M687.7 670.9v7.9M724.2 682.1l5.6 5.6m0 -5.6l-5.6 5.6M723 684.9h7.9M727 681v7.9M763.5 696l5.6 5.6m0 -5.6l-5.6 5.6M762.3 698.8h7.9M766.3 694.8v7.9"/>
<path d="M104.6 445.1l3.8 -6.5h-7.5zM143.9 447.7l3.8 -6.5h-7.5zM183.2 462.3l3.8 -6.5h-7.5zM222.5 472.1l3.8 -6.5h-7.5zM261.8 486.2l3.8 -6.5h-7.5zM301.1 499.4l3.8 -6.5h-7.5zM340.4 510.8l3.8 -6.5h-7.5zM379.6 519.3l3.8 -6.5h-7.5zM418.9 532.4l3.8 -6.5h-7.5zM458.2 542.7l3.8 -6.5h-7.5zM497.5 552.6l3.8 -6.5h-7.5zM536.8 555.3l3.8 -6.5h-7.5zM576.1 569l3.8 -6.5h-7.5zM615.4 581.3l3.8 -6.5h-7.5zM654.7 594.1l3.8 -6.5h-7.5zM694 611.1l3.8 -6.5h-7.5zM733.3 631.3l3.8 -6.5h-7.5zM772.5 664.9l3.8 -6.5h-7.5z"/>
<path d="M108.1 542a2.8 2.8 0 1 0 5.6 0a2.8 2.8 0 1 0 -5.6 0M147.4 551a2.8 2.8 0 1 0 5.6 0a2.8 2.8 0 1 0 -5.6 0M186.7 561a2.8 2.8 0 1 0 5.6 0a2.8 2.8 0 1 0 -5.6 0M226 569.8a2.8 2.8 0 1 0 5.6 0a2.8 2.8 0 1 0 -5.6 0M265.3 577.9a2.8 2.8 0 1 0 5.6 0a2.8 2.8 0 1 0 -5.6 0M304.6 585.1a2.8 2.8 0 1 0 5.6 0a2.8 2.8 0 1 0 -5.6 0M343.8 594.8a2.8 2.8 0 1 0 5.6 0a2.8 2.8 0 1 0 -5.6 0M383.1 601.5a2.8 2.8 0 1 0 5.6 0a2.8 2.8 0 1 0 -5.6 0M422.4 610.1a2.8 2.8 0 1 0 5.6 0a2.8 2.8 0 1 0 -5.6 0M461.7 617.3a2.8 2.8 0 1 0 5.6 0a2.8 2.8 0 1 0 -5.6 0M501 626.5a2.8 2.8 0 1 0 5.6 0a2.8 2.8 0 1 0 -5.6 0M540.3 636.4a2.8 2.8 0 1 0 5.6 0a2.8 2.8 0 1 0 -5.6 0M579.6 643.4a2.8 2.8 0 1 0 5.6 0a2.8 2.8 0 1 0 -5.6 0M618.9 652.3a2.8 2.8 0 1 0 5.6 0a2.8 2.8 0 1 0 -5.6 0M658.2 664.7a2.8 2.8 0 1 0 5.6 0a2.8 2.8 0 1 0 -5.6 0M697.5 675.3a2.8 2.8 0 1 0 5.6 0a2.8 2.8 0 1 0 -5.6 0M736.7 688.8a2.8 2.8 0 1 0 5.6 0a2.8 2.8 0 1 0 -5.6 0M776 706.6a2.8 2.8 0 1 0 5.6 0a2.8 2.8 0 1 0 -5.6 0"/>
<path d="M114.7 597.5h5v5h-5zM154 605.9h5v5h-5zM193.3 614.6h5v5h-5zM232.6 622.6h5v5h-5zM271.9 633.9h5v5h-5zM311.2 642.5h5v5h-5zM350.4 647h5v5h-5zM389.7 653.8h5v5h-5zM429 660.8h5v5h-5zM468.3 668.8h5v5h-5zM507.6 675.2h5v5h-5zM546.9 681.5h5v5h-5zM586.2 689h5v5h-5zM625.5 696.8h5v5h-5zM664.8 703.3h5v5h-5zM704.1 712.4h5v5h-5zM743.3 722h5v5h-5zM782.6 734.6h5v5h-5z"/>
<path d="M120 604.8l3.5 -3.5 3.5 3.5 -3.5 3.5zM159.3 614.7l3.5 -3.5 3.5 3.5 -3.5 3.5zM198.5 624.3l3.5 -3.5 3.5 3.5 -3.5 3.5zM237.8 632.6l3.5 -3.5 3.5 3.5 -3.5 3.5zM277.1 641.5l3.5 -3.5 3.5 3.5 -3.5 3.5zM316.4 649.9l3.5 -3.5 3.5 3.5 -3.5 3.5zM355.7 657.7l3.5 -3.5 3.5 3.5 -3.5 3.5zM395 664.9l3.5 -3.5 3.5 3.5 -3.5 3.5zM434.3 671.6l3.5 -3.5 3.5 3.5 -3.5 3.5zM473.6 677.2l3.5 -3.5 3.5 3.5 -3.5 3.5zM512.9 683.3l3.5 -3.5 3.5 3.5 -3.5 3.5zM552.2 691.9l3.5 -3.5 3.5 3.5 -3.5 3.5zM591.4 698.7l3.5 -3.5 3.5 3.5 -3.5 3.5zM630.7 704.7l3.5 -3.5 3.5 3.5 -3.5 3.5zM670 711.7l3.5 -3.5 3.5 3.5 -3.5 3.5zM709.3 719.6l3.5 -3.5 3.5 3.5 -3.5 3.5zM748.6 727.2l3.5 -3.5 3.5 3.5 -3.5 3.5zM787.9 736.2l3.5 -3.5 3.5 3.5 -3.5 3.5z"/>
<path d="M129.8 575.5l3.8 6.5h-7.5zM169.1 585.9l3.8 6.5h-7.5zM208.3 595.3l3.8 6.5h-7.5zM247.6 605.9l3.8 6.5h-7.5zM286.9 617.6l3.8 6.5h-7.5zM326.2 627.4l3.8 6.5h-7.5zM365.5 635.7l3.8 6.5h-7.5zM404.8 643.6l3.8 6.5h-7.5zM444.1 651l3.8 6.5h-7.5zM483.4 657.8l3.8 6.5h-7.5zM522.7 663.7l3.8 6.5h-7.5zM562 669.8l3.8 6.5h-7.5zM601.2 677.4l3.8 6.5h-7.5zM640.5 684.5l3.8 6.5h-7.5zM679.8 691.3l3.8 6.5h-7.5zM719.1 697.7l3.8 6.5h-7.5zM758.4 705.4l3.8 6.5h-7.5zM797.7 717.1l3.8 6.5h-7.5z"/>
</g>
<g fill="none" stroke="#ffe1c5" stroke-width="1.45" stroke-linejoin="round">
<path d="M95.5 571.4l5.6 5.6m0 -5.6l-5.6 5.6M94.4 574.2h7.9M98.3 570.3v7.9M134.8 580.3l5.6 5.6m0 -5.6l-5.6 5.6M133.7 583.1h7.9M137.6 579.1v7.9M174.1 589.3l5.6 5.6m0 -5.6l-5.6 5.6M172.9 592.1h7.9M176.9 588.1v7.9M213.4 595l5.6 5.6m0 -5.6l-5.6 5.6M212.2 597.8h7.9M216.2 593.9v7.9M252.7 601l5.6 5.6m0 -5.6l-5.6 5.6M251.5 603.8h7.9M255.5 599.8v7.9M292 608.3l5.6 5.6m0 -5.6l-5.6 5.6M290.8 611.1h7.9M294.8 607.1v7.9M331.3 613.9l5.6 5.6m0 -5.6l-5.6 5.6M330.1 616.7h7.9M334.1 612.7v7.9M370.6 620.1l5.6 5.6m0 -5.6l-5.6 5.6M369.4 622.9h7.9M373.4 619v7.9M409.8 625.7l5.6 5.6m0 -5.6l-5.6 5.6M408.7 628.5h7.9M412.6 624.5v7.9M449.1 631.1l5.6 5.6m0 -5.6l-5.6 5.6M448 633.9h7.9M451.9 629.9v7.9M488.4 637l5.6 5.6m0 -5.6l-5.6 5.6M487.3 639.8h7.9M491.2 635.9v7.9M527.7 644.8l5.6 5.6m0 -5.6l-5.6 5.6M526.6 647.6h7.9M530.5 643.7v7.9M567 645.7l5.6 5.6m0 -5.6l-5.6 5.6M565.8 648.5h7.9M569.8 644.6v7.9M606.3 656.6l5.6 5.6m0 -5.6l-5.6 5.6M605.1 659.4h7.9M609.1 655.4v7.9M645.6 664.9l5.6 5.6m0 -5.6l-5.6 5.6M644.4 667.7h7.9M648.4 663.8v7.9M684.9 671.8l5.6 5.6m0 -5.6l-5.6 5.6M683.7 674.6h7.9M687.7 670.6v7.9M724.2 681.7l5.6 5.6m0 -5.6l-5.6 5.6M723 684.5h7.9M727 680.5v7.9M763.5 695.6l5.6 5.6m0 -5.6l-5.6 5.6M762.3 698.4h7.9M766.3 694.4v7.9"/>
<path d="M104.6 437.5l3.8 -6.5h-7.5zM143.9 439.8l3.8 -6.5h-7.5zM183.2 456.6l3.8 -6.5h-7.5zM222.5 466.8l3.8 -6.5h-7.5zM261.8 482.1l3.8 -6.5h-7.5zM301.1 496.9l3.8 -6.5h-7.5zM340.4 509l3.8 -6.5h-7.5zM379.6 517.5l3.8 -6.5h-7.5zM418.9 529.9l3.8 -6.5h-7.5zM458.2 539.8l3.8 -6.5h-7.5zM497.5 550.1l3.8 -6.5h-7.5zM536.8 554.5l3.8 -6.5h-7.5zM576.1 568l3.8 -6.5h-7.5zM615.4 579.5l3.8 -6.5h-7.5zM654.7 592.3l3.8 -6.5h-7.5zM694 609.3l3.8 -6.5h-7.5zM733.3 629.5l3.8 -6.5h-7.5zM772.5 663.5l3.8 -6.5h-7.5z"/>
<path d="M108.1 541.8a2.8 2.8 0 1 0 5.6 0a2.8 2.8 0 1 0 -5.6 0M147.4 550.9a2.8 2.8 0 1 0 5.6 0a2.8 2.8 0 1 0 -5.6 0M186.7 560.9a2.8 2.8 0 1 0 5.6 0a2.8 2.8 0 1 0 -5.6 0M226 569.7a2.8 2.8 0 1 0 5.6 0a2.8 2.8 0 1 0 -5.6 0M265.3 577.8a2.8 2.8 0 1 0 5.6 0a2.8 2.8 0 1 0 -5.6 0M304.6 585.2a2.8 2.8 0 1 0 5.6 0a2.8 2.8 0 1 0 -5.6 0M343.8 594.9a2.8 2.8 0 1 0 5.6 0a2.8 2.8 0 1 0 -5.6 0M383.1 601.3a2.8 2.8 0 1 0 5.6 0a2.8 2.8 0 1 0 -5.6 0M422.4 610.3a2.8 2.8 0 1 0 5.6 0a2.8 2.8 0 1 0 -5.6 0M461.7 617.5a2.8 2.8 0 1 0 5.6 0a2.8 2.8 0 1 0 -5.6 0M501 626.6a2.8 2.8 0 1 0 5.6 0a2.8 2.8 0 1 0 -5.6 0M540.3 636.5a2.8 2.8 0 1 0 5.6 0a2.8 2.8 0 1 0 -5.6 0M579.6 643.3a2.8 2.8 0 1 0 5.6 0a2.8 2.8 0 1 0 -5.6 0M618.9 652.2a2.8 2.8 0 1 0 5.6 0a2.8 2.8 0 1 0 -5.6 0M658.2 664.5a2.8 2.8 0 1 0 5.6 0a2.8 2.8 0 1 0 -5.6 0M697.5 675.1a2.8 2.8 0 1 0 5.6 0a2.8 2.8 0 1 0 -5.6 0M736.7 688.4a2.8 2.8 0 1 0 5.6 0a2.8 2.8 0 1 0 -5.6 0M776 706.5a2.8 2.8 0 1 0 5.6 0a2.8 2.8 0 1 0 -5.6 0"/>
<path d="M114.7 597.4h5v5h-5zM154 605.7h5v5h-5zM193.3 614.4h5v5h-5zM232.6 622.6h5v5h-5zM271.9 633.8h5v5h-5zM311.2 642.5h5v5h-5zM350.4 647h5v5h-5zM389.7 653.9h5v5h-5zM429 661h5v5h-5zM468.3 668.9h5v5h-5zM507.6 675.3h5v5h-5zM546.9 681.7h5v5h-5zM586.2 689.1h5v5h-5zM625.5 696.9h5v5h-5zM664.8 703.4h5v5h-5zM704.1 712.3h5v5h-5zM743.3 721.9h5v5h-5zM782.6 734.6h5v5h-5z"/>
<path d="M120 604.7l3.5 -3.5 3.5 3.5 -3.5 3.5zM159.3 614.6l3.5 -3.5 3.5 3.5 -3.5 3.5zM198.5 624.2l3.5 -3.5 3.5 3.5 -3.5 3.5zM237.8 632.5l3.5 -3.5 3.5 3.5 -3.5 3.5zM277.1 641.5l3.5 -3.5 3.5 3.5 -3.5 3.5zM316.4 649.8l3.5 -3.5 3.5 3.5 -3.5 3.5zM355.7 657.6l3.5 -3.5 3.5 3.5 -3.5 3.5zM395 664.9l3.5 -3.5 3.5 3.5 -3.5 3.5zM434.3 671.6l3.5 -3.5 3.5 3.5 -3.5 3.5zM473.6 677.2l3.5 -3.5 3.5 3.5 -3.5 3.5zM512.9 683.3l3.5 -3.5 3.5 3.5 -3.5 3.5zM552.2 691.9l3.5 -3.5 3.5 3.5 -3.5 3.5zM591.4 698.7l3.5 -3.5 3.5 3.5 -3.5 3.5zM630.7 704.7l3.5 -3.5 3.5 3.5 -3.5 3.5zM670 711.7l3.5 -3.5 3.5 3.5 -3.5 3.5zM709.3 719.5l3.5 -3.5 3.5 3.5 -3.5 3.5zM748.6 727.2l3.5 -3.5 3.5 3.5 -3.5 3.5zM787.9 736.2l3.5 -3.5 3.5 3.5 -3.5 3.5z"/>
<path d="M129.8 575.3l3.8 6.5h-7.5zM169.1 585.7l3.8 6.5h-7.5zM208.3 595.2l3.8 6.5h-7.5zM247.6 605.8l3.8 6.5h-7.5zM286.9 617.5l3.8 6.5h-7.5zM326.2 627.3l3.8 6.5h-7.5zM365.5 635.6l3.8 6.5h-7.5zM404.8 643.6l3.8 6.5h-7.5zM444.1 650.9l3.8 6.5h-7.5zM483.4 657.7l3.8 6.5h-7.5zM522.7 663.7l3.8 6.5h-7.5zM562 669.9l3.8 6.5h-7.5zM601.2 677.6l3.8 6.5h-7.5zM640.5 684.7l3.8 6.5h-7.5zM679.8 691.5l3.8 6.5h-7.5zM719.1 697.9l3.8 6.5h-7.5zM758.4 705.6l3.8 6.5h-7.5zM797.7 717.2l3.8 6.5h-7.5z"/>
</g>
<g fill="none" stroke="#ffd3c0" stroke-width="1.45" stroke-linejoin="round">
<path d="M95.5 571.3l5.6 5.6m0 -5.6l-5.6 5.6M94.4 574.1h7.9M98.3 570.1v7.9M134.8 580.1l5.6 5.6m0 -5.6l-5.6 5.6M133.7 582.9h7.9M137.6 579v7.9M174.1 589.1l5.6 5.6m0 -5.6l-5.6 5.6M172.9 591.9h7.9M176.9 588v7.9M213.4 595.1l5.6 5.6m0 -5.6l-5.6 5.6M212.2 597.9h7.9M216.2 594v7.9M252.7 601.1l5.6 5.6m0 -5.6l-5.6 5.6M251.5 603.9h7.9M255.5 599.9v7.9M292 608.5l5.6 5.6m0 -5.6l-5.6 5.6M290.8 611.3h7.9M294.8 607.3v7.9M331.3 614.1l5.6 5.6m0 -5.6l-5.6 5.6M330.1 616.9h7.9M334.1 613v7.9M370.6 620.4l5.6 5.6m0 -5.6l-5.6 5.6M369.4 623.2h7.9M373.4 619.2v7.9M409.8 626l5.6 5.6m0 -5.6l-5.6 5.6M408.7 628.8h7.9M412.6 624.8v7.9M449.1 631.4l5.6 5.6m0 -5.6l-5.6 5.6M448 634.2h7.9M451.9 630.3v7.9M488.4 637.3l5.6 5.6m0 -5.6l-5.6 5.6M487.3 640.1h7.9M491.2 636.2v7.9M527.7 644.9l5.6 5.6m0 -5.6l-5.6 5.6M526.6 647.7h7.9M530.5 643.7v7.9M567 645.5l5.6 5.6m0 -5.6l-5.6 5.6M565.8 648.3h7.9M569.8 644.4v7.9M606.3 656.6l5.6 5.6m0 -5.6l-5.6 5.6M605.1 659.4h7.9M609.1 655.4v7.9M645.6 664.7l5.6 5.6m0 -5.6l-5.6 5.6M644.4 667.5h7.9M648.4 663.5v7.9M684.9 671.5l5.6 5.6m0 -5.6l-5.6 5.6M683.7 674.3h7.9M687.7 670.3v7.9M724.2 681.3l5.6 5.6m0 -5.6l-5.6 5.6M723 684.1h7.9M727 680.1v7.9M763.5 695.2l5.6 5.6m0 -5.6l-5.6 5.6M762.3 698h7.9M766.3 694v7.9"/>
<path d="M104.6 429.6l3.8 -6.5h-7.5zM143.9 432.4l3.8 -6.5h-7.5zM183.2 449.4l3.8 -6.5h-7.5zM222.5 460l3.8 -6.5h-7.5zM261.8 478.1l3.8 -6.5h-7.5zM301.1 494.5l3.8 -6.5h-7.5zM340.4 507.2l3.8 -6.5h-7.5zM379.6 515.7l3.8 -6.5h-7.5zM418.9 527.4l3.8 -6.5h-7.5zM458.2 537l3.8 -6.5h-7.5zM497.5 547.6l3.8 -6.5h-7.5zM536.8 553.7l3.8 -6.5h-7.5zM576.1 567l3.8 -6.5h-7.5zM615.4 578.3l3.8 -6.5h-7.5zM654.7 590.9l3.8 -6.5h-7.5zM694 607.7l3.8 -6.5h-7.5zM733.3 627.9l3.8 -6.5h-7.5zM772.5 662.1l3.8 -6.5h-7.5z"/>
<path d="M108.1 541.6a2.8 2.8 0 1 0 5.6 0a2.8 2.8 0 1 0 -5.6 0M147.4 550.8a2.8 2.8 0 1 0 5.6 0a2.8 2.8 0 1 0 -5.6 0M186.7 560.8a2.8 2.8 0 1 0 5.6 0a2.8 2.8 0 1 0 -5.6 0M226 569.7a2.8 2.8 0 1 0 5.6 0a2.8 2.8 0 1 0 -5.6 0M265.3 577.8a2.8 2.8 0 1 0 5.6 0a2.8 2.8 0 1 0 -5.6 0M304.6 585.3a2.8 2.8 0 1 0 5.6 0a2.8 2.8 0 1 0 -5.6 0M343.8 595a2.8 2.8 0 1 0 5.6 0a2.8 2.8 0 1 0 -5.6 0M383.1 601.2a2.8 2.8 0 1 0 5.6 0a2.8 2.8 0 1 0 -5.6 0M422.4 610.4a2.8 2.8 0 1 0 5.6 0a2.8 2.8 0 1 0 -5.6 0M461.7 617.6a2.8 2.8 0 1 0 5.6 0a2.8 2.8 0 1 0 -5.6 0M501 626.8a2.8 2.8 0 1 0 5.6 0a2.8 2.8 0 1 0 -5.6 0M540.3 636.7a2.8 2.8 0 1 0 5.6 0a2.8 2.8 0 1 0 -5.6 0M579.6 643.1a2.8 2.8 0 1 0 5.6 0a2.8 2.8 0 1 0 -5.6 0M618.9 652a2.8 2.8 0 1 0 5.6 0a2.8 2.8 0 1 0 -5.6 0M658.2 664.2a2.8 2.8 0 1 0 5.6 0a2.8 2.8 0 1 0 -5.6 0M697.5 674.8a2.8 2.8 0 1 0 5.6 0a2.8 2.8 0 1 0 -5.6 0M736.7 688.1a2.8 2.8 0 1 0 5.6 0a2.8 2.8 0 1 0 -5.6 0M776 706.3a2.8 2.8 0 1 0 5.6 0a2.8 2.8 0 1 0 -5.6 0"/>
<path d="M114.7 597.3h5v5h-5zM154 605.5h5v5h-5zM193.3 614.2h5v5h-5zM232.6 622.5h5v5h-5zM271.9 633.8h5v5h-5zM311.2 642.4h5v5h-5zM350.4 647.1h5v5h-5zM389.7 654h5v5h-5zM429 661.1h5v5h-5zM468.3 669h5v5h-5zM507.6 675.4h5v5h-5zM546.9 681.8h5v5h-5zM586.2 689.2h5v5h-5zM625.5 696.9h5v5h-5zM664.8 703.4h5v5h-5zM704.1 712.2h5v5h-5zM743.3 721.7h5v5h-5zM782.6 734.5h5v5h-5z"/>
<path d="M120 604.5l3.5 -3.5 3.5 3.5 -3.5 3.5zM159.3 614.4l3.5 -3.5 3.5 3.5 -3.5 3.5zM198.5 624.1l3.5 -3.5 3.5 3.5 -3.5 3.5zM237.8 632.5l3.5 -3.5 3.5 3.5 -3.5 3.5zM277.1 641.4l3.5 -3.5 3.5 3.5 -3.5 3.5zM316.4 649.8l3.5 -3.5 3.5 3.5 -3.5 3.5zM355.7 657.6l3.5 -3.5 3.5 3.5 -3.5 3.5zM395 664.8l3.5 -3.5 3.5 3.5 -3.5 3.5zM434.3 671.6l3.5 -3.5 3.5 3.5 -3.5 3.5zM473.6 677.2l3.5 -3.5 3.5 3.5 -3.5 3.5zM512.9 683.3l3.5 -3.5 3.5 3.5 -3.5 3.5zM552.2 691.9l3.5 -3.5 3.5 3.5 -3.5 3.5zM591.4 698.7l3.5 -3.5 3.5 3.5 -3.5 3.5zM630.7 704.6l3.5 -3.5 3.5 3.5 -3.5 3.5zM670 711.7l3.5 -3.5 3.5 3.5 -3.5 3.5zM709.3 719.5l3.5 -3.5 3.5 3.5 -3.5 3.5zM748.6 727.2l3.5 -3.5 3.5 3.5 -3.5 3.5zM787.9 736.2l3.5 -3.5 3.5 3.5 -3.5 3.5z"/>
<path d="M129.8 575.1l3.8 6.5h-7.5zM169.1 585.5l3.8 6.5h-7.5zM208.3 595.1l3.8 6.5h-7.5zM247.6 605.6l3.8 6.5h-7.5zM286.9 617.4l3.8 6.5h-7.5zM326.2 627.2l3.8 6.5h-7.5zM365.5 635.6l3.8 6.5h-7.5zM404.8 643.6l3.8 6.5h-7.5zM444.1 650.9l3.8 6.5h-7.5zM483.4 657.7l3.8 6.5h-7.5zM522.7 663.7l3.8 6.5h-7.5zM562 670.1l3.8 6.5h-7.5zM601.2 677.8l3.8 6.5h-7.5zM640.5 684.9l3.8 6.5h-7.5zM679.8 691.7l3.8 6.5h-7.5zM719.1 698.2l3.8 6.5h-7.5zM758.4 705.7l3.8 6.5h-7.5zM797.7 717.4l3.8 6.5h-7.5z"/>
</g>
<g fill="none" stroke="#ffc6bc" stroke-width="1.45" stroke-linejoin="round">
<path d="M95.5 571.1l5.6 5.6m0 -5.6l-5.6 5.6M94.4 573.9h7.9M98.3 569.9v7.9M134.8 580l5.6 5.6m0 -5.6l-5.6 5.6M133.7 582.8h7.9M137.6 578.8v7.9M174.1 589l5.6 5.6m0 -5.6l-5.6 5.6M172.9 591.8h7.9M176.9 587.8v7.9M213.4 595.2l5.6 5.6m0 -5.6l-5.6 5.6M212.2 598h7.9M216.2 594.1v7.9M252.7 601.2l5.6 5.6m0 -5.6l-5.6 5.6M251.5 604h7.9M255.5 600.1v7.9M292 608.7l5.6 5.6m0 -5.6l-5.6 5.6M290.8 611.5h7.9M294.8 607.5v7.9M331.3 614.4l5.6 5.6m0 -5.6l-5.6 5.6M330.1 617.2h7.9M334.1 613.2v7.9M370.6 620.6l5.6 5.6m0 -5.6l-5.6 5.6M369.4 623.4h7.9M373.4 619.5v7.9M409.8 626.3l5.6 5.6m0 -5.6l-5.6 5.6M408.7 629.1h7.9M412.6 625.2v7.9M449.1 631.7l5.6 5.6m0 -5.6l-5.6 5.6M448 634.5h7.9M451.9 630.6v7.9M488.4 637.6l5.6 5.6m0 -5.6l-5.6 5.6M487.3 640.4h7.9M491.2 636.5v7.9M527.7 644.9l5.6 5.6m0 -5.6l-5.6 5.6M526.6 647.7h7.9M530.5 643.8v7.9M567 645.3l5.6 5.6m0 -5.6l-5.6 5.6M565.8 648.1h7.9M569.8 644.2v7.9M606.3 656.6l5.6 5.6m0 -5.6l-5.6 5.6M605.1 659.4h7.9M609.1 655.4v7.9M645.6 664.4l5.6 5.6m0 -5.6l-5.6 5.6M644.4 667.2h7.9M648.4 663.3v7.9M684.9 671.2l5.6 5.6m0 -5.6l-5.6 5.6M683.7 674h7.9M687.7 670.1v7.9M724.2 680.9l5.6 5.6m0 -5.6l-5.6 5.6M723 683.7h7.9M727 679.7v7.9M763.5 694.8l5.6 5.6m0 -5.6l-5.6 5.6M762.3 697.6h7.9M766.3 693.6v7.9"/>
<path d="M104.6 425.2l3.8 -6.5h-7.5zM143.9 430.7l3.8 -6.5h-7.5zM183.2 442.6l3.8 -6.5h-7.5zM222.5 457.1l3.8 -6.5h-7.5zM261.8 474.3l3.8 -6.5h-7.5zM301.1 491.2l3.8 -6.5h-7.5zM340.4 504.1l3.8 -6.5h-7.5zM379.6 514.2l3.8 -6.5h-7.5zM418.9 524l3.8 -6.5h-7.5zM458.2 532.7l3.8 -6.5h-7.5zM497.5 543.4l3.8 -6.5h-7.5zM536.8 552.9l3.8 -6.5h-7.5zM576.1 566l3.8 -6.5h-7.5zM615.4 577l3.8 -6.5h-7.5zM654.7 589.4l3.8 -6.5h-7.5zM694 606.1l3.8 -6.5h-7.5zM733.3 626.3l3.8 -6.5h-7.5zM772.5 660.7l3.8 -6.5h-7.5z"/>
<path d="M108.1 541.4a2.8 2.8 0 1 0 5.6 0a2.8 2.8 0 1 0 -5.6 0M147.4 550.7a2.8 2.8 0 1 0 5.6 0a2.8 2.8 0 1 0 -5.6 0M186.7 560.7a2.8 2.8 0 1 0 5.6 0a2.8 2.8 0 1 0 -5.6 0M226 569.6a2.8 2.8 0 1 0 5.6 0a2.8 2.8 0 1 0 -5.6 0M265.3 577.7a2.8 2.8 0 1 0 5.6 0a2.8 2.8 0 1 0 -5.6 0M304.6 585.4a2.8 2.8 0 1 0 5.6 0a2.8 2.8 0 1 0 -5.6 0M343.8 595.1a2.8 2.8 0 1 0 5.6 0a2.8 2.8 0 1 0 -5.6 0M383.1 601a2.8 2.8 0 1 0 5.6 0a2.8 2.8 0 1 0 -5.6 0M422.4 610.6a2.8 2.8 0 1 0 5.6 0a2.8 2.8 0 1 0 -5.6 0M461.7 617.7a2.8 2.8 0 1 0 5.6 0a2.8 2.8 0 1 0 -5.6 0M501 626.9a2.8 2.8 0 1 0 5.6 0a2.8 2.8 0 1 0 -5.6 0M540.3 636.9a2.8 2.8 0 1 0 5.6 0a2.8 2.8 0 1 0 -5.6 0M579.6 643a2.8 2.8 0 1 0 5.6 0a2.8 2.8 0 1 0 -5.6 0M618.9 651.9a2.8 2.8 0 1 0 5.6 0a2.8 2.8 0 1 0 -5.6 0M658.2 664a2.8 2.8 0 1 0 5.6 0a2.8 2.8 0 1 0 -5.6 0M697.5 674.5a2.8 2.8 0 1 0 5.6 0a2.8 2.8 0 1 0 -5.6 0M736.7 687.7a2.8 2.8 0 1 0 5.6 0a2.8 2.8 0 1 0 -5.6 0M776 706.2a2.8 2.8 0 1 0 5.6 0a2.8 2.8 0 1 0 -5.6 0"/>
<path d="M114.7 597.2h5v5h-5zM154 605.4h5v5h-5zM193.3 614h5v5h-5zM232.6 622.4h5v5h-5zM271.9 633.7h5v5h-5zM311.2 642.4h5v5h-5zM350.4 647.2h5v5h-5zM389.7 654.1h5v5h-5zM429 661.2h5v5h-5zM468.3 669.1h5v5h-5zM507.6 675.5h5v5h-5zM546.9 681.9h5v5h-5zM586.2 689.3h5v5h-5zM625.5 697h5v5h-5zM664.8 703.5h5v5h-5zM704.1 712.1h5v5h-5zM743.3 721.5h5v5h-5zM782.6 734.5h5v5h-5z"/>
<path d="M120 604.3l3.5 -3.5 3.5 3.5 -3.5 3.5zM159.3 614.2l3.5 -3.5 3.5 3.5 -3.5 3.5zM198.5 624l3.5 -3.5 3.5 3.5 -3.5 3.5zM237.8 632.4l3.5 -3.5 3.5 3.5 -3.5 3.5zM277.1 641.4l3.5 -3.5 3.5 3.5 -3.5 3.5zM316.4 649.7l3.5 -3.5 3.5 3.5 -3.5 3.5zM355.7 657.6l3.5 -3.5 3.5 3.5 -3.5 3.5zM395 664.8l3.5 -3.5 3.5 3.5 -3.5 3.5zM434.3 671.5l3.5 -3.5 3.5 3.5 -3.5 3.5zM473.6 677.1l3.5 -3.5 3.5 3.5 -3.5 3.5zM512.9 683.2l3.5 -3.5 3.5 3.5 -3.5 3.5zM552.2 691.9l3.5 -3.5 3.5 3.5 -3.5 3.5zM591.4 698.7l3.5 -3.5 3.5 3.5 -3.5 3.5zM630.7 704.6l3.5 -3.5 3.5 3.5 -3.5 3.5zM670 711.7l3.5 -3.5 3.5 3.5 -3.5 3.5zM709.3 719.5l3.5 -3.5 3.5 3.5 -3.5 3.5zM748.6 727.1l3.5 -3.5 3.5 3.5 -3.5 3.5zM787.9 736.1l3.5 -3.5 3.5 3.5 -3.5 3.5z"/>
<path d="M129.8 574.9l3.8 6.5h-7.5zM169.1 585.3l3.8 6.5h-7.5zM208.3 594.9l3.8 6.5h-7.5zM247.6 605.5l3.8 6.5h-7.5zM286.9 617.2l3.8 6.5h-7.5zM326.2 627.2l3.8 6.5h-7.5zM365.5 635.5l3.8 6.5h-7.5zM404.8 643.5l3.8 6.5h-7.5zM444.1 650.8l3.8 6.5h-7.5zM483.4 657.6l3.8 6.5h-7.5zM522.7 663.7l3.8 6.5h-7.5zM562 670.3l3.8 6.5h-7.5zM601.2 678l3.8 6.5h-7.5zM640.5 685.1l3.8 6.5h-7.5zM679.8 691.9l3.8 6.5h-7.5zM719.1 698.4l3.8 6.5h-7.5zM758.4 705.9l3.8 6.5h-7.5zM797.7 717.5l3.8 6.5h-7.5z"/>
</g>
<g fill="none" stroke="#ffb9b8" stroke-width="1.45" stroke-linejoin="round">
<path d="M95.5 570.9l5.6 5.6m0 -5.6l-5.6 5.6M94.4 573.7h7.9M98.3 569.7v7.9M134.8 579.8l5.6 5.6m0 -5.6l-5.6 5.6M133.7 582.6h7.9M137.6 578.6v7.9M174.1 588.9l5.6 5.6m0 -5.6l-5.6 5.6M172.9 591.7h7.9M176.9 587.7v7.9M213.4 595.3l5.6 5.6m0 -5.6l-5.6 5.6M212.2 598.1h7.9M216.2 594.1v7.9M252.7 601.4l5.6 5.6m0 -5.6l-5.6 5.6M251.5 604.2h7.9M255.5 600.2v7.9M292 608.9l5.6 5.6m0 -5.6l-5.6 5.6M290.8 611.7h7.9M294.8 607.7v7.9M331.3 614.6l5.6 5.6m0 -5.6l-5.6 5.6M330.1 617.4h7.9M334.1 613.4v7.9M370.6 620.9l5.6 5.6m0 -5.6l-5.6 5.6M369.4 623.7h7.9M373.4 619.7v7.9M409.8 626.6l5.6 5.6m0 -5.6l-5.6 5.6M408.7 629.4h7.9M412.6 625.5v7.9M449.1 632l5.6 5.6m0 -5.6l-5.6 5.6M448 634.8h7.9M451.9 630.9v7.9M488.4 637.9l5.6 5.6m0 -5.6l-5.6 5.6M487.3 640.7h7.9M491.2 636.8v7.9M527.7 644.9l5.6 5.6m0 -5.6l-5.6 5.6M526.6 647.7h7.9M530.5 643.8v7.9M567 645.9l5.6 5.6m0 -5.6l-5.6 5.6M565.8 648.7h7.9M569.8 644.8v7.9M606.3 656.6l5.6 5.6m0 -5.6l-5.6 5.6M605.1 659.4h7.9M609.1 655.4v7.9M645.6 664.2l5.6 5.6m0 -5.6l-5.6 5.6M644.4 667h7.9M648.4 663v7.9M684.9 670.9l5.6 5.6m0 -5.6l-5.6 5.6M683.7 673.7h7.9M687.7 669.8v7.9M724.2 680.5l5.6 5.6m0 -5.6l-5.6 5.6M723 683.3h7.9M727 679.3v7.9M763.5 694.4l5.6 5.6m0 -5.6l-5.6 5.6M762.3 697.2h7.9M766.3 693.3v7.9"/>
<path d="M104.6 420.9l3.8 -6.5h-7.5zM143.9 429l3.8 -6.5h-7.5zM183.2 441.7l3.8 -6.5h-7.5zM222.5 454.3l3.8 -6.5h-7.5zM261.8 470.4l3.8 -6.5h-7.5zM301.1 487.9l3.8 -6.5h-7.5zM340.4 501l3.8 -6.5h-7.5zM379.6 512.7l3.8 -6.5h-7.5zM418.9 520.6l3.8 -6.5h-7.5zM458.2 528.5l3.8 -6.5h-7.5zM497.5 539.1l3.8 -6.5h-7.5zM536.8 552.1l3.8 -6.5h-7.5zM576.1 565l3.8 -6.5h-7.5zM615.4 575.8l3.8 -6.5h-7.5zM654.7 588l3.8 -6.5h-7.5zM694 604.5l3.8 -6.5h-7.5zM733.3 624.7l3.8 -6.5h-7.5zM772.5 659.3l3.8 -6.5h-7.5z"/>
<path d="M108.1 541.2a2.8 2.8 0 1 0 5.6 0a2.8 2.8 0 1 0 -5.6 0M147.4 550.6a2.8 2.8 0 1 0 5.6 0a2.8 2.8 0 1 0 -5.6 0M186.7 560.7a2.8 2.8 0 1 0 5.6 0a2.8 2.8 0 1 0 -5.6 0M226 569.5a2.8 2.8 0 1 0 5.6 0a2.8 2.8 0 1 0 -5.6 0M265.3 577.6a2.8 2.8 0 1 0 5.6 0a2.8 2.8 0 1 0 -5.6 0M304.6 585.6a2.8 2.8 0 1 0 5.6 0a2.8 2.8 0 1 0 -5.6 0M343.8 595.2a2.8 2.8 0 1 0 5.6 0a2.8 2.8 0 1 0 -5.6 0M383.1 600.8a2.8 2.8 0 1 0 5.6 0a2.8 2.8 0 1 0 -5.6 0M422.4 610.7a2.8 2.8 0 1 0 5.6 0a2.8 2.8 0 1 0 -5.6 0M461.7 617.9a2.8 2.8 0 1 0 5.6 0a2.8 2.8 0 1 0 -5.6 0M501 627a2.8 2.8 0 1 0 5.6 0a2.8 2.8 0 1 0 -5.6 0M540.3 637a2.8 2.8 0 1 0 5.6 0a2.8 2.8 0 1 0 -5.6 0M579.6 643.5a2.8 2.8 0 1 0 5.6 0a2.8 2.8 0 1 0 -5.6 0M618.9 652.3a2.8 2.8 0 1 0 5.6 0a2.8 2.8 0 1 0 -5.6 0M658.2 663.8a2.8 2.8 0 1 0 5.6 0a2.8 2.8 0 1 0 -5.6 0M697.5 674.3a2.8 2.8 0 1 0 5.6 0a2.8 2.8 0 1 0 -5.6 0M736.7 687.4a2.8 2.8 0 1 0 5.6 0a2.8 2.8 0 1 0 -5.6 0M776 706a2.8 2.8 0 1 0 5.6 0a2.8 2.8 0 1 0 -5.6 0"/>
<path d="M114.7 597.1h5v5h-5zM154 605.2h5v5h-5zM193.3 613.8h5v5h-5zM232.6 622.3h5v5h-5zM271.9 633.6h5v5h-5zM311.2 642.3h5v5h-5zM350.4 647.3h5v5h-5zM389.7 654.2h5v5h-5zM429 661.4h5v5h-5zM468.3 669.2h5v5h-5zM507.6 675.6h5v5h-5zM546.9 682h5v5h-5zM586.2 689.5h5v5h-5zM625.5 697h5v5h-5zM664.8 703.5h5v5h-5zM704.1 711.9h5v5h-5zM743.3 721.4h5v5h-5zM782.6 734.4h5v5h-5z"/>
<path d="M120 604.1l3.5 -3.5 3.5 3.5 -3.5 3.5zM159.3 614l3.5 -3.5 3.5 3.5 -3.5 3.5zM198.5 623.8l3.5 -3.5 3.5 3.5 -3.5 3.5zM237.8 632.4l3.5 -3.5 3.5 3.5 -3.5 3.5zM277.1 641.3l3.5 -3.5 3.5 3.5 -3.5 3.5zM316.4 649.7l3.5 -3.5 3.5 3.5 -3.5 3.5zM355.7 657.6l3.5 -3.5 3.5 3.5 -3.5 3.5zM395 664.8l3.5 -3.5 3.5 3.5 -3.5 3.5zM434.3 671.5l3.5 -3.5 3.5 3.5 -3.5 3.5zM473.6 677.1l3.5 -3.5 3.5 3.5 -3.5 3.5zM512.9 683.2l3.5 -3.5 3.5 3.5 -3.5 3.5zM552.2 691.9l3.5 -3.5 3.5 3.5 -3.5 3.5zM591.4 698.7l3.5 -3.5 3.5 3.5 -3.5 3.5zM630.7 704.6l3.5 -3.5 3.5 3.5 -3.5 3.5zM670 711.6l3.5 -3.5 3.5 3.5 -3.5 3.5zM709.3 719.5l3.5 -3.5 3.5 3.5 -3.5 3.5zM748.6 727.1l3.5 -3.5 3.5 3.5 -3.5 3.5zM787.9 736.1l3.5 -3.5 3.5 3.5 -3.5 3.5z"/>
<path d="M129.8 574.6l3.8 6.5h-7.5zM169.1 585.1l3.8 6.5h-7.5zM208.3 594.8l3.8 6.5h-7.5zM247.6 605.4l3.8 6.5h-7.5zM286.9 617.1l3.8 6.5h-7.5zM326.2 627.1l3.8 6.5h-7.5zM365.5 635.5l3.8 6.5h-7.5zM404.8 643.5l3.8 6.5h-7.5zM444.1 650.8l3.8 6.5h-7.5zM483.4 657.6l3.8 6.5h-7.5zM522.7 663.7l3.8 6.5h-7.5zM562 670.4l3.8 6.5h-7.5zM601.2 678.2l3.8 6.5h-7.5zM640.5 685.3l3.8 6.5h-7.5zM679.8 692.1l3.8 6.5h-7.5zM719.1 698.6l3.8 6.5h-7.5zM758.4 706l3.8 6.5h-7.5zM797.7 717.7l3.8 6.5h-7.5z"/>
</g>
<g fill="none" stroke="#ffacb4" stroke-width="1.45" stroke-linejoin="round">
<path d="M95.5 570.7l5.6 5.6m0 -5.6l-5.6 5.6M94.4 573.5h7.9M98.3 569.5v7.9M134.8 579.6l5.6 5.6m0 -5.6l-5.6 5.6M133.7 582.4h7.9M137.6 578.5v7.9M174.1 588.7l5.6 5.6m0 -5.6l-5.6 5.6M172.9 591.5h7.9M176.9 587.6v7.9M213.4 595.4l5.6 5.6m0 -5.6l-5.6 5.6M212.2 598.2h7.9M216.2 594.2v7.9M252.7 601.5l5.6 5.6m0 -5.6l-5.6 5.6M251.5 604.3h7.9M255.5 600.4v7.9M292 609.1l5.6 5.6m0 -5.6l-5.6 5.6M290.8 611.9h7.9M294.8 607.9v7.9M331.3 614.9l5.6 5.6m0 -5.6l-5.6 5.6M330.1 617.7h7.9M334.1 613.7v7.9M370.6 621.1l5.6 5.6m0 -5.6l-5.6 5.6M369.4 623.9h7.9M373.4 619.9v7.9M409.8 627l5.6 5.6m0 -5.6l-5.6 5.6M408.7 629.8h7.9M412.6 625.8v7.9M449.1 632.3l5.6 5.6m0 -5.6l-5.6 5.6M448 635.1h7.9M451.9 631.2v7.9M488.4 638.2l5.6 5.6m0 -5.6l-5.6 5.6M487.3 641h7.9M491.2 637v7.9M527.7 645l5.6 5.6m0 -5.6l-5.6 5.6M526.6 647.8h7.9M530.5 643.8v7.9M567 646.6l5.6 5.6m0 -5.6l-5.6 5.6M565.8 649.4h7.9M569.8 645.4v7.9M606.3 656.6l5.6 5.6m0 -5.6l-5.6 5.6M605.1 659.4h7.9M609.1 655.4v7.9M645.6 663.9l5.6 5.6m0 -5.6l-5.6 5.6M644.4 666.7h7.9M648.4 662.8v7.9M684.9 670.6l5.6 5.6m0 -5.6l-5.6 5.6M683.7 673.4h7.9M687.7 669.5v7.9M724.2 680.1l5.6 5.6m0 -5.6l-5.6 5.6M723 682.9h7.9M727 678.9v7.9M763.5 694l5.6 5.6m0 -5.6l-5.6 5.6M762.3 696.8h7.9M766.3 692.9v7.9"/>
<path d="M104.6 420.2l3.8 -6.5h-7.5zM143.9 428.4l3.8 -6.5h-7.5zM183.2 440.7l3.8 -6.5h-7.5zM222.5 453.3l3.8 -6.5h-7.5zM261.8 469.6l3.8 -6.5h-7.5zM301.1 486.9l3.8 -6.5h-7.5zM340.4 500.5l3.8 -6.5h-7.5zM379.6 511.3l3.8 -6.5h-7.5zM418.9 520.3l3.8 -6.5h-7.5zM458.2 528.2l3.8 -6.5h-7.5zM497.5 538.8l3.8 -6.5h-7.5zM536.8 551.2l3.8 -6.5h-7.5zM576.1 564.1l3.8 -6.5h-7.5zM615.4 574.6l3.8 -6.5h-7.5zM654.7 586.6l3.8 -6.5h-7.5zM694 602.9l3.8 -6.5h-7.5zM733.3 623.1l3.8 -6.5h-7.5zM772.5 657.9l3.8 -6.5h-7.5z"/>
<path d="M108.1 541a2.8 2.8 0 1 0 5.6 0a2.8 2.8 0 1 0 -5.6 0M147.4 550.5a2.8 2.8 0 1 0 5.6 0a2.8 2.8 0 1 0 -5.6 0M186.7 560.6a2.8 2.8 0 1 0 5.6 0a2.8 2.8 0 1 0 -5.6 0M226 569.4a2.8 2.8 0 1 0 5.6 0a2.8 2.8 0 1 0 -5.6 0M265.3 577.5a2.8 2.8 0 1 0 5.6 0a2.8 2.8 0 1 0 -5.6 0M304.6 585.7a2.8 2.8 0 1 0 5.6 0a2.8 2.8 0 1 0 -5.6 0M343.8 595.3a2.8 2.8 0 1 0 5.6 0a2.8 2.8 0 1 0 -5.6 0M383.1 600.7a2.8 2.8 0 1 0 5.6 0a2.8 2.8 0 1 0 -5.6 0M422.4 610.9a2.8 2.8 0 1 0 5.6 0a2.8 2.8 0 1 0 -5.6 0M461.7 618a2.8 2.8 0 1 0 5.6 0a2.8 2.8 0 1 0 -5.6 0M501 627.1a2.8 2.8 0 1 0 5.6 0a2.8 2.8 0 1 0 -5.6 0M540.3 637.2a2.8 2.8 0 1 0 5.6 0a2.8 2.8 0 1 0 -5.6 0M579.6 643.9a2.8 2.8 0 1 0 5.6 0a2.8 2.8 0 1 0 -5.6 0M618.9 652.7a2.8 2.8 0 1 0 5.6 0a2.8 2.8 0 1 0 -5.6 0M658.2 663.6a2.8 2.8 0 1 0 5.6 0a2.8 2.8 0 1 0 -5.6 0M697.5 674a2.8 2.8 0 1 0 5.6 0a2.8 2.8 0 1 0 -5.6 0M736.7 687a2.8 2.8 0 1 0 5.6 0a2.8 2.8 0 1 0 -5.6 0M776 705.9a2.8 2.8 0 1 0 5.6 0a2.8 2.8 0 1 0 -5.6 0"/>
<path d="M114.7 597h5v5h-5zM154 605h5v5h-5zM193.3 613.6h5v5h-5zM232.6 622.3h5v5h-5zM271.9 633.5h5v5h-5zM311.2 642.3h5v5h-5zM350.4 647.4h5v5h-5zM389.7 654.3h5v5h-5zM429 661.5h5v5h-5zM468.3 669.3h5v5h-5zM507.6 675.8h5v5h-5zM546.9 682.2h5v5h-5zM586.2 689.6h5v5h-5zM625.5 697.1h5v5h-5zM664.8 703.6h5v5h-5zM704.1 711.8h5v5h-5zM743.3 721.2h5v5h-5zM782.6 734.4h5v5h-5z"/>
<path d="M120 603.9l3.5 -3.5 3.5 3.5 -3.5 3.5zM159.3 613.8l3.5 -3.5 3.5 3.5 -3.5 3.5zM198.5 623.7l3.5 -3.5 3.5 3.5 -3.5 3.5zM237.8 632.3l3.5 -3.5 3.5 3.5 -3.5 3.5zM277.1 641.3l3.5 -3.5 3.5 3.5 -3.5 3.5zM316.4 649.6l3.5 -3.5 3.5 3.5 -3.5 3.5zM355.7 657.5l3.5 -3.5 3.5 3.5 -3.5 3.5zM395 664.8l3.5 -3.5 3.5 3.5 -3.5 3.5zM434.3 671.5l3.5 -3.5 3.5 3.5 -3.5 3.5zM473.6 677.1l3.5 -3.5 3.5 3.5 -3.5 3.5zM512.9 683.2l3.5 -3.5 3.5 3.5 -3.5 3.5zM552.2 691.8l3.5 -3.5 3.5 3.5 -3.5 3.5zM591.4 698.6l3.5 -3.5 3.5 3.5 -3.5 3.5zM630.7 704.6l3.5 -3.5 3.5 3.5 -3.5 3.5zM670 711.6l3.5 -3.5 3.5 3.5 -3.5 3.5zM709.3 719.5l3.5 -3.5 3.5 3.5 -3.5 3.5zM748.6 727.1l3.5 -3.5 3.5 3.5 -3.5 3.5zM787.9 736.1l3.5 -3.5 3.5 3.5 -3.5 3.5z"/>
<path d="M129.8 574.4l3.8 6.5h-7.5zM169.1 584.9l3.8 6.5h-7.5zM208.3 594.7l3.8 6.5h-7.5zM247.6 605.3l3.8 6.5h-7.5zM286.9 616.9l3.8 6.5h-7.5zM326.2 627.1l3.8 6.5h-7.5zM365.5 635.4l3.8 6.5h-7.5zM404.8 643.5l3.8 6.5h-7.5zM444.1 650.7l3.8 6.5h-7.5zM483.4 657.6l3.8 6.5h-7.5zM522.7 663.8l3.8 6.5h-7.5zM562 670.6l3.8 6.5h-7.5zM601.2 678.4l3.8 6.5h-7.5zM640.5 685.5l3.8 6.5h-7.5zM679.8 692.3l3.8 6.5h-7.5zM719.1 698.9l3.8 6.5h-7.5zM758.4 706.2l3.8 6.5h-7.5zM797.7 717.8l3.8 6.5h-7.5z"/>
</g>
<g fill="none" stroke="#ffa0b0" stroke-width="1.45" stroke-linejoin="round">
<path d="M95.5 570.5l5.6 5.6m0 -5.6l-5.6 5.6M94.4 573.3h7.9M98.3 569.3v7.9M134.8 579.5l5.6 5.6m0 -5.6l-5.6 5.6M133.7 582.3h7.9M137.6 578.3v7.9M174.1 588.6l5.6 5.6m0 -5.6l-5.6 5.6M172.9 591.4h7.9M176.9 587.4v7.9M213.4 595.5l5.6 5.6m0 -5.6l-5.6 5.6M212.2 598.3h7.9M216.2 594.3v7.9M252.7 601.7l5.6 5.6m0 -5.6l-5.6 5.6M251.5 604.5h7.9M255.5 600.5v7.9M292 609.3l5.6 5.6m0 -5.6l-5.6 5.6M290.8 612.1h7.9M294.8 608.1v7.9M331.3 615.1l5.6 5.6m0 -5.6l-5.6 5.6M330.1 617.9h7.9M334.1 613.9v7.9M370.6 621.3l5.6 5.6m0 -5.6l-5.6 5.6M369.4 624.1h7.9M373.4 620.2v7.9M409.8 627.3l5.6 5.6m0 -5.6l-5.6 5.6M408.7 630.1h7.9M412.6 626.1v7.9M449.1 632.6l5.6 5.6m0 -5.6l-5.6 5.6M448 635.4h7.9M451.9 631.5v7.9M488.4 638.5l5.6 5.6m0 -5.6l-5.6 5.6M487.3 641.3h7.9M491.2 637.3v7.9M527.7 645l5.6 5.6m0 -5.6l-5.6 5.6M526.6 647.8h7.9M530.5 643.9v7.9M567 647.2l5.6 5.6m0 -5.6l-5.6 5.6M565.8 650h7.9M569.8 646v7.9M606.3 656.6l5.6 5.6m0 -5.6l-5.6 5.6M605.1 659.4h7.9M609.1 655.4v7.9M645.6 663.7l5.6 5.6m0 -5.6l-5.6 5.6M644.4 666.5h7.9M648.4 662.5v7.9M684.9 670.4l5.6 5.6m0 -5.6l-5.6 5.6M683.7 673.2h7.9M687.7 669.2v7.9M724.2 679.7l5.6 5.6m0 -5.6l-5.6 5.6M723 682.5h7.9M727 678.5v7.9M763.5 693.7l5.6 5.6m0 -5.6l-5.6 5.6M762.3 696.5h7.9M766.3 692.5v7.9"/>
<path d="M104.6 419.5l3.8 -6.5h-7.5zM143.9 427.9l3.8 -6.5h-7.5zM183.2 439.8l3.8 -6.5h-7.5zM222.5 452.4l3.8 -6.5h-7.5zM261.8 468.7l3.8 -6.5h-7.5zM301.1 486l3.8 -6.5h-7.5zM340.4 499.9l3.8 -6.5h-7.5zM379.6 510.8l3.8 -6.5h-7.5zM418.9 519.9l3.8 -6.5h-7.5zM458.2 528l3.8 -6.5h-7.5zM497.5 538.5l3.8 -6.5h-7.5zM536.8 550.8l3.8 -6.5h-7.5zM576.1 563.1l3.8 -6.5h-7.5zM615.4 573.3l3.8 -6.5h-7.5zM654.7 585.2l3.8 -6.5h-7.5zM694 601.3l3.8 -6.5h-7.5zM733.3 621.5l3.8 -6.5h-7.5zM772.5 656.4l3.8 -6.5h-7.5z"/>
<path d="M108.1 540.8a2.8 2.8 0 1 0 5.6 0a2.8 2.8 0 1 0 -5.6 0M147.4 550.4a2.8 2.8 0 1 0 5.6 0a2.8 2.8 0 1 0 -5.6 0M186.7 560.5a2.8 2.8 0 1 0 5.6 0a2.8 2.8 0 1 0 -5.6 0M226 569.4a2.8 2.8 0 1 0 5.6 0a2.8 2.8 0 1 0 -5.6 0M265.3 577.5a2.8 2.8 0 1 0 5.6 0a2.8 2.8 0 1 0 -5.6 0M304.6 585.8a2.8 2.8 0 1 0 5.6 0a2.8 2.8 0 1 0 -5.6 0M343.8 595.4a2.8 2.8 0 1 0 5.6 0a2.8 2.8 0 1 0 -5.6 0M383.1 601.3a2.8 2.8 0 1 0 5.6 0a2.8 2.8 0 1 0 -5.6 0M422.4 611a2.8 2.8 0 1 0 5.6 0a2.8 2.8 0 1 0 -5.6 0M461.7 618.1a2.8 2.8 0 1 0 5.6 0a2.8 2.8 0 1 0 -5.6 0M501 627.3a2.8 2.8 0 1 0 5.6 0a2.8 2.8 0 1 0 -5.6 0M540.3 637.3a2.8 2.8 0 1 0 5.6 0a2.8 2.8 0 1 0 -5.6 0M579.6 644.4a2.8 2.8 0 1 0 5.6 0a2.8 2.8 0 1 0 -5.6 0M618.9 653a2.8 2.8 0 1 0 5.6 0a2.8 2.8 0 1 0 -5.6 0M658.2 663.3a2.8 2.8 0 1 0 5.6 0a2.8 2.8 0 1 0 -5.6 0M697.5 673.8a2.8 2.8 0 1 0 5.6 0a2.8 2.8 0 1 0 -5.6 0M736.7 686.7a2.8 2.8 0 1 0 5.6 0a2.8 2.8 0 1 0 -5.6 0M776 705.7a2.8 2.8 0 1 0 5.6 0a2.8 2.8 0 1 0 -5.6 0"/>
<path d="M114.7 596.9h5v5h-5zM154 604.9h5v5h-5zM193.3 613.4h5v5h-5zM232.6 622.2h5v5h-5zM271.9 633.5h5v5h-5zM311.2 642.2h5v5h-5zM350.4 647.5h5v5h-5zM389.7 654.4h5v5h-5zM429 661.7h5v5h-5zM468.3 669.4h5v5h-5zM507.6 675.9h5v5h-5zM546.9 682.3h5v5h-5zM586.2 689.7h5v5h-5zM625.5 697.1h5v5h-5zM664.8 703.6h5v5h-5zM704.1 711.7h5v5h-5zM743.3 721.1h5v5h-5zM782.6 734.3h5v5h-5z"/>
<path d="M120 603.7l3.5 -3.5 3.5 3.5 -3.5 3.5zM159.3 613.6l3.5 -3.5 3.5 3.5 -3.5 3.5zM198.5 623.6l3.5 -3.5 3.5 3.5 -3.5 3.5zM237.8 632.3l3.5 -3.5 3.5 3.5 -3.5 3.5zM277.1 641.2l3.5 -3.5 3.5 3.5 -3.5 3.5zM316.4 649.6l3.5 -3.5 3.5 3.5 -3.5 3.5zM355.7 657.5l3.5 -3.5 3.5 3.5 -3.5 3.5zM395 664.7l3.5 -3.5 3.5 3.5 -3.5 3.5zM434.3 671.5l3.5 -3.5 3.5 3.5 -3.5 3.5zM473.6 677.1l3.5 -3.5 3.5 3.5 -3.5 3.5zM512.9 683.2l3.5 -3.5 3.5 3.5 -3.5 3.5zM552.2 691.8l3.5 -3.5 3.5 3.5 -3.5 3.5zM591.4 698.6l3.5 -3.5 3.5 3.5 -3.5 3.5zM630.7 704.6l3.5 -3.5 3.5 3.5 -3.5 3.5zM670 711.6l3.5 -3.5 3.5 3.5 -3.5 3.5zM709.3 719.5l3.5 -3.5 3.5 3.5 -3.5 3.5zM748.6 727l3.5 -3.5 3.5 3.5 -3.5 3.5zM787.9 736l3.5 -3.5 3.5 3.5 -3.5 3.5z"/>
<path d="M129.8 574.2l3.8 6.5h-7.5zM169.1 584.7l3.8 6.5h-7.5zM208.3 594.6l3.8 6.5h-7.5zM247.6 605.2l3.8 6.5h-7.5zM286.9 616.8l3.8 6.5h-7.5zM326.2 627l3.8 6.5h-7.5zM365.5 635.4l3.8 6.5h-7.5zM404.8 643.4l3.8 6.5h-7.5zM444.1 650.7l3.8 6.5h-7.5zM483.4 657.5l3.8 6.5h-7.5zM522.7 663.8l3.8 6.5h-7.5zM562 670.8l3.8 6.5h-7.5zM601.2 678.6l3.8 6.5h-7.5zM640.5 685.7l3.8 6.5h-7.5zM679.8 692.5l3.8 6.5h-7.5zM719.1 699.1l3.8 6.5h-7.5zM758.4 706.3l3.8 6.5h-7.5zM797.7 717.9l3.8 6.5h-7.5z"/>
</g>
<g fill="none" stroke="#ff93ac" stroke-width="1.45" stroke-linejoin="round">
<path d="M95.5 570.3l5.6 5.6m0 -5.6l-5.6 5.6M94.4 573.1h7.9M98.3 569.1v7.9M134.8 579.3l5.6 5.6m0 -5.6l-5.6 5.6M133.7 582.1h7.9M137.6 578.1v7.9M174.1 588.4l5.6 5.6m0 -5.6l-5.6 5.6M172.9 591.2h7.9M176.9 587.3v7.9M213.4 595.6l5.6 5.6m0 -5.6l-5.6 5.6M212.2 598.4h7.9M216.2 594.4v7.9M252.7 601.8l5.6 5.6m0 -5.6l-5.6 5.6M251.5 604.6h7.9M255.5 600.6v7.9M292 609.5l5.6 5.6m0 -5.6l-5.6 5.6M290.8 612.3h7.9M294.8 608.3v7.9M331.3 615.3l5.6 5.6m0 -5.6l-5.6 5.6M330.1 618.1h7.9M334.1 614.2v7.9M370.6 621.6l5.6 5.6m0 -5.6l-5.6 5.6M369.4 624.4h7.9M373.4 620.4v7.9M409.8 627.6l5.6 5.6m0 -5.6l-5.6 5.6M408.7 630.4h7.9M412.6 626.4v7.9M449.1 633l5.6 5.6m0 -5.6l-5.6 5.6M448 635.8h7.9M451.9 631.8v7.9M488.4 638.8l5.6 5.6m0 -5.6l-5.6 5.6M487.3 641.6h7.9M491.2 637.6v7.9M527.7 645.1l5.6 5.6m0 -5.6l-5.6 5.6M526.6 647.9h7.9M530.5 643.9v7.9M567 647.8l5.6 5.6m0 -5.6l-5.6 5.6M565.8 650.6h7.9M569.8 646.6v7.9M606.3 656.6l5.6 5.6m0 -5.6l-5.6 5.6M605.1 659.4h7.9M609.1 655.4v7.9M645.6 663.4l5.6 5.6m0 -5.6l-5.6 5.6M644.4 666.2h7.9M648.4 662.3v7.9M684.9 670.1l5.6 5.6m0 -5.6l-5.6 5.6M683.7 672.9h7.9M687.7 668.9v7.9M724.2 679.2l5.6 5.6m0 -5.6l-5.6 5.6M723 682h7.9M727 678.1v7.9M763.5 693.3l5.6 5.6m0 -5.6l-5.6 5.6M762.3 696.1h7.9M766.3 692.1v7.9"/>
<path d="M104.6 418.8l3.8 -6.5h-7.5zM143.9 427.4l3.8 -6.5h-7.5zM183.2 438.9l3.8 -6.5h-7.5zM222.5 451.5l3.8 -6.5h-7.5zM261.8 467.9l3.8 -6.5h-7.5zM301.1 485.1l3.8 -6.5h-7.5zM340.4 499.4l3.8 -6.5h-7.5zM379.6 510.4l3.8 -6.5h-7.5zM418.9 519.5l3.8 -6.5h-7.5zM458.2 527.8l3.8 -6.5h-7.5zM497.5 538.2l3.8 -6.5h-7.5zM536.8 550.3l3.8 -6.5h-7.5zM576.1 562.1l3.8 -6.5h-7.5zM615.4 572.1l3.8 -6.5h-7.5zM654.7 583.8l3.8 -6.5h-7.5zM694 599.7l3.8 -6.5h-7.5zM733.3 619.9l3.8 -6.5h-7.5zM772.5 655l3.8 -6.5h-7.5z"/>
<path d="M108.1 540.6a2.8 2.8 0 1 0 5.6 0a2.8 2.8 0 1 0 -5.6 0M147.4 550.3a2.8 2.8 0 1 0 5.6 0a2.8 2.8 0 1 0 -5.6 0M186.7 560.4a2.8 2.8 0 1 0 5.6 0a2.8 2.8 0 1 0 -5.6 0M226 569.3a2.8 2.8 0 1 0 5.6 0a2.8 2.8 0 1 0 -5.6 0M265.3 577.4a2.8 2.8 0 1 0 5.6 0a2.8 2.8 0 1 0 -5.6 0M304.6 585.9a2.8 2.8 0 1 0 5.6 0a2.8 2.8 0 1 0 -5.6 0M343.8 595.5a2.8 2.8 0 1 0 5.6 0a2.8 2.8 0 1 0 -5.6 0M383.1 601.9a2.8 2.8 0 1 0 5.6 0a2.8 2.8 0 1 0 -5.6 0M422.4 611.1a2.8 2.8 0 1 0 5.6 0a2.8 2.8 0 1 0 -5.6 0M461.7 618.3a2.8 2.8 0 1 0 5.6 0a2.8 2.8 0 1 0 -5.6 0M501 627.4a2.8 2.8 0 1 0 5.6 0a2.8 2.8 0 1 0 -5.6 0M540.3 637.5a2.8 2.8 0 1 0 5.6 0a2.8 2.8 0 1 0 -5.6 0M579.6 644.9a2.8 2.8 0 1 0 5.6 0a2.8 2.8 0 1 0 -5.6 0M618.9 653.4a2.8 2.8 0 1 0 5.6 0a2.8 2.8 0 1 0 -5.6 0M658.2 663.1a2.8 2.8 0 1 0 5.6 0a2.8 2.8 0 1 0 -5.6 0M697.5 673.5a2.8 2.8 0 1 0 5.6 0a2.8 2.8 0 1 0 -5.6 0M736.7 686.3a2.8 2.8 0 1 0 5.6 0a2.8 2.8 0 1 0 -5.6 0M776 705.6a2.8 2.8 0 1 0 5.6 0a2.8 2.8 0 1 0 -5.6 0"/>
<path d="M114.7 596.8h5v5h-5zM154 604.7h5v5h-5zM193.3 613.2h5v5h-5zM232.6 622.1h5v5h-5zM271.9 633.4h5v5h-5zM311.2 642.2h5v5h-5zM350.4 647.6h5v5h-5zM389.7 654.5h5v5h-5zM429 661.8h5v5h-5zM468.3 669.5h5v5h-5zM507.6 676h5v5h-5zM546.9 682.4h5v5h-5zM586.2 689.8h5v5h-5zM625.5 697.2h5v5h-5zM664.8 703.7h5v5h-5zM704.1 711.6h5v5h-5zM743.3 720.9h5v5h-5zM782.6 734.3h5v5h-5z"/>
<path d="M120 603.5l3.5 -3.5 3.5 3.5 -3.5 3.5zM159.3 613.5l3.5 -3.5 3.5 3.5 -3.5 3.5zM198.5 623.5l3.5 -3.5 3.5 3.5 -3.5 3.5zM237.8 632.3l3.5 -3.5 3.5 3.5 -3.5 3.5zM277.1 641.2l3.5 -3.5 3.5 3.5 -3.5 3.5zM316.4 649.5l3.5 -3.5 3.5 3.5 -3.5 3.5zM355.7 657.5l3.5 -3.5 3.5 3.5 -3.5 3.5zM395 664.7l3.5 -3.5 3.5 3.5 -3.5 3.5zM434.3 671.4l3.5 -3.5 3.5 3.5 -3.5 3.5zM473.6 677l3.5 -3.5 3.5 3.5 -3.5 3.5zM512.9 683.1l3.5 -3.5 3.5 3.5 -3.5 3.5zM552.2 691.8l3.5 -3.5 3.5 3.5 -3.5 3.5zM591.4 698.6l3.5 -3.5 3.5 3.5 -3.5 3.5zM630.7 704.6l3.5 -3.5 3.5 3.5 -3.5 3.5zM670 711.6l3.5 -3.5 3.5 3.5 -3.5 3.5zM709.3 719.5l3.5 -3.5 3.5 3.5 -3.5 3.5zM748.6 727l3.5 -3.5 3.5 3.5 -3.5 3.5zM787.9 736l3.5 -3.5 3.5 3.5 -3.5 3.5z"/>
<path d="M129.8 574l3.8 6.5h-7.5zM169.1 584.5l3.8 6.5h-7.5zM208.3 594.4l3.8 6.5h-7.5zM247.6 605.1l3.8 6.5h-7.5zM286.9 616.7l3.8 6.5h-7.5zM326.2 626.9l3.8 6.5h-7.5zM365.5 635.3l3.8 6.5h-7.5zM404.8 643.4l3.8 6.5h-7.5zM444.1 650.7l3.8 6.5h-7.5zM483.4 657.5l3.8 6.5h-7.5zM522.7 663.8l3.8 6.5h-7.5zM562 670.9l3.8 6.5h-7.5zM601.2 678.9l3.8 6.5h-7.5zM640.5 685.9l3.8 6.5h-7.5zM679.8 692.7l3.8 6.5h-7.5zM719.1 699.3l3.8 6.5h-7.5zM758.4 706.5l3.8 6.5h-7.5zM797.7 718.1l3.8 6.5h-7.5z"/>
</g>
<g fill="none" stroke="#ff86a8" stroke-width="1.45" stroke-linejoin="round">
<path d="M95.5 570.1l5.6 5.6m0 -5.6l-5.6 5.6M94.4 572.9h7.9M98.3 569v7.9M134.8 579.1l5.6 5.6m0 -5.6l-5.6 5.6M133.7 581.9h7.9M137.6 578v7.9M174.1 588.3l5.6 5.6m0 -5.6l-5.6 5.6M172.9 591.1h7.9M176.9 587.1v7.9M213.4 595.7l5.6 5.6m0 -5.6l-5.6 5.6M212.2 598.5h7.9M216.2 594.5v7.9M252.7 601.9l5.6 5.6m0 -5.6l-5.6 5.6M251.5 604.7h7.9M255.5 600.8v7.9M292 609.7l5.6 5.6m0 -5.6l-5.6 5.6M290.8 612.5h7.9M294.8 608.5v7.9M331.3 615.6l5.6 5.6m0 -5.6l-5.6 5.6M330.1 618.4h7.9M334.1 614.4v7.9M370.6 621.8l5.6 5.6m0 -5.6l-5.6 5.6M369.4 624.6h7.9M373.4 620.6v7.9M409.8 627.9l5.6 5.6m0 -5.6l-5.6 5.6M408.7 630.7h7.9M412.6 626.7v7.9M449.1 633.3l5.6 5.6m0 -5.6l-5.6 5.6M448 636.1h7.9M451.9 632.1v7.9M488.4 639.1l5.6 5.6m0 -5.6l-5.6 5.6M487.3 641.9h7.9M491.2 637.9v7.9M527.7 645.1l5.6 5.6m0 -5.6l-5.6 5.6M526.6 647.9h7.9M530.5 643.9v7.9M567 648.4l5.6 5.6m0 -5.6l-5.6 5.6M565.8 651.2h7.9M569.8 647.2v7.9M606.3 656.6l5.6 5.6m0 -5.6l-5.6 5.6M605.1 659.4h7.9M609.1 655.4v7.9M645.6 663.2l5.6 5.6m0 -5.6l-5.6 5.6M644.4 666h7.9M648.4 662v7.9M684.9 669.8l5.6 5.6m0 -5.6l-5.6 5.6M683.7 672.6h7.9M687.7 668.6v7.9M724.2 678.8l5.6 5.6m0 -5.6l-5.6 5.6M723 681.6h7.9M727 677.7v7.9M763.5 692.9l5.6 5.6m0 -5.6l-5.6 5.6M762.3 695.7h7.9M766.3 691.7v7.9"/>
<path d="M104.6 418.1l3.8 -6.5h-7.5zM143.9 426.9l3.8 -6.5h-7.5zM183.2 438l3.8 -6.5h-7.5zM222.5 450.5l3.8 -6.5h-7.5zM261.8 467l3.8 -6.5h-7.5zM301.1 484.1l3.8 -6.5h-7.5zM340.4 498.8l3.8 -6.5h-7.5zM379.6 510l3.8 -6.5h-7.5zM418.9 519.2l3.8 -6.5h-7.5zM458.2 527.5l3.8 -6.5h-7.5zM497.5 537.8l3.8 -6.5h-7.5zM536.8 549.8l3.8 -6.5h-7.5zM576.1 561.5l3.8 -6.5h-7.5zM615.4 571.6l3.8 -6.5h-7.5zM654.7 583l3.8 -6.5h-7.5zM694 598.8l3.8 -6.5h-7.5zM733.3 619l3.8 -6.5h-7.5zM772.5 654.3l3.8 -6.5h-7.5z"/>
<path d="M108.1 540.4a2.8 2.8 0 1 0 5.6 0a2.8 2.8 0 1 0 -5.6 0M147.4 550.2a2.8 2.8 0 1 0 5.6 0a2.8 2.8 0 1 0 -5.6 0M186.7 560.3a2.8 2.8 0 1 0 5.6 0a2.8 2.8 0 1 0 -5.6 0M226 569.2a2.8 2.8 0 1 0 5.6 0a2.8 2.8 0 1 0 -5.6 0M265.3 577.3a2.8 2.8 0 1 0 5.6 0a2.8 2.8 0 1 0 -5.6 0M304.6 586a2.8 2.8 0 1 0 5.6 0a2.8 2.8 0 1 0 -5.6 0M343.8 595.6a2.8 2.8 0 1 0 5.6 0a2.8 2.8 0 1 0 -5.6 0M383.1 602.5a2.8 2.8 0 1 0 5.6 0a2.8 2.8 0 1 0 -5.6 0M422.4 611.3a2.8 2.8 0 1 0 5.6 0a2.8 2.8 0 1 0 -5.6 0M461.7 618.4a2.8 2.8 0 1 0 5.6 0a2.8 2.8 0 1 0 -5.6 0M501 627.5a2.8 2.8 0 1 0 5.6 0a2.8 2.8 0 1 0 -5.6 0M540.3 637.6a2.8 2.8 0 1 0 5.6 0a2.8 2.8 0 1 0 -5.6 0M579.6 645.3a2.8 2.8 0 1 0 5.6 0a2.8 2.8 0 1 0 -5.6 0M618.9 653.8a2.8 2.8 0 1 0 5.6 0a2.8 2.8 0 1 0 -5.6 0M658.2 662.9a2.8 2.8 0 1 0 5.6 0a2.8 2.8 0 1 0 -5.6 0M697.5 673.3a2.8 2.8 0 1 0 5.6 0a2.8 2.8 0 1 0 -5.6 0M736.7 686a2.8 2.8 0 1 0 5.6 0a2.8 2.8 0 1 0 -5.6 0M776 705.4a2.8 2.8 0 1 0 5.6 0a2.8 2.8 0 1 0 -5.6 0"/>
<path d="M114.7 596.7h5v5h-5zM154 604.5h5v5h-5zM193.3 613h5v5h-5zM232.6 622h5v5h-5zM271.9 633.3h5v5h-5zM311.2 642.1h5v5h-5zM350.4 647.7h5v5h-5zM389.7 654.6h5v5h-5zM429 662h5v5h-5zM468.3 669.6h5v5h-5zM507.6 676.1h5v5h-5zM546.9 682.5h5v5h-5zM586.2 690h5v5h-5zM625.5 697.2h5v5h-5zM664.8 703.8h5v5h-5zM704.1 711.5h5v5h-5zM743.3 720.8h5v5h-5zM782.6 734.2h5v5h-5z"/>
<path d="M120 603.3l3.5 -3.5 3.5 3.5 -3.5 3.5zM159.3 613.3l3.5 -3.5 3.5 3.5 -3.5 3.5zM198.5 623.3l3.5 -3.5 3.5 3.5 -3.5 3.5zM237.8 632.2l3.5 -3.5 3.5 3.5 -3.5 3.5zM277.1 641.1l3.5 -3.5 3.5 3.5 -3.5 3.5zM316.4 649.5l3.5 -3.5 3.5 3.5 -3.5 3.5zM355.7 657.4l3.5 -3.5 3.5 3.5 -3.5 3.5zM395 664.7l3.5 -3.5 3.5 3.5 -3.5 3.5zM434.3 671.4l3.5 -3.5 3.5 3.5 -3.5 3.5zM473.6 677l3.5 -3.5 3.5 3.5 -3.5 3.5zM512.9 683.1l3.5 -3.5 3.5 3.5 -3.5 3.5zM552.2 691.8l3.5 -3.5 3.5 3.5 -3.5 3.5zM591.4 698.6l3.5 -3.5 3.5 3.5 -3.5 3.5zM630.7 704.6l3.5 -3.5 3.5 3.5 -3.5 3.5zM670 711.6l3.5 -3.5 3.5 3.5 -3.5 3.5zM709.3 719.4l3.5 -3.5 3.5 3.5 -3.5 3.5zM748.6 727l3.5 -3.5 3.5 3.5 -3.5 3.5zM787.9 736l3.5 -3.5 3.5 3.5 -3.5 3.5z"/>
<path d="M129.8 573.8l3.8 6.5h-7.5zM169.1 584.3l3.8 6.5h-7.5zM208.3 594.3l3.8 6.5h-7.5zM247.6 605l3.8 6.5h-7.5zM286.9 616.5l3.8 6.5h-7.5zM326.2 626.9l3.8 6.5h-7.5zM365.5 635.3l3.8 6.5h-7.5zM404.8 643.3l3.8 6.5h-7.5zM444.1 650.6l3.8 6.5h-7.5zM483.4 657.4l3.8 6.5h-7.5zM522.7 663.8l3.8 6.5h-7.5zM562 671.1l3.8 6.5h-7.5zM601.2 679.1l3.8 6.5h-7.5zM640.5 686.1l3.8 6.5h-7.5zM679.8 692.9l3.8 6.5h-7.5zM719.1 699.6l3.8 6.5h-7.5zM758.4 706.6l3.8 6.5h-7.5zM797.7 718.2l3.8 6.5h-7.5z"/>
</g>
<g fill="none" stroke="#ff79a5" stroke-width="1.45" stroke-linejoin="round">
<path d="M95.5 569.9l5.6 5.6m0 -5.6l-5.6 5.6M94.4 572.7h7.9M98.3 568.8v7.9M134.8 579l5.6 5.6m0 -5.6l-5.6 5.6M133.7 581.8h7.9M137.6 577.8v7.9M174.1 588.2l5.6 5.6m0 -5.6l-5.6 5.6M172.9 591h7.9M176.9 587v7.9M213.4 595.7l5.6 5.6m0 -5.6l-5.6 5.6M212.2 598.5h7.9M216.2 594.6v7.9M252.7 602.1l5.6 5.6m0 -5.6l-5.6 5.6M251.5 604.9h7.9M255.5 600.9v7.9M292 609.9l5.6 5.6m0 -5.6l-5.6 5.6M290.8 612.7h7.9M294.8 608.7v7.9M331.3 615.8l5.6 5.6m0 -5.6l-5.6 5.6M330.1 618.6h7.9M334.1 614.7v7.9M370.6 622l5.6 5.6m0 -5.6l-5.6 5.6M369.4 624.8h7.9M373.4 620.9v7.9M409.8 628.2l5.6 5.6m0 -5.6l-5.6 5.6M408.7 631h7.9M412.6 627.1v7.9M449.1 633.6l5.6 5.6m0 -5.6l-5.6 5.6M448 636.4h7.9M451.9 632.4v7.9M488.4 639.4l5.6 5.6m0 -5.6l-5.6 5.6M487.3 642.2h7.9M491.2 638.2v7.9M527.7 645.1l5.6 5.6m0 -5.6l-5.6 5.6M526.6 647.9h7.9M530.5 644v7.9M567 649l5.6 5.6m0 -5.6l-5.6 5.6M565.8 651.8h7.9M569.8 647.9v7.9M606.3 656.6l5.6 5.6m0 -5.6l-5.6 5.6M605.1 659.4h7.9M609.1 655.4v7.9M645.6 662.9l5.6 5.6m0 -5.6l-5.6 5.6M644.4 665.7h7.9M648.4 661.8v7.9M684.9 669.5l5.6 5.6m0 -5.6l-5.6 5.6M683.7 672.3h7.9M687.7 668.3v7.9M724.2 678.4l5.6 5.6m0 -5.6l-5.6 5.6M723 681.2h7.9M727 677.3v7.9M763.5 692.5l5.6 5.6m0 -5.6l-5.6 5.6M762.3 695.3h7.9M766.3 691.4v7.9"/>
<path d="M104.6 417.4l3.8 -6.5h-7.5zM143.9 426.4l3.8 -6.5h-7.5zM183.2 437.1l3.8 -6.5h-7.5zM222.5 449.6l3.8 -6.5h-7.5zM261.8 466.2l3.8 -6.5h-7.5zM301.1 483.2l3.8 -6.5h-7.5zM340.4 498.3l3.8 -6.5h-7.5zM379.6 509.6l3.8 -6.5h-7.5zM418.9 518.8l3.8 -6.5h-7.5zM458.2 527.3l3.8 -6.5h-7.5zM497.5 537.5l3.8 -6.5h-7.5zM536.8 549.3l3.8 -6.5h-7.5zM576.1 561l3.8 -6.5h-7.5zM615.4 571l3.8 -6.5h-7.5zM654.7 582.3l3.8 -6.5h-7.5zM694 598l3.8 -6.5h-7.5zM733.3 618l3.8 -6.5h-7.5zM772.5 653.6l3.8 -6.5h-7.5z"/>
<path d="M108.1 540.2a2.8 2.8 0 1 0 5.6 0a2.8 2.8 0 1 0 -5.6 0M147.4 550.1a2.8 2.8 0 1 0 5.6 0a2.8 2.8 0 1 0 -5.6 0M186.7 560.3a2.8 2.8 0 1 0 5.6 0a2.8 2.8 0 1 0 -5.6 0M226 569.2a2.8 2.8 0 1 0 5.6 0a2.8 2.8 0 1 0 -5.6 0M265.3 577.2a2.8 2.8 0 1 0 5.6 0a2.8 2.8 0 1 0 -5.6 0M304.6 586.1a2.8 2.8 0 1 0 5.6 0a2.8 2.8 0 1 0 -5.6 0M343.8 595.7a2.8 2.8 0 1 0 5.6 0a2.8 2.8 0 1 0 -5.6 0M383.1 603.1a2.8 2.8 0 1 0 5.6 0a2.8 2.8 0 1 0 -5.6 0M422.4 611.4a2.8 2.8 0 1 0 5.6 0a2.8 2.8 0 1 0 -5.6 0M461.7 618.5a2.8 2.8 0 1 0 5.6 0a2.8 2.8 0 1 0 -5.6 0M501 627.7a2.8 2.8 0 1 0 5.6 0a2.8 2.8 0 1 0 -5.6 0M540.3 637.8a2.8 2.8 0 1 0 5.6 0a2.8 2.8 0 1 0 -5.6 0M579.6 645.8a2.8 2.8 0 1 0 5.6 0a2.8 2.8 0 1 0 -5.6 0M618.9 654.1a2.8 2.8 0 1 0 5.6 0a2.8 2.8 0 1 0 -5.6 0M658.2 662.6a2.8 2.8 0 1 0 5.6 0a2.8 2.8 0 1 0 -5.6 0M697.5 673a2.8 2.8 0 1 0 5.6 0a2.8 2.8 0 1 0 -5.6 0M736.7 685.6a2.8 2.8 0 1 0 5.6 0a2.8 2.8 0 1 0 -5.6 0M776 705.2a2.8 2.8 0 1 0 5.6 0a2.8 2.8 0 1 0 -5.6 0"/>
<path d="M114.7 596.6h5v5h-5zM154 604.4h5v5h-5zM193.3 612.8h5v5h-5zM232.6 622h5v5h-5zM271.9 633.2h5v5h-5zM311.2 642.1h5v5h-5zM350.4 647.7h5v5h-5zM389.7 654.7h5v5h-5zM429 662.1h5v5h-5zM468.3 669.8h5v5h-5zM507.6 676.3h5v5h-5zM546.9 682.7h5v5h-5zM586.2 690.1h5v5h-5zM625.5 697.3h5v5h-5zM664.8 703.8h5v5h-5zM704.1 711.4h5v5h-5zM743.3 720.6h5v5h-5zM782.6 734.1h5v5h-5z"/>
<path d="M120 603.1l3.5 -3.5 3.5 3.5 -3.5 3.5zM159.3 613.1l3.5 -3.5 3.5 3.5 -3.5 3.5zM198.5 623.2l3.5 -3.5 3.5 3.5 -3.5 3.5zM237.8 632.2l3.5 -3.5 3.5 3.5 -3.5 3.5zM277.1 641.1l3.5 -3.5 3.5 3.5 -3.5 3.5zM316.4 649.4l3.5 -3.5 3.5 3.5 -3.5 3.5zM355.7 657.4l3.5 -3.5 3.5 3.5 -3.5 3.5zM395 664.6l3.5 -3.5 3.5 3.5 -3.5 3.5zM434.3 671.4l3.5 -3.5 3.5 3.5 -3.5 3.5zM473.6 677l3.5 -3.5 3.5 3.5 -3.5 3.5zM512.9 683.1l3.5 -3.5 3.5 3.5 -3.5 3.5zM552.2 691.8l3.5 -3.5 3.5 3.5 -3.5 3.5zM591.4 698.6l3.5 -3.5 3.5 3.5 -3.5 3.5zM630.7 704.5l3.5 -3.5 3.5 3.5 -3.5 3.5zM670 711.6l3.5 -3.5 3.5 3.5 -3.5 3.5zM709.3 719.4l3.5 -3.5 3.5 3.5 -3.5 3.5zM748.6 726.9l3.5 -3.5 3.5 3.5 -3.5 3.5zM787.9 735.9l3.5 -3.5 3.5 3.5 -3.5 3.5z"/>
<path d="M129.8 573.6l3.8 6.5h-7.5zM169.1 584.1l3.8 6.5h-7.5zM208.3 594.2l3.8 6.5h-7.5zM247.6 604.9l3.8 6.5h-7.5zM286.9 616.4l3.8 6.5h-7.5zM326.2 626.8l3.8 6.5h-7.5zM365.5 635.3l3.8 6.5h-7.5zM404.8 643.3l3.8 6.5h-7.5zM444.1 650.6l3.8 6.5h-7.5zM483.4 657.4l3.8 6.5h-7.5zM522.7 663.9l3.8 6.5h-7.5zM562 671.2l3.8 6.5h-7.5zM601.2 679.3l3.8 6.5h-7.5zM640.5 686.3l3.8 6.5h-7.5zM679.8 693.1l3.8 6.5h-7.5zM719.1 699.8l3.8 6.5h-7.5zM758.4 706.8l3.8 6.5h-7.5zM797.7 718.3l3.8 6.5h-7.5z"/>
</g>
<g fill="none" stroke="#ff6ba1" stroke-width="1.45" stroke-linejoin="round">
<path d="M95.5 569.7l5.6 5.6m0 -5.6l-5.6 5.6M94.4 572.5h7.9M98.3 568.6v7.9M134.8 578.8l5.6 5.6m0 -5.6l-5.6 5.6M133.7 581.6h7.9M137.6 577.6v7.9M174.1 588l5.6 5.6m0 -5.6l-5.6 5.6M172.9 590.8h7.9M176.9 586.9v7.9M213.4 595.8l5.6 5.6m0 -5.6l-5.6 5.6M212.2 598.6h7.9M216.2 594.7v7.9M252.7 602.2l5.6 5.6m0 -5.6l-5.6 5.6M251.5 605h7.9M255.5 601.1v7.9M292 610.1l5.6 5.6m0 -5.6l-5.6 5.6M290.8 612.9h7.9M294.8 608.9v7.9M331.3 616.1l5.6 5.6m0 -5.6l-5.6 5.6M330.1 618.9h7.9M334.1 614.9v7.9M370.6 622.3l5.6 5.6m0 -5.6l-5.6 5.6M369.4 625.1h7.9M373.4 621.1v7.9M409.8 628.5l5.6 5.6m0 -5.6l-5.6 5.6M408.7 631.3h7.9M412.6 627.4v7.9M449.1 633.9l5.6 5.6m0 -5.6l-5.6 5.6M448 636.7h7.9M451.9 632.7v7.9M488.4 639.7l5.6 5.6m0 -5.6l-5.6 5.6M487.3 642.5h7.9M491.2 638.5v7.9M527.7 645.2l5.6 5.6m0 -5.6l-5.6 5.6M526.6 648h7.9M530.5 644v7.9M567 649.6l5.6 5.6m0 -5.6l-5.6 5.6M565.8 652.4h7.9M569.8 648.5v7.9M606.3 656.6l5.6 5.6m0 -5.6l-5.6 5.6M605.1 659.4h7.9M609.1 655.4v7.9M645.6 662.7l5.6 5.6m0 -5.6l-5.6 5.6M644.4 665.5h7.9M648.4 661.5v7.9M684.9 669.2l5.6 5.6m0 -5.6l-5.6 5.6M683.7 672h7.9M687.7 668.1v7.9M724.2 678l5.6 5.6m0 -5.6l-5.6 5.6M723 680.8h7.9M727 676.8v7.9M763.5 692.1l5.6 5.6m0 -5.6l-5.6 5.6M762.3 694.9h7.9M766.3 691v7.9"/>
<path d="M104.6 416.7l3.8 -6.5h-7.5zM143.9 425.9l3.8 -6.5h-7.5zM183.2 436.2l3.8 -6.5h-7.5zM222.5 448.6l3.8 -6.5h-7.5zM261.8 465.3l3.8 -6.5h-7.5zM301.1 482.2l3.8 -6.5h-7.5zM340.4 497.7l3.8 -6.5h-7.5zM379.6 509.1l3.8 -6.5h-7.5zM418.9 518.4l3.8 -6.5h-7.5zM458.2 527.1l3.8 -6.5h-7.5zM497.5 537.2l3.8 -6.5h-7.5zM536.8 548.9l3.8 -6.5h-7.5zM576.1 560.4l3.8 -6.5h-7.5zM615.4 570.5l3.8 -6.5h-7.5zM654.7 581.5l3.8 -6.5h-7.5zM694 597.1l3.8 -6.5h-7.5zM733.3 617l3.8 -6.5h-7.5zM772.5 652.9l3.8 -6.5h-7.5z"/>
<path d="M108.1 540a2.8 2.8 0 1 0 5.6 0a2.8 2.8 0 1 0 -5.6 0M147.4 550a2.8 2.8 0 1 0 5.6 0a2.8 2.8 0 1 0 -5.6 0M186.7 560.2a2.8 2.8 0 1 0 5.6 0a2.8 2.8 0 1 0 -5.6 0M226 569.1a2.8 2.8 0 1 0 5.6 0a2.8 2.8 0 1 0 -5.6 0M265.3 577.2a2.8 2.8 0 1 0 5.6 0a2.8 2.8 0 1 0 -5.6 0M304.6 586.2a2.8 2.8 0 1 0 5.6 0a2.8 2.8 0 1 0 -5.6 0M343.8 595.8a2.8 2.8 0 1 0 5.6 0a2.8 2.8 0 1 0 -5.6 0M383.1 603.8a2.8 2.8 0 1 0 5.6 0a2.8 2.8 0 1 0 -5.6 0M422.4 611.6a2.8 2.8 0 1 0 5.6 0a2.8 2.8 0 1 0 -5.6 0M461.7 618.7a2.8 2.8 0 1 0 5.6 0a2.8 2.8 0 1 0 -5.6 0M501 627.8a2.8 2.8 0 1 0 5.6 0a2.8 2.8 0 1 0 -5.6 0M540.3 637.9a2.8 2.8 0 1 0 5.6 0a2.8 2.8 0 1 0 -5.6 0M579.6 646.3a2.8 2.8 0 1 0 5.6 0a2.8 2.8 0 1 0 -5.6 0M618.9 654.5a2.8 2.8 0 1 0 5.6 0a2.8 2.8 0 1 0 -5.6 0M658.2 662.4a2.8 2.8 0 1 0 5.6 0a2.8 2.8 0 1 0 -5.6 0M697.5 672.7a2.8 2.8 0 1 0 5.6 0a2.8 2.8 0 1 0 -5.6 0M736.7 685.3a2.8 2.8 0 1 0 5.6 0a2.8 2.8 0 1 0 -5.6 0M776 705.1a2.8 2.8 0 1 0 5.6 0a2.8 2.8 0 1 0 -5.6 0"/>
<path d="M114.7 596.5h5v5h-5zM154 604.2h5v5h-5zM193.3 612.6h5v5h-5zM232.6 621.9h5v5h-5zM271.9 633.2h5v5h-5zM311.2 642h5v5h-5zM350.4 647.8h5v5h-5zM389.7 654.8h5v5h-5zM429 662.3h5v5h-5zM468.3 669.9h5v5h-5zM507.6 676.4h5v5h-5zM546.9 682.8h5v5h-5zM586.2 690.2h5v5h-5zM625.5 697.3h5v5h-5zM664.8 703.9h5v5h-5zM704.1 711.3h5v5h-5zM743.3 720.5h5v5h-5zM782.6 734.1h5v5h-5z"/>
<path d="M120 602.9l3.5 -3.5 3.5 3.5 -3.5 3.5zM159.3 612.9l3.5 -3.5 3.5 3.5 -3.5 3.5zM198.5 623.1l3.5 -3.5 3.5 3.5 -3.5 3.5zM237.8 632.1l3.5 -3.5 3.5 3.5 -3.5 3.5zM277.1 641.1l3.5 -3.5 3.5 3.5 -3.5 3.5zM316.4 649.4l3.5 -3.5 3.5 3.5 -3.5 3.5zM355.7 657.4l3.5 -3.5 3.5 3.5 -3.5 3.5zM395 664.6l3.5 -3.5 3.5 3.5 -3.5 3.5zM434.3 671.4l3.5 -3.5 3.5 3.5 -3.5 3.5zM473.6 676.9l3.5 -3.5 3.5 3.5 -3.5 3.5zM512.9 683.1l3.5 -3.5 3.5 3.5 -3.5 3.5zM552.2 691.8l3.5 -3.5 3.5 3.5 -3.5 3.5zM591.4 698.6l3.5 -3.5 3.5 3.5 -3.5 3.5zM630.7 704.5l3.5 -3.5 3.5 3.5 -3.5 3.5zM670 711.5l3.5 -3.5 3.5 3.5 -3.5 3.5zM709.3 719.4l3.5 -3.5 3.5 3.5 -3.5 3.5zM748.6 726.9l3.5 -3.5 3.5 3.5 -3.5 3.5zM787.9 735.9l3.5 -3.5 3.5 3.5 -3.5 3.5z"/>
<path d="M129.8 573.4l3.8 6.5h-7.5zM169.1 583.9l3.8 6.5h-7.5zM208.3 594.1l3.8 6.5h-7.5zM247.6 604.8l3.8 6.5h-7.5zM286.9 616.2l3.8 6.5h-7.5zM326.2 626.8l3.8 6.5h-7.5zM365.5 635.2l3.8 6.5h-7.5zM404.8 643.3l3.8 6.5h-7.5zM444.1 650.5l3.8 6.5h-7.5zM483.4 657.3l3.8 6.5h-7.5zM522.7 663.9l3.8 6.5h-7.5zM562 671.4l3.8 6.5h-7.5zM601.2 679.5l3.8 6.5h-7.5zM640.5 686.5l3.8 6.5h-7.5zM679.8 693.3l3.8 6.5h-7.5zM719.1 700l3.8 6.5h-7.5zM758.4 706.9l3.8 6.5h-7.5zM797.7 718.5l3.8 6.5h-7.5z"/>
</g>
<g fill="none" stroke="#ff5c9d" stroke-width="1.45" stroke-linejoin="round">
<path d="M95.5 569.5l5.6 5.6m0 -5.6l-5.6 5.6M94.4 572.3h7.9M98.3 568.4v7.9M134.8 578.6l5.6 5.6m0 -5.6l-5.6 5.6M133.7 581.4h7.9M137.6 577.5v7.9M174.1 587.9l5.6 5.6m0 -5.6l-5.6 5.6M172.9 590.7h7.9M176.9 586.7v7.9M213.4 595.9l5.6 5.6m0 -5.6l-5.6 5.6M212.2 598.7h7.9M216.2 594.8v7.9M252.7 602.4l5.6 5.6m0 -5.6l-5.6 5.6M251.5 605.2h7.9M255.5 601.2v7.9M292 610.3l5.6 5.6m0 -5.6l-5.6 5.6M290.8 613.1h7.9M294.8 609.1v7.9M331.3 616.3l5.6 5.6m0 -5.6l-5.6 5.6M330.1 619.1h7.9M334.1 615.1v7.9M370.6 622.5l5.6 5.6m0 -5.6l-5.6 5.6M369.4 625.3h7.9M373.4 621.3v7.9M409.8 628.8l5.6 5.6m0 -5.6l-5.6 5.6M408.7 631.6h7.9M412.6 627.7v7.9M449.1 634.2l5.6 5.6m0 -5.6l-5.6 5.6M448 637h7.9M451.9 633v7.9M488.4 640l5.6 5.6m0 -5.6l-5.6 5.6M487.3 642.8h7.9M491.2 638.8v7.9M527.7 645.2l5.6 5.6m0 -5.6l-5.6 5.6M526.6 648h7.9M530.5 644v7.9M567 650.3l5.6 5.6m0 -5.6l-5.6 5.6M565.8 653.1h7.9M569.8 649.1v7.9M606.3 656.6l5.6 5.6m0 -5.6l-5.6 5.6M605.1 659.4h7.9M609.1 655.4v7.9M645.6 662.4l5.6 5.6m0 -5.6l-5.6 5.6M644.4 665.2h7.9M648.4 661.3v7.9M684.9 668.9l5.6 5.6m0 -5.6l-5.6 5.6M683.7 671.7h7.9M687.7 667.8v7.9M724.2 677.6l5.6 5.6m0 -5.6l-5.6 5.6M723 680.4h7.9M727 676.4v7.9M763.5 691.8l5.6 5.6m0 -5.6l-5.6 5.6M762.3 694.6h7.9M766.3 690.6v7.9"/>
<path d="M104.6 416l3.8 -6.5h-7.5zM143.9 425.4l3.8 -6.5h-7.5zM183.2 435.3l3.8 -6.5h-7.5zM222.5 447.7l3.8 -6.5h-7.5zM261.8 464.5l3.8 -6.5h-7.5zM301.1 481.3l3.8 -6.5h-7.5zM340.4 497.2l3.8 -6.5h-7.5zM379.6 508.7l3.8 -6.5h-7.5zM418.9 518.1l3.8 -6.5h-7.5zM458.2 526.8l3.8 -6.5h-7.5zM497.5 536.9l3.8 -6.5h-7.5zM536.8 548.4l3.8 -6.5h-7.5zM576.1 559.9l3.8 -6.5h-7.5zM615.4 570l3.8 -6.5h-7.5zM654.7 580.7l3.8 -6.5h-7.5zM694 596.2l3.8 -6.5h-7.5zM733.3 616l3.8 -6.5h-7.5zM772.5 652.2l3.8 -6.5h-7.5z"/>
<path d="M108.1 539.8a2.8 2.8 0 1 0 5.6 0a2.8 2.8 0 1 0 -5.6 0M147.4 549.9a2.8 2.8 0 1 0 5.6 0a2.8 2.8 0 1 0 -5.6 0M186.7 560.1a2.8 2.8 0 1 0 5.6 0a2.8 2.8 0 1 0 -5.6 0M226 569a2.8 2.8 0 1 0 5.6 0a2.8 2.8 0 1 0 -5.6 0M265.3 577.1a2.8 2.8 0 1 0 5.6 0a2.8 2.8 0 1 0 -5.6 0M304.6 586.3a2.8 2.8 0 1 0 5.6 0a2.8 2.8 0 1 0 -5.6 0M343.8 595.9a2.8 2.8 0 1 0 5.6 0a2.8 2.8 0 1 0 -5.6 0M383.1 604.4a2.8 2.8 0 1 0 5.6 0a2.8 2.8 0 1 0 -5.6 0M422.4 611.7a2.8 2.8 0 1 0 5.6 0a2.8 2.8 0 1 0 -5.6 0M461.7 618.8a2.8 2.8 0 1 0 5.6 0a2.8 2.8 0 1 0 -5.6 0M501 627.9a2.8 2.8 0 1 0 5.6 0a2.8 2.8 0 1 0 -5.6 0M540.3 638.1a2.8 2.8 0 1 0 5.6 0a2.8 2.8 0 1 0 -5.6 0M579.6 646.7a2.8 2.8 0 1 0 5.6 0a2.8 2.8 0 1 0 -5.6 0M618.9 654.9a2.8 2.8 0 1 0 5.6 0a2.8 2.8 0 1 0 -5.6 0M658.2 662.2a2.8 2.8 0 1 0 5.6 0a2.8 2.8 0 1 0 -5.6 0M697.5 672.5a2.8 2.8 0 1 0 5.6 0a2.8 2.8 0 1 0 -5.6 0M736.7 684.9a2.8 2.8 0 1 0 5.6 0a2.8 2.8 0 1 0 -5.6 0M776 704.9a2.8 2.8 0 1 0 5.6 0a2.8 2.8 0 1 0 -5.6 0"/>
<path d="M114.7 596.4h5v5h-5zM154 604h5v5h-5zM193.3 612.4h5v5h-5zM232.6 621.8h5v5h-5zM271.9 633.1h5v5h-5zM311.2 642h5v5h-5zM350.4 647.9h5v5h-5zM389.7 654.9h5v5h-5zM429 662.4h5v5h-5zM468.3 670h5v5h-5zM507.6 676.5h5v5h-5zM546.9 682.9h5v5h-5zM586.2 690.3h5v5h-5zM625.5 697.4h5v5h-5zM664.8 703.9h5v5h-5zM704.1 711.2h5v5h-5zM743.3 720.3h5v5h-5zM782.6 734h5v5h-5z"/>
<path d="M120 602.8l3.5 -3.5 3.5 3.5 -3.5 3.5zM159.3 612.7l3.5 -3.5 3.5 3.5 -3.5 3.5zM198.5 623l3.5 -3.5 3.5 3.5 -3.5 3.5zM237.8 632.1l3.5 -3.5 3.5 3.5 -3.5 3.5zM277.1 641l3.5 -3.5 3.5 3.5 -3.5 3.5zM316.4 649.3l3.5 -3.5 3.5 3.5 -3.5 3.5zM355.7 657.3l3.5 -3.5 3.5 3.5 -3.5 3.5zM395 664.6l3.5 -3.5 3.5 3.5 -3.5 3.5zM434.3 671.4l3.5 -3.5 3.5 3.5 -3.5 3.5zM473.6 676.9l3.5 -3.5 3.5 3.5 -3.5 3.5zM512.9 683.1l3.5 -3.5 3.5 3.5 -3.5 3.5zM552.2 691.8l3.5 -3.5 3.5 3.5 -3.5 3.5zM591.4 698.6l3.5 -3.5 3.5 3.5 -3.5 3.5zM630.7 704.5l3.5 -3.5 3.5 3.5 -3.5 3.5zM670 711.5l3.5 -3.5 3.5 3.5 -3.5 3.5zM709.3 719.4l3.5 -3.5 3.5 3.5 -3.5 3.5zM748.6 726.9l3.5 -3.5 3.5 3.5 -3.5 3.5zM787.9 735.8l3.5 -3.5 3.5 3.5 -3.5 3.5z"/>
<path d="M129.8 573.2l3.8 6.5h-7.5zM169.1 583.7l3.8 6.5h-7.5zM208.3 593.9l3.8 6.5h-7.5zM247.6 604.7l3.8 6.5h-7.5zM286.9 616.1l3.8 6.5h-7.5zM326.2 626.7l3.8 6.5h-7.5zM365.5 635.2l3.8 6.5h-7.5zM404.8 643.2l3.8 6.5h-7.5zM444.1 650.5l3.8 6.5h-7.5zM483.4 657.3l3.8 6.5h-7.5zM522.7 663.9l3.8 6.5h-7.5zM562 671.6l3.8 6.5h-7.5zM601.2 679.7l3.8 6.5h-7.5zM640.5 686.7l3.8 6.5h-7.5zM679.8 693.5l3.8 6.5h-7.5zM719.1 700.3l3.8 6.5h-7.5zM758.4 707.1l3.8 6.5h-7.5zM797.7 718.6l3.8 6.5h-7.5z"/>
</g>
<g fill="none" stroke="#ff4b9a" stroke-width="1.45" stroke-linejoin="round">
<path d="M95.5 569.3l5.6 5.6m0 -5.6l-5.6 5.6M94.4 572.1h7.9M98.3 568.2v7.9M134.8 578.4l5.6 5.6m0 -5.6l-5.6 5.6M133.7 581.2h7.9M137.6 577.3v7.9M174.1 587.7l5.6 5.6m0 -5.6l-5.6 5.6M172.9 590.5h7.9M176.9 586.6v7.9M213.4 596l5.6 5.6m0 -5.6l-5.6 5.6M212.2 598.8h7.9M216.2 594.9v7.9M252.7 602.5l5.6 5.6m0 -5.6l-5.6 5.6M251.5 605.3h7.9M255.5 601.3v7.9M292 610.5l5.6 5.6m0 -5.6l-5.6 5.6M290.8 613.3h7.9M294.8 609.3v7.9M331.3 616.5l5.6 5.6m0 -5.6l-5.6 5.6M330.1 619.3h7.9M334.1 615.4v7.9M370.6 622.7l5.6 5.6m0 -5.6l-5.6 5.6M369.4 625.5h7.9M373.4 621.6v7.9M409.8 629.2l5.6 5.6m0 -5.6l-5.6 5.6M408.7 632h7.9M412.6 628v7.9M449.1 634.5l5.6 5.6m0 -5.6l-5.6 5.6M448 637.3h7.9M451.9 633.3v7.9M488.4 640.3l5.6 5.6m0 -5.6l-5.6 5.6M487.3 643.1h7.9M491.2 639.1v7.9M527.7 645.2l5.6 5.6m0 -5.6l-5.6 5.6M526.6 648h7.9M530.5 644.1v7.9M567 650.9l5.6 5.6m0 -5.6l-5.6 5.6M565.8 653.7h7.9M569.8 649.7v7.9M606.3 656.6l5.6 5.6m0 -5.6l-5.6 5.6M605.1 659.4h7.9M609.1 655.4v7.9M645.6 662.2l5.6 5.6m0 -5.6l-5.6 5.6M644.4 665h7.9M648.4 661v7.9M684.9 668.6l5.6 5.6m0 -5.6l-5.6 5.6M683.7 671.4h7.9M687.7 667.5v7.9M724.2 677.2l5.6 5.6m0 -5.6l-5.6 5.6M723 680h7.9M727 676v7.9M763.5 691.4l5.6 5.6m0 -5.6l-5.6 5.6M762.3 694.2h7.9M766.3 690.2v7.9"/>
<path d="M104.6 415.3l3.8 -6.5h-7.5zM143.9 424.9l3.8 -6.5h-7.5zM183.2 434.4l3.8 -6.5h-7.5zM222.5 446.8l3.8 -6.5h-7.5zM261.8 463.6l3.8 -6.5h-7.5zM301.1 480.4l3.8 -6.5h-7.5zM340.4 496.6l3.8 -6.5h-7.5zM379.6 508.3l3.8 -6.5h-7.5zM418.9 517.7l3.8 -6.5h-7.5zM458.2 526.6l3.8 -6.5h-7.5zM497.5 536.6l3.8 -6.5h-7.5zM536.8 547.9l3.8 -6.5h-7.5zM576.1 559.4l3.8 -6.5h-7.5zM615.4 569.5l3.8 -6.5h-7.5zM654.7 580l3.8 -6.5h-7.5zM694 595.3l3.8 -6.5h-7.5zM733.3 615.1l3.8 -6.5h-7.5zM772.5 651.5l3.8 -6.5h-7.5z"/>
<path d="M108.1 539.6a2.8 2.8 0 1 0 5.6 0a2.8 2.8 0 1 0 -5.6 0M147.4 549.8a2.8 2.8 0 1 0 5.6 0a2.8 2.8 0 1 0 -5.6 0M186.7 560a2.8 2.8 0 1 0 5.6 0a2.8 2.8 0 1 0 -5.6 0M226 568.9a2.8 2.8 0 1 0 5.6 0a2.8 2.8 0 1 0 -5.6 0M265.3 577a2.8 2.8 0 1 0 5.6 0a2.8 2.8 0 1 0 -5.6 0M304.6 586.4a2.8 2.8 0 1 0 5.6 0a2.8 2.8 0 1 0 -5.6 0M343.8 596a2.8 2.8 0 1 0 5.6 0a2.8 2.8 0 1 0 -5.6 0M383.1 605a2.8 2.8 0 1 0 5.6 0a2.8 2.8 0 1 0 -5.6 0M422.4 611.9a2.8 2.8 0 1 0 5.6 0a2.8 2.8 0 1 0 -5.6 0M461.7 618.9a2.8 2.8 0 1 0 5.6 0a2.8 2.8 0 1 0 -5.6 0M501 628.1a2.8 2.8 0 1 0 5.6 0a2.8 2.8 0 1 0 -5.6 0M540.3 638.2a2.8 2.8 0 1 0 5.6 0a2.8 2.8 0 1 0 -5.6 0M579.6 647.2a2.8 2.8 0 1 0 5.6 0a2.8 2.8 0 1 0 -5.6 0M618.9 655.2a2.8 2.8 0 1 0 5.6 0a2.8 2.8 0 1 0 -5.6 0M658.2 662a2.8 2.8 0 1 0 5.6 0a2.8 2.8 0 1 0 -5.6 0M697.5 672.2a2.8 2.8 0 1 0 5.6 0a2.8 2.8 0 1 0 -5.6 0M736.7 684.5a2.8 2.8 0 1 0 5.6 0a2.8 2.8 0 1 0 -5.6 0M776 704.8a2.8 2.8 0 1 0 5.6 0a2.8 2.8 0 1 0 -5.6 0"/>
<path d="M114.7 596.3h5v5h-5zM154 603.9h5v5h-5zM193.3 612.2h5v5h-5zM232.6 621.7h5v5h-5zM271.9 633h5v5h-5zM311.2 641.9h5v5h-5zM350.4 648h5v5h-5zM389.7 655h5v5h-5zM429 662.6h5v5h-5zM468.3 670.1h5v5h-5zM507.6 676.6h5v5h-5zM546.9 683h5v5h-5zM586.2 690.5h5v5h-5zM625.5 697.4h5v5h-5zM664.8 704h5v5h-5zM704.1 711.1h5v5h-5zM743.3 720.2h5v5h-5zM782.6 734h5v5h-5z"/>
<path d="M120 602.6l3.5 -3.5 3.5 3.5 -3.5 3.5zM159.3 612.5l3.5 -3.5 3.5 3.5 -3.5 3.5zM198.5 622.8l3.5 -3.5 3.5 3.5 -3.5 3.5zM237.8 632l3.5 -3.5 3.5 3.5 -3.5 3.5zM277.1 641l3.5 -3.5 3.5 3.5 -3.5 3.5zM316.4 649.3l3.5 -3.5 3.5 3.5 -3.5 3.5zM355.7 657.3l3.5 -3.5 3.5 3.5 -3.5 3.5zM395 664.5l3.5 -3.5 3.5 3.5 -3.5 3.5zM434.3 671.3l3.5 -3.5 3.5 3.5 -3.5 3.5zM473.6 676.9l3.5 -3.5 3.5 3.5 -3.5 3.5zM512.9 683l3.5 -3.5 3.5 3.5 -3.5 3.5zM552.2 691.7l3.5 -3.5 3.5 3.5 -3.5 3.5zM591.4 698.5l3.5 -3.5 3.5 3.5 -3.5 3.5zM630.7 704.5l3.5 -3.5 3.5 3.5 -3.5 3.5zM670 711.5l3.5 -3.5 3.5 3.5 -3.5 3.5zM709.3 719.4l3.5 -3.5 3.5 3.5 -3.5 3.5zM748.6 726.9l3.5 -3.5 3.5 3.5 -3.5 3.5zM787.9 735.8l3.5 -3.5 3.5 3.5 -3.5 3.5z"/>
<path d="M129.8 572.9l3.8 6.5h-7.5zM169.1 583.5l3.8 6.5h-7.5zM208.3 593.8l3.8 6.5h-7.5zM247.6 604.6l3.8 6.5h-7.5zM286.9 616l3.8 6.5h-7.5zM326.2 626.7l3.8 6.5h-7.5zM365.5 635.1l3.8 6.5h-7.5zM404.8 643.2l3.8 6.5h-7.5zM444.1 650.4l3.8 6.5h-7.5zM483.4 657.2l3.8 6.5h-7.5zM522.7 663.9l3.8 6.5h-7.5zM562 671.7l3.8 6.5h-7.5zM601.2 679.9l3.8 6.5h-7.5zM640.5 686.9l3.8 6.5h-7.5zM679.8 693.8l3.8 6.5h-7.5zM719.1 700.5l3.8 6.5h-7.5zM758.4 707.3l3.8 6.5h-7.5zM797.7 718.8l3.8 6.5h-7.5z"/>
</g>
<g fill="none" stroke="#ff3696" stroke-width="1.45" stroke-linejoin="round">
<path d="M95.5 569.2l5.6 5.6m0 -5.6l-5.6 5.6M94.4 572h7.9M98.3 568v7.9M134.8 578.3l5.6 5.6m0 -5.6l-5.6 5.6M133.7 581.1h7.9M137.6 577.1v7.9M174.1 587.6l5.6 5.6m0 -5.6l-5.6 5.6M172.9 590.4h7.9M176.9 586.4v7.9M213.4 596.1l5.6 5.6m0 -5.6l-5.6 5.6M212.2 598.9h7.9M216.2 594.9v7.9M252.7 602.6l5.6 5.6m0 -5.6l-5.6 5.6M251.5 605.4h7.9M255.5 601.5v7.9M292 610.7l5.6 5.6m0 -5.6l-5.6 5.6M290.8 613.5h7.9M294.8 609.5v7.9M331.3 616.8l5.6 5.6m0 -5.6l-5.6 5.6M330.1 619.6h7.9M334.1 615.6v7.9M370.6 623l5.6 5.6m0 -5.6l-5.6 5.6M369.4 625.8h7.9M373.4 621.8v7.9M409.8 629.5l5.6 5.6m0 -5.6l-5.6 5.6M408.7 632.3h7.9M412.6 628.3v7.9M449.1 634.8l5.6 5.6m0 -5.6l-5.6 5.6M448 637.6h7.9M451.9 633.6v7.9M488.4 640.6l5.6 5.6m0 -5.6l-5.6 5.6M487.3 643.4h7.9M491.2 639.4v7.9M527.7 645.3l5.6 5.6m0 -5.6l-5.6 5.6M526.6 648.1h7.9M530.5 644.1v7.9M567 651.5l5.6 5.6m0 -5.6l-5.6 5.6M565.8 654.3h7.9M569.8 650.3v7.9M606.3 656.6l5.6 5.6m0 -5.6l-5.6 5.6M605.1 659.4h7.9M609.1 655.4v7.9M645.6 661.9l5.6 5.6m0 -5.6l-5.6 5.6M644.4 664.7h7.9M648.4 660.8v7.9M684.9 668.4l5.6 5.6m0 -5.6l-5.6 5.6M683.7 671.2h7.9M687.7 667.2v7.9M724.2 676.8l5.6 5.6m0 -5.6l-5.6 5.6M723 679.6h7.9M727 675.6v7.9M763.5 691l5.6 5.6m0 -5.6l-5.6 5.6M762.3 693.8h7.9M766.3 689.8v7.9"/>
<path d="M104.6 414.6l3.8 -6.5h-7.5zM143.9 424.4l3.8 -6.5h-7.5zM183.2 433.5l3.8 -6.5h-7.5zM222.5 445.8l3.8 -6.5h-7.5zM261.8 462.8l3.8 -6.5h-7.5zM301.1 479.4l3.8 -6.5h-7.5zM340.4 496.1l3.8 -6.5h-7.5zM379.6 507.9l3.8 -6.5h-7.5zM418.9 517.4l3.8 -6.5h-7.5zM458.2 526.4l3.8 -6.5h-7.5zM497.5 536.2l3.8 -6.5h-7.5zM536.8 547.5l3.8 -6.5h-7.5zM576.1 558.8l3.8 -6.5h-7.5zM615.4 569l3.8 -6.5h-7.5zM654.7 579.2l3.8 -6.5h-7.5zM694 594.4l3.8 -6.5h-7.5zM733.3 614.1l3.8 -6.5h-7.5zM772.5 650.8l3.8 -6.5h-7.5z"/>
<path d="M108.1 539.4a2.8 2.8 0 1 0 5.6 0a2.8 2.8 0 1 0 -5.6 0M147.4 549.7a2.8 2.8 0 1 0 5.6 0a2.8 2.8 0 1 0 -5.6 0M186.7 559.9a2.8 2.8 0 1 0 5.6 0a2.8 2.8 0 1 0 -5.6 0M226 568.9a2.8 2.8 0 1 0 5.6 0a2.8 2.8 0 1 0 -5.6 0M265.3 576.9a2.8 2.8 0 1 0 5.6 0a2.8 2.8 0 1 0 -5.6 0M304.6 586.5a2.8 2.8 0 1 0 5.6 0a2.8 2.8 0 1 0 -5.6 0M343.8 596.1a2.8 2.8 0 1 0 5.6 0a2.8 2.8 0 1 0 -5.6 0M383.1 605.6a2.8 2.8 0 1 0 5.6 0a2.8 2.8 0 1 0 -5.6 0M422.4 612a2.8 2.8 0 1 0 5.6 0a2.8 2.8 0 1 0 -5.6 0M461.7 619.1a2.8 2.8 0 1 0 5.6 0a2.8 2.8 0 1 0 -5.6 0M501 628.2a2.8 2.8 0 1 0 5.6 0a2.8 2.8 0 1 0 -5.6 0M540.3 638.4a2.8 2.8 0 1 0 5.6 0a2.8 2.8 0 1 0 -5.6 0M579.6 647.7a2.8 2.8 0 1 0 5.6 0a2.8 2.8 0 1 0 -5.6 0M618.9 655.6a2.8 2.8 0 1 0 5.6 0a2.8 2.8 0 1 0 -5.6 0M658.2 661.7a2.8 2.8 0 1 0 5.6 0a2.8 2.8 0 1 0 -5.6 0M697.5 672a2.8 2.8 0 1 0 5.6 0a2.8 2.8 0 1 0 -5.6 0M736.7 684.2a2.8 2.8 0 1 0 5.6 0a2.8 2.8 0 1 0 -5.6 0M776 704.6a2.8 2.8 0 1 0 5.6 0a2.8 2.8 0 1 0 -5.6 0"/>
<path d="M114.7 596.2h5v5h-5zM154 603.7h5v5h-5zM193.3 612h5v5h-5zM232.6 621.7h5v5h-5zM271.9 632.9h5v5h-5zM311.2 641.9h5v5h-5zM350.4 648.1h5v5h-5zM389.7 655.1h5v5h-5zM429 662.7h5v5h-5zM468.3 670.2h5v5h-5zM507.6 676.8h5v5h-5zM546.9 683.2h5v5h-5zM586.2 690.6h5v5h-5zM625.5 697.5h5v5h-5zM664.8 704.1h5v5h-5zM704.1 711h5v5h-5zM743.3 720h5v5h-5zM782.6 733.9h5v5h-5z"/>
<path d="M120 602.4l3.5 -3.5 3.5 3.5 -3.5 3.5zM159.3 612.4l3.5 -3.5 3.5 3.5 -3.5 3.5zM198.5 622.7l3.5 -3.5 3.5 3.5 -3.5 3.5zM237.8 632l3.5 -3.5 3.5 3.5 -3.5 3.5zM277.1 640.9l3.5 -3.5 3.5 3.5 -3.5 3.5zM316.4 649.2l3.5 -3.5 3.5 3.5 -3.5 3.5zM355.7 657.3l3.5 -3.5 3.5 3.5 -3.5 3.5zM395 664.5l3.5 -3.5 3.5 3.5 -3.5 3.5zM434.3 671.3l3.5 -3.5 3.5 3.5 -3.5 3.5zM473.6 676.9l3.5 -3.5 3.5 3.5 -3.5 3.5zM512.9 683l3.5 -3.5 3.5 3.5 -3.5 3.5zM552.2 691.7l3.5 -3.5 3.5 3.5 -3.5 3.5zM591.4 698.5l3.5 -3.5 3.5 3.5 -3.5 3.5zM630.7 704.5l3.5 -3.5 3.5 3.5 -3.5 3.5zM670 711.5l3.5 -3.5 3.5 3.5 -3.5 3.5zM709.3 719.4l3.5 -3.5 3.5 3.5 -3.5 3.5zM748.6 726.8l3.5 -3.5 3.5 3.5 -3.5 3.5zM787.9 735.8l3.5 -3.5 3.5 3.5 -3.5 3.5z"/>
<path d="M129.8 572.7l3.8 6.5h-7.5zM169.1 583.3l3.8 6.5h-7.5zM208.3 593.7l3.8 6.5h-7.5zM247.6 604.5l3.8 6.5h-7.5zM286.9 615.8l3.8 6.5h-7.5zM326.2 626.6l3.8 6.5h-7.5zM365.5 635.1l3.8 6.5h-7.5zM404.8 643.2l3.8 6.5h-7.5zM444.1 650.4l3.8 6.5h-7.5zM483.4 657.2l3.8 6.5h-7.5zM522.7 663.9l3.8 6.5h-7.5zM562 671.9l3.8 6.5h-7.5zM601.2 680.1l3.8 6.5h-7.5zM640.5 687.2l3.8 6.5h-7.5zM679.8 694l3.8 6.5h-7.5zM719.1 700.7l3.8 6.5h-7.5zM758.4 707.4l3.8 6.5h-7.5zM797.7 718.9l3.8 6.5h-7.5z"/>
</g>
<g fill="none" stroke="#ff1493" stroke-width="1.45" stroke-linejoin="round">
<path d="M95.5 569l5.6 5.6m0 -5.6l-5.6 5.6M94.4 571.8h7.9M98.3 567.8v7.9M134.8 578.1l5.6 5.6m0 -5.6l-5.6 5.6M133.7 580.9h7.9M137.6 577v7.9M174.1 587.5l5.6 5.6m0 -5.6l-5.6 5.6M172.9 590.3h7.9M176.9 586.3v7.9M213.4 596.2l5.6 5.6m0 -5.6l-5.6 5.6M212.2 599h7.9M216.2 595v7.9M252.7 602.8l5.6 5.6m0 -5.6l-5.6 5.6M251.5 605.6h7.9M255.5 601.6v7.9M292 610.9l5.6 5.6m0 -5.6l-5.6 5.6M290.8 613.7h7.9M294.8 609.7v7.9M331.3 617l5.6 5.6m0 -5.6l-5.6 5.6M330.1 619.8h7.9M334.1 615.9v7.9M370.6 623.2l5.6 5.6m0 -5.6l-5.6 5.6M369.4 626h7.9M373.4 622v7.9M409.8 629.8l5.6 5.6m0 -5.6l-5.6 5.6M408.7 632.6h7.9M412.6 628.6v7.9M449.1 635.1l5.6 5.6m0 -5.6l-5.6 5.6M448 637.9h7.9M451.9 633.9v7.9M488.4 640.8l5.6 5.6m0 -5.6l-5.6 5.6M487.3 643.6h7.9M491.2 639.7v7.9M527.7 645.3l5.6 5.6m0 -5.6l-5.6 5.6M526.6 648.1h7.9M530.5 644.2v7.9M567 652.1l5.6 5.6m0 -5.6l-5.6 5.6M565.8 654.9h7.9M569.8 651v7.9M606.3 656.6l5.6 5.6m0 -5.6l-5.6 5.6M605.1 659.4h7.9M609.1 655.4v7.9M645.6 661.7l5.6 5.6m0 -5.6l-5.6 5.6M644.4 664.5h7.9M648.4 660.5v7.9M684.9 668.1l5.6 5.6m0 -5.6l-5.6 5.6M683.7 670.9h7.9M687.7 666.9v7.9M724.2 676.4l5.6 5.6m0 -5.6l-5.6 5.6M723 679.2h7.9M727 675.2v7.9M763.5 690.6l5.6 5.6m0 -5.6l-5.6 5.6M762.3 693.4h7.9M766.3 689.5v7.9"/>
<path d="M104.6 413.9l3.8 -6.5h-7.5zM143.9 423.8l3.8 -6.5h-7.5zM183.2 432.6l3.8 -6.5h-7.5zM222.5 444.9l3.8 -6.5h-7.5zM261.8 461.9l3.8 -6.5h-7.5zM301.1 478.5l3.8 -6.5h-7.5zM340.4 495.5l3.8 -6.5h-7.5zM379.6 507.4l3.8 -6.5h-7.5zM418.9 517l3.8 -6.5h-7.5zM458.2 526.1l3.8 -6.5h-7.5zM497.5 535.9l3.8 -6.5h-7.5zM536.8 547l3.8 -6.5h-7.5zM576.1 558.3l3.8 -6.5h-7.5zM615.4 568.5l3.8 -6.5h-7.5zM654.7 578.5l3.8 -6.5h-7.5zM694 593.6l3.8 -6.5h-7.5zM733.3 613.1l3.8 -6.5h-7.5zM772.5 650.1l3.8 -6.5h-7.5z"/>
<path d="M108.1 539.2a2.8 2.8 0 1 0 5.6 0a2.8 2.8 0 1 0 -5.6 0M147.4 549.6a2.8 2.8 0 1 0 5.6 0a2.8 2.8 0 1 0 -5.6 0M186.7 559.9a2.8 2.8 0 1 0 5.6 0a2.8 2.8 0 1 0 -5.6 0M226 568.8a2.8 2.8 0 1 0 5.6 0a2.8 2.8 0 1 0 -5.6 0M265.3 576.9a2.8 2.8 0 1 0 5.6 0a2.8 2.8 0 1 0 -5.6 0M304.6 586.7a2.8 2.8 0 1 0 5.6 0a2.8 2.8 0 1 0 -5.6 0M343.8 596.2a2.8 2.8 0 1 0 5.6 0a2.8 2.8 0 1 0 -5.6 0M383.1 606.2a2.8 2.8 0 1 0 5.6 0a2.8 2.8 0 1 0 -5.6 0M422.4 612.2a2.8 2.8 0 1 0 5.6 0a2.8 2.8 0 1 0 -5.6 0M461.7 619.2a2.8 2.8 0 1 0 5.6 0a2.8 2.8 0 1 0 -5.6 0M501 628.3a2.8 2.8 0 1 0 5.6 0a2.8 2.8 0 1 0 -5.6 0M540.3 638.5a2.8 2.8 0 1 0 5.6 0a2.8 2.8 0 1 0 -5.6 0M579.6 648.1a2.8 2.8 0 1 0 5.6 0a2.8 2.8 0 1 0 -5.6 0M618.9 656a2.8 2.8 0 1 0 5.6 0a2.8 2.8 0 1 0 -5.6 0M658.2 661.5a2.8 2.8 0 1 0 5.6 0a2.8 2.8 0 1 0 -5.6 0M697.5 671.7a2.8 2.8 0 1 0 5.6 0a2.8 2.8 0 1 0 -5.6 0M736.7 683.8a2.8 2.8 0 1 0 5.6 0a2.8 2.8 0 1 0 -5.6 0M776 704.5a2.8 2.8 0 1 0 5.6 0a2.8 2.8 0 1 0 -5.6 0"/>
<path d="M114.7 596.1h5v5h-5zM154 603.5h5v5h-5zM193.3 611.8h5v5h-5zM232.6 621.6h5v5h-5zM271.9 632.9h5v5h-5zM311.2 641.8h5v5h-5zM350.4 648.2h5v5h-5zM389.7 655.2h5v5h-5zM429 662.9h5v5h-5zM468.3 670.3h5v5h-5zM507.6 676.9h5v5h-5zM546.9 683.3h5v5h-5zM586.2 690.7h5v5h-5zM625.5 697.5h5v5h-5zM664.8 704.1h5v5h-5zM704.1 710.9h5v5h-5zM743.3 719.9h5v5h-5zM782.6 733.9h5v5h-5z"/>
<path d="M120 602.2l3.5 -3.5 3.5 3.5 -3.5 3.5zM159.3 612.2l3.5 -3.5 3.5 3.5 -3.5 3.5zM198.5 622.6l3.5 -3.5 3.5 3.5 -3.5 3.5zM237.8 632l3.5 -3.5 3.5 3.5 -3.5 3.5zM277.1 640.9l3.5 -3.5 3.5 3.5 -3.5 3.5zM316.4 649.2l3.5 -3.5 3.5 3.5 -3.5 3.5zM355.7 657.3l3.5 -3.5 3.5 3.5 -3.5 3.5zM395 664.5l3.5 -3.5 3.5 3.5 -3.5 3.5zM434.3 671.3l3.5 -3.5 3.5 3.5 -3.5 3.5zM473.6 676.8l3.5 -3.5 3.5 3.5 -3.5 3.5zM512.9 683l3.5 -3.5 3.5 3.5 -3.5 3.5zM552.2 691.7l3.5 -3.5 3.5 3.5 -3.5 3.5zM591.4 698.5l3.5 -3.5 3.5 3.5 -3.5 3.5zM630.7 704.5l3.5 -3.5 3.5 3.5 -3.5 3.5zM670 711.5l3.5 -3.5 3.5 3.5 -3.5 3.5zM709.3 719.4l3.5 -3.5 3.5 3.5 -3.5 3.5zM748.6 726.8l3.5 -3.5 3.5 3.5 -3.5 3.5zM787.9 735.7l3.5 -3.5 3.5 3.5 -3.5 3.5z"/>
<path d="M129.8 572.5l3.8 6.5h-7.5zM169.1 583.1l3.8 6.5h-7.5zM208.3 593.6l3.8 6.5h-7.5zM247.6 604.4l3.8 6.5h-7.5zM286.9 615.7l3.8 6.5h-7.5zM326.2 626.5l3.8 6.5h-7.5zM365.5 635l3.8 6.5h-7.5zM404.8 643.1l3.8 6.5h-7.5zM444.1 650.4l3.8 6.5h-7.5zM483.4 657.2l3.8 6.5h-7.5zM522.7 664l3.8 6.5h-7.5zM562 672l3.8 6.5h-7.5zM601.2 680.3l3.8 6.5h-7.5zM640.5 687.4l3.8 6.5h-7.5zM679.8 694.2l3.8 6.5h-7.5zM719.1 701l3.8 6.5h-7.5zM758.4 707.6l3.8 6.5h-7.5zM797.7 719l3.8 6.5h-7.5z"/>
</g>
<path d="M89.31 976.34H94.51M91.91 976.34V983.65M89.31 983.65H94.51" stroke="#000000" stroke-width="2.2" fill="none"/>
<path d="M89.91 977.99L93.91 981.99M89.91 981.99L93.91 977.99M89.08 979.99L94.74 979.99M91.91 977.17L91.91 982.82" fill="none" stroke="#000000" stroke-width="1.1"/>
<path d="M95.93 893.55H101.13M98.53 893.55V923.26M95.93 923.26H101.13" stroke="#0000dd" stroke-width="2.2" fill="none"/>
<path d="M98.53 911.27L101.22 906.61L95.83 906.61Z" fill="none" stroke="#0000dd" stroke-width="1.1" stroke-linejoin="round"/>
<path d="M102.55 979.51H107.75M105.15 979.51V981.94M102.55 981.94H107.75" stroke="#ff1010" stroke-width="2.2" fill="none"/>
<circle cx="105.15" cy="980.72" r="2.00" fill="none" stroke="#ff1010" stroke-width="1.1"/>
<path d="M109.16 989.25H114.36M111.76 989.25V992.17M109.16 992.17H114.36" stroke="#ff8410" stroke-width="2.2" fill="none"/>
<rect x="109.99" y="988.94" width="3.54" height="3.54" fill="none" stroke="#ff8410" stroke-width="1.1"/>
<path d="M115.78 976.34H120.98M118.38 976.34V981.94M115.78 981.94H120.98" stroke="#9a2ee0" stroke-width="2.2" fill="none"/>
<path d="M115.88 979.02L118.38 976.51L120.89 979.02L118.38 981.53Z" fill="none" stroke="#9a2ee0" stroke-width="1.1" stroke-linejoin="round"/>
<path d="M122.40 981.70H127.60M125.00 981.70V984.62M122.40 984.62H127.60" stroke="#22cc22" stroke-width="2.2" fill="none"/>
<path d="M125.00 980.05L127.69 984.71L122.31 984.71Z" fill="none" stroke="#22cc22" stroke-width="1.1" stroke-linejoin="round"/>
<path d="M129.02 983.65H134.22M131.62 983.65V991.68M129.02 991.68H134.22" stroke="#000000" stroke-width="2.2" fill="none"/>
<path d="M129.62 986.27L133.62 990.27M129.62 990.27L133.62 986.27M128.79 988.27L134.45 988.27M131.62 985.44L131.62 991.10" fill="none" stroke="#000000" stroke-width="1.1"/>
<path d="M135.64 888.68H140.84M138.24 888.68V923.26M135.64 923.26H140.84" stroke="#0000dd" stroke-width="2.2" fill="none"/>
<path d="M138.24 908.59L140.93 903.93L135.54 903.93Z" fill="none" stroke="#0000dd" stroke-width="1.1" stroke-linejoin="round"/>
<path d="M142.26 990.46H147.46M144.86 990.46V992.90M142.26 992.90H147.46" stroke="#ff1010" stroke-width="2.2" fill="none"/>
<circle cx="144.86" cy="991.68" r="2.00" fill="none" stroke="#ff1010" stroke-width="1.1"/>
<path d="M148.87 984.86H154.07M151.47 984.86V988.76M148.87 988.76H154.07" stroke="#ff8410" stroke-width="2.2" fill="none"/>
<rect x="149.70" y="985.04" width="3.54" height="3.54" fill="none" stroke="#ff8410" stroke-width="1.1"/>
<path d="M155.49 986.08H160.69M158.09 986.08V990.95M155.49 990.95H160.69" stroke="#9a2ee0" stroke-width="2.2" fill="none"/>
<path d="M155.59 988.52L158.09 986.01L160.60 988.52L158.09 991.02Z" fill="none" stroke="#9a2ee0" stroke-width="1.1" stroke-linejoin="round"/>
<path d="M162.11 984.38H167.31M164.71 984.38V986.81M162.11 986.81H167.31" stroke="#22cc22" stroke-width="2.2" fill="none"/>
<path d="M164.71 982.48L167.40 987.15L162.02 987.15Z" fill="none" stroke="#22cc22" stroke-width="1.1" stroke-linejoin="round"/>
<path d="M168.73 993.87H173.93M171.33 993.87V998.74M168.73 998.74H173.93" stroke="#000000" stroke-width="2.2" fill="none"/>
<path d="M169.33 994.31L173.33 998.31M169.33 998.31L173.33 994.31M168.50 996.31L174.16 996.31M171.33 993.48L171.33 999.14" fill="none" stroke="#000000" stroke-width="1.1"/>
<path d="M175.35 890.87H180.55M177.95 890.87V925.94M175.35 925.94H180.55" stroke="#0000dd" stroke-width="2.2" fill="none"/>
<path d="M177.95 911.27L180.64 906.61L175.25 906.61Z" fill="none" stroke="#0000dd" stroke-width="1.1" stroke-linejoin="round"/>
<path d="M181.97 990.46H187.17M184.57 990.46V992.90M181.97 992.90H187.17" stroke="#ff1010" stroke-width="2.2" fill="none"/>
<circle cx="184.57" cy="991.68" r="2.00" fill="none" stroke="#ff1010" stroke-width="1.1"/>
<path d="M188.58 982.43H193.78M191.18 982.43V989.98M188.58 989.98H193.78" stroke="#ff8410" stroke-width="2.2" fill="none"/>
<rect x="189.41" y="984.55" width="3.54" height="3.54" fill="none" stroke="#ff8410" stroke-width="1.1"/>
<path d="M195.20 987.54H200.40M197.80 987.54V998.50M195.20 998.50H200.40" stroke="#9a2ee0" stroke-width="2.2" fill="none"/>
<path d="M195.30 992.41L197.80 989.91L200.31 992.41L197.80 994.92Z" fill="none" stroke="#9a2ee0" stroke-width="1.1" stroke-linejoin="round"/>
<path d="M201.82 992.41H207.02M204.42 992.41V994.85M201.82 994.85H207.02" stroke="#22cc22" stroke-width="2.2" fill="none"/>
<path d="M204.42 990.52L207.11 995.19L201.73 995.19Z" fill="none" stroke="#22cc22" stroke-width="1.1" stroke-linejoin="round"/>
<path d="M208.44 998.74H213.64M211.04 998.74V1003.61M208.44 1003.61H213.64" stroke="#000000" stroke-width="2.2" fill="none"/>
<path d="M209.04 999.18L213.04 1003.18M209.04 1003.18L213.04 999.18M208.21 1001.18L213.87 1001.18M211.04 998.35L211.04 1004.01" fill="none" stroke="#000000" stroke-width="1.1"/>
<path d="M215.06 901.10H220.26M217.66 901.10V935.92M215.06 935.92H220.26" stroke="#0000dd" stroke-width="2.2" fill="none"/>
<path d="M217.66 921.01L220.35 916.35L214.96 916.35Z" fill="none" stroke="#0000dd" stroke-width="1.1" stroke-linejoin="round"/>
<path d="M221.68 987.54H226.88M224.28 987.54V997.53M221.68 997.53H226.88" stroke="#ff1010" stroke-width="2.2" fill="none"/>
<circle cx="224.28" cy="993.14" r="2.00" fill="none" stroke="#ff1010" stroke-width="1.1"/>
<path d="M228.29 981.46H233.49M230.89 981.46V991.20M228.29 991.20H233.49" stroke="#ff8410" stroke-width="2.2" fill="none"/>
<rect x="229.12" y="984.55" width="3.54" height="3.54" fill="none" stroke="#ff8410" stroke-width="1.1"/>
<path d="M234.91 987.54H240.11M237.51 987.54V997.28M234.91 997.28H240.11" stroke="#9a2ee0" stroke-width="2.2" fill="none"/>
<path d="M235.01 992.41L237.51 989.91L240.02 992.41L237.51 994.92Z" fill="none" stroke="#9a2ee0" stroke-width="1.1" stroke-linejoin="round"/>
<path d="M241.53 992.41H246.73M244.13 992.41V994.85M241.53 994.85H246.73" stroke="#22cc22" stroke-width="2.2" fill="none"/>
<path d="M244.13 990.52L246.82 995.19L241.44 995.19Z" fill="none" stroke="#22cc22" stroke-width="1.1" stroke-linejoin="round"/>
<path d="M248.15 1003.37H253.35M250.75 1003.37V1011.41M248.15 1011.41H253.35" stroke="#000000" stroke-width="2.2" fill="none"/>
<path d="M248.75 1006.24L252.75 1010.24M248.75 1010.24L252.75 1006.24M247.92 1008.24L253.58 1008.24M250.75 1005.41L250.75 1011.07" fill="none" stroke="#000000" stroke-width="1.1"/>
<path d="M254.77 917.90H259.97M257.37 917.90V950.04M254.77 950.04H259.97" stroke="#0000dd" stroke-width="2.2" fill="none"/>
<path d="M257.37 937.81L260.06 933.15L254.67 933.15Z" fill="none" stroke="#0000dd" stroke-width="1.1" stroke-linejoin="round"/>
<path d="M261.39 992.41H266.59M263.99 992.41V1004.59M261.39 1004.59H266.59" stroke="#ff1010" stroke-width="2.2" fill="none"/>
<circle cx="263.99" cy="998.50" r="2.00" fill="none" stroke="#ff1010" stroke-width="1.1"/>
<path d="M268.00 987.54H273.20M270.60 987.54V998.50M268.00 998.50H273.20" stroke="#ff8410" stroke-width="2.2" fill="none"/>
<rect x="268.83" y="990.64" width="3.54" height="3.54" fill="none" stroke="#ff8410" stroke-width="1.1"/>
<path d="M274.62 989.73H279.82M277.22 989.73V1001.18M274.62 1001.18H279.82" stroke="#9a2ee0" stroke-width="2.2" fill="none"/>
<path d="M274.72 995.58L277.22 993.07L279.73 995.58L277.22 998.08Z" fill="none" stroke="#9a2ee0" stroke-width="1.1" stroke-linejoin="round"/>
<path d="M281.24 989.49H286.44M283.84 989.49V991.93M281.24 991.93H286.44" stroke="#22cc22" stroke-width="2.2" fill="none"/>
<path d="M283.84 987.60L286.53 992.26L281.15 992.26Z" fill="none" stroke="#22cc22" stroke-width="1.1" stroke-linejoin="round"/>
<path d="M287.86 1010.19H293.06M290.46 1010.19V1020.66M287.86 1020.66H293.06" stroke="#000000" stroke-width="2.2" fill="none"/>
<path d="M288.46 1014.03L292.46 1018.03M288.46 1018.03L292.46 1014.03M287.63 1016.03L293.29 1016.03M290.46 1013.20L290.46 1018.86" fill="none" stroke="#000000" stroke-width="1.1"/>
<path d="M294.48 933.00H299.68M297.08 933.00V959.78M294.48 959.78H299.68" stroke="#0000dd" stroke-width="2.2" fill="none"/>
<path d="M297.08 950.48L299.77 945.81L294.38 945.81Z" fill="none" stroke="#0000dd" stroke-width="1.1" stroke-linejoin="round"/>
<path d="M301.10 1000.20H306.30M303.70 1000.20V1010.67M301.10 1010.67H306.30" stroke="#ff1010" stroke-width="2.2" fill="none"/>
<circle cx="303.70" cy="1006.05" r="2.00" fill="none" stroke="#ff1010" stroke-width="1.1"/>
<path d="M307.71 999.72H312.91M310.31 999.72V1002.64M307.71 1002.64H312.91" stroke="#ff8410" stroke-width="2.2" fill="none"/>
<rect x="308.54" y="999.41" width="3.54" height="3.54" fill="none" stroke="#ff8410" stroke-width="1.1"/>
<path d="M314.33 999.96H319.53M316.93 999.96V1007.27M314.33 1007.27H319.53" stroke="#9a2ee0" stroke-width="2.2" fill="none"/>
<path d="M314.43 1003.61L316.93 1001.11L319.44 1003.61L316.93 1006.12Z" fill="none" stroke="#9a2ee0" stroke-width="1.1" stroke-linejoin="round"/>
<path d="M320.95 989.49H326.15M323.55 989.49V991.93M320.95 991.93H326.15" stroke="#22cc22" stroke-width="2.2" fill="none"/>
<path d="M323.55 987.60L326.24 992.26L320.86 992.26Z" fill="none" stroke="#22cc22" stroke-width="1.1" stroke-linejoin="round"/>
<path d="M327.57 1017.98H332.77M330.17 1017.98V1027.72M327.57 1027.72H332.77" stroke="#000000" stroke-width="2.2" fill="none"/>
<path d="M328.17 1021.34L332.17 1025.34M328.17 1025.34L332.17 1021.34M327.34 1023.34L333.00 1023.34M330.17 1020.51L330.17 1026.17" fill="none" stroke="#000000" stroke-width="1.1"/>
<path d="M334.19 944.69H339.39M336.79 944.69V960.03M334.19 960.03H339.39" stroke="#0000dd" stroke-width="2.2" fill="none"/>
<path d="M336.79 955.10L339.48 950.44L334.09 950.44Z" fill="none" stroke="#0000dd" stroke-width="1.1" stroke-linejoin="round"/>
<path d="M340.81 998.99H346.01M343.41 998.99V1011.16M340.81 1011.16H346.01" stroke="#ff1010" stroke-width="2.2" fill="none"/>
<circle cx="343.41" cy="1005.56" r="2.00" fill="none" stroke="#ff1010" stroke-width="1.1"/>
<path d="M347.42 999.96H352.62M350.02 999.96V1003.37M347.42 1003.37H352.62" stroke="#ff8410" stroke-width="2.2" fill="none"/>
<rect x="348.25" y="999.89" width="3.54" height="3.54" fill="none" stroke="#ff8410" stroke-width="1.1"/>
<path d="M354.04 1000.93H359.24M356.64 1000.93V1008.24M354.04 1008.24H359.24" stroke="#9a2ee0" stroke-width="2.2" fill="none"/>
<path d="M354.14 1004.59L356.64 1002.08L359.15 1004.59L356.64 1007.09Z" fill="none" stroke="#9a2ee0" stroke-width="1.1" stroke-linejoin="round"/>
<path d="M360.66 994.85H365.86M363.26 994.85V997.28M360.66 997.28H365.86" stroke="#22cc22" stroke-width="2.2" fill="none"/>
<path d="M363.26 992.95L365.95 997.62L360.57 997.62Z" fill="none" stroke="#22cc22" stroke-width="1.1" stroke-linejoin="round"/>
<path d="M367.28 1024.07H372.48M369.88 1024.07V1026.50M367.28 1026.50H372.48" stroke="#000000" stroke-width="2.2" fill="none"/>
<path d="M367.88 1023.29L371.88 1027.29M367.88 1027.29L371.88 1023.29M367.05 1025.29L372.71 1025.29M369.88 1022.46L369.88 1028.11" fill="none" stroke="#000000" stroke-width="1.1"/>
<path d="M373.90 937.38H379.10M376.50 937.38V957.59M373.90 957.59H379.10" stroke="#0000dd" stroke-width="2.2" fill="none"/>
<path d="M376.50 950.48L379.19 945.81L373.80 945.81Z" fill="none" stroke="#0000dd" stroke-width="1.1" stroke-linejoin="round"/>
<path d="M380.52 992.41H385.72M383.12 992.41V1007.51M380.52 1007.51H385.72" stroke="#ff1010" stroke-width="2.2" fill="none"/>
<circle cx="383.12" cy="1000.20" r="2.00" fill="none" stroke="#ff1010" stroke-width="1.1"/>
<path d="M387.13 1000.69H392.33M389.73 1000.69V1005.56M387.13 1005.56H392.33" stroke="#ff8410" stroke-width="2.2" fill="none"/>
<rect x="387.96" y="1001.35" width="3.54" height="3.54" fill="none" stroke="#ff8410" stroke-width="1.1"/>
<path d="M393.75 1001.42H398.95M396.35 1001.42V1008.73M393.75 1008.73H398.95" stroke="#9a2ee0" stroke-width="2.2" fill="none"/>
<path d="M393.85 1005.07L396.35 1002.57L398.86 1005.07L396.35 1007.58Z" fill="none" stroke="#9a2ee0" stroke-width="1.1" stroke-linejoin="round"/>
<path d="M400.37 997.77H405.57M402.97 997.77V1000.20M400.37 1000.20H405.57" stroke="#22cc22" stroke-width="2.2" fill="none"/>
<path d="M402.97 995.88L405.66 1000.54L400.28 1000.54Z" fill="none" stroke="#22cc22" stroke-width="1.1" stroke-linejoin="round"/>
<path d="M406.99 1025.29H412.19M409.59 1025.29V1035.03M406.99 1035.03H412.19" stroke="#000000" stroke-width="2.2" fill="none"/>
<path d="M407.59 1028.40L411.59 1032.40M407.59 1032.40L411.59 1028.40M406.76 1030.40L412.42 1030.40M409.59 1027.57L409.59 1033.23" fill="none" stroke="#000000" stroke-width="1.1"/>
<path d="M413.61 930.08H418.81M416.21 930.08V964.65M413.61 964.65H418.81" stroke="#0000dd" stroke-width="2.2" fill="none"/>
<path d="M416.21 950.48L418.90 945.81L413.51 945.81Z" fill="none" stroke="#0000dd" stroke-width="1.1" stroke-linejoin="round"/>
<path d="M420.23 991.20H425.43M422.83 991.20V1003.37M420.23 1003.37H425.43" stroke="#ff1010" stroke-width="2.2" fill="none"/>
<circle cx="422.83" cy="996.07" r="2.00" fill="none" stroke="#ff1010" stroke-width="1.1"/>
<path d="M426.84 1005.80H432.04M429.44 1005.80V1013.84M426.84 1013.84H432.04" stroke="#ff8410" stroke-width="2.2" fill="none"/>
<rect x="427.67" y="1007.93" width="3.54" height="3.54" fill="none" stroke="#ff8410" stroke-width="1.1"/>
<path d="M433.46 996.07H438.66M436.06 996.07V1004.59M433.46 1004.59H438.66" stroke="#9a2ee0" stroke-width="2.2" fill="none"/>
<path d="M433.56 1000.93L436.06 998.43L438.57 1000.93L436.06 1003.44Z" fill="none" stroke="#9a2ee0" stroke-width="1.1" stroke-linejoin="round"/>
<path d="M440.08 992.90H445.28M442.68 992.90V995.33M440.08 995.33H445.28" stroke="#22cc22" stroke-width="2.2" fill="none"/>
<path d="M442.68 991.01L445.37 995.67L439.99 995.67Z" fill="none" stroke="#22cc22" stroke-width="1.1" stroke-linejoin="round"/>
<path d="M446.70 1022.85H451.90M449.30 1022.85V1032.59M446.70 1032.59H451.90" stroke="#000000" stroke-width="2.2" fill="none"/>
<path d="M447.30 1025.72L451.30 1029.72M447.30 1029.72L451.30 1025.72M446.47 1027.72L452.13 1027.72M449.30 1024.89L449.30 1030.55" fill="none" stroke="#000000" stroke-width="1.1"/>
<path d="M453.32 930.08H458.52M455.92 930.08V969.52M453.32 969.52H458.52" stroke="#0000dd" stroke-width="2.2" fill="none"/>
<path d="M455.92 952.91L458.61 948.24L453.22 948.24Z" fill="none" stroke="#0000dd" stroke-width="1.1" stroke-linejoin="round"/>
<path d="M459.94 996.07H465.14M462.54 996.07V1011.16M459.94 1011.16H465.14" stroke="#ff1010" stroke-width="2.2" fill="none"/>
<circle cx="462.54" cy="1003.13" r="2.00" fill="none" stroke="#ff1010" stroke-width="1.1"/>
<path d="M466.55 1005.32H471.75M469.15 1005.32V1013.35M466.55 1013.35H471.75" stroke="#ff8410" stroke-width="2.2" fill="none"/>
<rect x="467.38" y="1007.69" width="3.54" height="3.54" fill="none" stroke="#ff8410" stroke-width="1.1"/>
<path d="M473.17 992.90H478.37M475.77 992.90V995.33M473.17 995.33H478.37" stroke="#9a2ee0" stroke-width="2.2" fill="none"/>
<path d="M473.27 994.12L475.77 991.61L478.28 994.12L475.77 996.62Z" fill="none" stroke="#9a2ee0" stroke-width="1.1" stroke-linejoin="round"/>
<path d="M479.79 992.90H484.99M482.39 992.90V995.33M479.79 995.33H484.99" stroke="#22cc22" stroke-width="2.2" fill="none"/>
<path d="M482.39 991.01L485.08 995.67L479.70 995.67Z" fill="none" stroke="#22cc22" stroke-width="1.1" stroke-linejoin="round"/>
<path d="M486.41 1020.41H491.61M489.01 1020.41V1032.59M486.41 1032.59H491.61" stroke="#000000" stroke-width="2.2" fill="none"/>
<path d="M487.01 1024.26L491.01 1028.26M487.01 1028.26L491.01 1024.26M486.18 1026.26L491.84 1026.26M489.01 1023.43L489.01 1029.09" fill="none" stroke="#000000" stroke-width="1.1"/>
<path d="M493.03 940.06H498.23M495.63 940.06V971.72M493.03 971.72H498.23" stroke="#0000dd" stroke-width="2.2" fill="none"/>
<path d="M495.63 957.54L498.32 952.87L492.93 952.87Z" fill="none" stroke="#0000dd" stroke-width="1.1" stroke-linejoin="round"/>
<path d="M499.65 1006.54H504.85M502.25 1006.54V1017.98M499.65 1017.98H504.85" stroke="#ff1010" stroke-width="2.2" fill="none"/>
<circle cx="502.25" cy="1013.11" r="2.00" fill="none" stroke="#ff1010" stroke-width="1.1"/>
<path d="M506.26 1010.67H511.46M508.86 1010.67V1015.54M506.26 1015.54H511.46" stroke="#ff8410" stroke-width="2.2" fill="none"/>
<rect x="507.09" y="1011.34" width="3.54" height="3.54" fill="none" stroke="#ff8410" stroke-width="1.1"/>
<path d="M512.88 999.72H518.08M515.48 999.72V1002.15M512.88 1002.15H518.08" stroke="#9a2ee0" stroke-width="2.2" fill="none"/>
<path d="M512.98 1000.93L515.48 998.43L517.99 1000.93L515.48 1003.44Z" fill="none" stroke="#9a2ee0" stroke-width="1.1" stroke-linejoin="round"/>
<path d="M519.50 994.85H524.70M522.10 994.85V997.28M519.50 997.28H524.70" stroke="#22cc22" stroke-width="2.2" fill="none"/>
<path d="M522.10 992.95L524.79 997.62L519.41 997.62Z" fill="none" stroke="#22cc22" stroke-width="1.1" stroke-linejoin="round"/>
<path d="M526.12 1010.67H531.32M528.72 1010.67V1017.98M526.12 1017.98H531.32" stroke="#000000" stroke-width="2.2" fill="none"/>
<path d="M526.72 1012.57L530.72 1016.57M526.72 1016.57L530.72 1012.57M525.89 1014.57L531.55 1014.57M528.72 1011.74L528.72 1017.40" fill="none" stroke="#000000" stroke-width="1.1"/>
<path d="M532.74 942.50H537.94M535.34 942.50V959.78M532.74 959.78H537.94" stroke="#0000dd" stroke-width="2.2" fill="none"/>
<path d="M535.34 955.10L538.03 950.44L532.64 950.44Z" fill="none" stroke="#0000dd" stroke-width="1.1" stroke-linejoin="round"/>
<path d="M539.36 1012.38H544.56M541.96 1012.38V1025.77M539.36 1025.77H544.56" stroke="#ff1010" stroke-width="2.2" fill="none"/>
<circle cx="541.96" cy="1017.49" r="2.00" fill="none" stroke="#ff1010" stroke-width="1.1"/>
<path d="M545.97 1011.89H551.17M548.57 1011.89V1014.33M545.97 1014.33H551.17" stroke="#ff8410" stroke-width="2.2" fill="none"/>
<rect x="546.80" y="1011.34" width="3.54" height="3.54" fill="none" stroke="#ff8410" stroke-width="1.1"/>
<path d="M552.59 1006.29H557.79M555.19 1006.29V1008.73M552.59 1008.73H557.79" stroke="#9a2ee0" stroke-width="2.2" fill="none"/>
<path d="M552.69 1007.51L555.19 1005.00L557.70 1007.51L555.19 1010.02Z" fill="none" stroke="#9a2ee0" stroke-width="1.1" stroke-linejoin="round"/>
<path d="M559.21 1000.69H564.41M561.81 1000.69V1004.59M559.21 1004.59H564.41" stroke="#22cc22" stroke-width="2.2" fill="none"/>
<path d="M561.81 999.53L564.50 1004.19L559.12 1004.19Z" fill="none" stroke="#22cc22" stroke-width="1.1" stroke-linejoin="round"/>
<path d="M565.83 1000.93H571.03M568.43 1000.93V1013.84M565.83 1013.84H571.03" stroke="#000000" stroke-width="2.2" fill="none"/>
<path d="M566.43 1005.51L570.43 1009.51M566.43 1009.51L570.43 1005.51M565.60 1007.51L571.26 1007.51M568.43 1004.68L568.43 1010.34" fill="none" stroke="#000000" stroke-width="1.1"/>
<path d="M572.45 922.77H577.65M575.05 922.77V942.74M572.45 942.74H577.65" stroke="#0000dd" stroke-width="2.2" fill="none"/>
<path d="M575.05 936.35L577.74 931.69L572.35 931.69Z" fill="none" stroke="#0000dd" stroke-width="1.1" stroke-linejoin="round"/>
<path d="M579.07 1005.32H584.27M581.67 1005.32V1017.98M579.07 1017.98H584.27" stroke="#ff1010" stroke-width="2.2" fill="none"/>
<circle cx="581.67" cy="1010.43" r="2.00" fill="none" stroke="#ff1010" stroke-width="1.1"/>
<path d="M585.68 1009.46H590.88M588.28 1009.46V1016.76M585.68 1016.76H590.88" stroke="#ff8410" stroke-width="2.2" fill="none"/>
<rect x="586.51" y="1011.34" width="3.54" height="3.54" fill="none" stroke="#ff8410" stroke-width="1.1"/>
<path d="M592.30 1007.02H597.50M594.90 1007.02V1009.46M592.30 1009.46H597.50" stroke="#9a2ee0" stroke-width="2.2" fill="none"/>
<path d="M592.40 1008.24L594.90 1005.73L597.41 1008.24L594.90 1010.75Z" fill="none" stroke="#9a2ee0" stroke-width="1.1" stroke-linejoin="round"/>
<path d="M598.92 1016.76H604.12M601.52 1016.76V1025.29M598.92 1025.29H604.12" stroke="#22cc22" stroke-width="2.2" fill="none"/>
<path d="M601.52 1017.79L604.21 1022.46L598.83 1022.46Z" fill="none" stroke="#22cc22" stroke-width="1.1" stroke-linejoin="round"/>
<path d="M605.54 981.70H610.74M608.14 981.70V996.55M605.54 996.55H610.74" stroke="#000000" stroke-width="2.2" fill="none"/>
<path d="M606.14 986.76L610.14 990.76M606.14 990.76L610.14 986.76M605.31 988.76L610.97 988.76M608.14 985.93L608.14 991.59" fill="none" stroke="#000000" stroke-width="1.1"/>
<path d="M612.16 879.18H617.36M614.76 879.18V901.34M612.16 901.34H617.36" stroke="#0000dd" stroke-width="2.2" fill="none"/>
<path d="M614.76 894.23L617.45 889.56L612.06 889.56Z" fill="none" stroke="#0000dd" stroke-width="1.1" stroke-linejoin="round"/>
<path d="M618.78 979.02H623.98M621.38 979.02V993.87M618.78 993.87H623.98" stroke="#ff1010" stroke-width="2.2" fill="none"/>
<circle cx="621.38" cy="986.33" r="2.00" fill="none" stroke="#ff1010" stroke-width="1.1"/>
<path d="M625.39 996.55H630.59M627.99 996.55V1008.48M625.39 1008.48H630.59" stroke="#ff8410" stroke-width="2.2" fill="none"/>
<rect x="626.22" y="1000.38" width="3.54" height="3.54" fill="none" stroke="#ff8410" stroke-width="1.1"/>
<path d="M632.01 1008.24H637.21M634.61 1008.24V1015.54M632.01 1015.54H637.21" stroke="#9a2ee0" stroke-width="2.2" fill="none"/>
<path d="M632.11 1012.38L634.61 1009.87L637.12 1012.38L634.61 1014.89Z" fill="none" stroke="#9a2ee0" stroke-width="1.1" stroke-linejoin="round"/>
<path d="M638.63 1030.15H643.83M641.23 1030.15V1037.22M638.63 1037.22H643.83" stroke="#22cc22" stroke-width="2.2" fill="none"/>
<path d="M641.23 1030.45L643.92 1035.12L638.54 1035.12Z" fill="none" stroke="#22cc22" stroke-width="1.1" stroke-linejoin="round"/>
<path d="M645.25 970.01H650.45M647.85 970.01V972.93M645.25 972.93H650.45" stroke="#000000" stroke-width="2.2" fill="none"/>
<path d="M645.85 969.47L649.85 973.47M645.85 973.47L649.85 969.47M645.02 971.47L650.68 971.47M647.85 968.64L647.85 974.30" fill="none" stroke="#000000" stroke-width="1.1"/>
<path d="M651.87 842.42H657.07M654.47 842.42V862.14M651.87 862.14H657.07" stroke="#0000dd" stroke-width="2.2" fill="none"/>
<path d="M654.47 855.27L657.16 850.60L651.77 850.60Z" fill="none" stroke="#0000dd" stroke-width="1.1" stroke-linejoin="round"/>
<path d="M658.49 961.73H663.69M661.09 961.73V971.96M658.49 971.96H663.69" stroke="#ff1010" stroke-width="2.2" fill="none"/>
<circle cx="661.09" cy="967.09" r="2.00" fill="none" stroke="#ff1010" stroke-width="1.1"/>
<path d="M665.10 976.59H670.30M667.70 976.59V993.87M665.10 993.87H670.30" stroke="#ff8410" stroke-width="2.2" fill="none"/>
<rect x="665.93" y="984.55" width="3.54" height="3.54" fill="none" stroke="#ff8410" stroke-width="1.1"/>
<path d="M671.72 1013.11H676.92M674.32 1013.11V1022.85M671.72 1022.85H676.92" stroke="#9a2ee0" stroke-width="2.2" fill="none"/>
<path d="M671.82 1018.22L674.32 1015.72L676.83 1018.22L674.32 1020.73Z" fill="none" stroke="#9a2ee0" stroke-width="1.1" stroke-linejoin="round"/>
<path d="M678.34 1035.27H683.54M680.94 1035.27V1045.01M678.34 1045.01H683.54" stroke="#22cc22" stroke-width="2.2" fill="none"/>
<path d="M680.94 1036.78L683.63 1041.45L678.25 1041.45Z" fill="none" stroke="#22cc22" stroke-width="1.1" stroke-linejoin="round"/>
<path d="M684.96 954.91H690.16M687.56 954.91V964.41M684.96 964.41H690.16" stroke="#000000" stroke-width="2.2" fill="none"/>
<path d="M685.56 958.03L689.56 962.03M685.56 962.03L689.56 958.03M684.73 960.03L690.39 960.03M687.56 957.20L687.56 962.86" fill="none" stroke="#000000" stroke-width="1.1"/>
<path d="M691.58 813.20H696.78M694.18 813.20V850.21M691.58 850.21H696.78" stroke="#0000dd" stroke-width="2.2" fill="none"/>
<path d="M694.18 836.27L696.87 831.61L691.48 831.61Z" fill="none" stroke="#0000dd" stroke-width="1.1" stroke-linejoin="round"/>
<path d="M698.20 952.24H703.40M700.80 952.24V961.73M698.20 961.73H703.40" stroke="#ff1010" stroke-width="2.2" fill="none"/>
<circle cx="700.80" cy="956.86" r="2.00" fill="none" stroke="#ff1010" stroke-width="1.1"/>
<path d="M704.81 959.30H710.01M707.41 959.30V974.39M704.81 974.39H710.01" stroke="#ff8410" stroke-width="2.2" fill="none"/>
<rect x="705.64" y="965.07" width="3.54" height="3.54" fill="none" stroke="#ff8410" stroke-width="1.1"/>
<path d="M711.43 1019.44H716.63M714.03 1019.44V1030.15M711.43 1030.15H716.63" stroke="#9a2ee0" stroke-width="2.2" fill="none"/>
<path d="M711.53 1025.53L714.03 1023.02L716.54 1025.53L714.03 1028.04Z" fill="none" stroke="#9a2ee0" stroke-width="1.1" stroke-linejoin="round"/>
<path d="M718.05 1035.03H723.25M720.65 1035.03V1044.77M718.05 1044.77H723.25" stroke="#22cc22" stroke-width="2.2" fill="none"/>
<path d="M720.65 1036.78L723.34 1041.45L717.96 1041.45Z" fill="none" stroke="#22cc22" stroke-width="1.1" stroke-linejoin="round"/>
<path d="M724.67 937.87H729.87M727.27 937.87V954.91M724.67 954.91H729.87" stroke="#000000" stroke-width="2.2" fill="none"/>
<path d="M725.27 943.42L729.27 947.42M725.27 947.42L729.27 943.42M724.44 945.42L730.10 945.42M727.27 942.59L727.27 948.25" fill="none" stroke="#000000" stroke-width="1.1"/>
<path d="M731.29 791.52H736.49M733.89 791.52V835.60M731.29 835.60H736.49" stroke="#0000dd" stroke-width="2.2" fill="none"/>
<path d="M733.89 816.31L736.58 811.64L731.19 811.64Z" fill="none" stroke="#0000dd" stroke-width="1.1" stroke-linejoin="round"/>
<path d="M737.91 948.10H743.11M740.51 948.10V957.59M737.91 957.59H743.11" stroke="#ff1010" stroke-width="2.2" fill="none"/>
<circle cx="740.51" cy="953.21" r="2.00" fill="none" stroke="#ff1010" stroke-width="1.1"/>
<path d="M744.52 961.73H749.72M747.12 961.73V971.47M744.52 971.47H749.72" stroke="#ff8410" stroke-width="2.2" fill="none"/>
<rect x="745.35" y="965.07" width="3.54" height="3.54" fill="none" stroke="#ff8410" stroke-width="1.1"/>
<path d="M751.14 1022.85H756.34M753.74 1022.85V1031.62M751.14 1031.62H756.34" stroke="#9a2ee0" stroke-width="2.2" fill="none"/>
<path d="M751.24 1027.23L753.74 1024.73L756.25 1027.23L753.74 1029.74Z" fill="none" stroke="#9a2ee0" stroke-width="1.1" stroke-linejoin="round"/>
<path d="M757.76 1017.49H762.96M760.36 1017.49V1030.64M757.76 1030.64H762.96" stroke="#22cc22" stroke-width="2.2" fill="none"/>
<path d="M760.36 1020.71L763.05 1025.38L757.67 1025.38Z" fill="none" stroke="#22cc22" stroke-width="1.1" stroke-linejoin="round"/>
<path d="M764.38 918.39H769.58M766.98 918.39V935.19M764.38 935.19H769.58" stroke="#000000" stroke-width="2.2" fill="none"/>
<path d="M764.98 923.94L768.98 927.94M764.98 927.94L768.98 923.94M764.15 925.94L769.81 925.94M766.98 923.11L766.98 928.77" fill="none" stroke="#000000" stroke-width="1.1"/>
<path d="M771.00 796.64H776.20M773.60 796.64V838.28M771.00 838.28H776.20" stroke="#0000dd" stroke-width="2.2" fill="none"/>
<path d="M773.60 821.42L776.29 816.75L770.90 816.75Z" fill="none" stroke="#0000dd" stroke-width="1.1" stroke-linejoin="round"/>
<path d="M777.62 974.15H782.82M780.22 974.15V984.13M777.62 984.13H782.82" stroke="#ff1010" stroke-width="2.2" fill="none"/>
<circle cx="780.22" cy="979.02" r="2.00" fill="none" stroke="#ff1010" stroke-width="1.1"/>
<path d="M784.23 996.55H789.43M786.83 996.55V1008.48M784.23 1008.48H789.43" stroke="#ff8410" stroke-width="2.2" fill="none"/>
<rect x="785.06" y="999.89" width="3.54" height="3.54" fill="none" stroke="#ff8410" stroke-width="1.1"/>
<path d="M790.85 1029.67H796.05M793.45 1029.67V1039.89M790.85 1039.89H796.05" stroke="#9a2ee0" stroke-width="2.2" fill="none"/>
<path d="M790.95 1034.78L793.45 1032.27L795.96 1034.78L793.45 1037.29Z" fill="none" stroke="#9a2ee0" stroke-width="1.1" stroke-linejoin="round"/>
<path d="M797.47 1009.94H802.67M800.07 1009.94V1018.95M797.47 1018.95H802.67" stroke="#22cc22" stroke-width="2.2" fill="none"/>
<path d="M800.07 1011.22L802.76 1015.88L797.38 1015.88Z" fill="none" stroke="#22cc22" stroke-width="1.1" stroke-linejoin="round"/>
<line x1="53.7" x2="839.0" y1="998.50" y2="998.50" stroke="#1a1a1a" stroke-width="1.3" stroke-dasharray="5.4 5"/>
<rect x="79.5" y="7.5" width="757.5" height="359.6" fill="none" stroke="#333" stroke-width="1.2"/>
<line x1="75.50" x2="79.5" y1="351.30" y2="351.30" stroke="#222" stroke-width="1.4"/>
<text x="72.20" y="355.50" text-anchor="end" class="t">0</text>
<line x1="75.50" x2="79.5" y1="295.23" y2="295.23" stroke="#222" stroke-width="1.4"/>
<text x="72.20" y="299.43" text-anchor="end" class="t">500000</text>
<line x1="75.50" x2="79.5" y1="239.17" y2="239.17" stroke="#222" stroke-width="1.4"/>
<text x="72.20" y="243.37" text-anchor="end" class="t">1000000</text>
<line x1="75.50" x2="79.5" y1="183.10" y2="183.10" stroke="#222" stroke-width="1.4"/>
<text x="72.20" y="187.30" text-anchor="end" class="t">1500000</text>
<line x1="75.50" x2="79.5" y1="127.03" y2="127.03" stroke="#222" stroke-width="1.4"/>
<text x="72.20" y="131.23" text-anchor="end" class="t">2000000</text>
<line x1="75.50" x2="79.5" y1="70.97" y2="70.97" stroke="#222" stroke-width="1.4"/>
<text x="72.20" y="75.17" text-anchor="end" class="t">2500000</text>
<line x1="75.50" x2="79.5" y1="14.90" y2="14.90" stroke="#222" stroke-width="1.4"/>
<text x="72.20" y="19.10" text-anchor="end" class="t">3000000</text>
<line x1="132.65" x2="132.65" y1="367.1" y2="371.10" stroke="#222" stroke-width="1.4"/>
<text x="132.65" y="384.10" text-anchor="middle" class="t">0-4</text>
<line x1="170.94" x2="170.94" y1="367.1" y2="371.10" stroke="#222" stroke-width="1.4"/>
<text x="170.94" y="384.10" text-anchor="middle" class="t">5-9</text>
<line x1="209.22" x2="209.22" y1="367.1" y2="371.10" stroke="#222" stroke-width="1.4"/>
<text x="209.22" y="384.10" text-anchor="middle" class="t">10-14</text>
<line x1="247.51" x2="247.51" y1="367.1" y2="371.10" stroke="#222" stroke-width="1.4"/>
<text x="247.51" y="384.10" text-anchor="middle" class="t">15-19</text>
<line x1="285.81" x2="285.81" y1="367.1" y2="371.10" stroke="#222" stroke-width="1.4"/>
<text x="285.81" y="384.10" text-anchor="middle" class="t">20-24</text>
<line x1="324.10" x2="324.10" y1="367.1" y2="371.10" stroke="#222" stroke-width="1.4"/>
<text x="324.10" y="384.10" text-anchor="middle" class="t">25-29</text>
<line x1="362.38" x2="362.38" y1="367.1" y2="371.10" stroke="#222" stroke-width="1.4"/>
<text x="362.38" y="384.10" text-anchor="middle" class="t">30-34</text>
<line x1="400.68" x2="400.68" y1="367.1" y2="371.10" stroke="#222" stroke-width="1.4"/>
<text x="400.68" y="384.10" text-anchor="middle" class="t">35-39</text>
<line x1="438.96" x2="438.96" y1="367.1" y2="371.10" stroke="#222" stroke-width="1.4"/>
<text x="438.96" y="384.10" text-anchor="middle" class="t">40-44</text>
<line x1="477.25" x2="477.25" y1="367.1" y2="371.10" stroke="#222" stroke-width="1.4"/>
<text x="477.25" y="384.10" text-anchor="middle" class="t">45-49</text>
<line x1="515.55" x2="515.55" y1="367.1" y2="371.10" stroke="#222" stroke-width="1.4"/>
<text x="515.55" y="384.10" text-anchor="middle" class="t">50-54</text>
<line x1="553.84" x2="553.84" y1="367.1" y2="371.10" stroke="#222" stroke-width="1.4"/>
<text x="553.84" y="384.10" text-anchor="middle" class="t">55-59</text>
<line x1="592.12" x2="592.12" y1="367.1" y2="371.10" stroke="#222" stroke-width="1.4"/>
<text x="592.12" y="384.10" text-anchor="middle" class="t">60-64</text>
<line x1="630.41" x2="630.41" y1="367.1" y2="371.10" stroke="#222" stroke-width="1.4"/>
<text x="630.41" y="384.10" text-anchor="middle" class="t">65-69</text>
<line x1="668.71" x2="668.71" y1="367.1" y2="371.10" stroke="#222" stroke-width="1.4"/>
<text x="668.71" y="384.10" text-anchor="middle" class="t">70-74</text>
<line x1="707.00" x2="707.00" y1="367.1" y2="371.10" stroke="#222" stroke-width="1.4"/>
<text x="707.00" y="384.10" text-anchor="middle" class="t">75-79</text>
<line x1="745.28" x2="745.28" y1="367.1" y2="371.10" stroke="#222" stroke-width="1.4"/>
<text x="745.28" y="384.10" text-anchor="middle" class="t">80-84</text>
<line x1="783.57" x2="783.57" y1="367.1" y2="371.10" stroke="#222" stroke-width="1.4"/>
<text x="783.57" y="384.10" text-anchor="middle" class="t">85+</text>
<text transform="translate(19.6,187.30) rotate(-90)" text-anchor="middle" class="tt">Prevalent cases</text>
<rect x="59.5" y="393.8" width="777.5" height="359.7" fill="none" stroke="#333" stroke-width="1.2"/>
<line x1="55.50" x2="59.5" y1="724.04" y2="724.04" stroke="#222" stroke-width="1.4"/>
<text x="52.20" y="728.24" text-anchor="end" class="t">600</text>
<line x1="55.50" x2="59.5" y1="681.50" y2="681.50" stroke="#222" stroke-width="1.4"/>
<text x="52.20" y="685.70" text-anchor="end" class="t">800</text>
<line x1="55.50" x2="59.5" y1="638.97" y2="638.97" stroke="#222" stroke-width="1.4"/>
<text x="52.20" y="643.17" text-anchor="end" class="t">1000</text>
<line x1="55.50" x2="59.5" y1="596.44" y2="596.44" stroke="#222" stroke-width="1.4"/>
<text x="52.20" y="600.64" text-anchor="end" class="t">1200</text>
<line x1="55.50" x2="59.5" y1="553.90" y2="553.90" stroke="#222" stroke-width="1.4"/>
<text x="52.20" y="558.10" text-anchor="end" class="t">1400</text>
<line x1="55.50" x2="59.5" y1="511.37" y2="511.37" stroke="#222" stroke-width="1.4"/>
<text x="52.20" y="515.57" text-anchor="end" class="t">1600</text>
<line x1="55.50" x2="59.5" y1="468.83" y2="468.83" stroke="#222" stroke-width="1.4"/>
<text x="52.20" y="473.03" text-anchor="end" class="t">1800</text>
<line x1="55.50" x2="59.5" y1="426.30" y2="426.30" stroke="#222" stroke-width="1.4"/>
<text x="52.20" y="430.50" text-anchor="end" class="t">2000</text>
<line x1="114.05" x2="114.05" y1="753.5" y2="757.50" stroke="#222" stroke-width="1.4"/>
<text x="114.05" y="770.50" text-anchor="middle" class="t">0-4</text>
<line x1="153.34" x2="153.34" y1="753.5" y2="757.50" stroke="#222" stroke-width="1.4"/>
<text x="153.34" y="770.50" text-anchor="middle" class="t">5-9</text>
<line x1="192.62" x2="192.62" y1="753.5" y2="757.50" stroke="#222" stroke-width="1.4"/>
<text x="192.62" y="770.50" text-anchor="middle" class="t">10-14</text>
<line x1="231.91" x2="231.91" y1="753.5" y2="757.50" stroke="#222" stroke-width="1.4"/>
<text x="231.91" y="770.50" text-anchor="middle" class="t">15-19</text>
<line x1="271.21" x2="271.21" y1="753.5" y2="757.50" stroke="#222" stroke-width="1.4"/>
<text x="271.21" y="770.50" text-anchor="middle" class="t">20-24</text>
<line x1="310.50" x2="310.50" y1="753.5" y2="757.50" stroke="#222" stroke-width="1.4"/>
<text x="310.50" y="770.50" text-anchor="middle" class="t">25-29</text>
<line x1="349.78" x2="349.78" y1="753.5" y2="757.50" stroke="#222" stroke-width="1.4"/>
<text x="349.78" y="770.50" text-anchor="middle" class="t">30-34</text>
<line x1="389.08" x2="389.08" y1="753.5" y2="757.50" stroke="#222" stroke-width="1.4"/>
<text x="389.08" y="770.50" text-anchor="middle" class="t">35-39</text>
<line x1="428.37" x2="428.37" y1="753.5" y2="757.50" stroke="#222" stroke-width="1.4"/>
<text x="428.37" y="770.50" text-anchor="middle" class="t">40-44</text>
<line x1="467.65" x2="467.65" y1="753.5" y2="757.50" stroke="#222" stroke-width="1.4"/>
<text x="467.65" y="770.50" text-anchor="middle" class="t">45-49</text>
<line x1="506.95" x2="506.95" y1="753.5" y2="757.50" stroke="#222" stroke-width="1.4"/>
<text x="506.95" y="770.50" text-anchor="middle" class="t">50-54</text>
<line x1="546.24" x2="546.24" y1="753.5" y2="757.50" stroke="#222" stroke-width="1.4"/>
<text x="546.24" y="770.50" text-anchor="middle" class="t">55-59</text>
<line x1="585.52" x2="585.52" y1="753.5" y2="757.50" stroke="#222" stroke-width="1.4"/>
<text x="585.52" y="770.50" text-anchor="middle" class="t">60-64</text>
<line x1="624.81" x2="624.81" y1="753.5" y2="757.50" stroke="#222" stroke-width="1.4"/>
<text x="624.81" y="770.50" text-anchor="middle" class="t">65-69</text>
<line x1="664.11" x2="664.11" y1="753.5" y2="757.50" stroke="#222" stroke-width="1.4"/>
<text x="664.11" y="770.50" text-anchor="middle" class="t">70-74</text>
<line x1="703.39" x2="703.39" y1="753.5" y2="757.50" stroke="#222" stroke-width="1.4"/>
<text x="703.39" y="770.50" text-anchor="middle" class="t">75-79</text>
<line x1="742.68" x2="742.68" y1="753.5" y2="757.50" stroke="#222" stroke-width="1.4"/>
<text x="742.68" y="770.50" text-anchor="middle" class="t">80-84</text>
<line x1="781.97" x2="781.97" y1="753.5" y2="757.50" stroke="#222" stroke-width="1.4"/>
<text x="781.97" y="770.50" text-anchor="middle" class="t">85+</text>
<text transform="translate(19.6,573.65) rotate(-90)" text-anchor="middle" class="tt">Prevalence rate per 100 000</text>
<rect x="53.7" y="779.2" width="785.3" height="277.5999999999999" fill="none" stroke="#333" stroke-width="1.2"/>
<line x1="49.70" x2="53.7" y1="1047.20" y2="1047.20" stroke="#222" stroke-width="1.4"/>
<text x="46.40" y="1051.40" text-anchor="end" class="t">-0.2</text>
<line x1="49.70" x2="53.7" y1="1022.85" y2="1022.85" stroke="#222" stroke-width="1.4"/>
<text x="46.40" y="1027.05" text-anchor="end" class="t">-0.1</text>
<line x1="49.70" x2="53.7" y1="998.50" y2="998.50" stroke="#222" stroke-width="1.4"/>
<text x="46.40" y="1002.70" text-anchor="end" class="t">0.0</text>
<line x1="49.70" x2="53.7" y1="974.15" y2="974.15" stroke="#222" stroke-width="1.4"/>
<text x="46.40" y="978.35" text-anchor="end" class="t">0.1</text>
<line x1="49.70" x2="53.7" y1="949.80" y2="949.80" stroke="#222" stroke-width="1.4"/>
<text x="46.40" y="954.00" text-anchor="end" class="t">0.2</text>
<line x1="49.70" x2="53.7" y1="925.45" y2="925.45" stroke="#222" stroke-width="1.4"/>
<text x="46.40" y="929.65" text-anchor="end" class="t">0.3</text>
<line x1="49.70" x2="53.7" y1="901.10" y2="901.10" stroke="#222" stroke-width="1.4"/>
<text x="46.40" y="905.30" text-anchor="end" class="t">0.4</text>
<line x1="49.70" x2="53.7" y1="876.75" y2="876.75" stroke="#222" stroke-width="1.4"/>
<text x="46.40" y="880.95" text-anchor="end" class="t">0.5</text>
<line x1="49.70" x2="53.7" y1="852.40" y2="852.40" stroke="#222" stroke-width="1.4"/>
<text x="46.40" y="856.60" text-anchor="end" class="t">0.6</text>
<line x1="49.70" x2="53.7" y1="828.05" y2="828.05" stroke="#222" stroke-width="1.4"/>
<text x="46.40" y="832.25" text-anchor="end" class="t">0.7</text>
<line x1="49.70" x2="53.7" y1="803.70" y2="803.70" stroke="#222" stroke-width="1.4"/>
<text x="46.40" y="807.90" text-anchor="end" class="t">0.8</text>
<line x1="49.70" x2="53.7" y1="779.35" y2="779.35" stroke="#222" stroke-width="1.4"/>
<text x="46.40" y="783.55" text-anchor="end" class="t">0.9</text>
<line x1="108.45" x2="108.45" y1="1056.8" y2="1060.80" stroke="#222" stroke-width="1.4"/>
<text x="108.45" y="1073.80" text-anchor="middle" class="t">0-4</text>
<line x1="148.16" x2="148.16" y1="1056.8" y2="1060.80" stroke="#222" stroke-width="1.4"/>
<text x="148.16" y="1073.80" text-anchor="middle" class="t">5-9</text>
<line x1="187.88" x2="187.88" y1="1056.8" y2="1060.80" stroke="#222" stroke-width="1.4"/>
<text x="187.88" y="1073.80" text-anchor="middle" class="t">10-14</text>
<line x1="227.59" x2="227.59" y1="1056.8" y2="1060.80" stroke="#222" stroke-width="1.4"/>
<text x="227.59" y="1073.80" text-anchor="middle" class="t">15-19</text>
<line x1="267.29" x2="267.29" y1="1056.8" y2="1060.80" stroke="#222" stroke-width="1.4"/>
<text x="267.29" y="1073.80" text-anchor="middle" class="t">20-24</text>
<line x1="307.00" x2="307.00" y1="1056.8" y2="1060.80" stroke="#222" stroke-width="1.4"/>
<text x="307.00" y="1073.80" text-anchor="middle" class="t">25-29</text>
<line x1="346.72" x2="346.72" y1="1056.8" y2="1060.80" stroke="#222" stroke-width="1.4"/>
<text x="346.72" y="1073.80" text-anchor="middle" class="t">30-34</text>
<line x1="386.42" x2="386.42" y1="1056.8" y2="1060.80" stroke="#222" stroke-width="1.4"/>
<text x="386.42" y="1073.80" text-anchor="middle" class="t">35-39</text>
<line x1="426.13" x2="426.13" y1="1056.8" y2="1060.80" stroke="#222" stroke-width="1.4"/>
<text x="426.13" y="1073.80" text-anchor="middle" class="t">40-44</text>
<line x1="465.85" x2="465.85" y1="1056.8" y2="1060.80" stroke="#222" stroke-width="1.4"/>
<text x="465.85" y="1073.80" text-anchor="middle" class="t">45-49</text>
<line x1="505.55" x2="505.55" y1="1056.8" y2="1060.80" stroke="#222" stroke-width="1.4"/>
<text x="505.55" y="1073.80" text-anchor="middle" class="t">50-54</text>
<line x1="545.26" x2="545.26" y1="1056.8" y2="1060.80" stroke="#222" stroke-width="1.4"/>
<text x="545.26" y="1073.80" text-anchor="middle" class="t">55-59</text>
<line x1="584.98" x2="584.98" y1="1056.8" y2="1060.80" stroke="#222" stroke-width="1.4"/>
<text x="584.98" y="1073.80" text-anchor="middle" class="t">60-64</text>
<line x1="624.69" x2="624.69" y1="1056.8" y2="1060.80" stroke="#222" stroke-width="1.4"/>
<text x="624.69" y="1073.80" text-anchor="middle" class="t">65-69</text>
<line x1="664.39" x2="664.39" y1="1056.8" y2="1060.80" stroke="#222" stroke-width="1.4"/>
<text x="664.39" y="1073.80" text-anchor="middle" class="t">70-74</text>
<line x1="704.11" x2="704.11" y1="1056.8" y2="1060.80" stroke="#222" stroke-width="1.4"/>
<text x="704.11" y="1073.80" text-anchor="middle" class="t">75-79</text>
<line x1="743.82" x2="743.82" y1="1056.8" y2="1060.80" stroke="#222" stroke-width="1.4"/>
<text x="743.82" y="1073.80" text-anchor="middle" class="t">80-84</text>
<line x1="783.53" x2="783.53" y1="1056.8" y2="1060.80" stroke="#222" stroke-width="1.4"/>
<text x="783.53" y="1073.80" text-anchor="middle" class="t">85+</text>
<text transform="translate(19.6,918.00) rotate(-90)" text-anchor="middle" class="tt">AAPC of prevalence rate (95% CI)</text>
<text x="446.35" y="1089.8" text-anchor="middle" class="tt">Age</text>
<text x="1.5" y="27" class="tag">A</text>
<text x="1.5" y="412.5" class="tag">B</text>
<text x="1.5" y="787.5" class="tag">C</text>
<text x="858.6" y="65.4" class="tt">SDI regions</text>
<rect x="859.8" y="75.0" width="17.8" height="106.32" fill="#f2f2f2"/>
<path d="M866.50 81.66L870.90 86.06M866.50 86.06L870.90 81.66M865.59 83.86L871.81 83.86M868.70 80.75L868.70 86.97" fill="none" stroke="#1a1a1a" stroke-width="1.0"/>
<text x="885.6" y="88.06" class="lt">Global</text>
<path d="M868.70 105.00L871.66 99.87L865.74 99.87Z" fill="none" stroke="#1a1a1a" stroke-width="1.0" stroke-linejoin="round"/>
<text x="885.6" y="105.78" class="lt">High SDI</text>
<circle cx="868.70" cy="119.30" r="2.20" fill="none" stroke="#1a1a1a" stroke-width="1.0"/>
<text x="885.6" y="123.50" class="lt">High-middle SDI</text>
<rect x="866.75" y="135.07" width="3.90" height="3.90" fill="none" stroke="#1a1a1a" stroke-width="1.0"/>
<text x="885.6" y="141.22" class="lt">Middle SDI</text>
<path d="M865.94 154.74L868.70 151.98L871.46 154.74L868.70 157.50Z" fill="none" stroke="#1a1a1a" stroke-width="1.0" stroke-linejoin="round"/>
<text x="885.6" y="158.94" class="lt">Low-middle SDI</text>
<path d="M868.70 169.04L871.66 174.17L865.74 174.17Z" fill="none" stroke="#1a1a1a" stroke-width="1.0" stroke-linejoin="round"/>
<text x="885.6" y="176.66" class="lt">Low SDI</text>
<text x="859.1" y="225.6" class="tt">Year</text>
<defs><linearGradient id="gA" x1="0" y1="1" x2="0" y2="0"><stop offset="0.0000" stop-color="#00f596"/><stop offset="0.0345" stop-color="#3ef69a"/><stop offset="0.0690" stop-color="#58f79e"/><stop offset="0.1034" stop-color="#6df7a1"/><stop offset="0.1379" stop-color="#7ef8a5"/><stop offset="0.1724" stop-color="#8df9a9"/><stop offset="0.2069" stop-color="#9cf9ad"/><stop offset="0.2414" stop-color="#a9f9b0"/><stop offset="0.2759" stop-color="#b6fab4"/><stop offset="0.3103" stop-color="#c2fab8"/><stop offset="0.3448" stop-color="#cefabc"/><stop offset="0.3793" stop-color="#d9fac0"/><stop offset="0.4138" stop-color="#e4fac3"/><stop offset="0.4483" stop-color="#effac7"/><stop offset="0.4828" stop-color="#fafacb"/><stop offset="0.5172" stop-color="#fff4cb"/><stop offset="0.5517" stop-color="#ffe8c7"/><stop offset="0.5862" stop-color="#ffdcc3"/><stop offset="0.6207" stop-color="#ffd0bf"/><stop offset="0.6552" stop-color="#ffc4bb"/><stop offset="0.6897" stop-color="#ffb7b7"/><stop offset="0.7241" stop-color="#ffaab3"/><stop offset="0.7586" stop-color="#ff9daf"/><stop offset="0.7931" stop-color="#ff90ab"/><stop offset="0.8276" stop-color="#ff82a7"/><stop offset="0.8621" stop-color="#ff73a3"/><stop offset="0.8966" stop-color="#ff639f"/><stop offset="0.9310" stop-color="#ff509b"/><stop offset="0.9655" stop-color="#ff3a97"/><stop offset="1.0000" stop-color="#ff1493"/></linearGradient></defs>
<rect x="860.1" y="233.5" width="17.7" height="88.30" fill="url(#gA)"/>
<line x1="860.1" x2="863.6" y1="291.35" y2="291.35" stroke="#fff" stroke-width="1"/>
<line x1="874.3000000000001" x2="877.8000000000001" y1="291.35" y2="291.35" stroke="#fff" stroke-width="1"/>
<line x1="860.1" x2="863.6" y1="260.90" y2="260.90" stroke="#fff" stroke-width="1"/>
<line x1="874.3000000000001" x2="877.8000000000001" y1="260.90" y2="260.90" stroke="#fff" stroke-width="1"/>
<text x="885.1" y="326.00" class="lt">1990</text>
<text x="885.1" y="295.55" class="lt">2000</text>
<text x="885.1" y="265.10" class="lt">2010</text>
<text x="885.1" y="237.70" class="lt">2019</text>
<text x="858.6" y="451.8" class="tt">SDI regions</text>
<rect x="859.8" y="461.0" width="17.8" height="106.68" fill="#f2f2f2"/>
<path d="M865.70 466.89L871.70 472.89M865.70 472.89L871.70 466.89M864.46 469.89L872.94 469.89M868.70 465.65L868.70 474.13" fill="none" stroke="#1a1a1a" stroke-width="1.05"/>
<text x="885.6" y="474.09" class="lt">Global</text>
<path d="M868.70 492.34L872.74 485.34L864.66 485.34Z" fill="none" stroke="#1a1a1a" stroke-width="1.05" stroke-linejoin="round"/>
<text x="885.6" y="491.87" class="lt">High SDI</text>
<circle cx="868.70" cy="505.45" r="3.00" fill="none" stroke="#1a1a1a" stroke-width="1.05"/>
<text x="885.6" y="509.65" class="lt">High-middle SDI</text>
<rect x="866.04" y="520.57" width="5.32" height="5.32" fill="none" stroke="#1a1a1a" stroke-width="1.05"/>
<text x="885.6" y="527.43" class="lt">Middle SDI</text>
<path d="M864.94 541.01L868.70 537.25L872.46 541.01L868.70 544.77Z" fill="none" stroke="#1a1a1a" stroke-width="1.05" stroke-linejoin="round"/>
<text x="885.6" y="545.21" class="lt">Low-middle SDI</text>
<path d="M868.70 554.12L872.74 561.12L864.66 561.12Z" fill="none" stroke="#1a1a1a" stroke-width="1.05" stroke-linejoin="round"/>
<text x="885.6" y="562.99" class="lt">Low SDI</text>
<text x="859.1" y="611.3" class="tt">Year</text>
<defs><linearGradient id="gB" x1="0" y1="1" x2="0" y2="0"><stop offset="0.0000" stop-color="#00f596"/><stop offset="0.0345" stop-color="#3ef69a"/><stop offset="0.0690" stop-color="#58f79e"/><stop offset="0.1034" stop-color="#6df7a1"/><stop offset="0.1379" stop-color="#7ef8a5"/><stop offset="0.1724" stop-color="#8df9a9"/><stop offset="0.2069" stop-color="#9cf9ad"/><stop offset="0.2414" stop-color="#a9f9b0"/><stop offset="0.2759" stop-color="#b6fab4"/><stop offset="0.3103" stop-color="#c2fab8"/><stop offset="0.3448" stop-color="#cefabc"/><stop offset="0.3793" stop-color="#d9fac0"/><stop offset="0.4138" stop-color="#e4fac3"/><stop offset="0.4483" stop-color="#effac7"/><stop offset="0.4828" stop-color="#fafacb"/><stop offset="0.5172" stop-color="#fff4cb"/><stop offset="0.5517" stop-color="#ffe8c7"/><stop offset="0.5862" stop-color="#ffdcc3"/><stop offset="0.6207" stop-color="#ffd0bf"/><stop offset="0.6552" stop-color="#ffc4bb"/><stop offset="0.6897" stop-color="#ffb7b7"/><stop offset="0.7241" stop-color="#ffaab3"/><stop offset="0.7586" stop-color="#ff9daf"/><stop offset="0.7931" stop-color="#ff90ab"/><stop offset="0.8276" stop-color="#ff82a7"/><stop offset="0.8621" stop-color="#ff73a3"/><stop offset="0.8966" stop-color="#ff639f"/><stop offset="0.9310" stop-color="#ff509b"/><stop offset="0.9655" stop-color="#ff3a97"/><stop offset="1.0000" stop-color="#ff1493"/></linearGradient></defs>
<rect x="860.1" y="619.9" width="17.7" height="88.00" fill="url(#gB)"/>
<line x1="860.1" x2="863.6" y1="677.56" y2="677.56" stroke="#fff" stroke-width="1"/>
<line x1="874.3000000000001" x2="877.8000000000001" y1="677.56" y2="677.56" stroke="#fff" stroke-width="1"/>
<line x1="860.1" x2="863.6" y1="647.21" y2="647.21" stroke="#fff" stroke-width="1"/>
<line x1="874.3000000000001" x2="877.8000000000001" y1="647.21" y2="647.21" stroke="#fff" stroke-width="1"/>
<text x="885.1" y="712.10" class="lt">1990</text>
<text x="885.1" y="681.76" class="lt">2000</text>
<text x="885.1" y="651.41" class="lt">2010</text>
<text x="885.1" y="624.10" class="lt">2019</text>
<text x="860.7" y="872.8" class="tt">SDI region</text>
<rect x="861.9" y="882.0" width="15.6" height="94.50" fill="#f2f2f2"/>
<line x1="863.30" x2="876.10" y1="889.88" y2="889.88" stroke="#000000" stroke-width="2.0"/>
<path d="M867.80 887.98L871.60 891.77M867.80 891.77L871.60 887.98M867.01 889.88L872.39 889.88M869.70 887.19L869.70 892.56" fill="none" stroke="#000000" stroke-width="1.1"/>
<text x="885.6" y="894.08" class="lt">Global</text>
<line x1="863.30" x2="876.10" y1="905.62" y2="905.62" stroke="#0000dd" stroke-width="2.0"/>
<path d="M869.70 908.58L872.26 904.15L867.14 904.15Z" fill="none" stroke="#0000dd" stroke-width="1.1" stroke-linejoin="round"/>
<text x="885.6" y="909.83" class="lt">High SDI</text>
<line x1="863.30" x2="876.10" y1="921.38" y2="921.38" stroke="#ff1010" stroke-width="2.0"/>
<circle cx="869.70" cy="921.38" r="1.90" fill="none" stroke="#ff1010" stroke-width="1.1"/>
<text x="885.6" y="925.58" class="lt">High-middle SDI</text>
<line x1="863.30" x2="876.10" y1="937.12" y2="937.12" stroke="#ff8410" stroke-width="2.0"/>
<rect x="868.02" y="935.44" width="3.37" height="3.37" fill="none" stroke="#ff8410" stroke-width="1.1"/>
<text x="885.6" y="941.33" class="lt">Middle SDI</text>
<line x1="863.30" x2="876.10" y1="952.88" y2="952.88" stroke="#9a2ee0" stroke-width="2.0"/>
<path d="M867.32 952.88L869.70 950.49L872.08 952.88L869.70 955.26Z" fill="none" stroke="#9a2ee0" stroke-width="1.1" stroke-linejoin="round"/>
<text x="885.6" y="957.08" class="lt">Low-middle SDI</text>
<line x1="863.30" x2="876.10" y1="968.62" y2="968.62" stroke="#22cc22" stroke-width="2.0"/>
<path d="M869.70 965.67L872.26 970.10L867.14 970.10Z" fill="none" stroke="#22cc22" stroke-width="1.1" stroke-linejoin="round"/>
<text x="885.6" y="972.83" class="lt">Low SDI</text>
</svg>
</body></html>
